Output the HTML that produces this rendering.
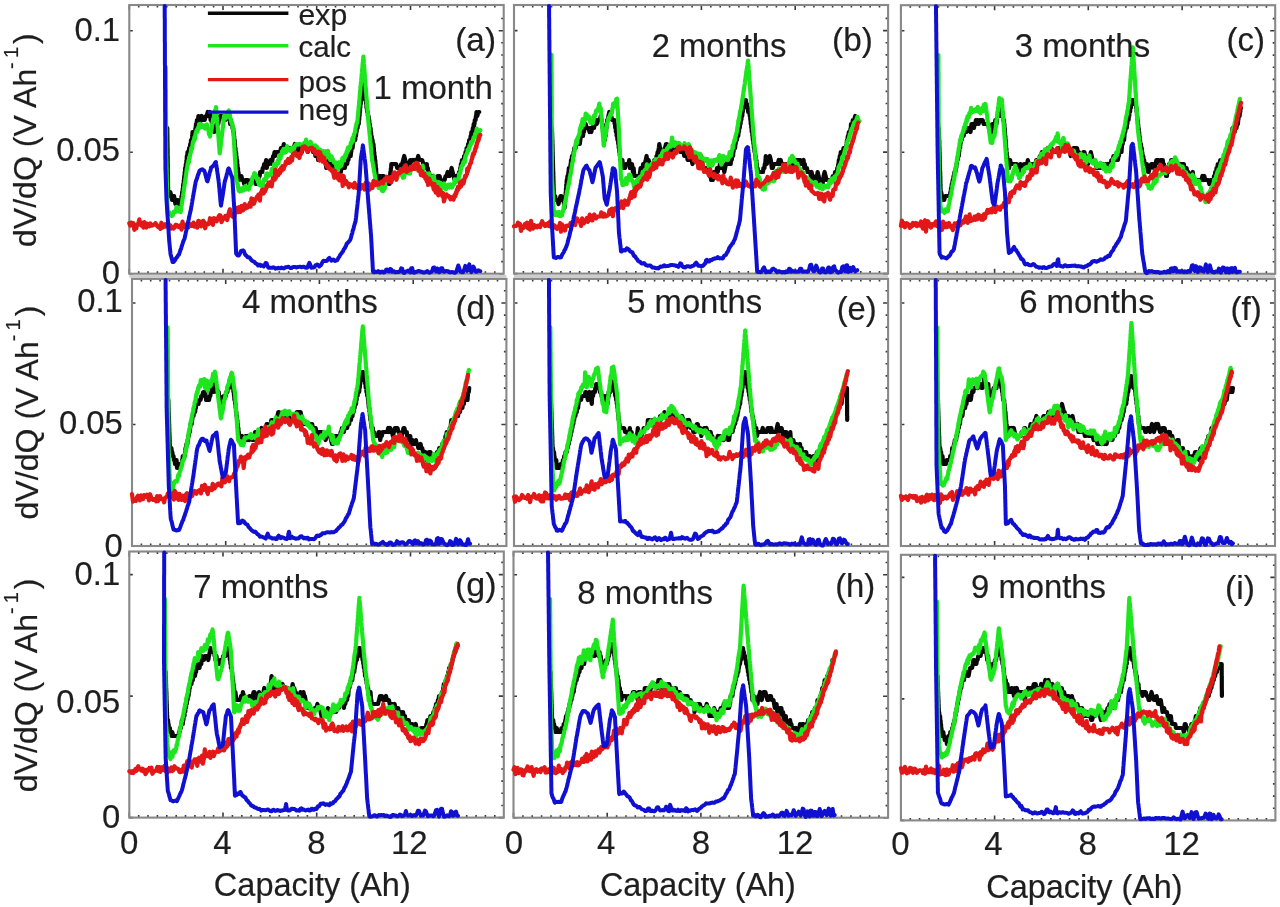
<!DOCTYPE html><html><head><meta charset="utf-8"><style>html,body{margin:0;padding:0;background:#fff;}svg{display:block;filter:blur(0.7px);} text{font-family:"Liberation Sans",sans-serif;stroke:#1e1e1e;stroke-width:0.2px;}</style></head><body><svg width="1280" height="907" viewBox="0 0 1280 907"><rect width="1280" height="907" fill="#ffffff"/>
<rect x="129.3" y="275.1" width="377.1" height="2.6" fill="#cbcbcb"/>
<rect x="514.0" y="275.1" width="374.1" height="2.6" fill="#cbcbcb"/>
<rect x="900.9" y="275.1" width="374.3" height="2.6" fill="#cbcbcb"/>
<path d="M129.3 273.7v-5M129.3 5.0v5M138.7 273.7v-2.5M138.7 5.0v2.5M148.0 273.7v-2.5M148.0 5.0v2.5M157.4 273.7v-2.5M157.4 5.0v2.5M166.8 273.7v-2.5M166.8 5.0v2.5M176.2 273.7v-2.5M176.2 5.0v2.5M185.5 273.7v-2.5M185.5 5.0v2.5M194.9 273.7v-2.5M194.9 5.0v2.5M204.3 273.7v-2.5M204.3 5.0v2.5M213.6 273.7v-2.5M213.6 5.0v2.5M223.0 273.7v-5M223.0 5.0v5M232.4 273.7v-2.5M232.4 5.0v2.5M241.8 273.7v-2.5M241.8 5.0v2.5M251.1 273.7v-2.5M251.1 5.0v2.5M260.5 273.7v-2.5M260.5 5.0v2.5M269.9 273.7v-2.5M269.9 5.0v2.5M279.3 273.7v-2.5M279.3 5.0v2.5M288.6 273.7v-2.5M288.6 5.0v2.5M298.0 273.7v-2.5M298.0 5.0v2.5M307.4 273.7v-2.5M307.4 5.0v2.5M316.7 273.7v-5M316.7 5.0v5M326.1 273.7v-2.5M326.1 5.0v2.5M335.5 273.7v-2.5M335.5 5.0v2.5M344.9 273.7v-2.5M344.9 5.0v2.5M354.2 273.7v-2.5M354.2 5.0v2.5M363.6 273.7v-2.5M363.6 5.0v2.5M373.0 273.7v-2.5M373.0 5.0v2.5M382.3 273.7v-2.5M382.3 5.0v2.5M391.7 273.7v-2.5M391.7 5.0v2.5M401.1 273.7v-2.5M401.1 5.0v2.5M410.5 273.7v-5M410.5 5.0v5M419.8 273.7v-2.5M419.8 5.0v2.5M429.2 273.7v-2.5M429.2 5.0v2.5M438.6 273.7v-2.5M438.6 5.0v2.5M447.9 273.7v-2.5M447.9 5.0v2.5M457.3 273.7v-2.5M457.3 5.0v2.5M466.7 273.7v-2.5M466.7 5.0v2.5M476.1 273.7v-2.5M476.1 5.0v2.5M485.4 273.7v-2.5M485.4 5.0v2.5M494.8 273.7v-2.5M494.8 5.0v2.5M129.3 273.7h3.5M503.7 273.7h-5M503.7 261.6h-2.5M503.7 249.4h-2.5M503.7 237.2h-2.5M503.7 225.1h-2.5M503.7 212.9h-2.5M503.7 200.8h-2.5M503.7 188.6h-2.5M503.7 176.5h-2.5M503.7 164.3h-2.5M129.3 152.2h3.5M503.7 152.2h-5M503.7 140.1h-2.5M503.7 127.9h-2.5M503.7 115.8h-2.5M503.7 103.6h-2.5M503.7 91.4h-2.5M503.7 79.3h-2.5M503.7 67.1h-2.5M503.7 55.0h-2.5M503.7 42.8h-2.5M129.3 30.7h3.5M503.7 30.7h-5M503.7 18.5h-2.5" stroke="#3a3a3a" stroke-width="1.6" fill="none"/>
<rect x="129.3" y="5.0" width="374.4" height="268.7" fill="none" stroke="#888888" stroke-width="2.1"/>
<path d="M514.0 273.6v-5M514.0 5.0v5M523.4 273.6v-2.5M523.4 5.0v2.5M532.7 273.6v-2.5M532.7 5.0v2.5M542.1 273.6v-2.5M542.1 5.0v2.5M551.5 273.6v-2.5M551.5 5.0v2.5M560.9 273.6v-2.5M560.9 5.0v2.5M570.2 273.6v-2.5M570.2 5.0v2.5M579.6 273.6v-2.5M579.6 5.0v2.5M589.0 273.6v-2.5M589.0 5.0v2.5M598.3 273.6v-2.5M598.3 5.0v2.5M607.7 273.6v-5M607.7 5.0v5M617.1 273.6v-2.5M617.1 5.0v2.5M626.5 273.6v-2.5M626.5 5.0v2.5M635.8 273.6v-2.5M635.8 5.0v2.5M645.2 273.6v-2.5M645.2 5.0v2.5M654.6 273.6v-2.5M654.6 5.0v2.5M664.0 273.6v-2.5M664.0 5.0v2.5M673.3 273.6v-2.5M673.3 5.0v2.5M682.7 273.6v-2.5M682.7 5.0v2.5M692.1 273.6v-2.5M692.1 5.0v2.5M701.4 273.6v-5M701.4 5.0v5M710.8 273.6v-2.5M710.8 5.0v2.5M720.2 273.6v-2.5M720.2 5.0v2.5M729.6 273.6v-2.5M729.6 5.0v2.5M738.9 273.6v-2.5M738.9 5.0v2.5M748.3 273.6v-2.5M748.3 5.0v2.5M757.7 273.6v-2.5M757.7 5.0v2.5M767.0 273.6v-2.5M767.0 5.0v2.5M776.4 273.6v-2.5M776.4 5.0v2.5M785.8 273.6v-2.5M785.8 5.0v2.5M795.2 273.6v-5M795.2 5.0v5M804.5 273.6v-2.5M804.5 5.0v2.5M813.9 273.6v-2.5M813.9 5.0v2.5M823.3 273.6v-2.5M823.3 5.0v2.5M832.6 273.6v-2.5M832.6 5.0v2.5M842.0 273.6v-2.5M842.0 5.0v2.5M851.4 273.6v-2.5M851.4 5.0v2.5M860.8 273.6v-2.5M860.8 5.0v2.5M870.1 273.6v-2.5M870.1 5.0v2.5M879.5 273.6v-2.5M879.5 5.0v2.5M514.0 273.6h3.5M888.1 273.6h-5M888.1 261.5h-2.5M888.1 249.3h-2.5M888.1 237.2h-2.5M888.1 225.0h-2.5M888.1 212.9h-2.5M888.1 200.7h-2.5M888.1 188.6h-2.5M888.1 176.4h-2.5M888.1 164.3h-2.5M514.0 152.1h3.5M888.1 152.1h-5M888.1 140.0h-2.5M888.1 127.8h-2.5M888.1 115.7h-2.5M888.1 103.5h-2.5M888.1 91.4h-2.5M888.1 79.2h-2.5M888.1 67.1h-2.5M888.1 54.9h-2.5M888.1 42.8h-2.5M514.0 30.6h3.5M888.1 30.6h-5M888.1 18.4h-2.5" stroke="#3a3a3a" stroke-width="1.6" fill="none"/>
<rect x="514.0" y="5.0" width="374.1" height="268.6" fill="none" stroke="#888888" stroke-width="2.1"/>
<path d="M900.9 273.8v-5M900.9 5.2v5M910.3 273.8v-2.5M910.3 5.2v2.5M919.6 273.8v-2.5M919.6 5.2v2.5M929.0 273.8v-2.5M929.0 5.2v2.5M938.4 273.8v-2.5M938.4 5.2v2.5M947.8 273.8v-2.5M947.8 5.2v2.5M957.1 273.8v-2.5M957.1 5.2v2.5M966.5 273.8v-2.5M966.5 5.2v2.5M975.9 273.8v-2.5M975.9 5.2v2.5M985.2 273.8v-2.5M985.2 5.2v2.5M994.6 273.8v-5M994.6 5.2v5M1004.0 273.8v-2.5M1004.0 5.2v2.5M1013.4 273.8v-2.5M1013.4 5.2v2.5M1022.7 273.8v-2.5M1022.7 5.2v2.5M1032.1 273.8v-2.5M1032.1 5.2v2.5M1041.5 273.8v-2.5M1041.5 5.2v2.5M1050.9 273.8v-2.5M1050.9 5.2v2.5M1060.2 273.8v-2.5M1060.2 5.2v2.5M1069.6 273.8v-2.5M1069.6 5.2v2.5M1079.0 273.8v-2.5M1079.0 5.2v2.5M1088.3 273.8v-5M1088.3 5.2v5M1097.7 273.8v-2.5M1097.7 5.2v2.5M1107.1 273.8v-2.5M1107.1 5.2v2.5M1116.5 273.8v-2.5M1116.5 5.2v2.5M1125.8 273.8v-2.5M1125.8 5.2v2.5M1135.2 273.8v-2.5M1135.2 5.2v2.5M1144.6 273.8v-2.5M1144.6 5.2v2.5M1153.9 273.8v-2.5M1153.9 5.2v2.5M1163.3 273.8v-2.5M1163.3 5.2v2.5M1172.7 273.8v-2.5M1172.7 5.2v2.5M1182.1 273.8v-5M1182.1 5.2v5M1191.4 273.8v-2.5M1191.4 5.2v2.5M1200.8 273.8v-2.5M1200.8 5.2v2.5M1210.2 273.8v-2.5M1210.2 5.2v2.5M1219.5 273.8v-2.5M1219.5 5.2v2.5M1228.9 273.8v-2.5M1228.9 5.2v2.5M1238.3 273.8v-2.5M1238.3 5.2v2.5M1247.7 273.8v-2.5M1247.7 5.2v2.5M1257.0 273.8v-2.5M1257.0 5.2v2.5M1266.4 273.8v-2.5M1266.4 5.2v2.5M900.9 273.8h3.5M1275.2 273.8h-5M1275.2 261.7h-2.5M1275.2 249.5h-2.5M1275.2 237.4h-2.5M1275.2 225.2h-2.5M1275.2 213.1h-2.5M1275.2 200.9h-2.5M1275.2 188.8h-2.5M1275.2 176.6h-2.5M1275.2 164.5h-2.5M900.9 152.3h3.5M1275.2 152.3h-5M1275.2 140.2h-2.5M1275.2 128.0h-2.5M1275.2 115.9h-2.5M1275.2 103.7h-2.5M1275.2 91.6h-2.5M1275.2 79.4h-2.5M1275.2 67.2h-2.5M1275.2 55.1h-2.5M1275.2 42.9h-2.5M900.9 30.8h3.5M1275.2 30.8h-5M1275.2 18.6h-2.5" stroke="#3a3a3a" stroke-width="1.6" fill="none"/>
<rect x="900.9" y="5.2" width="374.3" height="268.6" fill="none" stroke="#888888" stroke-width="2.1"/>
<path d="M132.0 546.0v-5M132.0 278.9v5M141.4 546.0v-2.5M141.4 278.9v2.5M150.7 546.0v-2.5M150.7 278.9v2.5M160.1 546.0v-2.5M160.1 278.9v2.5M169.5 546.0v-2.5M169.5 278.9v2.5M178.9 546.0v-2.5M178.9 278.9v2.5M188.2 546.0v-2.5M188.2 278.9v2.5M197.6 546.0v-2.5M197.6 278.9v2.5M207.0 546.0v-2.5M207.0 278.9v2.5M216.3 546.0v-2.5M216.3 278.9v2.5M225.7 546.0v-5M225.7 278.9v5M235.1 546.0v-2.5M235.1 278.9v2.5M244.5 546.0v-2.5M244.5 278.9v2.5M253.8 546.0v-2.5M253.8 278.9v2.5M263.2 546.0v-2.5M263.2 278.9v2.5M272.6 546.0v-2.5M272.6 278.9v2.5M282.0 546.0v-2.5M282.0 278.9v2.5M291.3 546.0v-2.5M291.3 278.9v2.5M300.7 546.0v-2.5M300.7 278.9v2.5M310.1 546.0v-2.5M310.1 278.9v2.5M319.4 546.0v-5M319.4 278.9v5M328.8 546.0v-2.5M328.8 278.9v2.5M338.2 546.0v-2.5M338.2 278.9v2.5M347.6 546.0v-2.5M347.6 278.9v2.5M356.9 546.0v-2.5M356.9 278.9v2.5M366.3 546.0v-2.5M366.3 278.9v2.5M375.7 546.0v-2.5M375.7 278.9v2.5M385.0 546.0v-2.5M385.0 278.9v2.5M394.4 546.0v-2.5M394.4 278.9v2.5M403.8 546.0v-2.5M403.8 278.9v2.5M413.2 546.0v-5M413.2 278.9v5M422.5 546.0v-2.5M422.5 278.9v2.5M431.9 546.0v-2.5M431.9 278.9v2.5M441.3 546.0v-2.5M441.3 278.9v2.5M450.6 546.0v-2.5M450.6 278.9v2.5M460.0 546.0v-2.5M460.0 278.9v2.5M469.4 546.0v-2.5M469.4 278.9v2.5M478.8 546.0v-2.5M478.8 278.9v2.5M488.1 546.0v-2.5M488.1 278.9v2.5M497.5 546.0v-2.5M497.5 278.9v2.5M132.0 546.0h3.5M506.4 546.0h-5M506.4 533.9h-2.5M506.4 521.7h-2.5M506.4 509.6h-2.5M506.4 497.4h-2.5M506.4 485.2h-2.5M506.4 473.1h-2.5M506.4 460.9h-2.5M506.4 448.8h-2.5M506.4 436.6h-2.5M132.0 424.5h3.5M506.4 424.5h-5M506.4 412.4h-2.5M506.4 400.2h-2.5M506.4 388.1h-2.5M506.4 375.9h-2.5M506.4 363.8h-2.5M506.4 351.6h-2.5M506.4 339.4h-2.5M506.4 327.3h-2.5M506.4 315.1h-2.5M132.0 303.0h3.5M506.4 303.0h-5M506.4 290.8h-2.5" stroke="#3a3a3a" stroke-width="1.6" fill="none"/>
<rect x="132.0" y="278.9" width="374.4" height="267.1" fill="none" stroke="#888888" stroke-width="2.1"/>
<path d="M514.0 546.0v-5M514.0 278.9v5M523.4 546.0v-2.5M523.4 278.9v2.5M532.7 546.0v-2.5M532.7 278.9v2.5M542.1 546.0v-2.5M542.1 278.9v2.5M551.5 546.0v-2.5M551.5 278.9v2.5M560.9 546.0v-2.5M560.9 278.9v2.5M570.2 546.0v-2.5M570.2 278.9v2.5M579.6 546.0v-2.5M579.6 278.9v2.5M589.0 546.0v-2.5M589.0 278.9v2.5M598.3 546.0v-2.5M598.3 278.9v2.5M607.7 546.0v-5M607.7 278.9v5M617.1 546.0v-2.5M617.1 278.9v2.5M626.5 546.0v-2.5M626.5 278.9v2.5M635.8 546.0v-2.5M635.8 278.9v2.5M645.2 546.0v-2.5M645.2 278.9v2.5M654.6 546.0v-2.5M654.6 278.9v2.5M664.0 546.0v-2.5M664.0 278.9v2.5M673.3 546.0v-2.5M673.3 278.9v2.5M682.7 546.0v-2.5M682.7 278.9v2.5M692.1 546.0v-2.5M692.1 278.9v2.5M701.4 546.0v-5M701.4 278.9v5M710.8 546.0v-2.5M710.8 278.9v2.5M720.2 546.0v-2.5M720.2 278.9v2.5M729.6 546.0v-2.5M729.6 278.9v2.5M738.9 546.0v-2.5M738.9 278.9v2.5M748.3 546.0v-2.5M748.3 278.9v2.5M757.7 546.0v-2.5M757.7 278.9v2.5M767.0 546.0v-2.5M767.0 278.9v2.5M776.4 546.0v-2.5M776.4 278.9v2.5M785.8 546.0v-2.5M785.8 278.9v2.5M795.2 546.0v-5M795.2 278.9v5M804.5 546.0v-2.5M804.5 278.9v2.5M813.9 546.0v-2.5M813.9 278.9v2.5M823.3 546.0v-2.5M823.3 278.9v2.5M832.6 546.0v-2.5M832.6 278.9v2.5M842.0 546.0v-2.5M842.0 278.9v2.5M851.4 546.0v-2.5M851.4 278.9v2.5M860.8 546.0v-2.5M860.8 278.9v2.5M870.1 546.0v-2.5M870.1 278.9v2.5M879.5 546.0v-2.5M879.5 278.9v2.5M514.0 546.0h3.5M888.1 546.0h-5M888.1 533.9h-2.5M888.1 521.7h-2.5M888.1 509.6h-2.5M888.1 497.4h-2.5M888.1 485.2h-2.5M888.1 473.1h-2.5M888.1 460.9h-2.5M888.1 448.8h-2.5M888.1 436.6h-2.5M514.0 424.5h3.5M888.1 424.5h-5M888.1 412.4h-2.5M888.1 400.2h-2.5M888.1 388.1h-2.5M888.1 375.9h-2.5M888.1 363.8h-2.5M888.1 351.6h-2.5M888.1 339.4h-2.5M888.1 327.3h-2.5M888.1 315.1h-2.5M514.0 303.0h3.5M888.1 303.0h-5M888.1 290.8h-2.5" stroke="#3a3a3a" stroke-width="1.6" fill="none"/>
<rect x="514.0" y="278.9" width="374.1" height="267.1" fill="none" stroke="#888888" stroke-width="2.1"/>
<path d="M900.9 546.0v-5M900.9 278.9v5M910.3 546.0v-2.5M910.3 278.9v2.5M919.6 546.0v-2.5M919.6 278.9v2.5M929.0 546.0v-2.5M929.0 278.9v2.5M938.4 546.0v-2.5M938.4 278.9v2.5M947.8 546.0v-2.5M947.8 278.9v2.5M957.1 546.0v-2.5M957.1 278.9v2.5M966.5 546.0v-2.5M966.5 278.9v2.5M975.9 546.0v-2.5M975.9 278.9v2.5M985.2 546.0v-2.5M985.2 278.9v2.5M994.6 546.0v-5M994.6 278.9v5M1004.0 546.0v-2.5M1004.0 278.9v2.5M1013.4 546.0v-2.5M1013.4 278.9v2.5M1022.7 546.0v-2.5M1022.7 278.9v2.5M1032.1 546.0v-2.5M1032.1 278.9v2.5M1041.5 546.0v-2.5M1041.5 278.9v2.5M1050.9 546.0v-2.5M1050.9 278.9v2.5M1060.2 546.0v-2.5M1060.2 278.9v2.5M1069.6 546.0v-2.5M1069.6 278.9v2.5M1079.0 546.0v-2.5M1079.0 278.9v2.5M1088.3 546.0v-5M1088.3 278.9v5M1097.7 546.0v-2.5M1097.7 278.9v2.5M1107.1 546.0v-2.5M1107.1 278.9v2.5M1116.5 546.0v-2.5M1116.5 278.9v2.5M1125.8 546.0v-2.5M1125.8 278.9v2.5M1135.2 546.0v-2.5M1135.2 278.9v2.5M1144.6 546.0v-2.5M1144.6 278.9v2.5M1153.9 546.0v-2.5M1153.9 278.9v2.5M1163.3 546.0v-2.5M1163.3 278.9v2.5M1172.7 546.0v-2.5M1172.7 278.9v2.5M1182.1 546.0v-5M1182.1 278.9v5M1191.4 546.0v-2.5M1191.4 278.9v2.5M1200.8 546.0v-2.5M1200.8 278.9v2.5M1210.2 546.0v-2.5M1210.2 278.9v2.5M1219.5 546.0v-2.5M1219.5 278.9v2.5M1228.9 546.0v-2.5M1228.9 278.9v2.5M1238.3 546.0v-2.5M1238.3 278.9v2.5M1247.7 546.0v-2.5M1247.7 278.9v2.5M1257.0 546.0v-2.5M1257.0 278.9v2.5M1266.4 546.0v-2.5M1266.4 278.9v2.5M900.9 546.0h3.5M1275.0 546.0h-5M1275.0 533.9h-2.5M1275.0 521.7h-2.5M1275.0 509.6h-2.5M1275.0 497.4h-2.5M1275.0 485.2h-2.5M1275.0 473.1h-2.5M1275.0 460.9h-2.5M1275.0 448.8h-2.5M1275.0 436.6h-2.5M900.9 424.5h3.5M1275.0 424.5h-5M1275.0 412.4h-2.5M1275.0 400.2h-2.5M1275.0 388.1h-2.5M1275.0 375.9h-2.5M1275.0 363.8h-2.5M1275.0 351.6h-2.5M1275.0 339.4h-2.5M1275.0 327.3h-2.5M1275.0 315.1h-2.5M900.9 303.0h3.5M1275.0 303.0h-5M1275.0 290.8h-2.5" stroke="#3a3a3a" stroke-width="1.6" fill="none"/>
<rect x="900.9" y="278.9" width="374.1" height="267.1" fill="none" stroke="#888888" stroke-width="2.1"/>
<path d="M129.3 817.6v-5M129.3 551.5v5M138.7 817.6v-2.5M138.7 551.5v2.5M148.0 817.6v-2.5M148.0 551.5v2.5M157.4 817.6v-2.5M157.4 551.5v2.5M166.8 817.6v-2.5M166.8 551.5v2.5M176.2 817.6v-2.5M176.2 551.5v2.5M185.5 817.6v-2.5M185.5 551.5v2.5M194.9 817.6v-2.5M194.9 551.5v2.5M204.3 817.6v-2.5M204.3 551.5v2.5M213.6 817.6v-2.5M213.6 551.5v2.5M223.0 817.6v-5M223.0 551.5v5M232.4 817.6v-2.5M232.4 551.5v2.5M241.8 817.6v-2.5M241.8 551.5v2.5M251.1 817.6v-2.5M251.1 551.5v2.5M260.5 817.6v-2.5M260.5 551.5v2.5M269.9 817.6v-2.5M269.9 551.5v2.5M279.3 817.6v-2.5M279.3 551.5v2.5M288.6 817.6v-2.5M288.6 551.5v2.5M298.0 817.6v-2.5M298.0 551.5v2.5M307.4 817.6v-2.5M307.4 551.5v2.5M316.7 817.6v-5M316.7 551.5v5M326.1 817.6v-2.5M326.1 551.5v2.5M335.5 817.6v-2.5M335.5 551.5v2.5M344.9 817.6v-2.5M344.9 551.5v2.5M354.2 817.6v-2.5M354.2 551.5v2.5M363.6 817.6v-2.5M363.6 551.5v2.5M373.0 817.6v-2.5M373.0 551.5v2.5M382.3 817.6v-2.5M382.3 551.5v2.5M391.7 817.6v-2.5M391.7 551.5v2.5M401.1 817.6v-2.5M401.1 551.5v2.5M410.5 817.6v-5M410.5 551.5v5M419.8 817.6v-2.5M419.8 551.5v2.5M429.2 817.6v-2.5M429.2 551.5v2.5M438.6 817.6v-2.5M438.6 551.5v2.5M447.9 817.6v-2.5M447.9 551.5v2.5M457.3 817.6v-2.5M457.3 551.5v2.5M466.7 817.6v-2.5M466.7 551.5v2.5M476.1 817.6v-2.5M476.1 551.5v2.5M485.4 817.6v-2.5M485.4 551.5v2.5M494.8 817.6v-2.5M494.8 551.5v2.5M129.3 817.6h3.5M503.8 817.6h-5M503.8 805.5h-2.5M503.8 793.3h-2.5M503.8 781.1h-2.5M503.8 769.0h-2.5M503.8 756.9h-2.5M503.8 744.7h-2.5M503.8 732.5h-2.5M503.8 720.4h-2.5M503.8 708.2h-2.5M129.3 696.1h3.5M503.8 696.1h-5M503.8 684.0h-2.5M503.8 671.8h-2.5M503.8 659.7h-2.5M503.8 647.5h-2.5M503.8 635.4h-2.5M503.8 623.2h-2.5M503.8 611.0h-2.5M503.8 598.9h-2.5M503.8 586.8h-2.5M129.3 574.6h3.5M503.8 574.6h-5M503.8 562.4h-2.5" stroke="#3a3a3a" stroke-width="1.6" fill="none"/>
<rect x="129.3" y="551.5" width="374.5" height="266.1" fill="none" stroke="#888888" stroke-width="2.1"/>
<path d="M513.5 817.7v-5M513.5 551.6v5M522.9 817.7v-2.5M522.9 551.6v2.5M532.2 817.7v-2.5M532.2 551.6v2.5M541.6 817.7v-2.5M541.6 551.6v2.5M551.0 817.7v-2.5M551.0 551.6v2.5M560.4 817.7v-2.5M560.4 551.6v2.5M569.7 817.7v-2.5M569.7 551.6v2.5M579.1 817.7v-2.5M579.1 551.6v2.5M588.5 817.7v-2.5M588.5 551.6v2.5M597.8 817.7v-2.5M597.8 551.6v2.5M607.2 817.7v-5M607.2 551.6v5M616.6 817.7v-2.5M616.6 551.6v2.5M626.0 817.7v-2.5M626.0 551.6v2.5M635.3 817.7v-2.5M635.3 551.6v2.5M644.7 817.7v-2.5M644.7 551.6v2.5M654.1 817.7v-2.5M654.1 551.6v2.5M663.5 817.7v-2.5M663.5 551.6v2.5M672.8 817.7v-2.5M672.8 551.6v2.5M682.2 817.7v-2.5M682.2 551.6v2.5M691.6 817.7v-2.5M691.6 551.6v2.5M700.9 817.7v-5M700.9 551.6v5M710.3 817.7v-2.5M710.3 551.6v2.5M719.7 817.7v-2.5M719.7 551.6v2.5M729.1 817.7v-2.5M729.1 551.6v2.5M738.4 817.7v-2.5M738.4 551.6v2.5M747.8 817.7v-2.5M747.8 551.6v2.5M757.2 817.7v-2.5M757.2 551.6v2.5M766.5 817.7v-2.5M766.5 551.6v2.5M775.9 817.7v-2.5M775.9 551.6v2.5M785.3 817.7v-2.5M785.3 551.6v2.5M794.7 817.7v-5M794.7 551.6v5M804.0 817.7v-2.5M804.0 551.6v2.5M813.4 817.7v-2.5M813.4 551.6v2.5M822.8 817.7v-2.5M822.8 551.6v2.5M832.1 817.7v-2.5M832.1 551.6v2.5M841.5 817.7v-2.5M841.5 551.6v2.5M850.9 817.7v-2.5M850.9 551.6v2.5M860.3 817.7v-2.5M860.3 551.6v2.5M869.6 817.7v-2.5M869.6 551.6v2.5M879.0 817.7v-2.5M879.0 551.6v2.5M513.5 817.7h3.5M888.1 817.7h-5M888.1 805.6h-2.5M888.1 793.4h-2.5M888.1 781.2h-2.5M888.1 769.1h-2.5M888.1 757.0h-2.5M888.1 744.8h-2.5M888.1 732.7h-2.5M888.1 720.5h-2.5M888.1 708.4h-2.5M513.5 696.2h3.5M888.1 696.2h-5M888.1 684.1h-2.5M888.1 671.9h-2.5M888.1 659.8h-2.5M888.1 647.6h-2.5M888.1 635.5h-2.5M888.1 623.3h-2.5M888.1 611.2h-2.5M888.1 599.0h-2.5M888.1 586.9h-2.5M513.5 574.7h3.5M888.1 574.7h-5M888.1 562.5h-2.5" stroke="#3a3a3a" stroke-width="1.6" fill="none"/>
<rect x="513.5" y="551.6" width="374.6" height="266.1" fill="none" stroke="#888888" stroke-width="2.1"/>
<path d="M900.9 820.4v-5M900.9 554.8v5M910.3 820.4v-2.5M910.3 554.8v2.5M919.6 820.4v-2.5M919.6 554.8v2.5M929.0 820.4v-2.5M929.0 554.8v2.5M938.4 820.4v-2.5M938.4 554.8v2.5M947.8 820.4v-2.5M947.8 554.8v2.5M957.1 820.4v-2.5M957.1 554.8v2.5M966.5 820.4v-2.5M966.5 554.8v2.5M975.9 820.4v-2.5M975.9 554.8v2.5M985.2 820.4v-2.5M985.2 554.8v2.5M994.6 820.4v-5M994.6 554.8v5M1004.0 820.4v-2.5M1004.0 554.8v2.5M1013.4 820.4v-2.5M1013.4 554.8v2.5M1022.7 820.4v-2.5M1022.7 554.8v2.5M1032.1 820.4v-2.5M1032.1 554.8v2.5M1041.5 820.4v-2.5M1041.5 554.8v2.5M1050.9 820.4v-2.5M1050.9 554.8v2.5M1060.2 820.4v-2.5M1060.2 554.8v2.5M1069.6 820.4v-2.5M1069.6 554.8v2.5M1079.0 820.4v-2.5M1079.0 554.8v2.5M1088.3 820.4v-5M1088.3 554.8v5M1097.7 820.4v-2.5M1097.7 554.8v2.5M1107.1 820.4v-2.5M1107.1 554.8v2.5M1116.5 820.4v-2.5M1116.5 554.8v2.5M1125.8 820.4v-2.5M1125.8 554.8v2.5M1135.2 820.4v-2.5M1135.2 554.8v2.5M1144.6 820.4v-2.5M1144.6 554.8v2.5M1153.9 820.4v-2.5M1153.9 554.8v2.5M1163.3 820.4v-2.5M1163.3 554.8v2.5M1172.7 820.4v-2.5M1172.7 554.8v2.5M1182.1 820.4v-5M1182.1 554.8v5M1191.4 820.4v-2.5M1191.4 554.8v2.5M1200.8 820.4v-2.5M1200.8 554.8v2.5M1210.2 820.4v-2.5M1210.2 554.8v2.5M1219.5 820.4v-2.5M1219.5 554.8v2.5M1228.9 820.4v-2.5M1228.9 554.8v2.5M1238.3 820.4v-2.5M1238.3 554.8v2.5M1247.7 820.4v-2.5M1247.7 554.8v2.5M1257.0 820.4v-2.5M1257.0 554.8v2.5M1266.4 820.4v-2.5M1266.4 554.8v2.5M900.9 820.4h3.5M1275.4 820.4h-5M1275.4 808.2h-2.5M1275.4 796.1h-2.5M1275.4 783.9h-2.5M1275.4 771.8h-2.5M1275.4 759.6h-2.5M1275.4 747.5h-2.5M1275.4 735.3h-2.5M1275.4 723.2h-2.5M1275.4 711.0h-2.5M900.9 698.9h3.5M1275.4 698.9h-5M1275.4 686.8h-2.5M1275.4 674.6h-2.5M1275.4 662.5h-2.5M1275.4 650.3h-2.5M1275.4 638.1h-2.5M1275.4 626.0h-2.5M1275.4 613.8h-2.5M1275.4 601.7h-2.5M1275.4 589.5h-2.5M900.9 577.4h3.5M1275.4 577.4h-5M1275.4 565.2h-2.5" stroke="#3a3a3a" stroke-width="1.6" fill="none"/>
<rect x="900.9" y="554.8" width="374.5" height="265.6" fill="none" stroke="#888888" stroke-width="2.1"/>
<path d="M167.3 128l0 4 .1 4 0 4 .1 4 0 4 .1 0 0 4 0 4 .1 0 0 4 0 4 .1 0 0 4 0 4 .1 0 0 4 .1 4 0 4 .1 4 0 4 .1 0 0 4 .1 0 1 -4 1 0 1 4 .7 4 .7 -4 .7 4 .7 -4 .6 4 .7 4 .7 -4 1 0 .9 0 1 4 1 0 1 0 .2 -4 .1 0 .2 -4 .1 0 .1 0 .2 0 .1 0 .1 -4 .2 0 .1 0 .1 0 .1 0 .2 -4 .1 0 .1 0 .2 -4 .1 0 .1 0 .2 0 .1 0 .1 -4 .2 0 .1 0 .1 -4 .1 0 .2 0 .1 0 .1 -4 .2 0 .1 0 .1 -4 .2 4 .1 -4 .1 0 .2 0 .1 -4 .1 0 .1 0 .2 0 .1 0 .1 -4 .2 0 .1 0 .1 -4 .2 0 .3 0 .2 -4 .3 0 .2 0 .3 0 .3 0 .2 0 .3 -4 .3 0 .2 0 .3 0 .3 -4 .2 0 .3 0 .3 -4 .2 0 .3 0 .3 0 .2 0 .3 -4 .2 -4 .3 4 .3 0 .3 0 .3 -4 .3 0 .3 0 .3 0 .3 0 .3 0 .2 -4 .3 0 .3 -4 .3 0 .3 0 .3 -4 .3 0 .3 0 .3 0 .3 0 .3 -4 .3 0 1 8 1 -4 1 -4 1 4 1 0 1 0 1 -4 1 0 1 -4 1 4 1 -4 .6 4 .3 4 .3 0 .2 0 .3 -4 .3 4 .3 4 .3 0 .2 0 .3 4 .3 0 .3 0 .3 0 .3 0 .3 4 .5 -4 .5 0 .5 0 .5 0 .5 -4 .5 0 .5 0 .5 0 .6 -4 .5 0 .5 -4 .9 0 .9 0 .9 0 .9 0 .9 4 .9 0 .9 -4 .9 0 .8 0 .3 0 .4 0 .4 0 .4 4 .4 0 .3 4 .4 0 .4 -4 .4 4 .4 0 .4 0 .3 4 .4 0 .4 0 .2 4 .1 0 .1 0 .2 0 .1 4 .1 0 .1 0 .1 0 .1 4 .1 0 .1 0 .2 0 .1 4 .1 0 .1 0 .1 4 .1 0 .1 0 .2 0 .1 4 .1 0 .1 0 .1 0 .1 0 .1 0 .2 4 .1 0 .1 0 .1 4 .1 0 .1 0 .1 0 .2 0 .1 4 .1 0 .1 0 .2 4 .1 0 .1 0 .2 0 .1 4 .2 0 .1 0 .1 0 .2 4 .1 0 .2 0 .1 4 .4 -4 .9 0 1 0 .9 4 .9 0 1 4 .9 -4 1 0 1 0 1 0 1 4 1 0 1 -4 1 0 .8 0 .7 0 .7 0 .7 0 .6 4 .5 0 .5 0 .4 0 .5 -4 .4 0 .4 0 .5 -4 .4 0 .5 0 .4 -4 .4 0 .5 0 .4 0 .5 0 .4 0 .4 -4 .5 0 .4 0 .5 -4 .5 0 .8 0 .7 -4 .7 8 .7 -4 .7 0 .7 0 .7 0 .7 -4 .7 0 .7 4 .7 -4 .7 -4 .7 0 .7 -4 .7 4 .7 -4 .8 0 .7 0 .7 0 .7 0 .7 0 .7 0 .7 -4 .7 4 .7 -4 .8 0 .7 -4 1 8 1 -4 1 0 1 0 1 0 1 0 1 0 1 0 1 0 1 0 1 -4 1 4 1 4 1 -4 1 0 1 0 1.1 4 1 0 1 -4 1 0 1 0 1 -4 1 0 1 8 1 -4 1 0 1 0 1 0 .8 0 .4 4 .5 0 .4 -4 .5 4 .4 0 .5 4 .4 0 .5 0 .4 0 .5 0 .4 0 .5 4 .6 -4 .9 0 1 4 .9 0 1 0 .9 0 1 0 .9 0 1 8 .9 -8 1 4 .9 -4 .8 4 .8 4 .7 0 .7 -4 .7 -4 .7 4 .7 0 .7 0 .7 4 .7 4 .7 0 .7 0 .7 0 .7 0 .6 0 .6 0 .6 0 .5 -4 .6 0 .6 0 .6 -4 .6 4 .5 -4 .6 4 .6 -4 .6 0 .5 0 .6 0 .6 -4 .6 0 .5 -4 .3 0 .2 0 .3 0 .2 -4 .3 4 .3 -4 .2 4 .3 -4 .3 0 .2 -4 .3 0 .3 0 .2 0 .3 0 .3 -4 .2 0 .3 -4 .3 0 .2 0 .3 0 .2 0 .3 0 .3 -4 .2 4 .3 -4 .3 0 .2 0 .3 -4 .3 0 .2 -4 .3 0 .3 0 .2 0 .3 -4 .2 0 .3 0 .3 0 .1 0 .1 -4 .1 0 .1 0 .1 0 .1 -4 .1 0 .1 0 .1 0 .1 -4 .1 0 .1 0 .1 0 .1 -4 .1 0 .1 0 .1 -4 .1 0 .1 0 .1 0 .1 0 .1 -4 .1 0 .1 0 .1 -4 .1 0 .1 0 .1 0 .1 0 .1 -4 .1 0 .1 0 .1 0 .2 -4 .1 0 .1 0 .1 -4 .1 0 .1 0 .1 0 .2 0 .2 4 .2 0 .1 0 .2 4 .2 0 .2 0 .1 0 .2 4 .2 0 .2 0 .1 0 .2 4 .2 0 .2 0 .1 0 .2 0 .2 0 .2 4 .2 0 .1 4 .2 0 .2 0 .2 4 .1 0 .2 0 .2 0 .2 0 .1 4 .2 0 .2 0 .1 0 .2 0 .2 4 .1 0 .2 0 .2 0 .1 4 .2 0 .2 0 .1 0 .2 4 .2 0 .1 0 .2 0 .2 4 .1 0 .2 0 .1 4 .2 0 .2 0 .1 0 .2 4 .2 0 .1 0 .2 0 .2 0 .1 4 .2 0 .2 0 .1 0 .2 0 .1 0 .2 4 .2 0 .1 4 .1 0 .1 0 .1 0 .1 4 .1 0 .1 0 .1 0 .1 0 .1 4 .2 0 .1 0 .1 0 .1 4 .1 0 .1 0 .1 0 .1 4 .1 0 .1 0 .1 0 .1 4 .1 0 .1 4 .1 0 .1 0 .1 0 .2 0 .1 0 1 0 .9 4 1 -4 1 4 .9 -4 1 0 1 0 1 4 1 0 1 0 1 0 1 4 .8 0 .2 -8 .1 0 .1 0 .2 0 .1 -4 .2 0 .1 0 .1 0 .2 -4 .1 0 .2 0 .1 -4 .1 0 .8 0 1 0 1 0 1 0 1 0 1 4 1 0 1 0 1 0 1 -4 1 0 1 -4 1 -4 1 4 1 4 1 4 1 -4 1 0 1 -4 1 0 1 4 1 -4 1 4 1 -4 1 4 1 -4 1 -4 1 4 1 0 1 0 1 0 1.1 4 1 4 1 0 .9 -4 .3 0 .3 0 .3 4 .3 0 .4 0 .3 4 .3 0 .3 0 .3 0 .5 4 .8 0 .8 0 .9 0 .8 4 .8 -4 .8 4 .8 0 .8 0 .8 0 .8 -4 1 0 1 0 1 4 1 4 1 0 1 -4 1 0 1 -4 1 0 1 -4 1 4 1 0 1 -4 1 -4 1 4 1 4 1 4 1 0 1 -4 .6 4 .3 0 .2 0 .3 -4 .2 0 .3 0 .2 0 .3 -4 .2 0 .3 0 .2 0 .3 0 .2 -4 .2 0 .3 0 .2 -4 .3 0 .4 0 .4 -4 .3 0 .4 0 .3 4 .4 -4 .4 0 .3 -4 .4 0 .3 0 .4 0 .3 -4 .4 0 .4 0 .3 -4 .4 0 .2 0 .3 0 .3 0 .3 -4 .3 0 .2 0 .3 0 .3 -4 .3 0 .3 0 .2 0 .3 0 .3 -4 .3 0 .2 0 .3 -4 .3 0 .3 0 .3 0 .2 0 .3 -4 .3 0 .3 0 .3 -4 .2 4 .3 -4 .3 0 .3 -4 .3 0 .3 0 .2 0 .3 -4 .3 0 .3 -4 .8 4 1 -4 1 0" stroke="#080808" stroke-width="4.2" fill="none" stroke-linejoin="round" stroke-linecap="round"/>
<path d="M165.7 67.2l0 1 0 1 .1 .9 0 1 0 1.1 0 .9 0 1.1 0 1 0 1 0 1 0 1 0 1 0 1 0 1 0 1 0 1 0 1 0 1 0 1 0 1 0 1 .1 1 0 1 0 1 0 1 0 1 0 1 0 1 0 1 0 1 0 1 0 1 0 1 0 1 0 1 0 1 0 1 0 1 0 1 .1 1 0 1 0 1 0 1 0 1.1 0 .9 0 1 0 1 0 1 0 1.1 0 1 0 1 0 .9 0 1 0 1 0 1 0 1 0 1.1 .1 .9 0 1.1 0 1 0 .9 0 1.1 0 1 0 1 0 1 0 .9 0 1.1 0 1 0 1 0 1 0 1 0 1 0 1 0 1 0 1 .1 1 0 1 0 1 0 1 0 1 0 1 0 1 0 1 0 1 0 1 0 .9 0 1.1 .1 1 0 .9 0 1.1 0 1 .1 1 0 .9 0 1.1 0 .9 0 1.2 .1 1 0 .9 0 1.1 0 1 .1 .9 0 1 0 1 0 1.1 0 .9 .1 1 0 .9 0 1.1 0 1.1 0 .8 .1 1.3 0 .9 0 1.1 0 .9 .1 .9 0 1.1 0 1 0 1 0 1 .1 .9 0 1 0 1 0 .9 .1 1.1 0 1.1 0 1 0 1 0 .9 .1 1.1 0 .9 0 1.1 0 1 0 1 .1 .9 0 1.1 0 1 .1 1.1 0 .7 0 1.1 .1 .9 0 1.4 0 1 .1 .8 0 .9 0 .9 .1 1 0 .9 .3 .1 1 -2.2 .9 1.5 1 .5 1 1.9 .9 -.6 1 -3.6 1 -.4 .9 .6 .8 -5.1 .9 3.9 .8 .7 .8 -.1 .8 -3.7 .9 4.5 .4 -3.5 .2 -.9 .1 -.6 .2 -1.7 .1 -1.2 .2 0 .1 -1.5 .2 -1.5 .1 -.5 .1 -1.2 .2 -.4 .1 -.7 .2 -1.6 .1 -1 .2 -.3 .1 -2 .1 .3 .2 -1.5 .1 -1.6 .2 -.5 .1 -2.2 .2 -.7 .1 .4 .1 -1.7 .2 -1 .1 -2 .2 .2 .1 -.5 .2 -2 .1 -.2 .1 -1.7 .2 -.4 .1 -1.2 .2 -1.3 .1 -.8 .2 -1.7 .1 0 .1 -1.7 .2 -1.1 .1 -1 .2 -1.3 .2 .4 .2 -2.2 .2 -1 .2 -1.8 .3 .7 .2 -.8 .2 -2.9 .3 -.5 .2 2.1 .2 -4.9 .2 .2 .3 .6 .2 -1.5 .2 -1.8 .3 -.8 .2 -.9 .2 -1.2 .2 .4 .3 -3.5 .2 -1 .2 .5 .3 -1.1 .2 1.7 .2 -1.3 .2 -2.3 .3 -2 .3 -1.9 .3 .4 .3 -1.6 .3 .5 .4 -3.6 .3 1.2 .3 .5 .3 -2.5 .3 -2.9 .3 -.9 .4 -.9 .3 -1.1 .3 -.8 .3 .8 .3 1.1 .4 -3.3 .3 -1.1 .3 1.6 .6 -4.9 1 -.1 1 3.2 .9 -.1 1 -1.7 1 .6 1 2.6 .9 -3.6 .6 .1 .4 -.5 .3 .8 .3 3.1 .3 .8 .3 -.8 .3 2 .3 .8 .3 3 .4 -.2 .3 -.4 .3 3 .2 -2.1 .2 -.8 .2 -1.4 .2 -.3 .2 -1.2 .2 .8 .2 -2.7 .2 .2 .2 -1.3 .2 -2.6 .2 -1.3 .2 .1 .2 -.2 .2 -3.2 .2 -.4 .2 -1.3 .2 1.7 .2 -.5 .2 -1.2 .2 -3 .2 1 .2 -1.6 .2 -2.2 .2 -2.3 .2 -.5 .2 0 .2 .6 .2 -1 .2 -.7 .2 -2 .1 .4 .1 1.2 0 1.1 .1 .7 .1 1.4 .1 1 .1 1.2 0 1.1 .1 .9 .1 .9 .1 .7 .1 .4 0 1.4 .1 .2 .1 2 .1 1.2 .1 .7 0 .9 .1 1.2 .1 .8 .1 .8 .1 1.2 .1 1.7 0 .8 .1 .1 .1 2 .1 .4 .1 1.2 0 .5 .1 1.5 .1 .7 .1 1.1 .1 1.2 0 .8 .1 .6 .1 1.4 .1 1.5 .1 .9 0 .7 .1 1.2 .1 1.1 .1 .5 .1 1.4 0 .9 .1 .7 .1 1.6 .1 .2 .1 -2.4 .2 -.7 .1 -.5 .1 -.9 .1 -.4 .1 -1.3 .2 -1.3 .1 -1.1 .1 -1 .1 -1.7 .1 .2 .2 -1.6 .1 -.8 .1 -1 .1 -1.2 .1 -.8 .2 -1.1 .1 -2.1 .1 -1 .1 -.4 .1 -.6 .2 -.9 .1 -.5 .1 -1.8 .1 -.8 .2 -.6 .1 -1.9 .1 0 .1 -1.4 .1 -1.1 .2 -2.4 .1 1.8 .3 -6 .5 -.4 .4 1.1 .5 2.1 .4 -1.8 .5 .6 .4 -2.3 .5 -.5 .4 .3 .5 -.3 .4 -3.9 .3 -.3 .3 .6 .2 2.9 .2 -1.2 .3 1.2 .2 3.6 .2 .1 .3 1.5 .2 -.7 .2 3.1 .3 0 .2 .7 .2 1.1 .3 -1.4 .2 .6 .2 3.5 .3 2.1 .2 -1.2 .2 2.6 .3 -1 .1 1.9 0 1.3 .1 .8 0 1.2 .1 1.4 .1 .5 0 1.2 .1 1.2 0 .6 .1 1 .1 .7 0 1.3 .1 .6 0 1.9 .1 .5 .1 .9 0 1.4 .1 .9 0 .8 .1 .9 0 1.3 .1 1.1 .1 .8 0 1 .1 .9 0 .8 .1 1.5 .1 1.1 0 .7 .1 .9 0 .9 .1 .8 0 1.1 .1 1.2 .1 .7 0 1.1 .1 1.2 0 1.2 .1 .8 .1 .9 0 1.1 .1 .7 0 1.1 .1 1 0 1.5 .1 .6 .1 1.1 0 1.3 .2 .8 .2 .7 .2 .9 .2 1.3 .3 .2 .2 2 .2 .6 .2 -.3 .2 2.6 .3 1 .2 1.9 .2 1 .2 0 .2 -.3 .6 1 .7 -2.7 .7 -.3 .7 2.4 .8 -2.5 .7 2 .7 -3.1 .7 .4 .7 -1.6 .7 3.4 .7 -2.2 .7 .8 .7 0 .6 1.4 .3 -.4 .4 -1.2 .3 -1.8 .3 -1 .3 -2 .4 .6 .3 .7 .3 -1.2 .3 -1 .3 -3.2 .4 -.9 .3 -.7 .3 .1 .3 -1.4 .4 -.3 .3 -.2 .3 -2.6 .3 .9 .4 -.5 .4 1.1 .4 2 .4 -1.1 .4 2.1 .4 1.8 .4 -.8 .4 3.2 .4 -3.2 .4 3.5 .4 2.9 .4 -3.4 .4 3.6 .4 .2 .5 -.7 .6 1.1 .5 -2.3 .6 -.7 .6 2.8 .5 -4.6 .6 -1.5 .5 .2 .6 .5 .6 -.2 .5 -6.1 .6 -.3 .5 3.5 .6 -.8 .6 -1.6 .6 .2 .7 -1.1 .6 -.3 .6 1.6 .6 -5.9 .6 -.4 .7 2.5 .6 -3 .6 -4.2 .6 .2 .7 1.4 .6 1.3 .5 -3.4 .5 .5 .5 -3.2 .4 1.7 .5 .9 .5 -6.1 .5 .3 .5 -2.6 .5 3.6 .5 -3 .5 -.8 .5 -3.4 .5 -.6 .5 2.2 .5 -4.2 .7 .7 1 3.1 .9 -.6 .9 -5.9 .9 2 1 2.1 .9 .5 .9 .2 1 -3.1 .9 .6 .9 1.8 1 -3.3 1 -1.8 .9 -.9 1 .2 1 .2 .9 -.7 1 .5 1 .1 .9 .7 1 .4 1 -2.6 .9 2.4 1 -5.8 1 5 .9 .9 .8 1 .9 .4 .9 -5.2 .9 2.5 .9 1.1 .9 2 .9 1.1 .9 -3.1 .9 3.9 .9 -2.4 .9 2.5 .9 2.4 .8 0 .8 -2 .8 7.2 .9 -.4 .8 -5.5 .8 .9 .9 .1 .8 -.8 .8 6.6 .9 -3 .8 -4 .8 3 .9 2.5 .7 3.7 .7 0 .7 -3.7 .7 3.9 .7 -.4 .7 2.3 .7 .8 .7 -.5 .7 0 .7 5.6 .7 .7 .7 1.8 .8 -8.1 .6 1.8 .5 2.7 .5 -2.6 .5 -2.4 .5 3.9 .5 -2.1 .5 -5.5 .5 .4 .5 -1.1 .5 3.2 .5 -1.8 .5 -1.2 .5 -3.2 .5 1.9 .4 -2.6 .5 -2.3 .5 1.2 .4 -3.8 .4 -1.4 .4 2.8 .4 -2.9 .4 -.2 .4 1 .4 -.4 .4 -1.9 .4 -3 .4 -.8 .4 .9 .4 -1.2 .4 -3.8 .4 3.6 .3 -2.3 .2 -2.7 .2 .7 .3 -.9 .2 -2.3 .2 -.1 .3 -.5 .2 -.5 .2 -.6 .3 -.9 .2 -2.8 .2 -.9 .3 -1 .2 -.3 .2 -1.7 .3 -1.7 .2 .8 .2 -1.1 .3 -1.6 .2 -1 .1 -.2 .1 -2.1 .1 -1.2 .1 -.5 .1 -1.1 .1 -.5 .1 -.2 0 -2.2 .1 -.6 .1 -1.3 .1 -.9 .1 -1.4 .1 -.7 .1 -.8 .1 -.9 .1 -.7 .1 -1.6 .1 -1.6 .1 -.5 0 -1 .1 -1 .1 -.7 .1 -1.3 .1 -.4 .1 -1.2 .1 -1.9 .1 -.5 .1 -1.1 .1 -.8 .1 -.7 .1 -1.1 0 -1.2 .1 -1.5 .1 -.4 .1 -1.3 .1 .1 .1 -1.6 .1 -1.6 .1 -1.1 .1 -.4 .1 -1.6 .1 -.5 .1 -1 0 -.4 .1 -1.1 .1 -.5 .1 -2.3 .1 -.6 .1 -1.4 .1 -.3 .1 -1.7 .1 -.5 .1 -1 .1 -1.8 .1 -.7 .1 -1 0 -1 .1 -.8 .1 -.3 .1 -1.7 .1 -1 .1 -.9 .1 -1.4 .1 -.4 .1 1.2 0 1.2 .1 .6 .1 1.1 .1 1.2 0 1.2 .1 .9 .1 .6 .1 1.3 .1 1.1 0 1.7 .1 .2 .1 .9 .1 1.5 0 .8 .1 .9 .1 .9 .1 1.1 0 1.1 .1 1.1 .1 .8 .1 1.4 .1 0 0 1.3 .1 1.4 .1 .9 .1 1 0 .3 .1 1.7 .1 1.5 .1 .5 .1 1 0 .7 .1 .9 .1 1.1 .1 1.1 0 .8 .1 1.3 .1 1.1 .1 1.6 0 .6 .1 .3 .1 .9 .1 .9 .1 1.7 0 .4 .1 1.5 .1 .8 .1 1.1 0 1.3 .1 0 .1 1.4 .1 1.7 .1 .6 0 1.3 .1 .3 .1 .9 .1 1.7 0 .5 .1 1.3 .1 1.5 .1 .6 0 .5 .1 1.2 .1 1.2 .1 1.3 .1 .2 .1 1.5 .1 .9 .1 1 .1 .9 .1 1.2 .1 .7 .1 1 .1 1.4 .1 .8 .1 1.3 .1 .7 .1 1.1 .1 1 .1 .9 .1 1.3 .1 0 .1 1.5 .1 1.2 .1 .8 .1 1.8 .1 .6 .1 1.5 0 .6 .1 .9 .1 .5 .1 .6 .1 1.6 .1 1.5 .1 .7 .1 1.2 .1 .3 .1 1.2 .1 1 .1 1.8 .1 .3 .2 2.1 .1 .9 .2 .1 .2 .7 .1 .9 .2 1 .2 1.2 .1 1.3 .2 .4 .2 .8 .1 1.3 .2 2.1 .2 .4 .1 .3 .2 1.2 .2 1.3 .2 .7 .1 1.5 .2 .3 .2 1.4 .1 2.1 .2 -.4 .2 1.3 .2 2.2 .6 -.1 .6 -1.2 .6 1.4 .6 4 .6 -2 .6 -.2 .6 2.3 .6 .7 .6 1 .5 1.2 .5 0 .6 .4 .5 -5.2 .5 2.2 .6 .7 .5 -6 .5 -3 .5 1.7 .6 -.6 .5 -1.4 .8 .2 .9 -.7 .9 1.1 1 1.1 .9 -1.4 .9 -1.8 .9 -.2 1 -.6 .9 -.7 .9 -.2 1 1.8 .9 -4.3 .9 -1.3 1 .9 .9 -1.4 .9 3.4 .9 2.3 1 -.3 .9 -4.2 .9 -.1 1 -1.3 .8 .3 .8 .7 .8 -1.1 .8 1.8 .8 -4.6 .8 .2 .8 -1.1 .8 -1.2 .8 -2.6 .8 1.8 .9 1.9 .9 1.3 .9 -3 .9 3.8 .9 .4 .9 -3.8 .9 4.1 .9 -1.2 .8 -4 .7 5.9 .7 1.7 .7 .4 .8 -.5 .7 .6 .7 3.2 .7 2.6 .7 -3.1 .7 -3.1 .8 3.4 .7 2.9 .8 -2.1 .8 5.1 .8 -4 .8 -2.8 .8 7.4 .8 -2 .8 4.4 .8 .2 .8 -3.7 .9 0 .9 1.3 .9 -.4 .9 6.4 .9 -1.4 .9 -1.9 .9 -2.7 .9 4.6 .9 1.3 .9 -4 .9 1.5 .9 -2.2 .9 2.9 .9 -3 .8 1.4 .9 1.6 .9 -2.2 .7 -1.6 .5 .4 .5 -4.8 .5 .3 .5 1.4 .5 0 .5 .8 .6 -2 .5 .3 .5 -1.5 .5 -.9 .4 -4.2 .3 .9 .4 -.7 .4 -.6 .3 -3.6 .4 -.4 .3 -1.4 .4 -1.8 .3 .4 .4 -.5 .3 -.8 .4 -1.7 .3 -1.3 .4 .2 .3 -.6 .4 -1.4 .3 2.3 .4 -4.8 .4 -1.6 .3 -.2 .4 -1.5 .3 0 .4 -1.4 .4 -.8 .3 -2.4 .4 .1 .3 .4 .4 -.3 .3 -2.1 .4 -1.8 .4 -.5 .3 .4 .4 -1 .4 -2.9 .6 1.2 .5 -1.6 .5 .1 .5 -1.9 .5 -2.5 .5 0 .6 -1.2 .5 -2.4 .5 -.7 .5 4.1 .6 -8.7 .7 7.6 .7 -3.8 .7 -1.4 .7 .5 .7 -1.3" stroke="#1ee61e" stroke-width="4.2" fill="none" stroke-linejoin="round" stroke-linecap="round"/>
<path d="M129.3 223.3l1 2.3 1 -3 1 .6 1 -.1 1 6.7 1 -2 1 .5 1 -4.2 1 -.4 1 -4.3 1 5.1 1 1 1.1 -2.8 1 4.9 1 -5.6 1 2.5 1 3 1 -3.8 1 1.7 1 .9 1 -2.8 1 2.2 1 -.3 1 -.9 1 .1 1 -1.5 1 1.2 1 1.9 1 1 1 -1.4 1 3.1 1 -6.2 1 5.1 1 -2.6 1 -.7 1 2.1 1 -2.4 1 1.6 1 -2.3 1.1 4.3 1 -2.4 1 3.1 1 -1.3 1 1.3 1 -.8 1 -2.8 1 -.1 1 1.3 1 1 1 -1.5 1 -.4 1 4.4 1 -8 1 5.9 1 -.7 1 -1.9 1 -.2 1 -.9 .9 3.6 1 -3.7 1 .6 1 1.7 1 -.1 1 -3.3 1 4 .9 -.7 1 -1.9 1 3.7 1 -6.8 1 3.3 1 -2.4 .9 4.6 1 -3 1 -2.6 1 1.4 1 6.1 1 -4.8 .9 .8 1 .1 1 -.7 .9 -5.5 1 4.4 .9 -3.6 1 5.9 1 -6.7 .9 .3 1 .6 .9 2.2 1 -2.5 1 -2.5 .9 -1.2 1 .5 .9 6.5 1 -2.2 1 -2.1 .9 .7 1 -2.7 .9 .2 .9 4.1 .9 -4.1 .9 -4.1 .9 -2.6 .9 4.3 1 2.4 .9 .8 .9 -1.7 .9 .9 .9 -8.4 .9 3.9 .8 0 .9 .8 .8 -5.1 .9 3.4 .8 1.1 .9 -5.9 .9 2.8 .8 1.8 .9 -4.5 .8 -1.8 .9 4.4 .8 -2.8 .8 2 .8 -1.5 .8 -1 .9 -2.2 .8 3.7 .8 -8.3 .8 4.3 .8 -3.6 .9 4.7 .8 -2.1 .7 -2.1 .8 -.8 .7 -2.1 .7 -.5 .8 -1.5 .7 2.1 .8 3.9 .7 -7.4 .8 -1.8 .7 -1.7 .7 -.3 .8 4 .7 -2.7 .6 1 .6 -1.6 .7 -2 .6 -2.5 .6 -.9 .6 1.6 .6 -3.8 .6 2.5 .7 .4 .6 -3.4 .6 .2 .6 4.1 .6 -4.6 .6 -3.8 .7 2.1 .6 -1.3 .6 .8 .5 -9.8 .6 8.3 .6 -4.9 .6 1.3 .6 -.2 .6 1 .6 -2.6 .6 -2.9 .5 3.4 .6 -2.4 .6 -3.2 .6 3.1 .6 -4.5 .6 2.1 .6 .8 .7 -2.6 .8 -1.2 .7 -3.6 .8 1.8 .8 -2.5 .8 -2.1 .8 4 .7 -2.7 .8 1.8 .8 -5.1 .8 3.5 .8 -6.2 .8 -.7 .8 1.3 .8 -2.4 .8 1.8 .8 1.8 .9 -2 .8 0 .8 4 .8 -3.8 .8 -.3 .9 -3.4 .8 -3.5 .9 1.9 .9 -2.6 1 .8 .9 1 1 3.7 1 -.9 .9 -2.2 1 -.8 1 .9 .9 -1.1 1 3.1 1 -1.5 .7 2.1 .7 2.5 .6 -.8 .7 -.2 .6 .5 .7 -1.7 .6 7.1 .7 1.7 .6 -8.1 .7 5.2 .7 -2.1 .6 1.2 .6 5 .6 -2.2 .6 -2 .6 1.8 .6 3.8 .6 1.8 .6 -1.5 .6 3.1 .6 -1.4 .6 2.6 .6 -1.3 .6 1.6 .7 1.4 .7 -.3 .7 1.6 .8 -1.3 .7 1.9 .7 3.4 .7 3.1 .7 -7 .7 3.6 .7 2.2 .8 -.3 .7 2.2 .7 -4.4 .7 6.2 .9 -.7 .8 .7 .9 -5.1 .8 10.8 .9 -10 .9 4.8 .8 2.9 .9 -2.7 .8 3.2 .9 -1 .9 4.2 .9 -3.3 1 1.9 1 -1.1 1 -.4 .9 3 1 -4.6 1 2.7 1 2.2 1 -2.1 .9 .7 1 2.4 1 0 1.1 -3.8 1 .2 1 .2 1 4.1 1 -6.6 1 4.6 1 .5 1 -4.5 1 6.2 .9 -4.8 1 -.3 1 3.4 1 -7.2 .9 3 1 1.2 1 -2.9 1 2.6 .9 -1.5 1 1 .9 -.8 1 -1.7 .9 .3 .9 1.4 1 -3.6 .9 -1 1 1.5 .9 -3.6 .9 1 .9 3.6 .8 .1 .9 -4.3 .9 5.2 .8 -2.8 .9 -3.2 .9 -3.4 .8 -.4 .9 2.7 .8 4.6 .9 -5.1 .9 -1.4 .8 -1.4 .9 1.3 .8 -4.1 .9 2.6 .9 -1.1 .8 -1.6 .9 1.7 .8 -4.6 .9 -.9 .9 6.8 .9 -1.9 1 .4 .9 -.6 1 -3 1 2.8 1 -1.5 .9 -3 1 3.7 .9 -2.7 .8 -3.4 .8 3.9 .8 -3.5 .8 7.5 .8 -4.1 .8 2.8 .8 5.7 .8 -4.4 .8 1.7 .6 3.5 .6 .4 .6 -2.6 .7 3.7 .6 1.7 .6 -2.6 .6 5 .7 -2.8 .6 6.3 .6 -6.5 .6 .1 .7 3 .6 1.4 .6 -.4 .7 2.1 .6 .6 .6 1.3 .7 3 .6 -5.8 .6 5.7 .7 3 .6 -.2 .6 -2.6 .7 -2.7 .7 8.4 .8 -2.6 .8 -3 .8 4.2 .8 -1.6 .8 3.7 .8 -3.1 .8 8.5 .8 -2.8 .8 -4 1 -.3 1 1.9 1 -.4 1 1.1 1 2.3 1 -2 1 1.6 .9 .7 .5 -1.2 .5 -3.2 .5 .1 .5 .8 .5 -3.7 .5 1.1 .5 -3.9 .5 1.4 .5 -4.1 .5 2.4 .6 -1.2 .5 -.9 .5 -4.7 .5 1.9 .5 2.2 .5 -2 .6 -3.9 .5 3.2 .5 -1.3 .5 .8 .5 -2.3 .6 -2.8 .4 -2.4 .3 1.5 .4 -1.3 .3 .2 .4 -1.5 .4 -.5 .3 -5.5 .4 3.5 .3 -1.2 .4 -1.7 .3 -2.1 .4 .8 .4 -1.8 .3 -.7 .4 -1.8 .3 .1 .4 -.8 .3 -.4 .3 -2 .3 -1.5 .4 -.4 .3 -2.7 .3 .9 .3 -2.5 .3 -1.2 .4 .7 .3 .1 .3 -1.7 .3 -1.5 .3 .6 .3 -2.9 .4 .2 .3 -1.4 .3 -1.9 .3 1.7 .3 -3.9 .4 .3 .3 -2.4 .3 -.4 .3 .2 .3 -2 .3 1 .3 -3.6 .3 1.4 .4 -2.3 .3 -.5 .3 -.1" stroke="#e21818" stroke-width="4.2" fill="none" stroke-linejoin="round" stroke-linecap="round"/>
<path d="M164.7 6l0 .5 0 1.1 0 .9 0 1 0 1.1 0 1 0 .9 0 1.1 0 1 0 1 0 1 0 1 .1 1 0 1 0 1 0 1 0 1 0 1 0 1 0 1 0 1 0 1 0 1 0 1 0 1 0 1 0 1 0 1 0 1 0 1 0 1 0 1 0 1 0 1 0 1 0 1 .1 1 0 1 0 1 0 1 0 1 0 1 0 1 0 1 0 1 0 1 0 1 0 1 0 1 0 1 0 1 0 1 0 1 0 1 0 1 0 1 0 1 0 1 0 1 .1 1 0 1 0 1 0 1 0 1 0 1 0 1 0 1 0 1 0 1 0 1 0 1 0 1 0 1 0 1 0 1 0 1 0 1 0 1 0 1 0 1 0 1 0 1 0 1 .1 1 0 1 0 1 0 1 0 1 0 1 0 1 0 1 0 1 0 1 0 1 0 1 0 1 0 1 0 1 0 1 0 1.1 0 .9 0 1.1 0 1 0 1 0 1 0 1 .1 1 0 1 0 1 0 1 0 1 0 1 0 1 0 1 0 1 0 1 0 1 0 1 0 1 0 1 0 1 0 1 0 1 0 1 0 1 0 1 0 1 0 1 0 1 0 1 .1 1 0 1 0 1 0 1 0 1 0 1 0 1 0 1 0 1 0 1 0 1 0 1 0 1 0 1 0 1 0 1 0 1 0 1 0 1 0 1 0 1 0 1 0 1 .1 1 0 1 0 1 0 1 0 1 0 1 0 1 0 1 0 1 0 1.1 .1 .9 0 1 .1 1 0 1.1 0 .9 .1 1 0 1 0 1 .1 1 0 1 0 1 .1 1 0 1.1 0 .9 .1 1 0 1 0 1 .1 1 0 1 0 1 .1 1 0 1 0 1 .1 1.1 0 1 0 .9 .1 1 0 1 0 1.1 .1 .9 0 1 .1 1 0 .9 .1 1.1 .1 1 0 .9 .1 1.1 .1 1.1 0 .9 .1 1 .1 1 0 1.1 .1 1 .1 .9 0 1 .1 1 .1 1.1 0 1.1 .1 .9 .1 .9 0 1 .1 .9 .1 1.1 0 1 .1 1 .1 1 0 1 .1 1 .1 .9 0 1.1 .1 1.1 .1 .9 0 1 .1 1 0 1 .1 .9 .1 1 0 1.1 .1 1 .1 1 0 1 .1 1 .1 1 .1 1 .1 .9 .1 1.1 .1 1 .1 1.1 .1 1 .1 1 .1 .9 .1 1 .1 .9 .1 1.1 .1 1.1 .2 1.1 .3 .7 .2 1 .3 1.1 .2 .8 .3 .9 .2 .9 .3 1.6 .9 .1 1 -1 .8 -1 .5 -1.5 .6 -.5 .5 -.5 .5 -.6 .6 -1.1 .5 -.9 .6 -.2 .4 -1.3 .3 -1.1 .3 -.9 .3 -1.1 .4 -.7 .3 -.7 .3 -1.1 .3 -1.3 .3 -.6 .3 -1.2 .4 -1.1 .3 -.9 .3 -1.1 .3 -.7 .3 -.7 .3 -.6 .4 -.8 .3 -1.2 .3 -1.3 .2 -1.2 .2 -.9 .2 -1.2 .2 -.8 .2 -.8 .3 -1.3 .2 -1 .2 -.7 .2 -.8 .2 -1.1 .2 -1.1 .2 -.9 .2 -1.2 .2 -.9 .2 -.9 .3 -1.2 .2 -.8 .2 -1 .2 -1.1 .2 -.9 .2 -1.1 .2 -.9 .2 -.8 .2 -1.1 .3 -1.1 .2 -.6 .2 -1.1 .2 -1.1 .1 -.9 .2 -1 .2 -1 .2 -1 .1 -1 .2 -.9 .2 -1.1 .1 -.9 .2 -.9 .2 -1.1 .2 -1.1 .1 -1 .2 -.9 .2 -.9 .1 -.9 .2 -1.1 .2 -1.2 .2 -.7 .1 -.9 .2 -1.1 .2 -.9 .1 -1 .2 -1 .2 -1.1 .2 -.8 .1 -.9 .2 -1.2 .3 -1 .4 -1.1 .3 -.8 .3 -.6 .3 -1.2 .4 -1.1 .3 -1.3 .3 -.7 .4 -.7 .3 -1.1 .3 -.8 .4 -1 .9 -.8 .9 -.2 1 -.5 1 .9 .7 .4 .3 .3 .2 1.1 .3 .6 .3 .8 .2 1.4 .3 .9 .2 1 .3 .8 .2 .9 .3 1.4 .2 .7 .3 .6 .3 .2 .2 -.7 .3 -1.1 .2 -.9 .3 -.8 .2 -1.2 .3 -1.1 .3 -.9 .2 -1.3 .3 -1.1 .2 -.5 .3 -.7 .2 -.8 .3 -1.2 .3 -1.5 .6 -.3 .7 -.7 .7 -.6 .7 -.6 .7 -1.2 .7 -1.6 .7 -.4 .2 1.7 .2 1.1 .1 1 .2 .9 .1 .8 .1 1 .2 1 .1 1.1 .2 1 .1 1.1 .2 .9 .1 .9 .2 1 .1 1 .1 1.1 .2 .8 .1 1.1 .2 1.1 .1 1 .1 .8 .1 1 .1 1 .1 1 .1 1 .1 1 .1 1.1 .1 .9 0 1 .1 1.2 .1 .9 .1 .9 .1 1.2 .1 .9 .1 .9 .1 1 0 1 .1 1 .1 1 .1 1 .1 .9 .1 1 .1 1 .1 1 .1 .3 .1 -1.1 .2 -.9 .2 -.9 .1 -1.2 .2 -1 .2 -.8 .1 -1.1 .2 -1.1 .2 -.9 .1 -1 .2 -.8 .1 -1.1 .2 -.9 .1 -1 .2 -1 .1 -.8 .2 -1.2 .1 -.9 .2 -.8 .1 -1.1 .1 -1.1 .2 -1 .1 -1 .2 -1 .2 -1 .3 -.9 .3 -.7 .2 -1.1 .3 -.9 .3 -.8 .2 -1 .3 -1.3 .3 -.8 .3 -.6 .2 -1.6 .3 -1.3 .3 -.7 .2 -.7 .3 -.3 .3 .7 .4 .8 .3 1.1 .3 .7 .4 .9 .3 1.1 .3 .9 .4 1 .3 .7 .3 .8 .3 1.2 .1 1.1 .1 1 .1 1 0 1 .1 .9 .1 1 0 1.1 .1 1 0 1 .1 1.1 .1 .9 0 1.1 .1 .9 0 1 .1 1 .1 1 0 1 .1 1 0 1 .1 1 .1 1.1 0 1 .1 1 .1 .9 0 1 .1 1 0 1 .1 1 .1 1 0 1 .1 1 0 1 .1 1 0 1 0 1 .1 .9 0 1 .1 1.1 0 1 .1 1 0 1 0 .9 .1 1.1 0 1 .1 .9 0 1 0 1 .1 1.1 0 1 .1 .9 0 1 .1 1.1 0 1 0 1 .1 1 0 1 .1 1 0 1 0 1 .1 1 0 1 .1 1 0 1 .1 1 0 .9 0 1 .1 1.1 0 1.1 .1 .9 0 1 .1 .9 0 1.1 0 1 .1 1 0 .9 .4 1 .8 .8 .7 .5 .6 0 .5 -.5 .6 -.9 .5 -1.3 .6 -1.4 .5 -.6 .5 0 .7 0 .6 -.4 .7 .6 .6 1.6 .6 1.7 .7 .9 .6 .3 .7 .9 .7 .9 .7 0 .7 -.1 .7 .7 .7 .9 .7 1 .8 .9 .7 .4 .9 .4 .9 .5 .9 1.2 .9 .5 .9 .6 .9 1.2 .9 -.9 .9 .2 .9 1.1 1 -.6 .9 .3 1 .8 .9 -1.3 1 -2.1 1 .2 .9 2.8 1 1.8 .9 -.1 1 .1 1 -.1 1 .1 1 -.5 1 .3 1 1 1 -.4 1 .2 1 -.6 1 .5 1 0 1 -.7 1 .5 1 .3 1 -.2 1 -1 1 .1 1 -.4 1 -.2 1 .7 1 .6 1 .1 1 -.8 1 -.2 1 -.1 1 0 1 .5 1 -.3 1 -.3 1 -.1 1 0 1 .5 1 -.4 1 -.2 1 .4 1 .5 1 .2 1 -.3 1 -2.4 1 -2.2 1 2.2 1 2.7 1 -.2 1 -.1 1 -.3 1 -1.7 1 -.7 1 -.3 1 .9 .9 1.1 .7 -.9 .7 -.2 .7 -1.1 .7 -1.5 .7 -1.1 .7 -1 .8 .2 1 .1 1 0 1 -.7 1 -1.5 1 -.9 1 1.3 1 1.5 1 -.6 1 -.6 1 .9 .9 .5 1 -.4 1 -.3 .6 -1.1 .6 -1.2 .5 -.7 .6 -.7 .5 -1.2 .5 -.8 .6 -.7 .5 -.6 .6 -1.1 .5 -.3 .5 -.9 .6 -1.7 .5 -.3 .6 -.9 .5 -1.3 .5 -.6 .5 -1.6 .5 -1 .5 -.3 .6 -.8 .5 -.4 .5 -.6 .5 -.6 .5 -.6 .5 -1.1 .4 -1.4 .3 -.9 .2 -1.1 .3 -1.2 .3 -.6 .3 -.8 .2 -1.4 .3 -1.2 .3 -.6 .3 -.8 .2 -.9 .3 -1.3 .3 -1.4 .3 -.7 .2 -.9 .3 -.9 .3 -.8 .3 -1 .1 -1 .1 -1 .1 -.9 .2 -1 .1 -1.1 .1 -1 .1 -.9 .1 -1 .1 -1 .1 -1.1 .1 -1 .1 -.9 .2 -1.1 .1 -.9 .1 -.9 .1 -1.1 .1 -.9 .1 -.9 .1 -1.2 .1 -1.1 .1 -.9 .2 -1 .1 -1.2 .1 -1 .1 -.7 .1 -1 .1 -1 .1 -1.1 .1 -1 0 -.9 .1 -1.1 0 -1 .1 -.9 .1 -1.1 0 -.9 .1 -1 0 -1 .1 -1.1 .1 -1 0 -.9 .1 -1.1 .1 -.9 0 -1.1 .1 -.9 0 -1 .1 -1 .1 -1 0 -1 .1 -1 0 -1.1 .1 -1 .1 -.9 0 -.9 .1 -1.1 0 -1 .1 -.9 .1 -1 0 -1.1 .1 -1.1 0 -1 .1 -1 .1 -.9 .1 -.9 .1 -1.1 .2 -1.2 .1 -1 .2 -.9 .2 -.9 .1 -.9 .2 -1.1 .1 -.8 .2 -1.1 .1 -1 .2 -.9 .1 -1.2 .2 -1 .1 .8 .1 1.1 .2 .9 .1 .9 .1 1.2 .2 .8 .1 1 .1 1.1 .2 1 .1 1 .1 1 .2 1 .1 1.2 .1 .8 .2 .8 .1 1 .1 1.1 .1 1 .2 1.1 .1 1.1 .1 .9 0 .9 .1 1 .1 1 .1 1.1 .1 1 0 .9 .1 1 .1 1 .1 1 0 1 .1 .9 .1 1.1 .1 1 0 .9 .1 1.1 .1 1 .1 .9 0 1 .1 1.2 .1 1 .1 1.1 .1 .8 0 .9 .1 1.1 .1 1 .1 1 0 .9 .1 1.1 .1 1 .1 .9 0 1.1 .1 1 .1 1 .1 1 0 .9 .1 .9 .1 1.1 .1 1 .1 1 .1 1 0 1.1 .1 .9 .1 1 .1 1 .1 1 0 1 .1 1 .1 1 .1 .9 .1 1 0 1 .1 1.1 .1 1 .1 1 .1 1 0 .9 .1 1 .1 1.1 .1 1 .1 .9 0 1.1 .1 1 .1 1 .1 1 .1 1 0 .9 .1 1 .1 .9 .1 1.1 .1 1 0 1 .1 1.1 0 .9 .1 1 0 1.1 .1 1 .1 1 0 1 .1 1.1 0 .9 .1 .9 0 1.1 .1 .9 0 1 .1 1.1 0 1 .1 .9 0 1.1 .1 1 0 1 .1 1 0 1 .1 .9 0 1 .1 1 .1 1 0 1.1 .1 1 0 1 .1 .9 0 1 .1 1.1 0 .9 .1 1 0 1 .3 1.1 1 .2 1 -.6 1 .4 1 -.2 1 -.7 1 1.1 1 .4 1 -.8 1 -.2 1 .8 1 0 1 -.8 1 -2 1 -.2 1 1.8 1 .2 1 -2.4 1 .3 1 2.5 1 -.4 1 -.1 1 1 1 -.1 1 -.3 1 .2 1 -.5 1 -.3 1 -2.9 1 .3 1 3.9 1 .4 1 -.9 1 -.7 1 -.2 1 -.7 1 .8 1 1.1 1 -4.1 1 -.2 1 4.5 1 .1 1 -.6 1 -.1 1 -.5 1 -.5 1 0 1 .5 1 .2 1 .2 1 .7 1 0 1 -.4 1 -.3 1 -.8 1 .9 1 .8 1 -.4 1 -.4 1 -1 1 -3.3 1 -.2 1 3.4 1 .6 1 -3 1 .5 1 3.3 1 -1 1 -3.1 1 0 1 3.1 1 .5 1 -.6 1 -.1 1 0 1 .2 1 .8 1.1 .3 1 -.4 1 .1 1 .2 1 .4 1 0 1 -1 1 -3.2 1 -3 1 2.9 1 3.2 1 .3 1 .4 1 -.3 1 -2.9 1 -3.2 1 2.5 1 2.2 1 -3.5 1 -2.7 1 4.7 1 3.1 1 -3.5 1 -2.2 1 2 1 2.8 1 .5 1 -.6 1 -.8 1 .5 1 .3" stroke="#1010d2" stroke-width="4.0" fill="none" stroke-linejoin="round" stroke-linecap="round"/>
<path d="M552 128l0 4 .1 0 .1 4 .1 4 .1 0 0 4 .1 0 0 4 .1 0 0 4 .1 0 0 4 .1 0 0 4 .1 0 .1 4 .1 4 .1 4 .1 0 0 4 .1 0 0 4 .1 0 0 4 .1 0 0 4 .1 0 0 4 .1 0 .2 4 .4 0 .4 0 .4 0 .4 4 .4 0 .3 0 .4 0 .8 0 1 4 1 -4 1 -4 1 0 1 4 1 0 1 8 .6 -4 .1 -4 .1 0 .1 -4 .1 0 .1 0 .1 -4 .1 0 .1 0 .1 -4 .1 0 .1 0 .1 -4 .1 0 .1 0 .1 0 .1 -4 .1 0 .1 0 .3 0 .2 -4 .2 0 .3 0 .2 0 .3 -4 .2 0 .2 -4 .3 0 .2 0 .3 0 .2 0 .2 0 .3 0 .2 -4 .3 0 .2 -4 .3 0 .2 0 .2 0 .3 -4 .2 0 .3 0 .2 0 .2 0 .4 0 .3 -4 .4 0 .3 -4 .4 0 .3 0 .4 0 .3 0 .4 -4 .3 0 .4 -4 .3 0 .4 0 .3 0 .4 0 .3 0 .4 0 .4 0 .5 4 .5 -4 .6 -4 .5 0 .5 -4 .5 4 .6 0 .5 -4 .5 0 .5 -4 .6 0 .6 -4 1 4 .9 0 .9 0 1 4 .9 -4 1 4 .6 -4 .5 0 .6 0 .5 -4 .5 4 .6 -4 .5 0 .7 -4 .9 4 1 -4 .9 0 1 0 1 -4 .9 4 .2 0 .1 4 .2 0 .1 0 .2 0 .1 4 .2 0 .1 0 .2 4 .1 0 .2 0 .1 0 .1 0 .2 4 .1 0 .2 0 .1 4 .2 0 .1 0 .2 0 .1 0 .1 0 .2 0 .1 -4 .1 0 .1 0 .2 0 .1 0 .1 0 .1 -4 .2 0 .1 0 .1 -4 .1 0 .2 0 .1 -4 .1 0 .1 0 .1 0 .2 -4 .1 0 .1 0 .1 0 .2 0 .1 0 .7 -4 .9 -4 1 4 .9 0 1 4 .9 0 .8 0 .1 0 .2 0 .2 0 .2 4 .2 0 .2 0 .2 4 .1 0 .2 0 .2 0 .2 4 .2 0 .2 0 .2 0 .1 4 .2 0 .2 0 .2 0 .2 4 .2 0 .2 0 .1 0 .2 0 .1 4 .2 0 .1 0 .1 0 .1 4 .2 0 .1 0 .1 0 .2 4 .1 0 .1 0 .1 0 .2 4 .1 0 .1 0 .2 4 .5 0 .4 0 .4 4 .5 -4 .4 0 .4 4 .5 0 .4 4 .4 0 .9 0 .9 -4 .9 0 .9 0 .8 0 .7 -4 .7 8 .7 -4 .7 0 .7 0 .5 4 .4 4 .4 -4 .3 0 .4 4 .4 4 .3 0 .4 0 .4 0 .3 0 .4 0 .4 0 .5 0 .5 0 .5 0 .5 0 .5 0 .5 0 .5 -4 .5 -4 .5 0 .5 4 .5 -4 .5 0 .5 -4 .5 4 .5 0 .6 -4 1 -4 .9 -4 1 8 1 -4 1 4 .9 4 1 0 1 -4 .6 0 .6 0 .6 -4 .5 4 .6 -4 .6 0 .5 -4 .6 0 .5 -4 .6 0 .6 -4 .5 -4 .6 4 .5 0 .7 8 1 -4 .9 0 1 0 1 -4 1 -4 1 0 1 8 1 0 .9 4 1 -4 1 -4 1 -4 1 4 .9 0 .9 0 1 0 .9 0 1 0 .9 0 1 4 .9 0 1 0 .7 0 .5 0 .6 4 .6 0 .5 0 .6 0 .6 0 .5 0 .6 4 .6 0 .7 0 .9 0 .9 0 .9 0 .9 4 .9 -4 .9 0 1 0 1 0 1 0 1.1 0 1 0 .9 4 .9 -8 .8 8 .8 4 .8 0 .6 0 .6 0 .5 0 .5 0 .5 0 .6 0 .5 0 .5 4 .6 0 .5 0 .5 4 .6 0 .5 0 .5 4 .6 0 .5 0 .6 0 .7 -8 .7 4 .7 0 .7 -4 .7 0 .7 -4 .7 4 .8 -4 .7 0 .7 -4 .7 4 .7 -4 .7 4 .7 0 .8 0 .8 4 .8 -4 .8 -4 .8 0 .8 -4 .8 0 .8 4 .8 0 .8 0 .3 -4 .3 0 .2 0 .3 0 .2 -4 .3 0 .3 0 .2 0 .3 0 .2 -4 .3 0 .2 -4 .3 0 .3 0 .2 0 .3 0 .2 0 .3 -4 .3 0 .2 -4 .3 0 .2 0 .3 0 .3 0 .2 -4 .3 0 .2 0 .3 0 .3 0 .2 -4 .3 0 .2 0 .2 -4 .2 0 .2 0 .2 0 .2 -4 .2 0 .2 0 .2 0 .2 -4 .2 0 .2 0 .2 0 .2 -4 .1 0 .2 0 .2 0 .2 0 .2 -4 .2 0 .2 0 .2 -4 .2 0 .2 0 .2 0 .2 -4 .2 0 .2 0 .2 0 .2 0 .2 -4 .2 0 .4 0 .4 0 .4 4 .4 0 .3 0 .4 4 .4 0 .4 4 .4 -4 .3 4 .4 0 .1 0 .1 0 .2 4 .1 0 .1 0 .1 0 .2 0 .1 4 .1 0 .2 0 .1 4 .1 0 .1 0 .2 0 .1 0 .1 4 .2 0 .1 0 .1 4 .2 0 .1 0 .1 0 .1 0 .2 4 .1 0 .1 0 .2 4 .1 0 .1 0 .1 0 .2 0 .1 4 .2 0 .1 0 .2 4 .1 0 .2 0 .1 0 .2 4 .1 0 .2 0 .1 0 .2 0 .1 4 .2 0 .1 0 .2 4 .1 -4 .2 4 .1 0 .2 0 .1 0 .2 4 .1 0 .2 0 .1 4 .2 0 .4 0 .6 4 .6 0 .5 0 .6 0 .6 0 .5 0 .5 0 .4 0 .4 0 .3 0 .4 0 .4 -4 .3 0 .4 0 .4 0 .3 -4 .4 0 .6 -8 1 8 1 -4 1 0 1 -4 1 4 1 8 1 0 1 -4 1 0 1 0 1 0 .9 0 1 -4 1 4 1 -4 1 4 1 0 1 0 1 0 1 0 1 0 1 0 1 0 1 0 1.1 -4 1 8 1 0 1 -4 1 -4 1 0 1 0 1 0 1 0 1 0 .7 0 .8 4 .8 0 .7 0 .8 -4 .7 8 .5 -4 .6 4 .5 0 .6 0 .5 0 .5 4 .6 0 .6 0 .7 0 .7 0 .7 4 .8 -4 .7 4 .7 8 .7 0 .7 0 .7 0 .8 -8 .7 4 1 -8 1 4 1 4 1 4 1 0 1 0 1 -8 1 -4 1 4 .9 4 .9 0 .9 0 .9 0 .9 0 .9 0 1 0 .8 -4 .6 0 .5 0 .6 0 .6 -4 .5 4 .6 -4 .6 0 .2 0 .2 -4 .2 0 .2 0 .2 0 .2 0 .2 -4 .2 0 .2 0 .2 -4 .2 0 .1 0 .2 0 .2 0 .2 -4 .2 0 .2 0 .2 0 .2 0 .2 -4 .2 0 .5 0 .5 0 .6 0 .5 0 .5 -4 .5 4 .5 -4 .5 0 .5 0 .5 0 .6 -4 .4 -4 .3 0 .2 0 .3 -4 .2 0 .3 0 .2 0 .3 -4 .2 0 .3 0 .2 0 .3 0 .2 0 .3 0 .2 -4 .3 0 .2 -4 .3 0 .2 0 .3 0 .2 0 .3 0 .2 0 .3 -4 .2 0 .3 0 .9 0 1 -4 1 4 1 0" stroke="#080808" stroke-width="4.2" fill="none" stroke-linejoin="round" stroke-linecap="round"/>
<path d="M551.5 54.9l0 1 0 1 0 1 0 1 0 1 0 1 0 1 0 1 0 1 0 1 0 1 0 1 0 1 0 1 0 1 0 1 .1 1 0 1 0 1 0 1 0 1 0 1 0 1 0 1 0 1 0 1 0 1 0 1 0 1 0 1 0 1 0 1 0 1 0 1 0 1 0 1.1 0 .9 0 1 0 1.1 0 .9 0 1.1 .1 .9 0 1 0 1.1 0 1 0 1 0 1 0 .9 0 1.1 0 1 0 1 0 1 0 1 0 1 0 1 0 1 0 .9 0 1.1 0 1 0 1 0 1 0 1 0 1 0 1 0 1 0 1 0 1 .1 1 0 1 0 1 0 1 0 1 0 1 0 1 0 1 0 1 0 1 0 1 0 1 0 1 0 1 0 1 0 1 0 1 0 1 0 1 0 1 0 1 0 1 0 1 0 1 0 1 0 1 .1 1 0 1 0 1 0 1 0 1 0 1 0 1 0 1 0 1 0 1 0 1 0 1 0 1 0 1 0 1 0 1 0 1 0 1 0 1 0 1.1 0 .9 0 1 0 1 0 1 0 1 0 1.1 .1 .9 0 1.1 0 .8 0 1 .1 1.2 0 .7 .1 1.5 0 .8 .1 1.1 0 .8 .1 1 .1 1.1 0 1.1 .1 .8 0 1 .1 1 0 .7 .1 1.4 0 .9 .1 .6 0 1.4 .1 1 0 .7 .1 1.1 0 1.4 .1 1.1 0 .8 .1 1.4 0 .7 .1 .7 0 .8 .1 1.6 0 .7 .1 .9 0 1 .1 .9 0 1 .1 1.2 .2 1.8 .7 1 .7 .1 .8 -2.7 .9 .5 1 2.4 1 -3.2 .9 4.3 1 -.5 .9 -.2 1 -4.6 .2 .3 .2 -.7 .2 -2.2 .2 -1.3 .2 .8 .2 -.7 .2 -2.6 .2 0 .2 .7 .2 -1.6 .2 -1.7 .2 -1.1 .2 -.2 .2 -1.2 .2 -.6 .2 -1.5 .2 -1.4 .2 .4 .2 -2.1 .2 -1.1 .2 -2 .2 1 .2 -1.5 .2 -1.2 .2 -1.9 .2 -1 .2 -1 .2 0 .2 -1.7 .2 -1.1 .2 1 .1 -1.8 .2 -.8 .2 -1.3 .1 -2.1 .2 -.9 .2 -.1 .2 -1.1 .1 -1.4 .2 -.3 .2 -.3 .2 -1 .1 -2.1 .2 -1.1 .2 1 .1 -2.7 .2 -1.1 .2 -1.2 .2 -1.3 .1 -.6 .2 -1.3 .2 -.3 .2 -.4 .1 -.9 .2 -3.3 .2 0 .2 -.5 .1 -1.6 .2 -1 .2 -.9 .1 -.8 .2 0 .2 -2 .2 -1.1 .1 -1 .2 -1.6 .2 .7 .3 -3.4 .3 -.4 .2 -1.2 .3 -1.8 .3 1.9 .2 1.1 .3 -3.7 .3 .8 .2 -3.2 .3 .5 .2 -1.5 .3 .1 .3 -1.3 .2 -.4 .3 -1.2 .3 .1 .2 -4.7 .3 .5 .2 -2 .3 -.2 .3 -1.9 .2 -.5 .5 2.7 .5 -5.5 .5 -3.3 .5 4 .5 2.1 .5 -3.8 .5 -1 .5 -1.3 .6 -5.5 .5 5.6 .5 -4.7 .5 1.2 .5 1.7 .4 .3 .5 .2 .5 -1.1 .4 2.6 .5 .9 .5 2.6 .4 -4.1 .5 2.5 .4 1.2 .4 -2.1 .3 -.2 .4 3.2 .4 -3.2 .3 -.3 .4 -4.1 .3 .2 .4 .7 .4 -1.1 .3 -1.1 .6 -3.6 .7 1.2 .6 -2.6 .7 .6 .6 -2.7 .7 -3.7 .6 4 .6 1.7 .3 -.3 0 -.7 .1 1.1 .1 .5 .1 1.9 0 1.1 .1 .6 .1 1.1 .1 1 .1 .6 0 1.2 .1 .5 .1 1.1 .1 1.8 0 .9 .1 .9 .1 1.2 .1 .5 .1 1.7 0 .5 .1 .7 .1 1.5 .1 .5 .1 1 0 1.3 .1 .9 .1 .8 .1 1.4 0 .5 .1 1.4 .1 .4 .1 1.5 .1 1 0 .5 .1 1.1 .1 .9 .1 1.6 0 .4 .1 1.6 .2 -.9 .1 1 .2 -4.4 .2 .1 .1 -.6 .2 -2.2 .1 .5 .2 -1.3 .2 -.4 .1 -1 .2 -1.9 .1 -1.4 .2 1.5 .2 -2 .1 -.7 .2 -2.2 .1 -.3 .2 -1.8 .2 -1 .1 -.9 .2 -1.8 .1 -.3 .2 -.2 .2 -1.5 .1 -1 .4 -.6 .4 -2.3 .4 .9 .4 -.2 .4 -2 .4 -1.6 .4 -1.2 .3 .3 .4 .9 .4 -2.9 .4 .6 .4 -4.3 .4 -.4 .4 -4.5 .4 -.1 .3 1.8 .4 .2 .4 -.5 .4 1.5 .4 -3.1 .4 -1.8 .3 -2.3 .4 2.2 .4 -2.7 .1 .4 .1 1.4 .1 .9 0 .8 .1 .8 0 1.3 .1 1.4 0 .8 .1 .6 .1 1.4 0 1.1 .1 1.5 0 .3 .1 1.2 0 1.1 .1 .5 .1 .9 0 1.5 .1 1 0 .4 .1 1.5 0 .5 .1 1.4 .1 .5 0 1.6 .1 .7 0 1.1 .1 .8 0 1.3 .1 1 .1 1.1 0 .9 .1 .9 0 1.1 .1 .8 0 .9 0 1.3 .1 .9 0 1 .1 1.1 0 .7 .1 1.3 0 1.1 .1 1.1 0 .8 0 .9 .1 1 0 1.3 .1 .8 0 1 .1 1.1 0 1.1 0 .9 .1 1 0 .4 .1 1.3 0 1.3 .1 .8 0 .9 0 1.2 .1 1 0 1.1 .1 .9 0 1.1 .1 1 0 .9 0 1.1 .1 .9 0 1.1 .1 .9 0 .9 .1 1 0 1 0 1.2 .1 1 0 .8 .1 1.1 0 1.1 .1 .9 0 .9 0 .7 .3 .9 .6 .5 .6 4.8 .6 -.7 .6 .4 .6 -1.1 .6 -1.3 .6 -.1 .6 -4.4 .5 6 .6 -3.3 .6 .2 .6 -1.4 .6 -5 .6 .8 .6 -.4 .4 3.1 .3 -.1 .4 1.8 .4 1.1 .3 -.9 .4 .5 .4 1.5 .3 .4 .4 2.1 .4 .9 .3 2.3 .6 -1.3 .5 .2 .5 -2.4 .5 -1.5 .6 -2.3 .5 -.3 .5 -1.3 .5 .7 .6 1.4 .5 -2 .5 -2.2 .6 .3 .7 0 .7 -1.3 .7 -3.7 .7 5.2 .7 -4.5 .7 -2.6 .7 -.2 .7 0 .7 -5.5 .7 9.3 .7 -3.5 .8 -.6 .8 -2.7 .8 -1.2 .8 -1.6 .8 2.9 .8 -4.7 .8 3.2 .8 -1.8 .8 -4.4 .8 4.6 .7 -.1 .7 -1.7 .6 -3.4 .6 .2 .7 -.2 .6 -2.7 .6 1.4 .6 3.3 .7 -7.7 .6 0 .6 -2.2 .6 5.7 .7 -2.3 .6 -.8 .5 1.8 .6 -3.8 .6 -2.7 .5 .3 .6 -1.5 .6 -.1 .5 -1.9 .6 1.1 .6 -1.9 .6 2.1 .5 -3.4 .6 -5.8 .8 6.2 .8 -2.1 .8 4.3 .7 -3.3 .8 2 .8 -1.8 .9 1.6 1 -1.4 1 .5 1 3.1 1 -.6 1 -.4 1 .1 1 -2.6 .9 3.9 .8 -1.2 .9 3.8 .8 -3.5 .8 -2 .8 5.6 .8 -2 .8 1.9 .8 2.1 .8 .2 .8 -.1 .7 1.3 .8 1.4 .7 -2 .8 3 .7 -1.6 .8 -.3 .7 4.4 .7 -1.9 .8 -2.1 .9 3.4 1 .4 .9 4.8 .9 -2.1 .9 -1.8 1 .2 .9 2.2 .9 -1.9 .9 7.1 1 -3.6 .9 -.3 1 -1.9 1 5.1 1 -5.2 .9 -.5 1 .6 1 -.9 1 1.3 1 -2 1 -3.8 1 3.2 .9 6.3 1 -3.1 .9 -5.6 1 4.5 .9 -1.4 .9 -1.5 .9 -.2 .9 2.8 .9 -1.8 .9 -6.3 .9 4.1 .4 -.4 .2 -2.2 .3 .3 .2 -1.8 .3 -1 .2 -1.2 .3 -.8 .2 -3.4 .2 1.6 .3 .5 .2 -2.3 .3 -1.6 .2 -1.1 .2 -.4 .3 -1.2 .2 -1.3 .3 -.7 .2 1.5 .2 -1.6 .3 -3 .2 .1 .3 -1.1 .2 -1.3 .3 -.5 .2 0 .2 -2.4 .2 -.8 .2 -2.1 .1 -.7 .2 .6 .2 -2.9 .2 .9 .1 -1.1 .2 -4.1 .2 1.3 .2 -1 .2 -.7 .1 -1.5 .2 -1.1 .2 -.9 .2 -1.8 .1 0 .2 -1.6 .2 -1.9 .2 .7 .1 -1.8 .2 -.2 .2 -.6 .2 -.5 .2 -2.6 .1 -.5 .2 -1.3 .2 .1 .2 -.6 .1 -2.9 .2 .4 .1 -2.5 .2 .4 .1 -1.1 .1 -1.3 .2 -.3 .1 -1.2 .2 -1.7 .1 -1.1 .2 -.7 .1 -1.4 .2 .2 .1 -.9 .1 -2.1 .2 .2 .1 -1.7 .2 -1 .1 -.7 .2 -1.1 .1 -.9 .1 -1.6 .2 -.8 .1 -1.5 .2 .4 .1 -1.8 .2 -1 .1 -1.5 .1 .2 .2 -1.5 .1 -1.4 .2 -1.8 .1 .6 .2 -1.9 .1 -.8 .2 -1.2 .1 -.1 .1 -.9 .2 -1.3 .1 -1 .2 -2.1 .1 .4 .2 -1.6 0 .9 .1 1.6 .1 1.1 .1 .3 0 .6 .1 1.3 .1 1 0 .8 .1 1.4 .1 .9 .1 .7 0 1.1 .1 .9 .1 1.2 .1 1.4 0 .1 .1 1.4 .1 1.2 0 1.3 .1 .7 .1 1.2 .1 1.1 0 .4 .1 1.2 .1 1.2 .1 1 0 .9 .1 .9 .1 .9 0 1 .1 1.1 .1 1.5 .1 .1 0 1.2 .1 .9 .1 1.8 .1 .4 0 1.4 .1 .9 .1 .5 0 1.3 .1 1 .1 1.7 .1 .5 0 .4 .1 1.3 .1 1.3 .1 .8 0 1.1 .1 .7 .1 1.9 .1 1.6 .1 .9 .1 .8 0 .6 .1 1.3 .1 .9 .1 1.5 0 .9 .1 .7 .1 .7 0 1.7 .1 .3 .1 1.3 .1 1 0 1.3 .1 .9 .1 1.5 .1 .7 0 .5 .1 1.2 .1 .6 .1 1.9 .1 .2 .1 1.4 .1 1.3 .1 .6 0 .1 .1 2.4 .1 .2 .1 1 .1 1.5 .1 .6 .1 1.4 .1 .6 .1 1.5 0 .3 .1 .6 .1 1.6 .1 1.3 .1 .8 .1 .9 .1 1.5 .1 .8 .1 1.3 0 .8 .1 .7 .1 -.1 .1 2.3 .1 .8 .1 .7 .1 1.5 .1 .5 .1 1.4 0 .8 .1 1.4 .1 .9 .1 1.3 .1 0 .1 1.1 .1 1 .1 1.3 .1 .9 0 1.6 .2 -.6 .4 5.5 .4 -4.6 .4 5 .4 -3.7 .4 2 .5 0 .4 4.4 .4 .5 .4 .1 .4 1.9 .4 1.9 .4 -.9 .4 2.4 .4 -1.6 .4 1.7 .5 -1.7 .5 1.3 .5 .1 .5 -3.9 .5 -1.1 .5 -.6 .5 0 .6 -1.4 .5 -.2 .5 1 .5 -1.5 .5 -.6 .7 .2 .7 -4.2 .7 0 .7 1.3 .7 -1.5 .7 4.7 .7 -1.4 .7 -7.1 .7 -1.7 .7 3.8 .7 -3.8 .8 -.1 .9 -2.5 .9 2.9 .9 .6 .9 -.6 .9 -2.6 .9 -3.9 .9 6.9 .9 -2.2 .8 -.7 .5 2.1 .5 -5 .5 -.7 .5 .5 .5 0 .5 -3.9 .5 .3 .6 -4.1 .5 1 .5 2.3 .5 -1.7 .5 -4.1 .5 .8 .5 .6 .5 .9 .6 2.6 .5 -.1 .5 1.8 .5 .3 .5 .9 .5 .4 .5 -.4 .6 1.5 .6 3.7 .7 2.6 .7 -3.2 .7 2.7 .7 1 .8 .2 .7 .3 .7 0 .7 5.2 .7 2.8 .7 -2.9 .8 1.7 .7 -1.6 .6 1.4 .7 1.3 .7 1.4 .7 3.5 .7 -4.1 .7 .2 .7 1.8 .7 2 .9 -1.2 .8 .4 .8 -2.1 .8 -.1 .8 4.6 .8 -1.8 .8 1.7 .8 .9 .8 .7 .8 -3.8 1 1.4 1 3.4 .9 -3.3 1 1.8 1 -.6 .9 -1.5 1 .5 1 1.1 .6 -3.2 .6 -3 .6 1.6 .5 .7 .6 -2.3 .5 -2.4 .6 3.1 .6 -2.5 .5 2.3 .6 -3.7 .5 -1.2 .6 1.4 .6 -1.6 .5 -1.5 .6 -.4 .3 -.4 .4 -.5 .3 -2.1 .4 -1.5 .3 -3 .4 .1 .3 .2 .4 -2.5 .3 0 .4 .2 .3 -1.1 .4 -2.1 .3 .4 .4 .3 .3 -4.8 .4 -1.1 .3 .1 .4 -.2 .2 .4 .3 .3 .3 -3.5 .3 -.3 .3 -1.9 .3 -1 .3 -.3 .2 -1.1 .3 -.8 .3 -.5 .3 -1.3 .3 -.8 .3 -2 .3 1 .2 -3.5 .3 -.6 .3 -.1 .3 .2 .3 -1.6 .3 -.5 .3 -1.7 .3 -.9 .3 -1.4 .3 -.5 .3 -.6 .4 -1.8 .3 -.9 .3 -.8 .3 -1.4 .3 .9 .4 -1.1 .3 -1.1 .3 -1.6 .3 -.9 .3 0 .3 -1.9 .4 -.3 .3 -.5 .3 -.2 .5 1.9 1 -4.4 1 -2.6 1 3.6 1 .8" stroke="#1ee61e" stroke-width="4.2" fill="none" stroke-linejoin="round" stroke-linecap="round"/>
<path d="M514 226.3l1 -.3 1 0 1 -.8 1 -2.6 1 2 1 -.7 1 7 1 -4.3 1 1.7 1 -.9 1 -3.6 1 .7 1 -1.9 1 5.8 1 -2.8 1 4 1 -8.7 1.1 6.3 1 1.3 1 -3.6 1 2.2 1 -1.2 1 1.4 1 -1.8 1 0 1 1.6 1 -3.4 1 -2.5 1 1.8 1 1.6 1 1.5 1 -1.8 1 1.3 1 -2.5 1 3 1 -4.7 1 5.4 1 -.6 1 .5 1 -1.5 1 1 1 2.2 1 .5 1 -2.4 1 .9 .9 -4.4 1 8.7 1 -7.3 1 5.2 1 -1 1 1.9 .9 -4.7 .9 .5 1 -.8 .9 .1 .9 .4 .9 -3 1 -.4 .9 -.1 .9 .1 1 2.2 .9 .2 1 -6.7 1 .3 .9 2.5 1 .4 1 .6 1 3.8 1 -7.5 1 2.5 1 2.3 .9 -2.7 1 .3 .9 -2.9 .9 4 1 -2.2 .9 -5.1 .9 1.9 1 3.8 .9 .1 .9 -4.9 .9 -1 1 2.7 .9 1.1 1 -1.7 1 .1 1 -.2 1 0 1 -4.1 1 2.6 .9 1.6 1 -2.9 1 2.8 1 -.3 .8 -.3 .9 -.5 .8 -.9 .9 -4.4 .9 3.8 .8 -4.8 .9 -.4 .8 7.5 .9 -7 .9 -.1 .8 -1 .9 2 .8 -1.3 .9 .1 .8 -1.6 .9 .6 .8 -4.4 .9 -2.1 .9 .9 .8 5.9 .9 -4.6 .8 -3.1 .9 1.1 .7 3.1 .6 -3.2 .6 3.2 .6 -1.7 .5 -2.5 .6 -2.4 .6 -1.8 .6 -2.4 .6 -1.7 .6 5.7 .5 -1.4 .6 -3 .6 -2.4 .6 -.2 .6 5.5 .5 -8.2 .6 3.2 .6 -4.5 .7 1 .6 .7 .7 -3.2 .6 1.3 .6 -1.1 .7 .9 .6 -1.5 .7 -4 .6 -.2 .6 -.6 .7 -2.1 .6 1.3 .7 -1.6 .6 -1.6 .6 -.9 .7 -2.7 .6 7 .7 -3.3 .6 -3.3 .6 4.2 .7 -2.5 .6 -5.2 .7 -.6 .6 -.7 .7 .3 .6 1 .6 -6.1 .7 5 .6 -4.4 .7 .1 .6 3.5 .7 -5 .8 .9 .8 .7 .7 -4.4 .8 .6 .8 1.6 .8 2.4 .8 -.1 .7 -4.5 .8 .2 .8 -.4 .8 -5.6 .8 .3 .8 -.8 .9 5.5 1 -3.5 .9 -2.1 .9 2 1 -1.5 .9 3.6 .9 -2.3 1 -3.9 .9 .1 .9 1.6 1 -3.9 1 -1.9 .9 -.6 1 2.6 1 -.6 .9 .1 1 0 1 -2.2 .9 1.9 .8 -.4 .8 2.9 .8 2.6 .7 -4.4 .8 8.2 .8 -10.2 .7 7.2 .8 -4.6 .6 7.5 .6 -1.4 .7 1.9 .6 2.8 .6 -.8 .6 1.1 .7 -4.3 .6 5.9 .6 -2.3 .6 2.2 .7 5.7 .6 -.9 .6 1.3 .6 -5.5 .8 -.6 .8 6.2 .7 -5.6 .8 3.8 .8 5.3 .8 -.7 .7 -1.7 .8 2 .8 .8 .8 -.4 .7 2.6 .8 .8 .8 -6.4 .8 5.7 .9 .6 .9 .2 .8 1.4 .9 -3 .9 2 .8 2.2 .9 -1 .9 2.1 .8 -3.2 .9 1 .8 2.7 1 -.3 .9 3.9 .9 -7.8 1 6.5 .9 -2.6 .9 2 .9 2.5 1 -1.2 .9 1.7 .9 -.4 .9 -6.5 1.1 4.5 1 5.6 1 -3.8 1 1.3 1 -4.8 1 6.4 1 -6.1 1 4.1 1 1.2 1 -1.9 1 .8 1 -1.2 .9 3.2 1 -2 1 -3.4 1 1.7 1 2.3 1 .8 .9 -.6 1 .4 1 2.2 .9 -5 1 1 .9 2.2 .9 0 1 -6.8 .9 4 1 -1.7 .9 2.6 .9 2.2 1 -2.2 .9 -.3 .9 -.1 1 -1.4 .9 -.6 .9 -1.8 1 -1.1 .9 -2.2 .9 3.4 1 -1.7 .9 .6 .9 -.6 .9 -2.6 .8 -1.2 .7 -2 .8 .6 .8 3.5 .8 1.1 .7 -4.9 .8 -2.5 .8 6.3 .8 -4.4 .7 -.2 .8 -2.7 .8 .6 .9 -.8 .9 -4.8 1 5.6 1 -6.1 1 7.7 1 -.7 1 -1.9 1 2.2 .9 -5.2 1 5.7 1 -2 .8 1.7 .7 -4.4 .8 3.2 .8 -1.9 .8 -1.7 .8 1.3 .8 3.2 .8 6.3 .8 -2.9 .8 -1.6 .8 1.5 .8 -2.2 .7 1.8 .6 0 .6 3.7 .5 1 .6 3.1 .6 -5.3 .6 8.8 .5 -2.5 .6 1.4 .6 -2.8 .6 2 .6 2.9 .5 1.6 .6 -2.8 .6 1.5 .6 -1.5 .5 5.6 .6 .5 .7 .3 .8 .6 .8 1 .8 .5 .8 -.1 .8 0 .8 -.9 .8 1.3 .8 4.7 .8 -5.2 .8 2.2 .8 -2.1 .7 5.7 1 -1.1 .9 3 1 -7 1 1.1 1 -1.9 .9 -.8 1 4 1 2.9 .8 -3.8 .5 -1.5 .4 1 .5 -1.9 .4 2.4 .5 -6.1 .4 0 .5 .1 .4 -1 .5 -.6 .4 .9 .5 -5.5 .4 1.3 .5 -.5 .4 -1.2 .4 -1.9 .4 0 .4 1.3 .4 -2.4 .4 -3 .4 .9 .4 -.1 .4 -2.2 .4 .4 .4 -.6 .4 -2.2 .5 .4 .4 -2.5 .4 .1 .4 -4 .4 .7 .4 -.2 .4 -1.7 .4 -.5 .3 -2.7 .3 1.1 .3 -2.5 .3 -.7 .3 .2 .3 -1.2 .3 -.8 .3 -2.7 .3 1.4 .3 .2 .3 -1.7 .3 -.9 .3 -2.4 .3 -1.1 .3 -.6 .3 1.2 .3 -.2 .3 -3 .3 -3 .3 1.2 .3 -2.6 .3 .2 .3 -1.1 .3 -.4 .3 -2.4 .3 .7 .3 -1.2 .3 -1.2 .2 -2 .3 .9 .3 -1.3 .3 -2.1 .3 -1.1 .3 -.4 .3 -1.7 .3 .3 .3 -1.9 .3 -2.5 .2 1 .3 .4 .3 -.9 .3 -2.7 .3 -1.7 .3 -.7 .3 -.6" stroke="#e21818" stroke-width="4.2" fill="none" stroke-linejoin="round" stroke-linecap="round"/>
<path d="M549 6l0 .5 .1 .9 0 1.1 0 1 0 1 0 .9 0 1.1 0 .9 0 1 0 1.1 0 1 0 1 .1 1 0 1 0 1 0 1 0 1 0 1 0 1 0 1 0 1 0 1 0 1 .1 1 0 1 0 1 0 1 0 1 0 1 0 1 0 1 0 1 0 1 0 1 .1 1 0 1 0 1 0 1 0 1 0 1 0 1 0 1 0 1 0 1 0 1 .1 1 0 1 0 1 0 1 0 1 0 1 0 1 0 1 0 1 0 1 0 1 .1 1 0 1 0 1 0 1 0 1 0 1 0 1 0 1 0 1 0 1 0 1 0 1 .1 1 0 1 0 1 0 1 0 1 0 1 0 1 0 1 0 1 0 1 0 1 .1 1 0 1 0 1 0 1 0 1 0 1 0 1 0 1 0 1 0 1 0 1.1 .1 .9 0 1 0 1.1 0 1 0 1 0 1 0 1 0 1 0 .9 0 1.1 0 1 .1 .9 0 1.1 0 1 0 1 0 1 0 1 0 1 0 1 0 1 0 1 0 1 .1 1 0 1 0 1 0 1 0 1 0 1 0 1 0 1 0 1 0 1 0 1 .1 1 0 1 0 1 0 1 0 1 0 1 0 1 0 1 0 1 0 1 0 1 .1 1 0 1 0 1 0 1 0 1 0 1 0 1 0 1 0 1 0 1 0 1 0 1 .1 1 0 1 0 1 0 1 0 1 0 1 0 1 0 1 0 1 0 1 0 1 .1 1 0 1 0 1 0 1 0 1 0 1 0 1 0 1 0 1 0 1 0 1 .1 1 0 1 0 1 0 1 0 1.1 0 .9 0 1 0 1 0 1 0 1 0 1 .1 1.1 0 .9 0 1 0 1.1 0 1 0 1 0 .9 0 1 .1 1.1 0 1 0 1 .1 1 0 1 .1 .9 0 1 0 1 .1 1.1 0 1 0 1 .1 1 0 1 .1 1 0 1 0 1 .1 1 0 1 0 1 .1 1 0 1 .1 .9 0 1 0 1.1 .1 1 0 1 .1 1 0 1 0 1 .1 .9 0 1.1 0 1 .1 1 .1 1 0 1 .1 1 0 1 .1 1 0 1 .1 1 .1 1 0 1 .1 .9 0 1 .1 1.1 0 1 .1 .9 .1 1.1 0 1 .1 .9 0 1.1 .1 1 0 1 .1 .9 .1 1.1 0 1 .1 1 0 1 .1 1 0 1 .1 1 .1 1 0 1 .1 .9 .1 .8 1 .1 1 .5 1 -.7 1 -.4 1 .3 1 .4 1 -.2 .4 -1 .5 -.8 .4 -1 .5 -.8 .4 -.7 .4 -.6 .5 -.8 .4 -1.3 .5 -.7 .4 -.4 .4 -1.4 .5 -.9 .4 -1 .4 -1.3 .3 -.9 .2 -.7 .2 -.8 .3 -1.2 .2 -1 .3 -1 .2 -1 .3 -.8 .2 -.7 .3 -1.2 .2 -1.1 .2 -.7 .3 -1.4 .2 -1 .3 -.5 .2 -.9 .3 -1.2 .2 -1.1 .2 -1.3 .3 -.9 .2 -.7 .3 -1.1 .2 -1 .3 -.9 .2 -.7 .2 -1.1 .2 -1.4 .2 -1.1 .2 -.9 .2 -.7 .3 -.9 .2 -1.1 .2 -.9 .2 -.8 .2 -1 .2 -1 .2 -1.3 .2 -1 .2 -.9 .2 -.9 .3 -.9 .2 -1.1 .2 -.9 .2 -1.1 .2 -1.1 .2 -.7 .2 -1 .2 -1.1 .2 -.9 .2 -1 .3 -1 .2 -.9 .2 -1 .2 -1 .2 -1 .1 -1.1 .2 -1.1 .2 -.6 .2 -.7 .2 -1.2 .2 -1.1 .2 -.8 .1 -1 .2 -1.1 .2 -1.3 .2 -1.1 .2 -.8 .2 -.7 .2 -.8 .1 -1.2 .2 -1.2 .2 -.8 .2 -.7 .2 -1.2 .2 -1.2 .2 -.8 .3 -1 .6 -1 .6 -.8 .6 -.7 .6 -1.2 .6 -.3 .6 1.6 .6 1.1 .6 .8 .6 .6 .5 .6 .2 1.2 .3 .9 .2 .7 .3 1.2 .2 1 .3 .6 .2 .9 .2 1.1 .3 1 .2 .9 .3 1.2 .2 1.1 .2 -.5 .2 -1.1 .3 -1 .2 -.8 .2 -.8 .2 -1.2 .2 -1.2 .2 -.8 .2 -1.1 .2 -1.1 .2 -.8 .2 -1 .2 -1.1 .2 -1 .3 -1.2 .6 -.6 .5 -.5 .6 -1.1 .6 -.7 .5 -.8 .6 -.8 .6 -.8 .3 .3 .2 .9 .2 .9 .2 .9 .2 1 .2 1 .2 .9 .3 1 .2 1.2 .2 1.1 .2 .9 .2 1 .2 1 .2 1.3 .2 .7 .1 .8 .1 1.1 .1 1 0 1.1 .1 .9 .1 1 .1 1 .1 .9 .1 .9 0 1.1 .1 1 .1 1.1 .1 1.1 .1 .9 .1 .9 0 1.1 .1 1.1 .1 1 .1 1 .1 .9 .1 .9 0 1.1 .3 .9 .3 .9 .3 1 .4 .8 .3 1.4 .3 1 .3 .4 .2 -1.1 .2 -1.1 .2 -1.1 .2 -1.1 .1 -.6 .2 -1 .2 -1.3 .2 -.9 .2 -.8 .2 -1.2 .1 -.9 .2 -1.1 .2 -.9 .2 -.6 .2 -1.2 .2 -1.1 .1 -1 .2 -1 .1 -1 .2 -1.1 .1 -1 .2 -.9 .1 -.8 .2 -1.1 .1 -1 .2 -.8 .1 -1.1 .2 -1.1 .1 -.8 .1 -.9 .2 -1.1 .1 -1.1 .2 -1 .1 -.8 .2 -1.1 .1 -1.2 .2 -.5 .7 .4 .7 .3 .7 1.4 .1 .8 .1 1 .1 .9 .1 1 .1 1.1 .1 .9 0 1.1 .1 1 .1 1 .1 1.1 .1 .9 .1 1.1 .1 .9 .1 .8 .1 1.1 .1 1.1 .1 1 .1 .9 .1 1.1 .1 1 .1 .9 .1 1 0 1.1 .1 1 0 .9 .1 1 0 1 .1 1 0 1 0 1 .1 1 0 1 .1 1.1 0 1 .1 1 0 1 .1 1 0 1 .1 .9 0 1 .1 1 0 1.1 0 1 .1 1 0 1 .1 .9 0 1 .1 1 0 1 .1 1 0 1 .1 1 0 1 .1 1 0 1 0 1 .1 1.1 0 1 .1 .9 0 1 .1 1 0 .9 .1 1.1 .1 1 .1 .9 .1 1.1 .1 .9 .1 .9 .2 1.1 .1 1.1 .1 1 .1 1 .1 1 .1 1 .2 .9 .1 .9 .1 1.2 .1 1.1 .1 1 .1 1 .1 1.3 .8 .1 1 -1.1 1 -.3 .8 .3 .7 0 .7 -.7 .8 -1.4 .7 .3 .7 .5 .7 .5 .7 1.2 .7 .6 .7 .5 .8 .2 .6 .3 .6 1.4 .7 1.6 .6 .7 .6 0 .6 .8 .6 1.3 .6 .6 .6 .6 .6 1.2 .6 .7 .9 .3 .9 .5 .9 1.1 .9 .4 .9 -.2 .9 -.4 .9 .8 .9 1.1 .9 .4 1 .5 1 -.2 .9 -.1 1 0 1 1.1 1 1 1 -.2 .9 .3 1 .4 1 .1 1 -.2 1 .5 1 -1.1 1 -.9 1 .2 1 -.1 1 -.8 1 -.5 1 1 1 -.2 .9 -.2 1 .1 1 -.4 1 -.4 1 -.2 1 -.1 1 .3 1 .1 1 .1 1 .5 1 0 1 .9 1 -1.1 .9 -2.3 1 .3 1 2.3 1 1 1 .3 1 .1 1 -.8 1 -.4 1 0 1 .3 1 .4 1 -.3 1 -.7 1 -.1 1 -.7 1 -1.5 1 -1 1 1.3 1 1.9 1 -.2 1 .4 1 .4 1 -.7 .7 .2 .8 -.8 .8 -1.2 .8 -.5 .8 -3.1 .8 -.4 .8 1.5 .8 0 .8 0 .8 -1.3 .9 .1 1 -.1 .9 -1.1 1 -.1 1 -.6 .9 .1 1 -.2 1 -1.2 .9 1 1 .4 1 -.2 .9 .2 .9 .2 .6 -.4 .5 -1.5 .6 -.9 .5 -.3 .6 -.4 .5 0 .6 -1.1 .5 -1.3 .6 -.7 .5 -.7 .6 -1.6 .5 -1.5 .5 -.6 .5 -.9 .5 -.8 .5 -.4 .6 -1 .5 -.8 .5 -.2 .5 -1 .5 -1.2 .5 -.8 .5 -1.1 .4 -1 .3 -1.1 .2 -.8 .3 -.6 .2 -1.1 .3 -1.1 .3 -1.1 .2 -1.1 .3 -.7 .2 -.9 .3 -1 .3 -1.1 .2 -1.2 .3 -.9 .3 -.5 .2 -1 .3 -1.4 .2 -1 .3 -.8 .1 -.8 .1 -.9 .1 -1.1 .1 -1.1 .1 -1 .1 -1 .1 -1 .1 -.9 .1 -1 0 -1 .1 -1 .1 -1 .1 -1 .1 -1 .1 -.9 .1 -1 .1 -1 .1 -1.1 .1 -1.1 .1 -1 0 -1 .1 -1 .1 -.8 .1 -1 .1 -1 .1 -1.1 .1 -1.1 .1 -.9 .1 -1 .1 -.9 .1 -1 0 -1 .1 -1.1 .1 -1 .1 -1 .1 -1 .1 -1 .1 -1.1 .1 -1 .1 -.9 0 -.9 .1 -1.1 .1 -1.1 .1 -.8 .1 -.9 0 -1 .1 -1.1 .1 -1 .1 -1 0 -1 .1 -1.1 .1 -1 .1 -.9 .1 -1 0 -1.2 .1 -.8 .1 -1 .1 -1 .1 -1 0 -1 .1 -1 .1 -1 .1 -1.1 .1 -.9 0 -1 .1 -1 .1 -1 .1 -.9 0 -1.1 .1 -1.1 .1 -1.1 .3 -1.3 .7 -1.1 .7 -.6 .5 .3 .1 1.3 .1 .9 .1 1 .1 1.3 .1 .8 .1 1 .1 1 .2 1.1 .1 1 .1 1 .1 .8 .1 1 .1 1 .1 1.2 .1 .9 .1 1 .1 1.1 .1 .9 .1 1 .1 .9 .1 .8 .1 1.1 .2 1.2 .1 1 .1 1 .1 .9 .1 1 .1 1.1 .1 1 0 1 .1 .9 .1 1 0 1.1 .1 1 0 .9 .1 1 .1 1 0 1.1 .1 .9 .1 1.1 0 1 .1 1 .1 .9 0 1.1 .1 1 .1 .9 0 1 .1 1 .1 1 0 1 .1 1.1 .1 .9 0 1 .1 1.1 0 .9 .1 1.1 .1 .9 0 .9 .1 1.1 .1 1 0 1 .1 1.1 .1 1 0 .9 .1 1.1 .1 .9 0 1 .1 1 .1 1 0 1 .1 1 .1 1 0 1 .1 1 0 1.1 .1 1 .1 1.1 0 .9 .1 .9 .1 1 0 1.1 .1 1 0 .9 .1 1 .1 1 0 1 .1 1.1 .1 1 0 .9 .1 1.1 0 1 .1 .9 .1 1.1 0 1 .1 1 .1 .9 0 1 .1 1 0 .9 .1 1 .1 1.1 0 1 .1 1 .1 1 0 1 .1 1 0 1 .1 1 .1 1 0 1 .1 1 .1 1 0 1 .1 1 0 1.1 .1 .9 .1 1.1 0 .9 .1 .9 0 1.1 .1 1 .1 1 0 1 .1 1.2 .9 .1 1 0 1 .3 1 -.1 1 -1.2 1 -2.3 1 -1.3 1 2.8 1 2.2 1 -.4 1 -.5 1 .5 1 .1 1 -.9 1.1 -1.9 1 -.6 1 .8 1 .4 1 1.5 1 .9 1 -.9 1 0 1 .6 1 0 1 .5 1 -.4 1 .3 1 .1 1 -1 1 .5 1 -.1 1 -3.1 1 .6 1 2.3 1 -.8 1 .5 1 .4 1 -.3 1 .3 1 -.2 1 -.1 1 .1 1 -2.7 1 0 1 2.6 1 .4 1 -.4 1 0 1 .1 1 .3 1 -.2 1 -2.8 1 -3.7 1 -.4 1 3.7 1 2.6 1 .3 1 -2.7 1 -3 1 2.4 1 2.8 1 1.1 1 .6 1 -.6 1 -3.5 1 .1 1 3.5 1 .4 1 -.2 1 -.5 1 -4.1 1 0 1 4.7 1 -.3 1 -.4 1 -4.7 1 -.6 1 4.3 1 .2 1 1.1 1 .8 1 -.3 1 -.6 1 .1 1 -4.8 1 -.8 1 4.4 1 .5 1 -5.7 1 -.2 1 6.6 1 -3.3 1 -.7 1 3.3 1 -2.1 1 -2 1 2.2 1 2.2 1 -.8 1 -.5" stroke="#1010d2" stroke-width="4.0" fill="none" stroke-linejoin="round" stroke-linecap="round"/>
<path d="M938.9 128l0 4 .1 0 0 4 .1 0 0 4 .1 0 .1 0 0 4 .1 4 .1 0 0 4 .1 0 0 4 .1 0 0 4 .1 0 0 4 .1 0 .1 4 .1 4 .1 0 0 4 .1 0 0 4 .1 0 0 4 .1 0 0 4 .1 0 0 4 .1 0 .4 0 .8 4 .7 0 .8 4 .8 0 1 -4 .9 0 1 0 .9 0 1 0 .9 0 .2 0 .2 -4 .3 0 .2 0 .2 -4 .2 0 .3 0 .2 -4 .2 0 .2 0 .3 0 .2 -4 .2 0 .2 0 .3 0 .2 -4 .2 0 .2 0 .3 0 .2 -4 .2 0 .2 0 .3 0 .2 0 .2 0 .2 -4 .3 0 .1 0 .2 0 .2 -4 .2 0 .2 0 .2 -4 .2 0 .2 0 .2 0 .2 -4 .2 0 .2 0 .2 0 .2 0 .2 0 .2 -4 .2 0 .2 -4 .2 0 .2 0 .2 0 .2 -4 .1 0 .2 0 .2 -4 .2 0 .2 0 .2 0 .2 0 .2 0 .2 -4 .5 0 .6 0 .6 0 .6 -4 .6 -4 .6 0 .6 4 .6 0 .6 -4 .6 0 .8 0 .9 0 .9 4 1 -8 .9 4 .9 -4 .7 4 .6 -4 .7 0 .6 -4 .7 4 .6 -4 .7 0 .7 4 1 -4 1 0 1 0 1 0 1 4 1 0 1 0 1 0 .4 0 .4 0 .3 0 .4 0 .3 0 .4 4 .4 0 .3 0 .4 0 .4 4 .3 0 .6 0 .5 0 .6 -8 .5 0 .6 0 .5 4 .6 -4 .4 0 .4 -4 .4 4 .4 0 .4 0 .4 -4 .4 -4 .4 0 .3 -4 .4 0 .4 0 .4 4 .4 0 .4 -4 .4 0 .4 0 .3 -4 .3 4 .3 0 .3 4 .3 -4 .3 0 .3 4 .3 4 .3 0 .3 0 .2 0 .1 4 .1 0 .1 0 .1 0 0 4 .1 0 .1 0 .1 0 .1 0 .1 4 .1 0 .1 4 .1 0 .1 0 .1 0 0 4 .1 0 .1 0 .1 0 .1 0 .1 4 .1 0 .1 4 .1 0 .1 0 .1 0 0 4 .1 0 .1 0 .1 0 .1 4 .1 0 .1 0 .2 0 .2 4 .1 0 .2 4 .2 0 .2 0 .2 0 .1 0 .2 4 .2 0 .4 0 .9 -8 .8 4 .8 0 .9 0 .8 0 .8 0 .8 0 .6 0 .6 0 .6 0 .6 4 .6 0 .6 0 .6 0 .6 0 .6 -4 .6 8 .6 -4 .6 0 .6 0 .6 4 .6 -8 .6 4 .6 -4 .7 4 .6 -4 .6 0 .7 -4 1 4 1 0 1 0 .9 0 1 0 1 0 1 0 .8 0 .7 -4 .6 0 .6 0 .7 0 .6 0 .6 0 .6 -4 .7 0 .6 0 .6 -4 .7 0 .6 0 .7 4 .9 -4 1 0 1 0 .9 -4 1 0 1 0 .9 0 1 0 1 4 .9 0 1 0 .9 0 1 0 .9 0 1 -4 .9 0 1 0 .9 0 1 0 .9 0 1 0 .8 0 .9 0 .8 0 .9 0 .8 0 .9 0 .9 4 .8 4 .9 -4 .8 0 .9 -4 .8 0 1 0 .9 0 1 0 1 4 .9 0 1 4 1 0 .9 0 .9 0 .6 -4 .6 0 .6 0 .7 4 .6 0 .6 0 .6 4 .6 0 .6 4 .7 -4 .6 0 .6 -4 .7 -4 .9 4 .8 4 .8 0 .9 0 .8 0 .9 4 .8 4 .9 -4 .8 4 .8 0 .9 0 .8 0 .9 -4 .8 0 .9 0 .8 4 .9 -4 .9 0 .9 4 .9 -4 .8 4 .9 -4 .9 0 .9 -4 .7 0 .7 0 .6 -4 .6 0 .7 4 .6 0 .7 0 .6 0 .6 -4 .7 4 .6 -4 .5 0 .2 -4 .3 0 .3 0 .3 0 .3 0 .3 0 .3 -4 .2 0 .3 4 .3 -4 .3 -4 .3 0 .3 0 .3 -4 .3 0 .2 0 .3 0 .3 0 .3 -4 .3 -4 .3 0 .3 0 .2 -4 .3 0 .2 0 .2 0 .2 0 .2 0 .2 0 .2 -4 .2 0 .2 0 .2 -4 .2 0 .2 0 .2 0 .2 0 .2 0 .2 -4 .2 0 .2 0 .1 0 .2 -4 .2 0 .2 0 .2 0 .2 -4 .2 0 .2 0 .2 0 .2 -4 .2 0 .2 0 .2 -4 .2 0 .5 0 .6 0 .5 4 .6 0 .6 -4 .6 4 .5 0 .4 4 .1 0 .1 0 .1 0 .1 4 .2 0 .1 0 .1 4 .1 0 .1 0 .1 0 .1 4 .2 0 .1 0 .1 0 .1 4 .1 0 .1 0 .1 0 .2 4 .1 0 .1 0 .1 0 .1 4 .1 0 .1 0 .2 0 .1 4 .1 0 .1 0 .1 0 .1 4 .1 0 .2 0 .1 0 .1 4 .2 0 .2 0 .2 0 .2 0 .2 4 .2 0 .2 0 .2 0 .2 4 .1 0 .2 0 .2 4 .2 0 .2 0 .2 0 .2 0 .2 4 .2 0 .2 0 .2 0 .5 4 .5 0 .6 0 .6 0 .6 0 .5 4 .6 4 .7 0 .8 -4 .8 0 .9 -4 .8 0 .8 0 .9 4 .8 0 1 -4 .9 -4 1 0 1 0 1 4 .9 -4 1 0 1 0 .5 0 .3 4 .2 0 .3 0 .3 0 .3 4 .2 0 .3 4 .3 0 .2 0 .3 0 .3 0 .3 4 .2 0 .3 0 .3 0 .3 -4 .3 0 .3 0 .2 0 .3 0 .3 0 .3 -4 .3 -4 .3 0 .3 0 .3 0 .2 0 .3 0 .6 -4 1 0 1 0 1 4 .9 -4 1 4 1 0 1 4 1 0 1 -4 1 0 1 0 .9 0 .5 0 .4 0 .5 4 .4 0 .5 4 .4 -4 .5 0 .4 0 .5 4 .4 0 .5 0 .4 0 .5 4 .6 0 .8 4 .9 0 .8 -4 .8 -4 .9 8 .8 4 .8 0 1 -4 1 0 1 0 1 0 1.1 0 1 0 1 -4 1 4 .9 -4 1 4 1 0 1 0 1 0 1 4 1 -4 1 0 1 0 .4 0 .4 0 .3 0 .3 0 .3 -4 .3 0 .3 0 .3 0 .3 -4 .3 4 .4 -4 .3 0 .3 -4 .3 0 .3 0 .3 0 .4 -4 .9 0 .8 0 .8 -4 .9 0 .8 0 .9 4 .8 -4 .3 0 .3 0 .3 0 .3 -4 .2 0 .3 0 .3 0 .3 -4 .2 0 .3 0 .3 0 .3 -4 .2 0 .3 0 .3 0 .3 0 .2 0 .3 0 .3 -8 .3 0 .2 0 .3 0 .3 0 .3 0 .2 0 .3 -4 .3 0 .3 0 .2 0 .4 -4 .4 -4 .4 0 .5 0 .4 0 .5 0 .4 4 .5 -4 .4 0 .5 0 .4 0 .5 -4 .4 -4 .5 4 .3 -4 .2 0 .2 -4 .2 0 .2 0 .2 0 .2 -4 .2 4 .3 -4 .2 0 .2 0 .2 -4 .2 0 .2 0 .2 0" stroke="#080808" stroke-width="4.2" fill="none" stroke-linejoin="round" stroke-linecap="round"/>
<path d="M938.4 55.1l0 1 0 1 0 1 0 1 0 1 0 1 0 1 0 1 0 1 0 1 0 1 0 1 0 1 0 1 0 1 0 1 .1 1 0 1 0 1 0 1 0 1.1 0 1 0 .9 0 1 0 1.1 0 1 0 .9 0 1 0 1 0 1.1 0 .9 0 1 0 1.1 0 .9 0 1 0 1.1 0 1 0 1 0 1 0 1 0 1 .1 1 0 1 0 1 0 1 0 1 0 1 0 1 0 1 0 1 0 1 0 1 0 1 0 1 0 1 0 1 0 1 0 1 0 1 0 1 0 1 0 1 0 1 0 1 0 1 0 1 0 1 .1 1 0 1 0 1 0 1 0 1 0 1 0 1 0 1 0 1 0 1 0 1 0 1 0 1 0 1 0 1 0 1 0 1 0 1 0 1 0 1 0 1 0 1 0 1 0 1 0 1 0 1 .1 1 0 1 0 1 0 1 0 1.1 0 .9 0 1.1 0 1 0 1 0 1 0 1 0 1 0 1 0 1 0 1 0 1 0 1 0 1 0 1 0 1 0 1 0 1 0 1 0 1 0 1 0 1 .1 1 0 1 0 1 0 .7 .1 1.3 .1 .7 0 1.2 .1 1 0 1.2 .1 .8 0 1.1 .1 1.1 0 1 .1 .8 .1 1.3 0 1 .1 1 0 .7 .1 .8 0 1.5 .1 .9 0 .6 .1 1.5 .1 .9 0 .7 .1 1.3 0 1.2 .1 .5 0 1.2 .1 .8 0 .9 .1 1.7 0 .7 .1 .8 .1 1 0 .1 .5 -1.2 .7 3.3 .7 -.1 .9 -.4 1 1.9 .9 -3.4 .9 2.2 1 -1.3 .6 .7 .1 -1.2 .2 -1.8 .2 .4 .2 -3.1 .2 -.3 .2 -.4 .2 -.9 .2 -1.2 .2 -1.5 .2 -1.8 .2 .3 .2 -1.6 .2 -.4 .2 -1.8 .2 -.2 .2 -.7 .2 -.6 .2 -.9 .2 -2.5 .2 -1 .2 -.3 .2 -1.3 .1 -.9 .2 -1.4 .2 -1.1 .2 -.8 .2 -.4 .2 -1.6 .2 -.3 .2 -.8 .2 -.7 .2 -1.7 .1 -.4 .2 -.8 .1 -2 .2 -.1 .1 -1.3 .2 .3 .1 -2 .2 -1.1 .2 -2.7 .1 .7 .2 -1.4 .1 -.8 .2 -2.6 .1 .7 .2 -1.1 .2 -1.3 .1 -.7 .2 -1.1 .1 -1.7 .2 -1.1 .1 .7 .2 -1 .1 -1.1 .2 -.9 .2 -1.5 .1 -.8 .2 -1.7 .1 -.5 .2 -1.7 .1 -1.3 .2 .5 .1 -1 .2 -1 .2 -1.2 .1 -1.5 .2 -.7 .1 -.6 .2 -1.1 .3 -2 .3 -.9 .4 2.1 .3 -5.2 .3 2.1 .3 -2.3 .3 -1.3 .3 -1 .3 -.7 .4 -2 .3 1.2 .3 -4.2 .3 -.1 .3 -.6 .3 2.1 .3 -4.4 .4 1.7 .3 -2 .3 -2.2 .4 -1.1 .4 -2.2 .3 2.5 .4 -4.7 .4 .6 .4 .9 .4 -.6 .4 -2.9 .4 -1.6 .4 1.6 .4 -.9 .4 -3 .4 -2.7 .7 4.9 .9 -.7 .9 -1.9 1 1.1 .9 -1.8 .9 1.3 .7 -2.3 .7 -1.5 .7 4.8 .7 -1.3 .7 .6 .6 2.3 .5 -2.1 .6 -1.6 .5 -1.6 .6 1.8 .5 1.2 .6 -6.4 .5 1.3 .5 -.5 .6 -1.4 .2 1.9 .1 -.4 .2 2.2 .1 1.2 .2 .3 .1 .9 .1 .6 .2 1.2 .1 2 .1 .1 .2 .1 .1 1.6 .2 .8 .1 2.5 .1 .4 .2 2 .1 .6 .2 1.3 .1 -.5 .1 1.4 .2 .7 .1 1.3 .2 .9 .1 .8 .1 .8 .2 1.5 .1 2.4 .2 -.5 .1 .9 .1 1.7 .2 1 .1 .7 .2 2 .1 -.4 .1 1 .2 1.6 .1 2.1 .5 -.9 .5 -1 .6 2.1 .5 -3.2 .6 -4.2 .5 .6 .6 .3 .3 -1.4 .1 -1.4 .1 -.1 .2 -2 .1 -.4 .1 -1.2 .2 -.5 .1 -1.4 .1 -.1 .1 -2.1 .2 .7 .1 -1.9 .1 -1.6 .2 -1 .1 -1.9 .1 -.5 .1 -.6 .2 -.7 .1 -.9 .1 -1.7 .1 -.6 .2 0 .1 -2.3 .1 -1.8 .2 .3 .1 -.5 .1 -2.1 .1 -1.3 .2 -.6 .1 -.8 .1 -1.4 .2 -1.5 .1 -.1 .5 -5 .8 7.7 .9 -3.7 .8 -2.7 .2 2.1 0 1.5 .1 .9 .1 .7 .1 .7 0 1.1 .1 1.3 .1 .4 0 1.8 .1 1.4 .1 .2 .1 1.1 0 .9 .1 1.5 .1 .7 .1 1.1 0 .9 .1 .2 .1 1.6 .1 1.3 0 .4 .1 1.5 .1 1 .1 .6 0 1.6 .1 .3 .1 1.5 .1 .5 0 1.7 .1 .6 .1 .7 .1 2.1 0 .2 .1 .9 .1 1.2 .1 1.1 0 1 .1 1.4 .1 .5 .1 .9 0 .9 .1 .7 .1 1.5 .1 1.2 0 .6 .1 1.8 .1 .2 .1 1.2 0 1.2 .1 .8 .1 1.3 .1 .7 0 1.3 .1 1 .1 .5 .1 1 0 .9 .1 1.7 .1 .9 0 1 .1 .2 .1 .7 .1 1.8 0 1.4 .1 .6 .1 .8 .1 1 0 1.3 .1 1.1 .1 1.2 .1 .6 0 .7 .1 .9 .1 1.1 .1 1.2 0 1 .1 .9 .1 1 .1 .7 0 1.5 .1 .6 .2 -.4 .8 -3.1 .9 3.7 .8 -.1 .5 -2.5 .3 -1.4 .3 1.6 .2 -1.1 .3 -3.2 .3 .2 .2 -.2 .3 -.7 .3 -2.7 .3 -.5 .2 -.5 .3 -.8 .3 .1 .2 -1.6 .3 -.9 .3 -1.4 .3 1.8 .3 1.5 .4 -.7 .3 1.6 .3 2.2 .3 -1.7 .4 3.2 .3 1.2 .3 .5 .3 .3 .3 -.3 .4 2.9 .4 -2.5 .5 2 .5 -3.2 .5 1 .5 -1.7 .5 .8 .6 -1.8 .5 -3.2 .5 1 .5 1.1 .5 -2.6 .5 -1.1 .9 -.4 1 -.5 1 .9 1 -1.2 1 -2.4 1 5.8 1 .2 1 -1.3 .8 -.8 .5 .9 .5 -4.6 .6 .7 .5 -3.4 .6 -.7 .5 .4 .6 -.2 .5 .2 .5 2 .6 -6.2 .5 1.9 .6 -1.9 .5 1.4 .5 -5 .7 1.1 .7 -.8 .7 1.5 .8 -4.3 .7 -1.7 .7 2.4 .7 1.6 .7 -4.4 .7 2.1 .8 -2.1 .7 -2.2 .7 1 .7 -3 .7 -.1 .7 -1.1 .7 .8 .7 -2.5 .7 -.1 .7 -1.9 .7 -.9 .7 -2.5 .7 4.9 .7 -8.1 .8 6.2 .9 3.1 .8 -1.3 .8 .1 .9 6.6 .8 -7.3 .8 -2.9 .8 3.7 .7 .9 .7 3.6 .7 -1.7 .7 .3 .7 -1.3 .7 1.9 .7 3.8 .7 1.3 .7 2.2 .8 -1.6 .7 1 .8 .9 .9 -2.2 .9 3 .9 3.3 .9 -.6 .9 -.1 .9 -.8 .9 1.8 .9 -1.3 .9 -2.2 .9 3.9 .8 -.7 .9 1.4 .8 -3.3 .9 5.5 .8 2.2 .9 -2.1 .8 -3.1 .9 1 .8 -3.1 .8 5.7 1 -.4 .9 .5 .9 2.3 1 -3 .9 -.6 .9 3.4 1 3.5 .9 -1.5 1 -1.5 .9 2.5 .9 -3.6 .9 .8 1 1.1 .9 4.1 .9 -4.5 .9 2.9 .9 4.4 .9 -3.6 .9 1.2 .9 1.3 .8 .8 .4 -3.5 .4 2.4 .4 -4.5 .4 .6 .5 -2.2 .4 .2 .4 2 .4 .5 .4 -7.9 .4 .6 .4 -.3 .4 -1.3 .4 -1.1 .5 -.3 .4 .6 .4 -4.4 .4 .6 .4 1.9 .4 -2.7 .4 -2.1 .3 1.8 .3 -4.3 .2 .5 .3 -2.9 .3 1.6 .3 -1.7 .3 .3 .3 -3 .3 -1.2 .3 -.3 .2 1 .3 -.1 .3 -3.9 .3 0 .3 -1.2 .3 -2 .3 1.2 .2 -2.2 .3 -1.8 .3 -1.3 .3 .7 .2 -1 .2 -.4 .1 -1.8 .2 -.9 .2 -.9 .2 -.9 .2 -1.7 .1 .4 .2 -1.1 .2 -2.4 .2 -.9 .1 -1.5 .2 -1.1 .2 -.2 .2 -1.2 .1 -.5 .2 -.1 .2 -1.5 .2 -1.5 .2 -1.3 .1 -.1 .2 -1 .2 -.8 .2 -1.6 .1 -1.9 .2 -.8 .2 -1.2 .2 -.1 .1 -.1 .1 -1.1 .1 -.9 .1 -1.8 .1 -1.5 0 -.1 .1 -1.5 .1 -.8 0 -.9 .1 -.7 .1 -1.4 .1 -1.2 0 -1.4 .1 -.9 .1 -.9 0 -.7 .1 -1.4 .1 -.1 .1 -1.8 0 -1.3 .1 -1.1 .1 -.6 0 -1.4 .1 -.6 .1 -.9 .1 -.4 0 -1.7 .1 -1 .1 -1 0 -.3 .1 -1.5 .1 -1.1 .1 -.4 0 -1.7 .1 -1.1 .1 -1 0 -.5 .1 -1 .1 -.8 .1 -1.1 0 -1 .1 -1.3 .1 -1.1 .1 -1.1 0 -.3 .1 -1.7 .1 -.4 0 -1.1 .1 -1.2 .1 -1.2 .1 -.8 0 -1 .1 -1.5 .1 -.6 0 -.7 .1 -1.5 .1 .4 0 .5 .1 1.5 .1 .6 0 .8 .1 1.2 0 .8 .1 1.5 .1 .8 0 1.1 .1 1.1 .1 1 0 .4 .1 1.5 0 1.1 .1 .7 .1 .8 0 1 .1 .7 0 2 .1 .5 .1 .8 0 1.3 .1 1.5 .1 .3 0 1.3 .1 .5 0 1.1 .1 1.1 .1 1.2 0 1.2 .1 .7 0 1 .1 1.1 .1 .9 0 1.1 .1 1.1 0 .5 .1 1.6 .1 1.4 0 .5 .1 1 .1 1.1 0 1 .1 .9 0 .6 .1 1.6 .1 .8 0 .6 .1 1.3 0 .8 .1 1 .1 .8 0 1.2 .1 .9 .1 1 0 1.5 .1 .7 0 .9 .1 1.3 .1 .9 0 1.5 .1 .6 0 .8 .1 .4 .1 1.5 0 .9 .1 .5 0 1.7 .1 .9 .1 1.1 0 1.3 .1 .9 .1 1 0 1.3 .1 .8 0 .8 .1 .9 .1 1 0 1.2 .1 1.2 0 .5 .1 1.1 .1 .8 .1 1.7 .1 .5 .1 .6 .2 1.4 .1 1 .1 1.3 .2 .9 .1 .9 .1 1.5 .2 .5 .1 .6 .1 .5 .2 1.3 .1 1.9 .1 .7 .2 1.3 .1 1.1 .1 .4 .2 1.3 .1 .8 .2 .7 .1 .4 .1 2.5 .2 .3 .1 .3 .1 1.6 .2 1.3 .1 .5 .1 1.3 .2 1.4 .1 .6 .1 .5 .2 1 .1 1.4 .1 .3 .2 1.9 .1 .9 .2 1 .1 1 .1 1.1 .2 1.4 .1 0 .1 1.5 .2 .5 .1 1.6 .2 -1.6 .4 2.8 .4 1.3 .4 1.9 .4 .7 .4 0 .4 2.7 .4 .8 .4 .2 .4 -1.1 .4 0 .4 4.8 .5 -.5 .4 -1 .4 1.7 .4 .6 .4 -1.4 .4 .2 .5 .8 .4 -1.3 .5 -.7 .4 -1.4 .5 -1.8 .4 -1.7 .5 2.1 .5 -.2 .4 -2.4 .5 -.2 .4 -4.3 .5 5.1 .4 -5.2 .5 -1.5 .4 -.2 .5 .8 .6 0 .8 .3 .9 -1.3 .8 -.3 .9 -2.1 .9 -.9 .8 1.6 .9 -4.1 .8 4.6 .9 -4 .8 -1.7 .9 -1.4 .7 -.6 .6 3.9 .6 -7.1 .6 2.1 .6 -.7 .6 -2.9 .6 2.3 .5 -1.6 .6 1.8 .6 -1.9 .6 -4.1 .7 1.2 .6 1.2 .6 2.1 .7 .6 .6 3.2 .6 -.3 .6 -.1 .7 .6 .6 1 .6 0 .6 3.5 .7 -3.7 .6 2.3 .7 3.8 .7 1.3 .7 -.7 .7 -1.1 .8 2.1 .7 .2 .7 1.7 .7 -.7 .7 3.4 .7 1.4 .7 -1.6 .8 .8 .8 -4.9 .7 3.5 .8 6.1 .8 -6 .8 4.2 .8 1.5 .8 -.6 .8 -2.3 .8 -.1 .5 1.5 .3 3.9 .3 .4 .4 2 .3 -1.6 .3 .8 .4 1.5 .3 3.7 .3 -.3 .3 .4 .4 1.6 .3 .8 .3 .4 .4 .6 .3 .6 .3 1.1 .3 1.3 .4 .1 .3 2.2 .4 .2 .4 -.7 .4 -2.7 .4 2.5 .4 -1.4 .3 -1.1 .4 -1.3 .4 -4.4 .4 2.2 .4 -.3 .4 -1.2 .4 -2.8 .4 1 .4 -.8 .4 -3.3 .4 0 .4 .5 .3 -1.3 .4 -1 .4 .7 .3 -2 .4 -1.5 .4 -3.7 .3 2 .4 -1.9 .4 -1.3 .3 1.8 .4 -3.4 .4 -1.6 .3 .4 .4 -2.7 .3 -.6 .4 -1 .4 -.2 .3 -1.7 .4 1.1 .4 -1.7 .3 -.2 .3 -1.2 .4 -1.8 .3 -.7 .3 -1.3 .3 -.7 .3 -.7 .3 -.5 .4 0 .3 -2.5 .3 -1.1 .3 .1 .3 -3.1 .3 .3 .4 -1.1 .3 0 .3 -.4 .3 -2.5 .3 -.8 .3 -1.3 .4 -.1 .3 -1.2 .3 -.1 .3 -1.6 .3 -1.5 .4 -3.3 .3 -.3 .3 2.3 .4 .5 .3 -3.1 .4 -1.8 .3 .5 .4 -.9 .3 -3.5 .4 .9 .3 -.3 .4 -2.4 .3 -.8 .4 .2 .3 -1.9 .4 -1.5 .3 .4 .4 -2.9 .3 1.2 .3 -2.2 .2 .1 .2 -1.9 .2 -1.6 .2 .1 .2 -.9 .2 -.8 .2 -2.5 .2 0 .2 -1.3 .3 -.1 .2 -1.8 .2 -1.3 .2 .7 .2 -1.6 .2 -1.1 .2 -1.8 .2 -.2 .2 -.8 .2 -2 .3 -.7 .2 -1.1 .2 -.8 .2 -1.1 .2 1.1 .2 -3.1 .2 -1 .2 -.1 .2 -1.3" stroke="#1ee61e" stroke-width="4.2" fill="none" stroke-linejoin="round" stroke-linecap="round"/>
<path d="M900.9 225.8l1 -5.2 1 5.2 1 -2.9 1 4.4 1 -1.9 1 -2.1 1 .7 1 1.3 1 2.6 1 -2.9 1 1.4 1 -3.5 1 1.5 1 .5 1 -1.9 1.1 3.2 1 -2.4 1 .5 1 1.2 1 -4 1 4.8 1 2.3 1 -4.6 1 -3.8 1 11.4 1 -8.5 1 -1.8 1 2 1 2.8 1 1.5 1 -3.6 1 .1 1 1.2 1 -2.3 1 -1.6 1 4.6 1 -1.9 1 3.1 1 -1.9 1 4.5 1 0 1 -8.3 1 5.1 1 .5 1 -3.5 1 3.5 1 -.8 1 -3.4 .9 3.7 1 -.9 1 2.3 1 2.1 .9 -4 .9 -2.7 1 2.6 .9 -2.9 .9 3.3 .9 -3.3 1 -1.8 .9 4.1 .9 -2.1 1 0 .9 -2.3 .9 1.2 .9 -2.5 1 -3.2 .9 5 .9 1.2 1 -4.1 .9 -4.2 .9 6.7 1 -.5 .9 -.3 1 -1.1 1 -2.4 1 3 .9 -3.6 1 3.1 1 -4.6 1 3.3 1 -2.3 1 4 .9 -3 .9 3 .9 -5.5 .9 4.1 .8 -3.7 .9 -2.4 .9 -2.2 .8 2.8 .9 -2.7 .9 2 .8 -3 .9 3.3 .8 -2 1 -3.7 .9 1.1 .9 4.3 1 -4.7 .9 -.7 .9 2.5 .9 -.4 1 1 .9 -3.3 .9 .4 .9 -.1 .6 -2.4 .7 -1.5 .6 2.5 .6 -.9 .6 2.1 .6 -5.2 .6 -1 .6 .3 .6 -1.9 .6 3.4 .5 -4.5 .5 -3.1 .6 -1.6 .5 3.8 .5 -3.8 .5 -.7 .5 -.8 .5 .2 .5 .7 .6 .4 .5 -2.1 .5 -1.5 .9 -2.1 .9 -1.7 .9 2.3 .9 -.1 .9 1 .9 -6.6 .9 1.3 .9 1.7 .9 -.2 .7 -1.9 .6 2.9 .6 0 .7 -3.6 .6 -.7 .7 -.6 .6 -4.3 .7 .1 .6 .4 .7 1.6 .6 -4.9 .7 1.8 .6 -5.8 .7 5.1 .6 -4 .7 1.6 .6 -2 .7 -.4 .6 2.3 .6 -3.9 .6 3.9 .7 -8.9 .6 -2.2 .6 1.9 .7 .5 .6 -2.7 .6 1.8 .7 -1.4 .6 1.7 .6 -3 .7 -1.3 .6 2.2 .8 -2.3 .8 3.8 .8 1.6 .8 -9.4 .8 -.6 .8 1.6 .8 .5 .8 .4 .8 .7 .8 -4.3 .8 -1.9 .7 -1 .9 1.9 1 -.2 1 -1.6 1 -2.1 1 4.4 1 3.7 1 -4.1 1 -.7 1 0 1 -3.4 1 -.2 .7 4.2 .7 -7.1 .7 6 .7 -3.8 .8 1.4 .6 -3.2 .5 5.8 .5 -3.3 .6 5.8 .5 -3 .5 1.6 .5 -2.9 .5 2.2 .5 2.9 .5 1.8 .6 -.1 .5 -1.3 .6 2.4 .8 1.7 .8 .9 .8 -3.4 .7 6 .8 2.6 .8 -.2 .8 1.6 .8 -5.6 .8 5.6 .7 0 .8 -2.3 .8 1.5 .8 1.4 .8 3.4 .8 -3.4 .8 .2 .7 .4 .8 3 .8 1.4 .8 -3.4 .8 3 .7 .4 .8 .5 .8 -2.6 .8 5 .8 -.2 .8 .7 .9 1.1 .8 -3.8 .8 4.8 .9 3.3 .8 -.7 .8 -3.7 .8 4.9 .7 -.4 .8 1.1 .7 .3 .7 -1.3 .8 1.4 .7 .3 .8 4.4 .7 -4.5 1 3.3 1 -1 1 -2.3 1 -3.6 1 3.6 1.1 -1.1 1 2.4 1 -.8 1 1.5 1 -2.4 1 4.3 1 -3.1 1 1 1 .4 1 .4 1 2.5 1 -3.2 1 1.8 1 -3.4 1 -1.7 1 3.9 1 -1.1 1 2.5 1 -1.1 1 -1.2 1 3 1 -1.6 1 -1.7 1 -3.7 1 1.6 .9 1.4 .9 3.3 .9 -1.5 .8 -4.8 .9 -1.5 .9 2.7 .8 .1 .9 -4.9 .9 3.9 .8 .4 .9 -1.3 .9 1.4 .8 -1.5 .7 -1.8 .8 .3 .8 -2.9 .8 3.1 .8 -2.3 .8 .5 .7 -4 .8 -2.3 .8 5.1 .8 -4.3 .8 -1 .8 -1.1 .9 -1.7 1 -2.4 1 1.2 1 4.5 1 -.8 1 .2 1 -.9 1 -1.6 1 3.6 1 .9 1 -2.6 .9 -.8 1 -2.5 .9 4.5 1 -3.4 .9 1.3 1 -1.1 .8 -1.8 .8 4.9 .7 3.4 .8 -5.4 .8 .4 .8 5.4 .8 -2.3 .8 .5 .7 2.1 .8 -3.1 .8 4.5 .8 -2.7 .7 1.2 .5 2.2 .5 3.5 .5 -.9 .5 -1.2 .5 2.1 .5 -.8 .5 3.6 .5 -2.7 .5 .7 .5 3.3 .5 2.1 .5 3.2 .5 -3.5 .5 3.6 .5 -1.8 .5 2 .7 .9 .7 3.8 .7 -2.1 .7 .8 .7 .1 .7 2.2 .7 -3.2 .7 3.9 .8 -1.6 1 5.3 .9 -1.2 1 -3.4 1 .7 .9 .9 1 .4 1 2.1 1 -4.3 .7 2.3 .7 4.5 .7 -2.5 .7 -6 .7 5.8 .8 -6.8 .7 1.2 .7 1.5 .7 -6.4 .7 .8 .7 1.4 .6 1.4 .4 -3.5 .3 -.6 .4 -3.9 .3 1.8 .4 -2.3 .3 -.2 .3 .9 .4 -.7 .3 -.4 .4 -2.3 .3 -2.2 .4 1.1 .3 -3.6 .4 -1.1 .3 .5 .4 -2.2 .3 2 .3 -2.4 .4 -.6 .3 -2.2 .4 .3 .3 -1.4 .4 -1.6 .3 -1.7 .3 -1 .3 -1 .3 -.3 .3 1.2 .3 -.4 .3 -2.2 .3 -2.4 .3 .8 .3 -1.8 .3 -2.4 .3 0 .3 -1.3 .3 -1 .3 -1 .2 .4 .3 -1.7 .3 -1.7 .3 1.7 .3 -2.5 .3 -.6 .3 -2.5 .3 -.1 .3 -1 .3 .2 .3 -1.5 .3 1.4 .3 -4.2 .2 1.3 .3 -2.3 .2 -1 .2 -1 .2 -.9 .3 -3.1 .2 1 .2 -1.6 .2 -.3 .3 -.7 .2 -2.2 .2 .1 .2 -.9 .3 -2.2 .2 -.3 .2 -.6 .2 -1.4 .3 -.3 .2 -1.2 .2 -2.2 .2 .4 .3 -1.7 .2 .1 .2 -3.5 .2 -.9 .3 .8 .2 -.5 .2 -.7 .3 -2.5 .2 -1.5 .2 .7 .3 -2 .2 -1.3 .3 -.6 .2 -1.3 .2 -1.2 .3 1.9 .2 -3.7 .3 -.3 .2 -.7" stroke="#e21818" stroke-width="4.2" fill="none" stroke-linejoin="round" stroke-linecap="round"/>
<path d="M935.9 6.2l.1 0 0 .5 0 1 0 .9 0 1.1 0 1 0 .9 0 1 0 1.1 .1 1 0 1 0 1 0 1 0 1 0 1 0 1 0 1 0 .9 .1 1 0 1.1 0 1 0 1 0 1 0 1 0 1 0 1 0 1 .1 1 0 1 0 1 0 1 0 1 0 1 0 1 0 1 0 1 .1 1 0 1 0 1 0 1 0 1 0 1 0 1 0 1 .1 1 0 1 0 1 0 1 0 1 0 1 0 1 0 1 0 1 .1 1 0 1 0 1 0 1 0 1 0 1 0 1 0 1 0 1 .1 1 0 1 0 1 0 1 0 1 0 1 0 1 0 1 0 1 .1 1 0 1 0 1 0 1 0 1 0 1 0 1.1 0 1 .1 .9 0 1 0 1.1 0 .9 0 1.1 0 .9 0 1 0 1.1 0 1 .1 1 0 1 0 1 0 1 0 1 0 1 0 1 0 1 0 1 .1 1 0 1 0 1 0 1 0 1 0 1 0 1 0 1 0 1 .1 1 0 1 0 1 0 1 0 1 0 1 0 1 0 1 .1 1 0 1 0 1 0 1 0 1 0 1 0 1 0 1 0 1 .1 1 0 1 0 1 0 1 0 1 0 1 0 1 0 1 0 1 .1 1 0 1 0 1 0 1 0 1 0 1 0 1 0 1 0 1 .1 1 0 1 0 1 0 1 0 1 0 1 0 1 .1 1 0 1 0 1.1 0 1 0 1 .1 .9 0 1.1 0 1 0 .9 0 1 0 1 .1 1 0 1 0 1 0 1.1 0 1 .1 1 0 1 0 1 0 1 0 1 .1 1 0 .9 0 1 0 1.1 0 1 .1 1 0 1 0 1 0 1 0 1 .1 1 0 1 0 1 0 1 0 1 0 1 .1 1 0 1 0 1 0 1 0 1 .1 1 0 1 0 1 0 1 0 1 .1 1 0 1 0 1 0 1 0 1 .1 1 0 1 0 1 0 1 0 1 0 1 .1 1 0 1 0 1 0 1 0 1 .1 1 0 1 0 1 0 1 0 1 .1 1 0 1 0 1 0 1 0 1 .1 1 0 1 0 1 0 1 0 1 0 1 .1 1 0 1 0 1 0 1.1 0 1 .1 .9 0 1 0 1.1 0 1 0 1 .1 1 0 .9 0 1 0 1.1 0 .9 .1 1.1 0 1 0 1 0 1 0 1 .1 1 .2 1 .5 1.1 .4 .7 .5 .6 .4 1.3 1 -.3 1 -.2 1 .5 1 .2 1 .5 1 -1.1 .7 -1 .6 .1 .6 -.7 .6 -.7 .6 -1.4 .6 -1.2 .6 -1 .6 -.1 .6 -.7 .6 -1.1 .3 -.8 .2 -1.2 .2 -1 .1 -.8 .2 -.8 .2 -1 .2 -1.3 .2 -1 .2 -.8 .1 -.8 .2 -1 .2 -1 .2 -1.1 .2 -1 .2 -.9 .1 -1.3 .2 -1 .2 -.7 .2 -1 .2 -1.1 .2 -.9 .1 -1 .2 -1 .2 -.9 .2 -1.1 .2 -1.2 .2 -.9 .1 -.8 .2 -.9 .2 -.7 .2 -1.1 .2 -1.1 .1 -.8 .2 -1 .2 -1.1 .2 -1.2 .2 -1.1 .2 -.9 .2 -1 .1 -.8 .2 -.9 .2 -1.1 .2 -1.3 .2 -.9 .2 -.7 .1 -1.2 .2 -1 .2 -.9 .2 -.9 .2 -1.2 .2 -1.2 .1 -.6 .2 -1 .2 -1.2 .2 -.9 .2 -.9 .2 -.8 .2 -1 .1 -1 .2 -.9 .2 -1.2 .2 -.8 .2 -.9 .2 -1.1 .1 -1.2 .2 -1 .2 -1.3 .3 -.8 .3 -.5 .3 -1.4 .2 -1.3 .3 -.2 .3 -.6 .2 -1.4 .3 -1.3 .3 -.6 .2 -1 .3 -1.2 .3 -1 .2 -.8 .3 -.8 .3 -.8 .3 -1.1 .2 -1.5 .3 -1 .4 -.2 .9 .5 .9 1.2 .9 .4 .9 -.5 .5 1.1 .3 1.2 .3 .9 .2 .8 .3 .7 .3 .7 .3 1.2 .2 1.3 .3 1 .3 .9 .2 1 .3 .9 .3 .8 .2 .9 .3 .9 .2 -.4 .2 -.9 .2 -.8 .3 -.6 .2 -1 .2 -1 .2 -1.2 .2 -1.2 .2 -.9 .2 -.8 .2 -.7 .2 -1 .2 -1.2 .2 -1.1 .2 -1 .5 -.9 .4 -.6 .4 -1.1 .4 -1.2 .4 -.9 .4 -.7 .5 -1.1 .4 -.6 .4 -.8 .4 -1.1 .2 .6 .1 .9 .2 1 .2 .9 .1 1.1 .2 1.1 .1 .8 .2 1 .1 1.1 .2 1 .1 1.2 .2 .8 .2 .9 .1 1.2 .2 1 .1 .8 .2 .9 .1 .9 .2 1.1 .1 1.1 .2 .9 .1 1.2 .1 .9 .1 .9 .2 1.1 .1 1 .1 1 .1 1 .1 1 .2 .9 .1 .9 .1 1.1 .1 1.2 .2 .9 .1 .9 .1 1.1 .1 1 .2 .8 .1 1.1 .1 1 .1 .9 .2 1.1 .1 .9 .1 1 .5 1.2 .7 .9 .7 .5 .1 -.9 .2 -1 .1 -1.1 .1 -1 .2 -1 .1 -1.2 .2 -.9 .1 -.9 .1 -1.2 .2 -.9 .1 -.9 .1 -.9 .2 -.8 .1 -1 .1 -1.1 .2 -1.1 .1 -1.1 .1 -.9 .2 -.9 .1 -1.1 .1 -1 .2 -.9 .1 -1 .2 -.9 .2 -1 .2 -1.1 .2 -1.1 .1 -.8 .2 -.8 .2 -1.2 .2 -1.2 .2 -.9 .1 -1 .2 -1 .2 -.9 .2 -.9 .2 -1 .2 -1.2 .1 -1.3 .4 0 .4 1.8 .5 1.1 .4 .4 .5 1 .1 .9 .1 1 .1 .9 .1 .9 .1 1.1 .1 1 .1 1 .1 1.1 .1 1 .1 1 .1 .9 0 1.1 .1 1 .1 .9 .1 1 .1 1 .1 1.1 .1 .8 .1 1 .1 1 .1 1.1 .1 1 .1 1 0 1.1 .1 .9 0 .9 .1 1.1 0 .9 .1 1 0 1.1 .1 1 0 1 .1 1 0 1 .1 1 0 1 .1 .9 0 1.1 .1 1 0 1 .1 1 0 .9 .1 1.1 0 1 .1 1 0 1 .1 1 0 .9 .1 1.1 .1 1 0 1 .1 1 0 1 .1 1 0 1 .1 1 0 1 .1 1 0 1 .1 1 0 1 .1 1 0 1 .1 1 .1 .9 .1 1.1 .1 1.1 .1 1 .1 .9 .1 .9 0 1 .1 1.1 .1 .9 .1 1 .1 1.1 .1 1.1 .1 .9 .1 1 .1 1 .1 1 .1 1 .1 1 0 .9 .3 .4 .6 -.9 .6 0 .7 -.3 .6 -1.1 .6 -1 .7 -.9 .6 -1 .6 -.9 .5 1.3 .6 1.6 .5 0 .5 .1 .5 1.2 .5 .7 .6 .9 .5 1 .5 .7 .5 1.1 .6 .6 .6 1.1 .6 1.6 .6 .2 .7 .2 .6 .6 .6 1.2 .6 1.7 .6 1.2 .6 .5 1 -.5 1 -.1 .9 .8 1 .5 1 .1 .9 .1 1 -.7 1 -.6 .9 .4 1 1.1 1 1.2 1 0 1 .5 1 .6 .9 -.5 1 .3 1 .4 1 -.7 1 -.2 1 .8 1 .1 .9 -.1 1 -.4 1 -.7 1 -.1 1 -.1 1 -.2 1 -1.4 1 -.9 1 -.3 1 .7 .8 1.4 .2 -.9 .2 -.9 .2 -1.2 .1 -1.1 .2 -1.1 .2 -.9 .2 0 .1 -.4 .2 -.1 .2 2.3 .2 1.8 .1 1 .2 1.1 .9 .3 1 .2 1 .3 1 .4 1 -.6 1 -.9 1 .2 1 .9 1 0 1 -.4 1 .1 1 0 1 -.3 1 0 1 .1 1 -.4 1 .7 1 .2 1 -.2 1 .1 1 .1 1 .4 1 -.1 1 .7 1 .1 1 -.9 1 -.3 1 -.2 .8 -.8 .7 -.4 .7 0 .8 -.5 .7 -.7 .8 -.7 .8 -1.2 .9 -.4 .9 -.2 1 -.1 1 .8 .9 -.1 1 -.7 1 -.2 1 -.9 1 -.7 .9 .5 1 .1 .9 -.5 .9 -.7 .8 -1.2 .9 -.2 .8 0 .8 -1.2 .9 -.3 .8 .3 .5 -1.1 .5 -1.2 .5 -1 .6 -1 .5 -.6 .5 -.4 .6 -1 .5 -1.3 .5 -1.1 .5 -.6 .6 -.5 .5 -1 .5 -1.4 .5 -.5 .5 -.2 .5 -1.4 .5 -.6 .6 -.7 .5 -1.2 .5 -1.1 .5 -.7 .4 -.6 .3 -1.3 .3 -1.1 .3 -1.1 .3 -1.2 .3 -.8 .3 -.5 .3 -.8 .3 -1.1 .3 -1 .3 -1 .3 -1 .3 -1 .3 -.9 .3 -1 .3 -.5 .3 -1 .2 -1.1 .1 -1.1 .1 -1.2 .1 -1 .1 -.9 .1 -.9 0 -1.1 .1 -1 .1 -.9 .1 -1 .1 -1 .1 -1 .1 -1 .1 -.9 .1 -1 .1 -1.1 .1 -.9 .1 -1.1 .1 -1.1 .1 -.9 0 -1 .1 -1 .1 -1 .1 -1 .1 -1 .1 -1.1 .1 -1 .1 -1 .1 -1 .1 -.9 .1 -.9 .1 -1 .1 -1 0 -1 .1 -1.1 .1 -1.1 0 -1 .1 -.9 0 -1 .1 -1.1 .1 -.9 0 -.9 .1 -1.1 0 -1 .1 -1 .1 -1 0 -1 .1 -1 0 -1 .1 -1.1 .1 -1 0 -.8 .1 -1 0 -1.1 .1 -1 .1 -.9 0 -1 .1 -1.1 0 -.9 .1 -1 .1 -1.1 0 -1 .1 -1 0 -.9 .1 -1 .1 -1 0 -1.1 .1 -1 0 -1 .1 -1 .1 -1 0 -1 .1 -.9 0 -1 .1 -1 .1 -.6 .6 -1.1 .5 -.8 .3 .3 .1 .7 .1 .9 .2 1 .1 1 .1 1.1 .1 .9 .1 1 .1 1 .1 .9 .2 .9 .1 1.2 .1 .9 .1 1 .1 1.1 .1 1.1 .1 1 .2 .9 .1 .9 .1 1.2 .1 .9 .1 1 .1 1 .1 1.1 .2 .9 .1 .8 .1 1.1 .1 1 .1 .9 .1 1.1 .1 1 0 1 .1 1 .1 1 0 1 .1 1 .1 1 0 1 .1 1.1 .1 .9 0 1.1 .1 1 .1 1 0 1 .1 .9 .1 1 0 1.1 .1 .9 .1 1 0 1.2 .1 .8 .1 .9 .1 1 0 1.1 .1 1 .1 1 0 1 .1 1.1 .1 .9 0 .9 .1 1.1 .1 1.1 0 .9 .1 1 .1 1 0 .9 .1 1 .1 1.1 0 1 .1 .9 .1 1 0 1.2 .1 1 .1 .9 .1 1 0 1 .1 1 .1 1 .1 1 .1 1 .1 1 0 1 .1 1 .1 1 .1 1 .1 .9 .1 1 0 1.2 .1 1 .1 .8 .1 1 .1 1 .1 1 0 1 .1 1.1 .1 1 .1 .9 .1 1 .1 1 0 .9 .1 1.2 .1 1 .1 .9 .1 1 0 1 .1 1 .1 .9 .1 1 .1 1.1 .1 1 .1 1.1 .1 1 .2 .8 .2 1 .1 1.1 .2 1.1 .1 .9 .2 1 .2 1 .1 .8 .2 .7 .2 1.1 .1 1.3 .2 1 .1 .9 .2 1.1 .2 1.1 .1 .8 .2 1 .6 1.2 1 .6 1 -.7 1 -1.5 1 .3 1 .2 1 -.4 1 .4 1 .5 1 -.1 1 .1 1 .2 1 -.3 1 .3 1 .7 1 -.4 1 -.1 1 .1 1 -.5 1 -.3 1 .8 1 -.2 1 -1.2 1 .8 1 .4 1 -3.6 1 -.4 1 3 1 0 1 -3.4 1 .3 1 3.6 1 -.3 1 -.2 1 .6 1 -.5 1.1 -.6 1 1 1 .4 1 -.9 1 .4 1 .4 1 -1 1 0 1 .6 1 -1.9 1 -4.2 1 -.4 1 4.5 1 1.5 1 -5.1 1 1.2 1 4.8 1 -1.9 1 -2.8 1 .3 1 2.6 1 1.1 1 .3 1 -3.2 1 -4.1 1 3.8 1 3.9 1 -4 1 -2.7 1 3.8 1 2.5 1 .2 1 .5 1 -.2 1 -.8 1 0 1 .4 1 -3.2 1 .6 1 3.5 1 -2.3 1 -2.9 1 .2 1 2.8 1 1.8 1 -3.7 1 0 1 4 1 -.2 1 -4.1 1 -.2 1 3.8 1 -3.3 1 -.7 1 4 1 .5 1 -.3 1 -.4 1 0" stroke="#1010d2" stroke-width="4.0" fill="none" stroke-linejoin="round" stroke-linecap="round"/>
<path d="M168.3 400l.1 0 0 4 .1 0 0 4 .1 0 .1 4 .1 0 0 4 .1 0 .1 4 .1 4 .1 0 0 4 .1 0 0 4 .1 0 .1 4 .1 0 0 4 .1 0 0 4 .1 0 .1 4 .2 0 .5 0 .4 0 .4 0 .4 4 .5 0 .4 4 .4 0 .4 0 .4 4 .3 0 .4 0 .4 4 .4 0 .4 -4 .4 0 .4 0 .4 8 .4 0 .4 0 .4 0 .4 0 .3 0 .4 -4 .3 4 .4 0 .3 0 .4 -4 .3 0 .4 0 .3 0 .4 -4 .3 0 .4 -4 .4 0 .3 0 .4 0 .3 0 .4 0 .3 0 .2 -4 .2 0 .2 -4 .3 0 .2 0 .2 0 .2 -4 .2 0 .2 0 .2 0 .2 0 .2 0 .2 -4 .2 0 .2 0 .3 -4 .2 0 .2 0 .2 0 .2 -4 .2 0 .2 0 .2 0 .2 0 .2 -4 .2 0 .2 -4 .3 0 .2 0 .2 0 .3 0 .2 0 .3 -4 .3 0 .2 -4 .3 0 .2 0 .3 0 .3 0 .2 -4 .3 0 .3 0 .2 0 .3 0 .3 0 .2 -4 .3 0 .2 0 .3 -4 .3 0 .2 0 .3 0 .4 0 .5 0 .6 0 .5 -4 .6 0 .5 0 .5 0 .6 -4 .5 0 .6 0 .9 -4 1 0 1 0 .9 8 1 0 1 0 .9 0 .8 -4 .5 0 .5 -4 .5 0 .5 -4 .6 0 .5 4 .5 0 .5 -4 .5 -4 .5 0 .5 0 .4 4 .3 0 .4 0 .3 4 .3 -4 .3 4 .3 0 .3 0 .3 0 .4 0 .3 4 .3 0 .3 0 .3 4 .3 0 .3 0 .4 4 .3 0 .3 0 .3 0 .4 0 .3 -4 .4 4 .4 -4 .3 -4 .4 0 .4 0 .3 0 .4 0 .3 0 .4 0 .4 -4 .4 0 .4 0 .4 0 .4 -4 .4 0 .4 0 .3 0 .4 -4 .4 0 .4 0 .4 0 .4 0 .4 0 .4 0 .2 -4 .1 0 .2 0 .1 4 .2 0 .1 0 .1 4 .2 0 .1 0 .1 0 .2 0 .1 4 .1 0 .2 0 .1 0 .2 4 .1 0 .1 0 .2 4 .1 0 .1 0 .2 0 .1 0 .2 4 .1 0 .1 0 .2 0 .1 4 .1 0 .2 0 .1 4 .1 0 .2 0 .1 0 .1 4 .1 0 .2 0 .1 0 .1 4 .1 0 .2 0 .1 0 .1 4 .1 0 .2 0 .1 0 .1 4 .1 0 .2 0 .1 0 .1 4 .2 0 .1 0 .1 0 .1 4 .6 0 .8 4 .8 0 .9 -4 .8 8 .8 -4 .8 0 .9 -4 .8 0 1 4 1 -4 1 4 1 -4 1 0 1 4 .9 0 1 0 1 -8 .9 4 .9 -4 .9 4 .9 0 .9 -4 1 0 .9 -4 .9 4 .6 0 .6 0 .6 0 .6 0 .6 0 .6 -4 .6 -4 .5 0 .6 0 .6 4 .6 0 .6 0 .6 4 .6 -8 .6 -4 .6 0 .5 0 .8 0 .9 4 .8 0 .8 -4 .9 0 .8 -4 .9 -4 .8 0 1 4 1 0 1 0 1 0 1 0 1 0 1 0 .9 0 1 0 1 0 1 4 1 -4 1 0 .9 0 1 0 .9 4 1 -4 1 -4 .9 0 1 0 .9 0 1 0 .8 4 .9 4 .8 0 .9 4 .8 0 .8 0 .9 0 .8 0 .9 0 .8 0 .8 0 .9 0 .8 0 .7 0 .7 4 .7 0 .7 4 .7 -4 .7 0 .7 4 .7 0 .7 4 .7 0 .6 -4 .8 0 .8 0 .8 0 .9 0 .8 4 .8 0 .8 0 .8 4 .8 -4 .8 0 .9 -4 1 4 .9 0 1 4 1 4 1 0 1 -4 1 -4 1 0 .9 0 1 0 .8 0 .6 0 .7 0 .6 -4 .7 0 .6 -4 .7 4 .7 -4 .6 4 .7 -4 .6 0 .7 -4 .6 0 .7 4 .7 -4 .6 0 .4 0 .3 0 .3 -4 .3 0 .3 0 .3 0 .3 0 .3 0 .3 -4 .3 -4 .3 0 .3 0 .3 4 .3 -4 .3 0 .3 0 .3 0 .3 -4 .3 0 .3 0 .3 -4 .2 0 .3 0 .3 0 .3 0 .3 -4 .3 0 .3 -4 .2 0 .3 0 .2 0 .2 -4 .2 0 .3 0 .2 0 .2 0 .2 0 .3 0 .2 -4 .2 0 .2 0 .2 -4 .3 0 .2 -4 .2 0 .2 0 .3 0 .2 0 .2 -4 .2 0 .2 0 .3 0 .2 -4 .2 0 .2 0 .2 0 .2 0 .2 4 .2 0 .2 0 .2 0 .1 0 .2 4 .2 0 .2 0 .2 0 .2 4 .1 0 .2 0 .2 4 .2 0 .2 0 .2 0 .1 4 .2 0 .2 0 .2 0 .2 4 .1 0 .2 0 .1 0 .1 0 .1 0 .2 4 .1 0 .1 0 .2 4 .1 0 .1 0 .2 4 .1 0 .1 0 .1 0 .2 0 .1 0 .1 4 .2 0 .1 0 .1 4 .2 0 .1 0 .1 4 .2 0 .1 0 .1 0 .1 0 .2 4 .1 0 .1 0 .3 4 .3 0 .3 0 .2 0 .3 0 .3 0 .2 4 .3 0 .3 0 .2 0 .3 4 .3 0 .2 0 .3 0 .4 0 .8 0 .8 0 .8 0 .8 -4 .8 0 .8 8 .8 -4 .8 0 .8 -4 .9 0 .9 0 1 0 .9 0 1 0 .9 -4 .9 4 1 -4 .9 4 1 0 .9 4 1 -4 .9 -4 1 0 .8 0 .9 0 .9 4 .8 0 .9 4 .9 4 .8 -4 .9 -4 .8 -4 .9 0 .9 4 .8 0 .7 0 .7 8 .7 0 .7 -4 .7 0 .7 0 .7 8 .7 0 .7 -4 .7 4 .7 0 .7 0 .7 0 .7 -4 .8 4 .8 0 .8 4 .8 0 .7 0 .8 -4 .8 4 .8 0 .8 4 .8 0 .7 4 .8 -4 .8 8 .9 -4 .9 0 .9 -4 .8 0 .9 0 .9 8 .9 -4 .9 0 .9 0 .8 4 .7 -4 .7 0 .7 -4 .7 0 .8 0 .7 -4 .7 4 .7 0 .4 0 .3 -4 .4 0 .4 -4 .4 4 .4 -4 .3 0 .4 0 .4 4 .4 -4 .4 -4 .3 0 .4 -4 .4 0 .4 0 .4 -4 .3 0 .4 4 .4 -4 .4 0 .4 0 .3 0 .4 0 .4 -4 .4 0 .4 0 .4 -4 .4 -4 .5 0 .4 0 .5 4 .4 0 .5 -4 .4 0 .5 0 .4 0 .5 -4 .4 0 .5 -4 .4 0 .5 4 .4 0 .5 0 .4 -4 .5 0 .5 -4 .5 4 .5 -4 .4 0 .5 0 .5 -4 .5 4 .5 -4 .5 -4 .5 4 .4 -4 .5 0 .5 -4 .5 0 .5 4 .5 0 .4 -4 .3 4 .3 -4 .4 -4 .3 0 .3 0 .4 -4" stroke="#080808" stroke-width="4.2" fill="none" stroke-linejoin="round" stroke-linecap="round"/>
<path d="M167.6 327.3l0 1 0 .9 0 1.1 0 1 .1 1 0 1 0 1 0 1 0 1 0 1 0 1 0 1 0 1 0 1 0 1 0 1 0 1 .1 1 0 1 0 1 0 1 0 1 0 1 0 1 0 1.1 0 1 0 1 0 .9 0 1 0 1 .1 1 0 1 0 1.1 0 .9 0 1 0 1 0 1.1 0 .9 0 1.1 0 1 0 1 0 .9 0 1 .1 1.1 0 1 0 .9 0 1 0 1 0 1.1 0 1 0 1 0 .9 0 1.1 0 .9 0 1 0 1.1 .1 1 0 .9 0 1.1 0 .9 0 1 0 1 0 1.1 0 .9 0 1.1 0 1 0 1 0 1 0 1 .1 1 0 .9 0 1 0 1.1 0 1 0 1 0 .9 0 1 0 1.1 0 1 0 1 0 1 0 1 .1 1 0 1 0 1 0 1 0 1 0 1 0 1 0 1 0 1 0 1 0 1 0 1 0 1 .1 1 0 1 0 1 0 1 0 1 0 1 0 1 0 1 0 1 0 1 0 1 0 1 0 1 .1 1 0 1 0 1 0 1 0 1 0 1 0 1 0 1 0 1 0 1 0 1 0 1 0 1.1 .1 1 0 .9 .1 .9 0 .9 0 1.3 .1 1 0 1.1 .1 1 0 .9 0 1.1 .1 .9 0 .8 .1 1.2 0 1.2 .1 .7 0 1 0 1 .1 1.2 0 1.1 .1 .7 0 .9 0 1.1 .1 1.1 0 1 .1 .9 0 1.1 .1 .9 0 .9 0 1.3 .1 .9 0 .7 .1 1.4 0 .9 0 .1 .4 2.1 .6 -1.2 .6 3.2 .6 2.5 .8 2 .7 -5 .8 -3.3 .8 -.8 .7 .6 .8 0 .3 -1.2 .3 -.9 .3 0 .3 -3.3 .3 -1.4 .3 .4 .3 -.7 .3 1.5 .3 -3 .3 -.8 .3 -.4 .3 -1.7 .3 0 .3 -2.6 .3 0 .3 -.6 .3 -1.9 .3 .4 .3 -4.4 .3 -.1 .2 -.4 .3 .3 .3 -1 .3 -.4 .3 -1.3 .3 .1 .3 -3.8 .3 -.8 .2 .1 .1 -.5 .2 -1.5 .2 -1.1 .2 -1.1 .1 0 .2 -1.9 .2 .5 .2 -2.3 .1 -.3 .2 -2.2 .2 -.2 .2 -2.6 .1 .3 .2 -.3 .2 -1.8 .2 -.8 .1 .4 .2 -1.8 .2 -2.2 .1 -.8 .2 -1.9 .2 .4 .2 -2 .1 -.8 .2 -.4 .2 -.8 .2 -.8 .1 0 .2 -2.6 .2 .3 .2 -1.8 .1 -1.4 .2 -.9 .2 1 .2 -3 .2 1.8 .2 -3.2 .2 -1.2 .2 -.6 .2 -1.1 .2 -1.2 .3 -.7 .2 -1 .2 -1.4 .2 -2.3 .2 .1 .2 -.4 .2 -.7 .2 -1.4 .2 -1.3 .2 -1.7 .2 -.1 .2 -.9 .3 -1.2 .2 1.1 .2 -3 .2 -1.7 .2 .4 .2 -3 .2 1.8 .2 -2.7 .2 -.6 .2 -1.2 .5 1.3 .4 -4.7 .5 1 .4 -3.6 .5 .2 .4 -1.1 .5 1.9 .4 -6.4 .5 .9 .4 0 .5 .4 .6 -1.5 .9 4.5 .8 -5.2 .8 9.2 .8 -2.8 .9 -5 .8 10.3 .8 -7.5 .6 -.7 .5 .4 .6 3.3 .6 -1.2 .6 -5.4 .6 1.2 .5 -3.1 .6 -4.2 .6 7 .6 -.4 .6 -8.6 .5 4.1 .3 -.7 .1 2 .2 .2 .1 1.4 .1 .9 .1 1.3 .1 .8 .2 .7 .1 1.6 .1 .4 .1 1.3 .1 .8 .2 .1 .1 2.2 .1 .9 .1 .7 .1 1.7 .2 -.2 .1 1.7 .1 1.5 .1 1.9 .1 .6 .2 .7 .1 1.5 .1 .3 .1 1.7 .1 -.8 .2 2.1 .1 .2 .1 .8 .1 2.4 .1 1.1 .2 0 .1 1.5 .1 1.2 .1 .4 .1 -.9 .2 3.2 .1 .2 .1 1.1 .1 1.3 .1 1.3 .2 .6 .1 .8 .2 -.2 .2 -2.1 .2 -.1 .2 -2 .2 -1.2 .2 0 .2 .4 .2 -3.3 .2 .6 .2 -1.5 .2 -1.6 .2 -.5 .2 -1.8 .2 -1 .2 -1.2 .2 -2.1 .2 -.3 .2 -1 .2 -.1 .2 -.1 .2 -2.3 .2 .1 .2 -3.3 .2 -.6 .2 .7 .3 -.9 .3 -1.3 .2 -.6 .3 -1.1 .2 -2.9 .3 -.7 .3 0 .2 -1.5 .3 .5 .2 -1.1 .3 -.6 .3 -3.2 .2 -.7 .3 2.3 .3 -3 .2 -2 .3 1.7 .2 -1.8 .3 -.8 .3 -2.4 .2 .8 .3 -1.8 .2 1.1 .1 -.1 .2 .7 .1 -.4 .2 1.8 .1 1.3 .1 -.6 .2 2.5 .1 1.5 .2 .4 .1 .1 .2 1.9 .1 0 .1 2.6 .2 .6 .1 1.1 .2 .7 .1 .9 .2 .7 .1 1.3 .2 0 .1 1.5 .1 1.2 .1 1.7 .1 .4 .1 .8 0 1.3 .1 .8 .1 .6 0 1.3 .1 1.2 .1 1 0 .5 .1 1.3 0 1.1 .1 1.3 .1 1.5 0 .5 .1 .7 .1 1 0 1.1 .1 1 .1 1.5 0 .4 .1 1 .1 .8 0 1.4 .1 .7 .1 1 0 1.3 .1 .8 .1 .8 0 1.3 .1 1 0 .8 .1 1.8 .1 .7 0 1.2 .1 .4 .1 .9 0 1 .1 1.2 .1 1.2 0 .8 .1 1 .1 1 0 .9 .1 1.2 .1 .6 0 .8 .6 .5 .7 1.7 .7 -1.4 .7 4.1 .7 -1.4 .7 -.3 .6 .9 .5 1.1 .6 -2 .5 -4.8 .6 -1.1 .5 .9 .5 -.7 1 .1 1 -.5 .9 0 1 -2.1 1 -1 .9 4.1 1 -2.4 1 -.2 .9 .9 .9 1.9 .9 -1 .9 -3.7 .9 -4.2 .9 5.6 .9 1.4 .9 -2.4 .9 -.7 .9 1.3 .8 -2.6 .8 -1.8 .8 -.1 .8 -1.3 .8 1 .8 1 .8 -4.1 .8 .2 .8 -.2 .8 .4 .7 -4.8 .7 1.8 .7 2.7 .7 -.3 .7 -1.4 .7 -4.8 .7 -3 .7 4.5 .7 -.6 .7 -.4 .7 -.2 .8 -2 .8 1.1 .8 -3.6 .8 -1.9 .8 -2.3 .8 2.9 .8 -.6 .8 -3.7 .8 3.1 .8 -2.3 .8 3.5 1 -2.5 1 -1.3 .9 2.8 1 0 1 .2 .9 2.1 1 -2.4 1 3.8 .8 -2.4 .8 -1.6 .8 1.7 .8 1.6 .8 1.2 .8 -.4 .8 3.2 .8 -2.4 .8 -2.1 .8 4.8 .7 0 .8 1.5 .7 -.4 .7 -1.1 .7 2.4 .7 1.6 .7 -3 .8 3.8 .7 1 .7 1.1 .7 -1.8 .6 2.2 .5 -.3 .5 .3 .5 1 .5 2.4 .4 5.4 .5 -.1 .5 -1.1 .5 -.8 .5 1 .5 .1 .4 2.7 .5 2.6 .5 1.8 .5 .4 .7 -3.5 .7 -1.9 .7 -.8 .7 -2.3 .7 .5 .7 .4 .8 1.7 .7 -6.1 .7 2.3 .7 1.4 .7 -2.1 .7 -.7 .7 -1.4 .7 -1.1 .5 -3.7 .5 5.7 .5 1.6 .5 1.2 .5 .4 .5 1.9 .5 2.7 .5 -5 .5 .8 .5 7.2 .5 -2.7 .5 2 .5 -1 .5 -.8 .5 -.1 .5 2.9 .5 -.9 .3 .2 .4 -1.2 .4 2 .4 -4.1 .3 -1.2 .4 2 .4 -.4 .4 -2.3 .3 -.9 .4 -1.8 .4 .1 .3 -1.1 .4 -.7 .4 -2.4 .4 0 .3 -1.5 .4 -1.7 .4 .2 .4 .2 .3 -3.3 .4 -.4 .5 -2.1 .5 -1 .5 2.8 .5 -4.3 .5 -.5 .5 3.7 .5 -7.2 .5 1.3 .5 -1.4 .5 -2.6 .5 .1 .5 .2 .5 -1.7 .5 -3.1 .5 2.4 .5 1.3 .4 -.4 .2 -2.1 .2 -1.4 .2 -1.8 .1 -.6 .2 -1 .2 -.5 .2 -2.6 .2 .3 .2 .3 .1 -1.5 .2 -1.6 .2 -.4 .2 -1 .2 -1.9 .2 -.5 .1 -1.7 .2 -1.3 .2 .1 .2 -1.5 .2 -2 .1 .6 .2 -.9 .2 -.5 .2 -1.8 .2 -1 .2 -.8 .1 -1 .1 -1.5 .1 -.2 .1 -1.6 0 -.8 .1 -1.3 .1 -.7 .1 -.8 .1 -1.2 .1 -1.5 .1 -1 0 -.3 .1 -1.2 .1 -1.6 .1 .1 .1 -1.9 .1 -1.1 .1 -.1 0 -1.4 .1 -1 .1 -1.2 .1 -.9 .1 -.6 .1 -1 0 -1 .1 -1.6 .1 -.7 .1 -1 .1 -1 .1 -.8 .1 -1.6 0 -.7 .1 -1.1 .1 -.5 .1 -1.2 .1 -1 .1 -.4 .1 -1.4 0 -1.2 .1 -1.3 .1 -1.1 .1 -1 .1 -.9 .1 -1 .1 -1.2 0 -.7 .1 -1.3 .1 -.9 .1 -1.1 .1 -.7 .1 -1.2 0 -.9 .1 -1.1 .1 -1.2 .1 -.4 .1 -1.3 .1 -.3 .1 -1.7 0 .6 .1 .8 .1 1.4 .1 .7 .1 1.7 0 .1 .1 1.5 .1 1.2 .1 .2 .1 1.2 .1 .5 0 1.4 .1 .8 .1 .9 .1 1 .1 1.2 0 1.3 .1 1 .1 1.2 .1 1 .1 .7 0 .9 .1 .9 .1 1.1 .1 1 .1 1.2 0 .7 .1 1 .1 1 .1 1.1 .1 .9 .1 .8 0 1.2 .1 .6 .1 1.4 .1 1.7 .1 .5 0 1.3 .1 .9 .1 1.1 .1 .4 .1 1.5 0 .4 .1 1.6 .1 .2 .1 1.5 .1 .8 0 1.2 .1 1.3 .1 .9 .1 1.7 .1 -.1 0 .8 .1 1.5 .1 .8 .1 1 .1 .4 .1 2 0 1 .1 1 .1 .6 .1 1.1 .1 1 0 .8 .1 1.2 .1 .4 .1 1.2 .1 1.8 0 .6 .1 1.3 .1 .5 .1 1.3 .1 .9 0 1 .1 .8 .1 1.5 .1 1 .1 .5 .1 .9 .1 1.5 .1 .1 .1 2.3 .1 .4 .1 1.2 .2 1.5 .1 .1 .1 .7 .1 2 .1 0 .1 1 .1 1 .2 1.5 .1 1.5 .1 .2 .1 1.5 .1 .3 .1 1.3 .1 .9 .2 1.5 .1 .6 .1 -.2 .1 2.1 .1 1.5 .1 1 .1 1.2 .2 .2 .1 1.1 .1 1.7 .1 0 .1 1 .1 .9 .1 1.5 .2 .9 .1 1.3 .1 1 .3 .7 .4 .6 .4 3.9 .4 -2.5 .4 .6 .4 2 .4 -1 .4 1.1 .4 .3 .3 1.5 .4 1.2 .4 3 .4 -.3 .4 1.7 .4 -1.3 .6 1.6 .8 -.1 .9 1.7 .9 1.7 .8 -6.7 .9 -5.1 .8 4.4 .9 3.4 .9 -4.6 .8 4.1 .9 -4.2 .9 .6 .7 -3 .6 2.5 .7 1.4 .6 -1.4 .6 -3.1 .6 -2.3 .6 2.9 .6 1.3 .7 -4.8 .6 -3.9 .6 1.4 .6 -2.9 .6 1.1 .7 -.1 .9 .9 .8 2.4 .8 -.8 .8 1.3 .9 -1.8 .8 2.8 .8 -.5 .5 3.6 .5 -1.3 .5 -1.5 .6 1 .5 .5 .5 4.7 .5 .8 .5 2.9 .5 -.4 .5 -2.7 .6 2.1 .5 -.7 1.1 -1.1 1 1.8 1 1.7 1 -.3 1 .4 1 3 1 -3.5 1 -.6 .8 1.5 .8 -.1 .8 .5 .8 2.4 .8 -1.6 .8 4.4 .8 -1.3 .8 -3 .8 1.1 .8 1.6 .9 -.7 1 5.4 1 -3.8 1 -.6 .9 1.8 1 .5 1 -2.4 1 -4.3 .7 4.9 .5 1.5 .4 -.8 .5 -1.3 .4 -.1 .5 -1.6 .4 .2 .5 -4 .4 .5 .5 .4 .4 -2.2 .5 -1.7 .4 2.2 .5 -2.6 .5 -.4 .5 -1.6 .5 .3 .5 -5 .5 .8 .5 -3.1 .6 1.2 .5 .5 .5 .6 .5 -1 .5 1.2 .5 -3.6 .4 -5.6 .3 3.2 .4 -2.5 .3 1.2 .4 -2.2 .3 -1.1 .3 -2 .4 -1.1 .3 1.1 .4 .5 .3 -1.7 .4 -3.1 .3 1.3 .4 -3.5 .3 -.5 .4 -1.3 .3 .5 .3 -1.2 .4 -.4 .3 -1.6 .4 -1.7 .3 2.2 .4 -2.1 .3 -1.7 .4 -2.4 .4 .4 .3 -.9 .4 -2.2 .4 .3 .4 -2.6 .3 .5 .4 .3 .4 -1.9 .3 -1.2 .4 -2 .4 -1.2 .4 -.2 .3 -1.6 .4 2.2 .4 -2.3 .4 -.4 .3 -1.9 .4 -1.5 .4 0 .3 -.3 .4 -.9 .2 -1.2 .2 -2 .3 -.4 .2 -.8 .2 -1 .2 -1.3 .3 .2 .2 -2 .2 -1.1 .2 -.1 .3 -1.9 .2 -2.4 .2 .3 .2 .5 .3 -2.2 .2 -.8 .2 -.2 .2 -1.5 .3 -1.3 .2 -.9 .2 .1 .2 -2.8 .3 -1.4 .2 .6 .2 -2.4 .2 -.3 .3 .2" stroke="#1ee61e" stroke-width="4.2" fill="none" stroke-linejoin="round" stroke-linecap="round"/>
<path d="M132 494l1 7.6 1 -1 1 -1 1 1.2 1 -3.7 1 -1.4 1 .6 1 4.1 1 -5 1 3.8 1 0 1 -4.1 1 .8 1 .8 1 -1.9 1 2.1 1 3.5 1.1 -6.2 1 3.1 1 1.7 1 .8 1 -.8 1 .4 1 2 1 -5.3 1 5 1 -2.6 1 -2.3 1 2.8 1 .2 1 -.1 1 3.2 1 -4.6 1 -.6 .9 -.6 .9 -3.1 .8 1.8 .9 -.7 .8 2.9 .9 -4.1 .8 0 .9 .1 .9 6.2 .9 -8.7 1 3 .9 4.5 1 -4.7 .9 6.3 .9 -6.2 1 3.7 .9 2.3 1 -4.2 .9 4.2 .9 -3.8 1 5 .9 -6.7 .9 -1.2 1 5.5 .9 -4.3 .9 2.4 1 -4 .9 3.6 .9 -1.5 1 -2.7 .9 -1.1 .9 1.9 1 .8 .9 -2.3 .9 -.2 1 -1 .9 .2 .9 3 1 -7.6 .9 4.2 .9 -.1 1 -5.2 1 2.5 1 4.1 1 2.7 .9 -6 1 .5 1 -.3 1 1.9 1 -6.2 .9 2.9 .9 1.7 .9 -1.5 .8 -1.8 .9 .3 .8 -1.9 .9 -.1 .9 1.1 .8 1 .9 .7 .9 -8 .8 4.3 .9 -.3 .9 .1 .8 -5.7 .9 -.4 .8 0 .9 2.4 .8 2.5 .9 -3.3 .9 -.3 .8 -.2 .9 -.4 .8 -.7 .7 -2.7 .4 3.1 .4 -3.8 .4 -2.1 .4 0 .4 -.6 .3 -2.5 .4 -.1 .4 -2.2 .4 .9 .4 -2.1 .4 -.6 .4 -2.7 .4 1.4 .4 -1.2 .4 .3 .9 -4.9 .9 3.1 1 -1.3 .9 9.7 1 -10.6 1 2 .7 -3.1 .6 .7 .5 .6 .6 -2.9 .5 .9 .6 1.9 .6 -2.3 .5 -1.4 .6 -.7 .6 -1.1 .5 -5.2 .6 5 .5 -7 .6 5.5 .6 -1.8 .6 -2.9 .6 2.5 .7 -3.3 .6 -2.9 .7 -1.9 .6 1.9 .6 .7 .7 -3.7 .6 3.4 .7 -2.9 .6 2.8 .6 -5 .7 -7.4 .6 2.1 .7 4.8 .6 -4.9 .8 -5.2 .8 5 .7 4.2 .8 -2.1 .8 -4.2 .8 .9 .8 -2 .8 .8 .8 5.5 .7 -8.4 .8 7.3 .8 -6.1 .8 -1 .9 -1.1 .8 -.1 .9 -4.9 .8 7.3 .9 -2.5 .9 -4.2 .8 3.2 .9 -1.6 .9 -4.5 .8 1.8 .9 -.3 .9 2.5 .9 -3.1 1 1 1 -1.2 .9 4.7 1 1.4 1 -2.7 1 -.6 .9 -2.3 .8 -1.6 .6 -2.2 .6 4.3 .6 3.5 .6 -2.9 .7 5.9 .6 -5.2 .6 .1 .6 3.6 .6 .9 .6 -1.5 .7 -1.7 .6 7.2 .6 -2.7 .5 2.7 .6 .2 .5 .5 .6 -.2 .5 -.2 .6 .4 .5 4.8 .6 -3.3 .6 2.9 .5 1 .6 7 .6 -1.9 .7 -1.8 .7 .1 .7 4.4 .7 -3.5 .8 -5.1 .7 7.9 .7 0 .7 3.6 .7 -3.3 .7 1.7 .7 1 .7 .7 .8 3 .7 1 .8 1.5 .9 .6 .9 -2.7 .8 3.9 .9 -5.1 .8 3.5 .9 3 .8 -4.8 .9 4.5 .9 -4.6 .8 4.4 .9 -.3 1 -3 1 3.9 1 -4.4 .9 4.5 1 1.6 1 2.8 1 -4.6 1 6.2 .9 -3.4 1 -2.4 1 -1.9 1 -.3 1 2.2 1 5.2 1 -6.6 1 4 1 2.3 1 -4.3 1 1 1 1.7 1.1 -1.3 1 -.1 1 -2.7 1 4.1 1 -3.2 1 3.8 1 -2.7 1 3.1 1 -2.7 1 4.7 .9 -5.2 .8 -1.1 .7 -1.1 .8 -2.4 .8 -.7 .8 0 .7 .7 .8 3.5 .8 -8.2 .8 1.7 .7 .7 .8 .8 .8 -1.9 .9 2.3 1 -.5 1 -4.3 1 .1 1 4.3 1 -.4 1 -2.9 1 2 1 -1.4 1 5.2 1 -7.4 .8 5.4 .9 -2.4 .9 .1 .8 -3.6 .9 .7 .9 .3 .8 -2.4 .9 -1.7 .8 2.5 .9 0 .9 2.4 .8 -3.4 .9 -1.9 .9 0 .8 .5 .9 -4.3 .8 5 .9 -6.2 .8 3.1 .9 -.9 .9 .6 .8 1.3 .9 -6.1 .8 -.1 .7 1.1 .7 5.1 .7 -1 .7 1.4 .7 -2.5 .7 3.9 .7 -4.2 .7 6.2 .7 -3 .7 4.5 .7 -1.2 .7 .5 .7 2.1 .7 0 .6 .3 .7 6.6 .6 -6.3 .6 4.3 .6 -2.4 .7 4.4 .6 .7 .6 -1.8 .7 1.5 .6 .7 .6 5.2 .6 -2 .7 -2.8 .6 2.5 .6 2 .7 -1 .6 -.7 .6 -1.4 .6 2.6 .7 1.9 .6 3.1 .6 1.7 .7 -.9 .6 1 .6 -2.4 .7 6.8 1 -6.4 1 6.6 1 -6.4 1 8.5 1 -6.2 1 -.3 1 2.3 1 -2.6 .6 1.3 .5 -2.5 .5 1.1 .5 -2.3 .5 .5 .5 -5.3 .5 .5 .6 3 .5 -5.1 .5 .4 .5 .3 .5 -.6 .4 .5 .3 -2 .4 -2.9 .4 -.3 .4 -1.3 .3 -.4 .4 -2.2 .4 -.6 .4 -.6 .3 -1.4 .4 -1.1 .4 -1.1 .4 -3.6 .3 2.5 .4 .1 .4 -1.6 .4 -2.7 .3 -.4 .4 1.1 .4 -1.3 .3 .3 .4 -2 .4 -4.6 .3 2.8 .3 -1.5 .4 -.1 .3 -2.4 .4 -.7 .3 -.3 .4 -.3 .3 -4.3 .3 1.4 .4 1.3 .3 -3.4 .4 -2.3 .3 1.4 .3 -.3 .4 -1.3 .3 -1.5 .4 .1 .3 -3.3 .4 -.2 .3 -1.8 .3 -.8 .4 -.1 .3 -1 .4 -1.2 .3 .4 .4 -.7 .3 -.1 .4 -2.2 .3 -1.6 .4 -.9 .3 -.7 .4 -.8 .3 -.3 .4 -4.3 .3 .6 .4 -.5 .4 2.2 .3 -4.1 .4 -1.2 .3 -1.3 .2 -.8 .3 .9 .2 -2.4 .2 -1.8 .2 .2 .2 -1.5 .2 .3 .3 -3 .2 -.5 .2 .3 .2 -2.2 .2 -.3 .2 -1 .2 -1.7 .3 -.5 .2 -.2 .2 -1.8 .2 -1.3 .2 .4 .2 -1.2 .3 -1.4 .2 -.7 .2 -2" stroke="#e21818" stroke-width="4.2" fill="none" stroke-linejoin="round" stroke-linecap="round"/>
<path d="M165.5 279.9l.1 0 0 .9 0 1 0 1 0 1.1 0 1 0 1 0 1 0 1 0 1 0 1 .1 1 0 1 0 1 0 1 0 1 0 1 0 1 0 1 0 1 0 1 0 1 0 1 .1 1 0 1 0 1 0 1 0 1 0 1 0 1 0 1 0 1 0 1 0 1 0 1 .1 1 0 1 0 1 0 1 0 1 0 1 0 1 0 1 0 1 0 1 0 1 .1 1 0 1 0 1 0 1 0 1 0 1 0 1 0 1 0 1 0 1 0 1 0 1 .1 1 0 1 0 1.1 0 .9 0 1.1 0 .9 0 1.1 0 1 0 1 0 1 0 1 .1 1 0 1 0 1 0 1 0 1 0 1 0 1 0 1 0 1 0 1 0 1 0 1 .1 1 0 1 0 1 0 1 0 1 0 1 0 1 0 1 0 1 0 1 0 1 0 1 .1 1 0 1 0 1 0 1 0 1 0 1 0 1 0 1 0 1 0 1 0 1 .1 1 0 1 0 1 0 1 0 1 0 1 0 1 0 1 0 1 0 1 0 1 0 1 .1 1.1 0 1 0 .9 0 1 0 1.1 0 1 0 .9 0 1 0 1.1 0 1 0 1 0 1 .1 1 0 1 0 1 0 1 0 1 .1 1 0 1 0 1 0 1 .1 1 0 1 0 1 .1 1 0 1 0 1 0 1 .1 1 0 1 0 1 .1 1 0 1 0 1 0 1 .1 1 0 1 0 1 0 1 .1 1 0 1 0 1 .1 1 0 1 0 1 0 1 .1 1 0 1 0 1 .1 1 0 1 0 1 0 1 .1 1 0 1 0 1 .1 1 0 1 0 1 0 1 .1 1 0 1 0 1 0 1.1 .1 1 0 .9 0 1 .1 1 0 1.1 0 .9 0 1 .1 1 0 1 0 1.1 .1 1 0 .9 0 1 0 1 .1 1 0 1.1 0 1 .1 1 0 1 0 1 0 1 .1 1 0 1 0 1 0 1 .1 1 0 1 .1 .9 0 1 .1 1 .1 1 0 1 .1 1 0 1 .1 1.1 0 1 .1 1 .1 1 0 .9 .1 1.1 0 1 .1 1.1 0 .9 .1 .9 .1 1 0 1 .1 1 0 1 .1 1 0 1.1 .1 1 .1 .8 0 1.1 .1 1.1 0 .9 .1 1.1 .1 1 0 .9 .1 1 .2 1.3 .3 .9 .2 .6 .3 .9 .2 .9 .2 1 .3 1.4 .2 1 .3 .8 .2 1 .3 1.1 .2 .6 .7 .2 1 .2 1 .5 1 -.2 1 -.4 .7 0 .4 -.7 .4 -1 .4 -.9 .4 -1.1 .4 -1.2 .4 -1.1 .4 -.8 .4 -1.4 .4 -1 .3 -.1 .4 -.8 .3 -1.4 .3 -.9 .3 -.8 .3 -.8 .4 -.9 .3 -1.3 .3 -.9 .3 -.8 .3 -.9 .3 -1 .3 -.9 .4 -.8 .3 -1.5 .3 -1 .3 -.8 .3 -.6 .3 -.8 .3 -1.2 .3 -.9 .2 -.9 .1 -1 .2 -1.1 .2 -.9 .1 -1.2 .2 -1.2 .1 -.8 .2 -.8 .2 -.9 .1 -1 .2 -1.1 .1 -1 .2 -1 .2 -1 .1 -1.1 .2 -1.1 .1 -.9 .2 -1 .2 -1 .1 -.8 .2 -1 .1 -1.2 .2 -1.1 .2 -.9 .1 -.9 .2 -.8 .1 -1 .1 -1 .2 -1 .1 -1 .1 -1.1 .2 -.9 .1 -.9 .2 -1 .1 -1 .1 -1.2 .2 -.9 .1 -1 .2 -1.1 .1 -1 .1 -1 .2 -1 .1 -1 .2 -1 .1 -.7 .1 -1.2 .2 -1.1 .1 -.9 .1 -1 .2 -1 .1 -.9 .2 -1 .1 -1 .3 -.7 .4 -1.4 .4 -1.2 .4 -.3 .4 -.5 .3 -1.1 .4 -.9 .4 -1.3 .4 -.9 .4 -.2 .4 -1.2 .7 -.6 1 .1 .9 1.5 .9 .8 .9 -.8 .9 .3 .2 1.1 .3 1 .3 1.2 .3 1.1 .3 .7 .3 .9 .3 .9 .2 1 .3 .6 .3 1.3 .3 .4 .2 -1.4 .2 -.9 .2 -.8 .2 -1.2 .2 -.7 .2 -.9 .2 -1.2 .2 -.8 .2 -1 .2 -1.2 .3 -1 .2 -1.1 .2 -.9 .2 -1.2 .6 -.9 .7 .4 .7 -.8 .7 -1.1 .7 -1.3 .6 -.2 .1 1.2 .1 1 .1 1 .1 .9 .1 .9 .1 1.1 .1 .9 .2 .9 .1 1 .1 .9 .1 1.2 .1 1.1 .1 1 .1 .9 .1 .9 .1 1 .1 1.1 .1 1 .1 1 .1 .9 .1 1.1 .1 1 .2 1 .1 1 .1 .8 .1 1 .1 1.2 .1 .9 .1 .9 .2 1.3 .2 .9 .2 .9 .2 .9 .2 1.1 .1 1.1 .2 .8 .2 .9 .2 .9 .2 1.3 .2 1 .2 .8 .1 .8 .2 .8 .2 1.3 .2 .9 .6 -1.2 .6 .1 .6 -1.1 .6 -1.7 .6 0 .1 -1 .2 -1 .1 -.9 .1 -1.1 .1 -1.1 .2 -.9 .1 -.9 .1 -1.1 .1 -.9 .2 -1 .1 -1.2 .1 -.9 .1 -.7 .2 -1.2 .1 -1.1 .1 -.9 .1 -1.3 .2 -.9 .1 -.8 .1 -.9 .1 -1.1 .2 -1 .1 -1 .1 -1 .2 -1 .2 -1 .2 -1.1 .2 -.9 .3 -.9 .2 -1 .2 -1 .2 -.9 .3 -.8 .2 -.9 .5 .4 .5 .7 .5 1.2 .6 1.3 .5 .9 .4 .5 .1 1 0 1 .1 .9 0 1.1 .1 1 0 1 .1 1 0 1 .1 1 0 1 .1 .9 0 1 .1 1.1 .1 1 0 1 .1 1 0 1 .1 1 0 1 .1 1 0 .9 .1 1.1 0 1 .1 .9 0 1.1 .1 1 0 1 .1 .9 0 1.1 .1 1 0 1 .1 1 0 1 .1 1 0 1 .1 1 0 1 .1 1.1 0 1 .1 .8 0 1 .1 1 .1 1.1 0 1.1 .1 .9 0 1.1 .1 .9 0 1 .1 1.1 0 .9 .1 1 0 1.1 .1 1 .1 1 0 .9 .1 1 0 1.1 .1 .9 0 .9 .1 1 0 1.2 .1 .9 0 1 .1 1 .1 1 0 1 .1 .9 0 1 .1 1 0 1.1 .1 1 0 1 .1 1 0 1 .1 1 .1 1 0 1 .1 1 0 .4 .6 -.1 .8 .1 .7 -.2 .8 -.5 .8 -1.7 .8 -.2 .7 .7 .7 .2 .6 1 .7 1 .6 .4 .7 .4 .6 .1 .7 1.1 .6 1.4 .8 .8 .7 .7 .7 .8 .7 .9 .7 .5 .7 .6 .7 .5 .7 .3 .9 -.4 .8 .7 .9 1.1 .8 .9 .9 .5 .8 1 .9 1 .8 -.4 .9 .2 .8 .5 1 .4 1 .5 1 .6 1 -2.6 1 -2.3 1 2.5 1 1.3 1 0 1 .6 1 .5 1 -.2 1 -.2 1 .9 1 -.1 1 -2 1 -1.4 1 1.9 1 .7 1 -1.1 1 .3 1 .4 1 .6 1 .4 1 .2 1 -.9 .3 -.7 .1 -.8 .2 -2.4 .2 -1 .1 .5 .2 -.9 .1 -1.1 .2 .5 .2 1.1 .1 1 .2 1 .2 .9 .1 .9 .2 1.1 .7 -.6 1 -.9 1 1.1 1 .1 1 .4 1 .5 1 -.4 1 .2 1 -.4 1 -1.3 1 -.6 1 0 1 1.4 1 .7 1.1 -.7 1 .8 1 -.7 1 0 1 1.7 1 -.6 1 0 1 .1 1 0 1 .2 1 -.6 1 -1.5 .8 -1.2 .8 -.4 .8 .3 .8 .2 .9 -.9 .8 .1 .8 -.8 .8 -1.1 .8 0 .8 0 .9 -.1 1 -.6 1 -.3 1 -.1 1 .2 1 .2 1 -.4 1 -.1 1 .2 1 -.1 .9 -.6 .7 -.4 .7 -.3 .7 -1.2 .7 -.6 .7 -.6 .7 -1.2 .7 -.2 .7 -.7 .7 -1.3 .7 -.3 .7 -.3 .6 -1.2 .5 -.6 .5 -.6 .5 -.7 .5 -1 .5 -1.4 .5 -1 .6 -.8 .5 -.8 .5 -1.2 .5 -.9 .5 -.4 .3 -.7 .3 -1.3 .3 -1 .3 -.6 .3 -1.2 .3 -1.1 .3 -1 .3 -.9 .3 -.6 .3 -1 .3 -1.2 .3 -.8 .4 -.8 .3 -1 .3 -.7 .3 -1.1 .3 -1.3 .1 -.9 .1 -1 .1 -.9 .2 -1 .1 -1.1 .1 -1 .1 -1 .1 -1 .2 -.9 .1 -1 .1 -1.1 .1 -1.1 .2 -.8 .1 -1 .1 -.9 .1 -1.1 .1 -.9 .2 -1 .1 -1.2 .1 -1 .1 -.9 .1 -1 .2 -.9 .1 -1 .1 -1 .1 -.9 .2 -1.1 .1 -1 .1 -.9 .1 -1.1 .1 -1 .2 -1 .1 -1 .1 -1 0 -1 .1 -1.1 .1 -1 .1 -.9 0 -1 .1 -1 .1 -.9 0 -1.1 .1 -1 .1 -1 .1 -1 0 -1 .1 -1 .1 -1 .1 -1 0 -1 .1 -1 .1 -1 .1 -1 0 -1 .1 -1 .1 -1 .1 -.9 0 -1 .1 -1.1 .1 -1.1 .1 -.9 0 -.9 .1 -1 .1 -1.1 .1 -1 0 -1 .1 -1 .1 -1 .1 -1 0 -1 .1 -1 .1 -1 .1 -1 .1 -.9 .1 -1.1 .2 -1.1 .1 -.7 .2 -1 .2 -1 .1 -1.1 .2 -1.2 .1 -.9 .2 -1 .2 -.9 .1 1.1 .2 .9 .1 1.1 .2 1.2 .1 .9 .2 .8 .1 1 .2 1 .2 1 .1 .9 .2 .9 .1 1 .2 1.1 .1 1.1 .2 .8 .2 .9 .1 1.1 0 1 .1 1 0 1 .1 1.1 0 1 .1 1 0 1 .1 1 .1 1 0 1 .1 1 0 1 .1 1 0 1 .1 .9 0 1 .1 1.1 .1 1 0 1 .1 1 0 1 .1 1 0 1 .1 .9 0 1.1 .1 1 0 1 .1 1 .1 1 0 1 .1 1 0 1.1 .1 .9 0 1 .1 1 0 .9 .1 1.1 .1 1.1 0 .9 .1 .9 0 .9 .1 1.1 0 1 .1 1 0 1.1 .1 1 .1 1 0 1 .1 .9 0 1.1 .1 .9 0 1 .1 1.1 0 1.1 .1 .9 0 1 .1 1.1 0 .9 .1 .9 .1 1 0 1.1 .1 1 0 1 .1 1 0 1 .1 1.1 0 .9 .1 1 0 1 .1 .9 0 1.1 .1 .9 0 .9 .1 1.1 0 1.1 .1 1 0 .9 .1 1.1 0 1 .1 1 0 1 .1 1 0 1 .1 1 0 1 .1 1 0 1 .1 1 .1 1 0 1.1 .1 .9 0 1 .1 1 0 1 .1 1 0 1 .1 .9 .2 1.1 .1 1.1 .1 .9 .1 .9 .1 1 .1 1.2 .1 .9 .1 .9 .1 1 .1 .9 .1 1.1 .1 1.1 .1 .9 .1 1.1 .1 1.1 .1 1 .8 -.7 1 .1 1 .7 1 -.3 1 .4 1 .4 1 -.1 1 -.4 1 -.9 1 -.6 1 -.7 1 1.3 1 .8 1.1 .1 1 .8 1 -.4 1 -1.4 1 -.7 1 .3 1 1.1 1 1.1 1 -.3 1 -.1 1 -1.2 1 -2.1 1 .9 1 1.6 1 -.1 1 -1.1 1 -.2 1 -.1 1 1.2 1 1.1 1 -.4 1 -.3 1 -1.6 1 -1.2 1 0 1 1.2 1 1.1 1 .8 1 -3 1 -.8 1 3.2 1 -1.1 1 -1.3 1 2.8 1 -.3 1 -.5 1 .4 1 1 1 -.5 1 -.1 1 -3.8 1 -.4 1 4.2 1 -.7 1 -2.6 1 .9 1 2.7 1 0 1 .2 1 -.2 1 -.1 1 -5.5 1 -.6 1 6 1 -1.6 1 -3.4 1 .2 1 2.5 1.1 2.1 1 .1 1 .9 1 .4 1 -.8 1 -.5 1 -2.8 1 .8 1 3.1 1 -.2 1 -.2 1 -2.8 1 -2.9 1 2.8 1 2.7 1 -2.1 1 -2.1 1 1.8 1 2.4 1 .2 1 -.2 1 .6 1 .1 1 -2.7 1 -3.2 1 4.5 1 .1" stroke="#1010d2" stroke-width="4.0" fill="none" stroke-linejoin="round" stroke-linecap="round"/>
<path d="M551 400l.1 0 0 4 .1 0 0 4 .1 0 .1 4 .1 0 0 4 .1 0 0 4 .1 0 .1 4 .1 0 0 4 .1 0 .1 4 .1 4 .1 0 0 4 .1 0 0 4 .1 0 .1 4 .2 0 .2 0 .3 4 .2 0 .3 0 .2 0 .3 4 .2 0 .3 4 .2 0 .3 0 .2 0 .3 0 .2 0 .3 0 .2 4 .3 4 .7 0 1 0 1 0 1 -4 1 0 .7 0 .3 0 .4 -4 .3 0 .3 0 .4 0 .3 -4 .3 0 .3 0 .4 0 .3 -4 .3 0 .4 0 .3 0 .3 0 .3 -4 .2 0 .2 0 .3 0 .2 -4 .2 0 .2 0 .2 0 .3 0 .2 -4 .2 0 .2 0 .3 0 .2 -4 .2 0 .2 0 .2 0 .3 -4 .2 0 .2 0 .2 0 .3 -4 .2 0 .2 0 .2 0 .3 -4 .2 0 .2 0 .3 0 .2 -4 .3 0 .3 0 .2 -4 .3 0 .2 0 .3 0 .3 0 .2 -4 .3 0 .3 0 .2 0 .3 0 .3 -4 .2 0 .3 0 .2 0 .3 0 .3 -4 .2 0 .3 -4 .3 0 .6 0 .6 0 .7 0 .6 -4 .6 0 .6 0 .6 0 .7 0 .6 0 .6 -4 .8 0 .8 4 .9 4 .8 -4 .8 -4 .9 4 .8 4 .6 4 .4 -8 .5 -4 .4 4 .5 -4 .4 0 .4 0 .5 0 .4 -4 .5 0 .4 -4 .5 0 .4 0 .4 0 .4 0 .4 4 .4 -4 .4 4 .4 0 .4 4 .4 0 .4 0 .4 0 .4 4 .4 0 .4 4 .3 0 .4 0 .4 4 .5 0 .9 -8 .9 4 .9 0 .9 4 .5 -4 .3 -4 .3 -4 .2 4 .3 -4 .3 0 .3 0 .3 0 .3 0 .3 -4 .3 0 .3 -4 .3 0 .3 0 .3 0 .3 -4 .3 4 .3 0 .2 0 .1 0 .2 0 .2 0 .2 4 .2 0 .2 0 .1 0 .2 4 .2 0 .2 0 .2 4 .2 0 .1 0 .2 0 .2 0 .2 4 .2 0 .2 0 .1 0 .2 4 .2 0 .2 0 .1 0 .1 4 .1 0 .1 0 .1 0 .1 4 .2 0 .1 0 .1 0 .1 4 .1 0 .1 0 .1 4 .2 0 .1 0 .1 0 .1 0 .1 4 .1 0 .1 0 .2 0 .1 4 .1 0 .1 0 .1 0 .1 0 1 0 1 0 1 0 1 0 1 4 1 0 .6 0 .7 0 .6 4 .6 0 .6 -4 .6 -4 .6 4 .6 0 .6 0 .6 4 .8 0 .8 0 .8 0 .8 0 .8 0 .8 0 .8 -8 .8 8 .8 0 .8 0 .7 0 .7 0 .7 -4 .7 0 .7 -4 .7 0 .7 0 .7 0 .7 0 .7 0 .7 -8 .7 0 1 0 1 4 1 0 .9 -4 1 0 1 0 1 4 .9 -4 .8 0 .7 4 .7 -4 .8 0 .7 -4 .7 4 .7 -4 .7 0 .7 0 .8 0 .7 -4 .8 4 1 0 .9 0 1 0 1 0 1 0 1 0 1 -4 1 0 1 4 1 0 .9 0 1 4 .9 0 .9 0 .8 0 .9 0 .9 0 .8 -4 .9 4 .8 0 .9 8 .9 0 .8 0 .9 -8 .9 4 .8 -4 .9 4 .8 4 .9 0 .8 0 .9 4 .9 0 .8 0 .9 -4 .8 -4 .9 0 .9 4 .9 0 .9 0 .9 8 .9 -4 .9 0 .9 -4 .9 0 .8 4 .8 -4 .9 4 .8 0 .8 4 .8 0 .8 -4 .8 4 .8 0 .8 4 .8 0 1 4 1 -4 1 0 1 -4 1 8 1 -8 1 4 1 -4 1 0 1 4 1 -4 1 0 .9 -4 .4 4 .5 0 .5 4 .5 -4 .5 4 .5 -4 .5 -8 .5 0 .5 0 .5 0 .5 0 .5 4 .5 -4 .5 0 .5 -4 .5 0 .3 0 .3 0 .2 -4 .3 0 .2 0 .2 0 .3 0 .2 -4 .3 0 .2 0 .3 0 .2 -4 .3 0 .2 0 .3 -4 .2 0 .3 0 .2 0 .3 -4 .2 0 .3 0 .1 0 .2 0 .1 -4 .2 0 .1 0 .2 -4 .2 0 .1 0 .2 0 .1 0 .2 -4 .1 0 .2 0 .1 0 .2 -4 .2 0 .1 0 .2 -4 .1 0 .2 0 .1 0 .2 0 .1 0 .2 -4 .2 0 .1 -4 .2 0 .1 0 .2 0 .1 0 .2 0 .1 -4 .2 0 .2 0 .1 0 .2 0 .2 4 .2 0 .1 0 .2 0 .2 4 .2 0 .1 4 .2 -4 .2 0 .2 4 .1 0 .2 4 .2 0 .1 0 .2 0 .2 0 .2 4 .1 0 .2 0 .2 0 .2 4 .1 0 .2 0 .1 0 .2 4 .1 0 .2 0 .2 0 .1 0 .2 4 .1 0 .2 0 .1 4 .2 0 .2 0 .1 4 .2 0 .1 0 .2 0 .1 0 .2 4 .2 0 .1 0 .2 0 .1 4 .2 0 .2 0 .2 0 .3 4 .3 0 .3 0 .2 4 .3 0 .3 0 .2 0 .3 0 .3 4 .3 -4 .2 4 .3 0 .3 4 .6 -4 1 0 1 0 1 0 1 0 1 -4 .9 4 1 0 1 0 1 0 1 -4 .9 0 .9 0 .9 4 1 -4 .9 4 .9 0 1 0 .9 0 .9 0 .9 -4 .9 -4 .8 8 .8 -4 .8 0 .7 0 .8 0 .8 4 .8 4 .7 4 .8 -8 .8 0 .8 0 .7 8 .8 0 .6 0 .6 -4 .7 0 .6 -4 .6 8 .7 4 .6 0 .6 -4 .6 0 .7 4 .6 8 .6 -4 .7 -4 .8 0 .8 4 .8 0 .8 0 .8 -4 .8 8 .8 -4 .8 8 .8 -4 .8 4 .7 -4 .7 0 .8 0 .7 4 .7 0 .7 4 .7 0 .7 -4 .8 4 .7 4 .7 -4 .7 0 .7 -4 .7 0 .7 4 .7 0 .8 -4 .7 -4 .7 0 .7 8 .4 -4 .4 0 .4 0 .4 -4 .4 -4 .4 4 .4 -4 .4 0 .4 -4 .4 0 .4 0 .4 0 .4 0 .4 -4 .4 0 .4 0 .4 0 .5 -4 .4 0 .5 4 .4 0 .5 -4 .4 0 .5 -4 .4 0 .5 0 .4 0 .4 0 .5 0 .4 -4 .5 0 .4 0 .5 0 .4 0 .3 -4 .3 0 .4 -4 .3 0 .3 0 .3 0 .3 -4 .4 0 .3 0 .3 -4 .3 0 .3 0 .4 0 .3 0 .3 0 .3 -4 .3 0 .4 -4 .3 0 .3 4 .3 0 .3 -4 .4 0 .3 -4 .3 0 .4 0 .4 4 .5 -4 .4 -4 .5 0 .4 -4 .4 0 .5 -4 .4 0 .5 4 .4 0 .4 -4 .5 0 .4 0 .1 0 .1 0 0 4 0 4 0 4 0 4 .1 0 0 4 0 4 0 4 .1 0 0 4" stroke="#080808" stroke-width="4.2" fill="none" stroke-linejoin="round" stroke-linecap="round"/>
<path d="M550.3 327.3l0 1 0 1 0 1 .1 1 0 1.1 0 .9 0 1 0 1 0 1 0 1 0 1 0 1 0 1 .1 1 0 1 0 1 0 1.1 0 .9 0 1 0 1 0 1 0 1 0 1.1 0 1 .1 1 0 .9 0 1 0 1 0 1.1 0 1 0 .9 0 1 0 1.1 0 .9 .1 1.1 0 1 0 .9 0 1 0 1 0 1.1 0 1 0 .9 0 1.1 0 .9 .1 1.1 0 1 0 1 0 .9 0 1.1 0 1 0 1 0 1 0 1 0 1 0 1 .1 1 0 1 0 1 0 1 0 1 0 1 0 1 0 1 0 1 0 .9 .1 1.1 0 .9 0 1.1 0 1 0 1 0 1.1 0 .9 0 1 0 1 0 1 .1 1 0 1 0 1 0 1 0 1 0 1 0 1 0 1 0 1 0 1 0 1 .1 1 0 1 0 1 0 1 0 1 0 1 0 1 0 1 0 1.1 0 1 .1 .9 0 1 0 1 0 1 0 1 0 1.1 0 .9 0 1.1 0 .9 0 1 0 1 .1 1 0 1 0 1.1 0 .9 0 1.1 0 .9 0 1 0 1 0 1 0 1.1 .1 1 0 1 0 1 0 1 0 .8 .1 .8 0 1.1 .1 1.1 0 1 .1 1.4 0 .6 .1 1.1 0 1 .1 1.1 0 1.2 .1 1.1 0 1.1 .1 .2 0 .9 .1 1.3 0 1.1 .1 1.1 0 .9 .1 1 .1 1.3 0 1 .1 .8 0 1 .1 .8 0 .9 .1 1.3 0 1.1 .1 1 0 1.1 .1 .5 0 1 .1 .9 0 1.2 .1 1.2 0 .8 .1 .6 .3 .8 .3 3.6 .3 1 .4 -1.3 .4 -.5 .5 -2.3 .6 -1.6 .5 1.8 .5 -3.3 .5 -.3 .6 -1.8 .5 2.4 .5 .4 .6 -2 .2 -1 .2 -1.5 .2 .1 .2 -2.3 .3 0 .2 -1.1 .2 -1.5 .2 -.5 .2 -1.5 .2 -1.3 .2 -.5 .2 .9 .2 -1.9 .3 -2.3 .2 .1 .2 -.5 .2 -1.7 .2 -2.2 .2 -.7 .2 .2 .2 -2.3 .2 -1 .3 -.1 .2 -.5 .2 -1.5 .2 -2 .2 -1.2 .2 -.6 .2 -1.4 .2 .7 .3 -1.8 .2 -.1 .2 -2 .2 -1.1 .2 -1 .2 -2 .2 0 .2 -.9 .2 -.6 .1 -.5 .2 0 .2 -3.1 .2 .4 .2 -1.3 .2 -1.2 .2 -2.2 .2 -.4 .2 .7 .2 -1.6 .2 -.9 .2 -2.1 .2 -1.9 .2 -.6 .2 -.5 .2 .4 .2 -.3 .2 -3.1 .2 -.9 .2 -1.4 .2 -.8 .2 1 .1 -2.5 .2 -2.1 .2 .7 .2 -2.6 .3 .6 .2 -1.1 .2 -1.3 .2 -2.1 .3 .9 .2 -1.2 .2 -.9 .2 -.9 .3 -2.3 .2 -.2 .2 -1.7 .2 .4 .3 -1.4 .2 -1.2 .2 .4 .2 -4.6 .3 2.1 .2 -2.6 .2 .6 .2 -1.9 .3 -.1 .2 -.9 .2 -3.4 .2 .8 .3 -.5 .2 -1.3 .3 .6 .5 .2 .6 -3.1 .5 .3 .5 -3.5 .5 .9 .6 -2.1 .5 -1.3 .5 1.5 .5 -.1 .6 -.7 .5 -13 .7 2.9 1 12.2 1 -7.4 1 -3.1 1 4.5 1 .4 .8 4.4 .4 -4.9 .4 -1.4 .4 -1.5 .4 .5 .4 -2.4 .4 -1 .4 -1.6 .4 -.8 .4 .5 .4 -2.5 .4 -2.2 .4 3.9 .4 -4.4 .4 3.2 .4 -4 .2 .3 .1 .2 .1 1.3 .2 2.1 .1 -1 .2 2.9 .1 1.2 .1 1 .2 1.6 .1 .6 .2 1.4 .1 .9 .1 .3 .2 .9 .1 1 .2 1.3 .1 .4 .1 1.2 .2 1 .1 .9 .2 2.5 .1 .3 .1 .3 .2 .5 .1 1.6 .2 .7 .1 -.4 .1 2.7 .2 .2 .1 1.9 .2 .7 .1 1.8 .1 -.4 .2 1.1 .1 2.8 .1 -.1 .2 -1.7 .6 2.2 .8 7.6 .7 -4.2 .7 1.7 .7 3.3 .5 -4.2 .1 -1.7 .2 -1.3 .1 -.5 .1 -.3 .1 -1.5 .2 -1.4 .1 -.7 .1 .5 .1 -1.8 .1 -1.4 .2 -1.1 .1 -1.3 .1 -1 .1 -1.4 .1 -.8 .2 -.8 .1 -.4 .1 -1.3 .1 -.1 .2 -1.6 .1 -1.5 .1 -.7 .1 -.5 .1 -1.1 .2 -.5 .1 -1.1 .1 -2.2 .1 -.8 .2 0 .1 -1.7 .1 -1.6 .1 -.6 .3 2.9 .5 -4 .4 -7.1 .5 4.7 .4 -3.9 .5 -1.8 .4 1.8 .2 2 .2 .8 .1 .6 .1 .6 .1 1 .2 1.5 .1 .3 .1 2.3 .2 .6 .1 1.7 .1 -.1 .2 1.7 .1 .3 .1 .9 .2 1.3 .1 .6 .1 1.5 .2 .8 .1 .8 .1 1.9 .2 .3 .1 1.9 .1 .2 .2 .4 .1 .9 .1 1.5 0 .8 .1 1.6 0 .7 .1 .9 .1 1.5 0 1.4 .1 .3 0 .9 .1 1.4 .1 .9 0 .7 .1 1.1 0 1 .1 .4 .1 1.5 0 1.5 .1 1 0 .6 .1 1 .1 1 0 1.3 .1 .2 0 1.5 .1 1.4 .1 .2 0 1 .1 .9 0 1.7 .1 .7 .1 1 0 .8 .1 1.8 0 .8 .1 .6 .1 1.5 0 1 .1 .5 0 1.3 .1 .8 .1 1.1 0 1.1 .1 1.1 0 1.1 .1 .6 .1 1.5 0 .6 .1 1.2 0 .8 .1 1.3 .2 -1 .7 -3 .8 .2 .7 .6 .7 -.8 .7 -2 .8 1.4 .8 .6 .9 -3.7 .8 1.7 .8 1.6 .8 -3 .9 -3.6 .8 3.9 1 -.1 1 4.3 .9 -6.1 1 1 .9 7 1 -1.5 .7 -1.5 .7 -1.5 .7 -1.2 .7 -.1 .8 -3.9 .7 1.4 .7 -3.8 .7 2 .7 -.8 .7 -.2 .8 0 .7 -2.9 .8 -1.2 .8 .5 .8 -1.4 .8 .3 .8 -4.1 .8 2.3 .8 -4.7 .8 3.3 .8 1.5 .7 .6 .9 -4.3 .8 -3.5 .8 1.4 .8 .1 .8 3.6 .8 0 .8 -3.6 .8 -1.6 .8 -.5 .8 1.4 .9 -4.8 .9 .6 .9 3 .9 -2 .9 1.9 .9 -2.9 .9 -.9 .9 -1.1 .8 -4.7 .4 4.7 .3 -.5 .4 -1.1 .3 .2 .3 -.8 .4 -1.8 .3 -3.3 .4 2.3 .4 -.6 .4 -.9 .5 1.7 .4 -.7 .5 3.8 .4 -2.4 .5 3.5 .4 -1.6 .5 .6 .4 2.5 .5 -.7 .4 1.9 .8 1.4 .8 .6 .8 2.5 .8 -1.9 .8 -1.4 .8 1.4 .7 3.2 .8 1.9 .8 -2.8 .8 1.8 .8 .8 .8 2.3 .8 -1.4 .8 -.3 .9 -.3 .8 2.3 .9 .2 .8 -.9 .9 1.2 .8 2.5 .9 -.9 .8 -1 .9 1.6 .8 2.4 .9 -1.3 .9 1.3 .9 1.9 1 -2.6 .9 1.1 .9 -.3 1 2.8 .9 -.9 1 -2.1 .9 .2 .9 3.4 1 4.4 .5 -5.6 .6 2.4 .6 2.4 .6 -1.9 .5 3.4 .6 -.9 .6 2 .6 .6 .5 -2.5 .6 1.7 .6 2 .6 3.4 .5 -1.3 .6 -2.7 .6 7.4 .4 -1.4 .5 -3.6 .4 -.2 .5 -.2 .4 1.5 .4 -1.9 .5 -4.3 .4 -.6 .5 1.5 .4 .2 .4 -2.6 .5 -.4 .4 .5 .5 -1.4 .9 3 .9 -7.4 .9 -.8 .9 -.5 .9 2.9 .9 -1 1 2 .9 -6.5 .8 3.9 .3 0 .3 -3.3 .3 -1.5 .3 .7 .3 -.3 .3 -2.5 .2 .3 .3 -1.8 .3 -1.5 .3 -.2 .3 -4.7 .3 4.4 .3 -1.9 .2 -3.2 .3 -.9 .3 1 .3 -.7 .3 -3.5 .3 -.9 .3 1.6 .3 -3.5 .2 1.3 .1 -2.1 .2 -1 .2 -1.3 .1 -.3 .2 -1.3 .2 .4 .2 -3.3 .1 -.1 .2 -.9 .2 -1.2 .2 -1.3 .1 -.3 .2 -.9 .2 -.7 .2 -1.5 .1 -.4 .2 -1.8 .2 -1.5 .2 -.3 .1 -2.4 .2 1.7 .2 -2.1 .1 -.6 0 -1.9 .1 -.5 .1 -.8 .1 -.9 .1 -1.6 0 -1 .1 -.8 .1 -1 .1 -1.1 0 -1.2 .1 -.9 .1 -.8 .1 -1 .1 -1.1 0 -1 .1 -.4 .1 -1.3 .1 -1.2 0 -1.2 .1 -1.3 .1 -.5 .1 -.8 .1 -.7 0 -1.6 .1 -1.2 .1 -1 .1 0 0 -1.7 .1 -.8 .1 -1.4 .1 -1 0 -1 .1 -.9 .1 -1.4 .1 -.6 .1 -1.4 0 -.3 .1 -1.9 .1 -.2 .1 -.7 0 -1.1 .1 -1.2 .1 -1.6 .1 -.6 .1 -.7 0 -1.2 .1 -1 .1 -.8 .1 -1.1 0 -1.2 .1 -1.4 .1 -.3 .1 -1.4 .1 -1.1 0 -.9 .1 -1 .1 -.1 .1 1.4 0 .5 .1 1.4 .1 .7 .1 1 .1 1.3 0 .8 .1 1.2 .1 .8 .1 1 .1 1.2 0 .7 .1 1.2 .1 1.1 .1 .9 .1 .9 0 1.2 .1 1.3 .1 .4 .1 1.6 0 .4 .1 .9 .1 1.1 .1 1.8 .1 .4 0 .5 .1 1.9 .1 .5 .1 1.3 .1 1 0 .6 .1 1.5 .1 .3 .1 1.1 .1 .7 0 1.4 .1 1.5 .1 1.2 .1 1.3 .1 .5 0 .3 .1 1.6 .1 .6 .1 1.4 0 .7 .1 .9 .1 1 .1 1.1 .1 .6 0 1.5 .1 .5 .1 1.8 .1 1 .1 .7 0 .8 .1 1.8 .1 .8 .1 .7 .1 .4 0 1.6 .1 .8 .1 1.2 .1 1 .1 .9 0 .5 .1 1.3 .1 1.4 .1 1.1 0 1.1 .1 0 .1 1.3 .1 1.3 .1 .4 .1 .8 .1 1.7 .1 .6 .1 .4 .1 1.9 .1 1.6 .1 .4 .1 1.1 .1 1 .1 1.2 .1 .5 .1 .9 .2 1.7 .1 .8 .1 .8 .1 .9 .1 .9 .1 .6 .1 1.6 .1 .7 .1 .6 .1 1.6 .1 .9 .1 1 .1 1.1 .2 1.5 .1 .2 .1 1.4 .1 .8 .1 .3 .1 2.3 .1 1 .1 .1 .1 .5 .1 1.8 .1 1.7 .1 1 .5 -.2 .7 -.2 .7 3.4 .7 .8 .7 -2.1 .7 1.4 .7 1.3 .7 -.5 .8 1.3 .9 1 .9 4.4 1 -5.7 .9 .2 1 .9 .9 .9 .9 -3.8 .8 -.6 .8 -.1 .9 6.6 .8 -.9 .8 -1.7 .9 2.3 .7 -1.4 .6 -.7 .5 -.6 .5 .8 .5 -1.6 .5 -2.4 .5 -.1 .5 1 .5 -3.4 .6 -3 .5 2.5 .5 -5 .6 3.9 .9 1.2 .9 -1.3 .9 .9 .9 -.7 .9 .8 .9 -.6 .9 1.8 .9 2.2 .8 -2.7 .7 1.1 .7 .7 .8 -1.4 .7 -2.3 .7 6.5 .7 3.9 .7 .1 .7 -4 .7 4.7 .7 2.7 .7 -3.5 .7 -.3 .7 -2.6 .7 5.6 .8 .7 .7 2.1 .7 -5.5 .7 2.9 .7 3 .7 -1.2 .7 .5 .8 -.4 .7 3.8 .8 1 .8 -1.3 .9 2.1 .8 .1 .8 -1 .9 1.3 .8 4.6 .7 -1.5 .7 -.6 .8 .1 .7 -3.1 .7 1.5 .7 -3.5 .7 -1.4 .7 .9 .7 -3 .4 1.9 .4 -.2 .4 -4.9 .3 3.4 .4 -4.2 .4 1.8 .4 .4 .4 -2.3 .4 -3.5 .4 -1.5 .4 1.8 .4 -3.6 .4 2.3 .4 -2.3 .4 -.7 .4 -.3 .4 -2.2 .4 1 .4 -1.2 .4 -3.4 .4 .7 .4 -.7 .4 2 .4 -4.1 .4 1.5 .4 -3.5 .4 -2.5 .4 .9 .4 -.5 .4 -1.9 .4 .6 .5 -2.2 .4 -1.7 .4 .8 .4 -3.2 .4 .2 .3 -2.3 .4 -.9 .3 1.3 .4 -3.8 .3 1.3 .4 -1.6 .3 -.8 .4 -.7 .3 -.8 .4 .9 .3 -2.4 .4 .1 .3 -2.1 .4 .6 .3 -1.8 .4 -2 .3 -.9 .3 -.9 .4 -.6 .3 -1.2 .3 -.9 .3 -.7 .3 .4 .3 -2.4 .4 -1 .3 -.4 .3 .7 .3 -4 .3 0 .4 -2.2 .3 1.1 .3 -1 .3 -1.5 .3 -.3 .3 -2.4 .4 -.6 .2 -.2 .3 -1.3 .2 -.7 .3 -1.3 .2 -1.7 .3 -.6 .2 -1.6 .3 .6 .2 -.2 .3 -.8 .2 -.6 .3 -2.2 .2 -1.1 .3 -.7 .2 -1.3 .3 -1.5 .2 1" stroke="#1ee61e" stroke-width="4.2" fill="none" stroke-linejoin="round" stroke-linecap="round"/>
<path d="M514 496.7l1 5.1 1 -5.3 1 1.4 1 .5 1 1.7 1 -.8 1 -.9 1 -3.4 1 1 1 1.6 1 .4 1 -.6 1 1.3 1.1 -3.7 1 2.8 1 4.4 1 -4.9 1 -1 1 .4 1 -2.8 1 3.4 1 1.1 1 -1.6 1 1.8 1 -3.4 1 4.7 1 1.3 1 -5.2 1 5.5 1 -5.5 1 -3.6 1 .7 1 5.3 1 -.9 1 .8 1 -3.5 1 2 1 1.7 1 -2 1 -.5 1 1.3 1.1 2.4 1 -3.3 1 1.8 1 -2.2 1 2.4 1 .4 1 -.6 1 .3 1 -1 1 -3.1 .9 3.6 1 -3.1 .9 2.4 .9 -2.1 1 4.9 .9 -6 .9 -1.7 1 4.5 .9 -4.9 .9 4 1 -2.7 .9 2.5 .9 .1 1 -1.9 .9 -2.4 .9 -3.1 1 5.4 .9 -2.8 .9 .4 1 -.2 .9 -1.8 .9 1.8 1 -5.9 1 3.6 1 3.2 1 -2.5 .9 -3.6 1 -4.7 1 7.4 1 -.5 1 1.3 .9 -5.5 .9 .5 .9 1.6 .8 1.2 .9 -4.7 .9 .5 .8 -4.1 .9 5.2 .9 -3 .8 1.4 .9 -3.1 .9 .6 .8 1.9 .9 -4.7 .8 .4 .9 2 .9 1.4 .8 -3.6 .9 -1.3 .8 3.7 .9 -5.1 .9 -.3 .8 .3 .9 .9 .7 -1.6 .5 -2.8 .5 1.1 .6 1.1 .5 -3.9 .5 4.5 .5 -6.5 .5 -1.9 .5 .7 .5 .5 .6 -2.2 .5 1.6 .6 -2.9 .7 1.5 .7 -1.5 .7 1.2 .7 -3.4 .7 -.2 .7 -2.8 .8 .1 .7 3.2 .6 -7 .6 4 .7 -1.9 .6 -2 .6 1.9 .6 -3 .7 2.9 .6 -4.1 .6 -1.7 .7 -1.5 .6 -.3 .6 .4 .6 3.5 .7 -5.8 .8 .6 .7 -4.6 .7 2.3 .7 -1.4 .7 -4.5 .7 4.7 .7 -1 .8 -.4 .7 -3.3 .7 3.2 .7 -2.8 .7 2 .7 -5.8 .8 5.9 .8 -3 .7 -3.2 .8 -.3 .8 3.8 .8 -3.6 .8 .8 .8 -2.5 .7 -3.9 .8 4.4 .8 -7.6 .8 7 .8 1.7 .8 -11.9 .8 11.1 .7 -5.3 .8 -2.2 .8 1.8 .8 -5.3 .8 2.5 .8 2.5 .7 -3.7 .8 2.4 .8 -3.9 .8 3.5 .8 -3.9 .8 -2.7 .8 3.5 .8 1 .9 -6.2 .8 .2 .8 2.8 .9 -4 .8 4.7 .7 -.8 .7 1.8 .7 -1.2 .7 -3.4 .7 2.6 .7 1.4 .7 1 .7 -1.6 .7 4.5 .7 -4.1 .8 2.1 .6 4.4 .7 2.8 .6 1.1 .6 -4.3 .7 -.4 .6 3.3 .7 0 .6 -.3 .6 .7 .7 1.8 .6 -.8 .7 4.9 .6 -3 .7 -.3 .6 2.9 .6 4.2 .8 -1.3 .9 1.2 .9 -5.4 .8 5.9 .9 1.8 .8 -4.8 .9 5.8 .9 -2.4 .8 .2 .9 5.2 .8 -1.4 .9 -5.4 .7 3.9 .8 3.5 .7 -5 .7 1.9 .8 4.6 .7 -.3 .7 6.5 .8 -6.2 .7 -1.3 .8 5.4 .7 -4.1 .7 1 .9 1.8 1 -2.8 .9 3.2 .9 1.9 1 -.9 .9 2 .9 -4 .9 3.5 1 3.5 .9 -2.1 .9 2.4 1 -1.9 1 .1 1.1 -.5 1 .6 1 1.5 1 -.7 1 .1 1 -2.4 1 -4.4 1 3 1 1 .9 3.2 1 -3.9 1 1.4 1 -1.1 1 -1.4 .9 1.8 1 -1 1 -.4 1 -1.1 .9 -1.2 1 1.4 .9 3.3 1 -3.6 .9 -.1 .9 -3.5 1 5.4 .9 -3.4 1 4.6 .9 -.5 .9 -5.4 .9 3.6 .9 -6.1 .8 2.8 .9 -2.1 .8 2.1 .9 -4.7 .8 2 .9 -2.2 .8 -1.9 .9 8 .8 -5.9 .9 .2 .9 1.3 .9 -2.5 1 -2.3 .9 2.9 .9 -4.8 1 -.4 .9 3.3 1 -.7 .9 -.5 .9 1.2 1 1.3 .8 -3.3 .9 -2.4 .8 -.3 .8 -.4 .9 2.4 .8 -3.5 .8 2.8 .8 -5 .7 -.4 .7 3.5 .8 .7 .7 2 .7 -2.1 .7 3.5 .7 -4.3 .7 6.1 .8 2.2 .7 -2.8 .7 .3 .7 1.9 .7 -2.5 .7 4.2 .7 1.6 .7 .6 .7 .9 .7 .9 .7 -.3 .7 -2.7 .7 .5 .8 4 .7 -1 .7 -.4 .7 1.9 .6 0 .5 4 .6 2.4 .5 -.9 .6 -.1 .5 1.2 .6 -1.9 .5 4.7 .6 -2.8 .5 3.8 .6 -1.5 .6 1.1 .5 1.7 .6 0 .5 4.5 1 -.9 .9 .3 1 -3.6 1 2.3 1 1.2 .9 -.3 1 .7 1 -.7 .9 2 .8 .4 .9 .3 .8 -8 .8 3.9 .8 -.7 .9 -3.1 .7 5.2 .4 -3.5 .3 -4 .4 -.1 .3 -.6 .4 -1.7 .3 .3 .4 -1.7 .3 -.8 .4 -1.5 .3 1.1 .4 -3.1 .3 -1.8 .4 1.4 .3 -.3 .4 -1.2 .3 1.3 .4 -3.7 .4 .3 .3 -3.9 .4 .9 .4 -2.2 .4 -.3 .3 -1.9 .4 .4 .4 1.5 .4 -3.3 .3 -1.4 .4 -2.2 .4 2.9 .4 -2.5 .3 -4.2 .4 3.4 .4 0 .4 -3.4 .3 -.5 .4 -4.6 .4 1.8 .4 .2 .3 -.9 .3 -1.9 .4 .3 .3 -4 .3 1.8 .3 -.5 .3 -3.6 .4 1.2 .3 .5 .3 -2.9 .3 -2.4 .3 -.3 .3 -1.5 .4 -1.5 .3 .1 .3 -1.9 .3 .9 .3 -.6 .4 -2.6 .3 -2.9 .2 1.8 .2 -.5 .3 -.5 .2 -1 .2 -.6 .2 -2.2 .3 .3 .2 -2.3 .2 -1.2 .2 -.8 .3 -.6 .2 -.6 .2 -1.2 .2 -3 .3 1.4 .2 -1.2 .2 -1.9 .2 -1.9 .3 .6 .2 -1.6 .2 .6 .2 -2.7 .3 1.1 .2 -1.2 .2 -2.4 .2 1 .3 -2.9 .2 -1.4 .2 1.1 .3 -3 .2 -1.4 .3 1.8 .2 -2.6 .2 -1 .3 -1.4 .2 -.7 .3 -1.4 .2 0 .2 -1.9 .3 -.7" stroke="#e21818" stroke-width="4.2" fill="none" stroke-linejoin="round" stroke-linecap="round"/>
<path d="M548.9 279.9l.1 .9 0 1.1 0 1 0 .9 0 1.1 0 1 0 1 0 1 0 1 0 1 0 1 0 1 0 1 0 1 0 1 0 1 0 1 .1 1 0 1 0 1 0 1 0 1 0 1 0 1 0 1 0 1 0 1 0 1 0 1 0 1 0 1 0 1 0 1 0 1 .1 1 0 1 0 1 0 1 0 1 0 1 0 1 0 1 0 1 0 1 0 1 0 1 0 1 0 1 0 1 0 1 0 1 .1 1 0 1 0 1 0 1 0 1 0 1 0 1 0 1 0 1 0 1 0 1 0 1 0 1 0 1 0 1 0 1 0 1 .1 1 0 1 0 1 0 1 0 1 0 1 0 1 0 1 0 1 0 1 0 1 0 1 0 1 0 1 0 1 0 1 0 1 0 1 .1 1 0 1 0 1 0 1 0 1.1 0 .9 0 1 0 1 0 1 0 1 0 1.1 0 1 0 1 0 1 0 1 0 1 0 1 .1 1 0 1 0 1 0 1 0 1 0 1 0 1 0 1 0 1 0 1 0 1 0 1 .1 1 0 1 0 1 0 1 0 1 0 1 .1 1 0 1 0 1 0 1 0 1 .1 1 0 1 0 1 0 1 0 1 .1 1 0 1 0 1 0 1 0 1 0 1 .1 1 0 1 0 1 0 1 0 1 .1 1 0 1 0 1 0 1 0 1 .1 1 0 1 0 1 0 1 0 1 .1 1 0 1 0 1 0 1 0 1 0 1 .1 1 0 1 0 1 0 1 0 1 .1 1 0 1.1 0 .9 0 1 0 1 .1 1.1 0 .9 0 1 0 1 0 1 0 1 .1 1 0 1 0 1 0 1 0 1 .1 1 0 1 0 1 0 1 0 1 .1 1 0 1 0 1.1 0 1 0 .9 0 1 .1 1 0 1 0 1 0 1.1 0 .9 .1 1 0 1.1 0 1 0 1 0 1 .1 1 0 1 0 1 0 .9 0 1 0 1.1 .1 1 0 1 0 1 0 1 0 .9 .1 1.1 0 1 0 1 0 1 0 1 .1 1 0 1 0 1 0 1 0 1 .1 1 0 1 0 1 0 1 0 .8 .2 1.1 .1 1.2 .1 .9 .1 .9 .1 1 .1 1.2 .1 .8 .2 1 .1 1 .1 .9 .1 1.1 .1 1.1 .1 .9 .2 .8 .1 1.2 .1 1 .1 1 .1 1 .4 .7 .4 1 .5 1.5 .4 .4 .4 .4 .5 1.3 .4 1.3 .9 .2 1 -.6 1 -.4 1 .3 1 .7 .6 -.6 .5 -1.4 .4 -1.1 .4 -.8 .5 -.4 .4 -1.3 .4 -1.2 .5 -.3 .4 -.5 .4 -.8 .5 -1.1 .3 -1.2 .3 -1.4 .3 -1.2 .2 -.9 .3 -.7 .3 -.9 .2 -1 .3 -.7 .2 -1.2 .3 -1.4 .3 -.3 .2 -.7 .3 -1.5 .2 -1.2 .3 -.7 .3 -.7 .2 -1 .3 -1.2 .2 -1.1 .3 -.8 .3 -.9 .2 -1.2 .3 -.9 .2 -.6 .2 -1.2 .1 -1.1 .2 -.7 .1 -1 .2 -1.1 .1 -1.1 .2 -1 .1 -1 .2 -1 .1 -1 .2 -1 .1 -1.1 .2 -.8 .1 -1 .1 -1 .2 -1 .1 -1.1 .2 -.8 .1 -1.2 .2 -1 .1 -1 .2 -1 .1 -.8 .2 -1 .1 -1.3 .2 -.8 .1 -.8 .2 -1 .1 -1.1 .2 -.9 .1 -.9 .2 -1.1 .1 -1.1 .2 -.9 .2 -.8 .1 -1 .2 -.8 .1 -1.1 .2 -1.2 .2 -.9 .1 -1 .2 -1.1 .2 -1 .1 -1 .2 -1.1 .1 -1.1 .2 -.9 .2 -1.2 .1 -.7 .2 -.8 .1 -1.2 .2 -.9 .2 -1.1 .2 -.9 .5 -.2 .4 -1.5 .5 -1 .4 -.4 .5 -.9 .4 -.8 .8 -.8 .9 -.3 .9 .3 1 .8 .9 1.2 .9 .8 .1 .5 .2 1.1 .2 .8 .1 .7 .2 1 .2 1.2 .2 .9 .1 .9 .2 1.3 .2 1.1 .1 1.1 .2 .8 .2 -.8 .2 -.9 .2 -.9 .2 -1.1 .2 -.8 .2 -.9 .3 -.8 .2 -.9 .2 -1 .2 -1.2 .2 -1 .2 -1 .2 -1.2 .2 -1.2 .3 -1.1 .5 -.3 .6 -.5 .5 -1 .6 -.8 .5 -1.1 .6 -.4 .5 -.9 .2 .4 .1 1 .1 1 .1 1 .1 1.1 .2 .9 .1 .9 .1 1 .1 1 .1 1.2 .1 1 .1 1 .2 .7 .1 1 .1 1.1 .1 1 .1 1 .1 .9 .1 1.1 .2 1 .1 1 .1 .9 .1 1 .1 1.1 .1 1 .1 1 .2 .9 .1 1 .2 1.1 .2 .9 .1 .9 .2 1.1 .2 .9 .1 1 .2 1.2 .1 1 .2 .9 .2 1.1 .1 .9 .2 1 .2 1.1 .1 .8 .2 .9 .2 1.2 .1 1 .7 -.1 .9 0 .8 -1.4 .7 -.6 .2 -1 .1 -1.1 .1 -1 .1 -.9 .2 -.9 .1 -1.1 .1 -1 .1 -.9 .2 -1 .1 -1.1 .1 -.9 .1 -1 .2 -1.1 .1 -.8 .1 -.9 .1 -1.3 .2 -.9 .1 -.9 .1 -1 .1 -.9 .2 -1 .1 -1.2 .1 -1.1 .1 -.9 .2 -1 .2 -1 .2 -1 .1 -.9 .2 -1 .2 -1 .2 -.9 .2 -1.1 .1 -1.1 .2 -.9 .2 -1 .2 -.6 .3 .8 .3 .7 .3 1.4 .4 1.2 .3 .7 .3 .9 .3 1.1 .3 .8 .3 .8 .2 1.1 .1 1 .1 1 0 1 .1 1 0 .9 .1 1.1 0 1 .1 .9 .1 1.1 0 1 .1 1 0 1 .1 1 0 .9 .1 1.1 .1 1 0 1 .1 .9 0 1 .1 1 0 1 .1 1.1 .1 1 0 .9 .1 1.1 0 1 .1 1 .1 1 0 .9 .1 1 0 1.1 .1 1 0 1 .1 1 .1 .9 0 1 .1 1.1 0 1 .1 1 0 .9 .1 1 .1 1.1 0 1 .1 .9 0 1 .1 1.1 0 1 .1 .9 .1 1.1 0 1 .1 1 0 1 .1 1 0 1 .1 1 .1 1 0 .9 .1 1.1 0 1 .1 1 0 .9 .1 1 .1 1 0 1 .1 1 0 1.1 .1 1 0 .9 .1 .9 .1 1.1 0 1.1 .1 1 0 .3 .9 -.5 1 .2 .9 .2 .9 .1 .9 -.4 .8 -.1 .6 1.3 .7 .5 .6 0 .7 1.2 .6 .6 .7 .5 .6 1.2 .6 .5 .6 .5 .7 1.1 .6 1.6 .6 1.2 .6 -.2 .6 .7 .6 .7 .6 .7 .6 .6 .8 .6 .9 .9 1 -2.3 .9 -1.4 .9 3.1 1 2.3 .9 .2 .9 -.3 .9 .6 1 .1 .9 -.1 1 1.7 1 -.1 .9 -1.2 1 .3 1 .9 1 .4 1 -.5 1 -1.1 1 -.5 1 1.7 1 1.1 1 -1.4 1 -.7 1 1.1 1 1.1 1 -.7 1 -.7 1 .4 .9 -1.5 1 .4 1 1.8 1 -.4 1 -.3 .9 -.5 .1 -1.3 .2 -1 .2 -.9 .2 -.9 .2 -1 .2 -.9 .2 .9 .2 .8 .2 1.2 .1 1.2 .2 .7 .2 .7 .9 .9 1 -.1 1 -.3 1 -.1 1 0 1 0 1 -.6 1 .6 1 0 1 -1.5 1 .3 1 1 1 .3 1 -.5 1 -.4 1 .9 1 .8 1 .2 1 0 1 0 1 -.8 1 -2.6 1 -2.7 1 .5 1 2.9 1 2 .9 -.5 .7 -.6 .8 -1.1 .8 -.6 .8 -.1 .8 -.7 .8 -.3 .7 -1.4 .8 -.7 .8 -.5 .8 -.6 .8 -.2 .8 -.8 .9 0 1 0 1 .3 1 -.6 .9 .6 1 1.1 1 -.1 .9 -.1 .9 -.2 .8 -.4 .8 -.2 .8 -.9 .8 -.7 .8 -.4 .8 -.9 .9 -.4 .8 -1.1 .8 -1.2 .6 -.1 .6 -.7 .5 -1.2 .5 0 .5 -.3 .5 -1.2 .5 -1.7 .5 -1 .6 -.4 .5 -1 .5 -.5 .5 -.6 .4 -1.2 .4 -1 .4 -1.3 .4 -1.1 .4 -.9 .4 -.4 .4 -.7 .4 -1.1 .4 -.8 .4 -.9 .4 -.7 .3 -.8 .4 -1.2 .4 -1.1 .4 -.7 .4 -1.3 .1 -1 .1 -.9 .1 -1.1 .1 -1 .2 -1 .1 -1 .1 -1.2 .1 -1.1 .1 -.8 .1 -1 .1 -1 .1 -.9 .1 -1 .1 -1 .1 -.8 .1 -1.1 .2 -1.1 .1 -.9 .1 -1 .1 -1 .1 -1.2 .1 -.8 .1 -.9 .1 -1.2 .1 -.9 .1 -1 .1 -1 .1 -1 .1 -1 .2 -.9 .1 -1 .1 -1.1 .1 -.8 .1 -1 .1 -1.2 .1 -.9 .1 -1 .1 -1 0 -1.1 .1 -1 .1 -1 0 -.9 .1 -1 .1 -1 0 -1 .1 -1 0 -1 .1 -1 .1 -1 0 -1 .1 -1 .1 -.9 0 -1 .1 -1 0 -1 .1 -1.1 .1 -1 0 -1 .1 -1 .1 -1.1 0 -.8 .1 -1 0 -1.1 .1 -1 .1 -1 0 -1 .1 -1 .1 -1 0 -1 .1 -.9 .1 -1 0 -1.1 .1 -1 0 -1.1 .1 -.9 .1 -1 0 -1 .2 -1.1 .2 -.9 .3 -.8 .3 -1.2 .3 -.7 .3 -.8 .3 -1.4 .2 .9 .2 1.1 .1 1 .2 1.2 .2 .9 .2 1.1 .1 .8 .2 .8 .2 1.1 .1 .8 .2 .9 .2 1.2 .2 1.1 .1 .8 .2 .9 .2 1.4 .1 .9 0 .8 .1 1 .1 1.1 0 1 .1 .9 0 1 .1 1 .1 1 0 1.1 .1 1 0 .9 .1 .9 .1 1.1 0 1.1 .1 1 0 .9 .1 1 .1 1 0 1.1 .1 .9 0 1 .1 1.1 .1 1 0 .9 .1 1 0 1 .1 1.1 .1 1 0 .9 .1 1.1 0 1 .1 1 .1 .9 0 1 .1 1 0 1 .1 1 .1 1.1 0 1 .1 .9 0 1 .1 1 .1 1.1 0 .9 .1 1.1 0 .9 .1 1 .1 1 0 1 .1 1.1 0 .9 .1 1 0 1 .1 1 0 1 .1 1.1 0 .9 .1 1.1 0 .9 .1 1 0 1 .1 1 0 1.1 .1 1 .1 .9 0 1 .1 1 0 .9 .1 1 0 1.1 .1 1 0 1 .1 1 0 .9 .1 1 0 1.1 .1 1.1 0 .9 .1 1 0 1 .1 1 0 1 .1 1 0 1 .1 1 0 1 .1 1 0 1 .1 1 0 1 .1 1.1 .1 .9 .1 1 .1 1 .1 1 .1 1 .1 1 .1 1 .1 1.1 .1 .9 .1 .9 .1 1 .1 .9 .1 1 .1 1.1 .1 1 .2 1 .1 1 .1 1.5 .7 .6 1 -.2 1 -.8 1 0 1 1.1 1 .3 1 -.6 1 -.1 1 -.1 1 -.5 1 -1.1 1 -1.5 1 -.4 1 1.6 1 1.9 1 -.1 1 -.3 1 .3 1 .3 1 -.2 1 -.2 1 .4 1 -.3 1 -.6 1 -.4 1 .5 1 .4 1 -.5 1 -.5 1 .1 1 .3 1 0 1 .2 1 .2 1 .7 1 -.4 1 -.7 1 .2 1 0 1 .2 1 .5 1 -.1 1 -.2 1 .2 1 0 1 -3.7 1 -3.4 1 3.5 1 2.8 1 .2 1 .7 1 -.1 1 .1 1 -5.1 1 -.3 1 4.8 1 -2.4 1 -1.8 1 2.2 1 2.4 1 .5 1 -.4 1 -4.4 1 -.3 1 4.2 1 .6 1 .9 1 .1 1.1 -1.6 1 -2.9 1 -2 1 2.3 1 2.7 1 -.6 1 -.2 1 .8 1 -1.8 1 -3.4 1 .1 1 2.8 1 2.3 1 .3 1 -2.1 1 -3.6 1 -.3 1 3.6 1 1.6 1 -1.9 1 -1.9 1 .6 1 2.2 1 1.4 1 0" stroke="#1010d2" stroke-width="4.0" fill="none" stroke-linejoin="round" stroke-linecap="round"/>
<path d="M937.9 400l.1 0 0 4 .1 0 0 4 .1 0 .1 4 .1 0 0 4 .1 0 0 4 .1 0 .1 4 .1 0 0 4 .1 0 0 4 .1 0 .1 4 .1 0 0 4 .1 0 0 4 .1 0 .1 4 .2 0 .3 0 .3 0 .2 4 .3 0 .3 0 .3 4 .3 0 .3 0 .2 0 .3 0 .3 4 .3 4 .3 0 .2 0 .6 0 .9 0 .8 0 .8 -4 .8 0 .9 0 .8 0 .7 0 .3 -4 .3 0 .3 0 .3 0 .3 0 .2 0 .3 -4 .3 -4 .3 0 .3 0 .3 0 .3 0 .3 0 .2 -4 .3 0 .3 0 .3 -4 .3 0 .3 0 .3 0 .2 0 .3 0 .2 -4 .2 0 .2 0 .3 0 .2 -4 .2 0 .2 0 .3 0 .2 -4 .2 0 .2 0 .3 0 .2 -4 .2 0 .2 0 .3 0 .2 0 .2 -4 .2 0 .3 -4 .2 0 .2 0 .2 0 .3 0 .2 -4 .2 0 .4 4 .5 -4 .4 -4 .5 0 .4 0 .5 0 .4 0 .5 -4 .4 0 .5 0 .4 -4 .5 -4 .4 0 .5 0 .5 0 .5 4 .5 0 .5 0 .5 0 .6 -4 .5 -4 .5 0 .5 -4 .5 4 .5 -4 .7 0 .8 0 .8 0 .8 -4 .9 4 .8 -4 .8 0 .9 0 .5 0 .6 4 .6 -4 .5 4 .6 -4 .6 0 .6 -8 .4 4 .3 0 .4 4 .3 0 .4 0 .3 0 .4 0 .3 4 .4 0 .3 0 .4 -4 .3 4 .4 4 .3 0 .4 0 .3 0 .4 0 .4 4 .6 -4 .5 4 .6 -4 .5 0 .6 -4 .5 0 .5 0 .5 0 .5 0 .4 0 .5 0 .4 -4 .5 0 .4 0 .5 0 .4 -4 .5 0 .4 0 .3 0 .2 0 .2 0 .2 4 .2 0 .2 0 .2 0 .2 4 .2 0 .2 0 .2 0 .2 4 .2 0 .2 0 .2 4 .2 0 .2 4 .3 0 .2 0 .2 0 .2 0 .1 0 .1 0 .1 4 .1 0 .1 0 .1 0 .1 4 .1 0 .1 0 .1 0 .1 4 .2 0 .1 0 .1 0 .1 4 .1 0 .1 0 .1 4 .1 0 .1 0 .1 0 .1 4 .1 0 .1 0 .1 0 .2 4 .1 0 .1 0 .3 4 1 4 .9 -4 1 -4 .9 4 .9 -4 1 4 .8 -4 .9 4 .8 4 .9 0 .8 0 .9 0 .8 0 .9 0 .9 0 .9 -4 .9 0 .9 0 .9 -4 .9 0 .9 4 .9 0 .8 0 .7 4 .7 -4 .7 -4 .7 -4 .7 4 .7 0 .7 0 .7 0 .7 -4 .7 -4 .7 0 .9 -4 .9 4 .9 0 .9 0 .9 4 .9 -4 .9 0 .9 0 .8 -4 .9 0 .8 0 .8 4 .8 0 .8 -4 .8 -4 .8 4 .8 -4 .8 0 .8 4 .9 0 1 -4 .9 -4 1 4 .9 0 1 4 .9 0 1 0 .9 -4 1 -4 .9 -4 1 4 .9 4 .8 0 .8 8 .8 -4 .7 0 .8 0 .8 0 .8 4 .8 4 .8 0 .7 -4 .8 -4 .8 4 .8 4 .7 0 .7 4 .7 -4 .7 4 .8 -4 .7 8 .7 -4 .7 4 .7 0 .7 0 .7 0 .7 -4 .8 4 .7 0 .8 4 1 0 1 -4 1 0 .9 4 1 0 1 0 .9 -4 1 4 .9 4 .7 -4 .8 4 .8 -4 .8 4 .8 4 .8 0 .8 0 .8 0 .7 -4 1 4 1 -4 1 0 1 4 1 -4 1 4 1 -4 1 0 .9 0 .6 0 .6 0 .6 -4 .6 4 .6 0 .6 -4 .6 0 .6 0 .6 0 .6 -4 .6 0 .6 0 .6 0 .5 0 .3 -4 .3 0 .3 0 .3 -4 .3 4 .2 -4 .3 0 .3 0 .3 -4 .3 0 .3 0 .3 0 .3 0 .3 -4 .3 0 .3 0 .3 0 .3 -4 .3 0 .3 0 .3 -4 .3 0 .3 -4 .3 0 .3 0 .3 0 .3 0 .2 0 .1 0 .2 0 .2 -4 .2 0 .2 0 .1 -4 .2 0 .2 0 .2 -4 .1 0 .2 0 .2 0 .2 0 .2 -4 .1 0 .2 0 .2 0 .2 -4 .1 0 .2 0 .2 0 .2 -4 .1 0 .2 0 .2 0 .2 0 .2 0 .1 -4 .3 0 .2 0 .3 4 .3 0 .3 0 .2 0 .3 0 .3 4 .2 4 .3 -4 .3 4 .2 0 .3 0 .3 0 .2 0 .2 0 .1 4 .1 0 .1 0 .2 4 .1 0 .1 0 .1 0 .1 4 .2 0 .1 0 .1 0 .1 4 .2 0 .1 0 .1 0 .1 4 .1 0 .2 0 .1 0 .1 4 .1 0 .1 0 .2 0 .1 4 .1 0 .1 0 .2 0 .1 4 .1 0 .1 0 .1 4 .2 0 .1 0 .2 0 .6 4 .6 0 .6 0 .7 0 .6 0 .6 0 .6 0 .7 0 1 4 .9 0 1 -4 1 0 .9 0 1 4 1 -4 .9 -4 1 4 1 4 1 -4 1 -4 1 4 1 -4 1 4 1 4 1 0 1 -4 1 0 .8 0 .8 0 .9 4 .8 0 .8 4 .8 0 .9 -4 .5 4 .6 -4 .6 4 .6 0 .6 4 .6 -4 .6 4 .6 4 .6 0 .6 0 .6 4 .7 0 .6 -4 .6 -4 .6 4 .7 -4 .6 8 .6 0 .6 8 .7 0 .6 -4 .6 -4 .7 0 .6 4 .6 4 .6 0 .6 0 .6 4 .6 -4 .6 0 .6 -4 .6 4 .6 0 .8 0 .9 8 .9 -4 .9 -4 .9 0 .9 0 .9 -4 .9 0 .9 0 .8 4 .7 0 .7 4 .7 -8 .7 -4 .7 0 .7 0 .8 4 .7 -4 .4 0 .5 0 .4 0 .5 0 .4 0 .5 0 .4 -4 .5 -4 .4 0 .5 0 .4 -4 .5 0 .4 0 .5 4 .4 -4 .5 0 .4 -4 .5 -4 .4 0 .3 4 .4 0 .4 0 .3 -4 .4 0 .4 -4 .3 0 .4 0 .4 0 .3 0 .4 -4 .4 0 .4 -4 .3 4 .4 -4 .4 0 .3 0 .4 0 .4 0 .3 0 .4 -4 .5 0 .4 0 .4 -4 .5 0 .4 0 .5 -4 .4 0 .5 -4 .4 4 .5 0 .4 0 .5 -4 .4 0 .4 0 .5 -4 .4 4 .5 -4 .4 -4 .5 0 .6 -4 .5 4 .5 0 .6 0 .5 -4 .5 4 .5 0 .6 0 .5 -4" stroke="#080808" stroke-width="4.2" fill="none" stroke-linejoin="round" stroke-linecap="round"/>
<path d="M937.2 327.3l0 1 0 1 0 1 .1 1 0 1.1 0 .9 0 .9 0 1.1 0 1 0 1 0 1 0 1 0 1 .1 1.1 0 .9 0 1 0 1.1 0 .9 0 1 0 1 0 1.1 0 .9 0 1 0 1.1 .1 .9 0 1.1 0 1 0 .9 0 1 0 1.1 0 1 0 1 0 1 0 .9 .1 1.1 0 .9 0 1.1 0 1 0 1 0 1 0 1 0 1 0 1 0 1 .1 .9 0 1.1 0 1 0 1 0 1 0 1 0 1 0 1 0 1 0 1 0 1 .1 1 0 1.1 0 .9 0 1.1 0 1 0 .9 0 1 0 1 0 1 0 1 .1 1 0 1 0 1 0 1 0 1 0 1 0 1 0 1 0 1 0 1 .1 1 0 1 0 1 0 1.1 0 .9 0 1 0 1 0 1 0 1 0 1 0 1.1 .1 1 0 .9 0 1.1 0 1 0 1 0 .9 0 1 0 1.1 0 1 0 1 .1 1 0 1 0 1 0 1 0 1 0 1 0 1 0 1 0 1 0 1 .1 1 0 1 0 .9 0 1.1 0 1 0 1 0 1 0 1 0 1.1 0 1 0 1 .1 .9 0 1 0 1 0 1.1 0 .7 .1 1.3 .1 .7 0 1 .1 1.5 .1 .7 .1 1 0 1.2 .1 .9 .1 .8 0 1 .1 1.6 .1 .9 0 .4 .1 1.4 .1 1.1 0 1.1 .1 1 .1 .7 0 1.2 .1 .9 .1 1.3 .1 .5 0 .5 .1 1.6 .1 .8 0 1 .1 .8 .1 1.5 0 1.1 .1 .8 .1 1.2 0 .6 .1 1.8 .4 1 .6 -1.5 .6 1.8 .6 1.1 .5 -3 .6 2.4 .6 -3.1 .5 .4 .6 -1.8 .6 -2.6 .5 .1 .3 -.5 .2 0 .2 1.4 .2 -3.4 .3 -1.2 .2 -1.1 .2 -2.1 .2 -.5 .3 -.6 .2 -.3 .2 -1.2 .2 -.8 .2 -2.2 .3 1.3 .2 -2.5 .2 -1.1 .2 .7 .3 -1.3 .2 -2.1 .2 -1.3 .2 -.5 .3 -.3 .2 -.8 .2 -1.3 .2 -.4 .3 -2.6 .2 -1.4 .2 -.7 .2 .1 .3 -.2 .2 -2.8 .2 -.3 .2 -1.4 .1 -1.1 .2 -.3 .2 -1 .2 -.1 .2 -.5 .2 -2.5 .2 -1.6 .1 .1 .2 -1.2 .2 .6 .2 -2 .2 -2.5 .2 .4 .1 -.4 .2 -2.4 .2 -.2 .2 -.7 .2 -2.4 .2 1.7 .1 -2.3 .2 -1.9 .2 -.1 .2 -3.1 .2 .7 .2 -.1 .2 -2.5 .1 -.5 .2 -1.6 .2 -.1 .2 -2.3 .2 .4 .2 -1.1 .2 -1.5 .2 -.8 .3 -1 .2 0 .2 -2.1 .2 -1.7 .3 0 .2 -2.1 .2 1.4 .2 -2.7 .3 0 .2 -2 .2 -1 .2 -1.4 .3 -1 .2 -1 .2 -.5 .2 -1.2 .3 -1.1 .2 -.5 .2 -.8 .2 -1.4 .3 -2.6 .2 0 .2 -.3 .2 .4 .4 .8 .7 .4 .6 -2.9 .6 -2.3 .6 -7.7 .6 7.9 .6 -3 .6 .6 .6 2.3 .6 -5.7 .7 -2.2 .9 3.7 1 -2.3 .9 -.4 1 -1.5 .9 8.8 1 -4.5 .8 -3.8 .7 -1 .7 -1.3 .7 -1 .7 -.2 .7 -.8 .7 -3.4 .7 1.7 .7 .6 .1 -.2 .1 1.6 .2 1.8 .1 1.3 .1 -.2 .2 1.8 .1 1 .1 .1 .2 1 .1 1.1 .1 .5 .2 1.7 .1 1.3 .1 -.1 .2 1.7 .1 1.5 .1 -.2 .1 2 .2 1.9 .1 -.2 .1 .6 .2 1.8 .1 .3 .1 .6 .2 1.7 .1 1.5 .1 .7 .2 1.8 .1 -.1 .1 1.3 .2 2.1 .1 -.8 .1 1.5 .2 1.6 .1 -.2 .1 2.2 .2 .7 .1 .6 .2 1.1 .2 -.3 .2 -.7 .2 -3.6 .2 -1.3 .2 -.5 .2 -1.4 .2 1 .3 -2 .2 -2 .2 -.4 .2 -2 .2 -.7 .2 .5 .2 -.4 .3 -.7 .2 -.7 .2 -2 .2 -1.1 .2 -.6 .2 -1.9 .2 -.1 .2 -.5 .2 -2.6 .2 0 .2 -.4 .1 -3 .2 .1 .2 -1 .2 -.9 .2 -.2 .2 -2.1 .2 .3 .2 -1.7 .2 -.9 .2 -1.1 .2 -.3 .1 .3 .2 -3.1 .2 -.1 .2 -1.9 .2 -1 .2 0 .2 -.6 .2 -2.2 .2 .1 .2 .3 .2 -.4 .3 2.5 .2 1.5 .3 1.4 .2 .1 .2 .4 .3 1.2 .2 1.2 .2 -.1 .3 .9 .2 1.2 .3 -1.2 .2 3.1 .2 .4 .3 2.7 .2 .5 .1 .6 0 .8 .1 1.3 0 .6 .1 .9 0 .8 .1 .8 0 1.8 .1 .9 .1 1 0 1.2 .1 .9 0 .9 .1 .9 0 1.2 .1 .5 0 .7 .1 1.7 0 .8 .1 1.3 0 .9 .1 1.1 0 1 .1 .7 .1 1.2 0 .7 .1 .9 0 1.3 .1 1.3 0 .9 .1 .8 0 1.5 .1 .6 0 1 .1 .8 0 1.2 .1 1.1 0 .4 .1 1.4 .1 1.2 0 .7 .1 1.2 0 .4 .1 1.5 0 .9 .1 .9 0 1 .1 1.2 0 1 .1 .8 0 .9 .1 .6 0 1.9 .1 .8 .1 .8 0 1.3 .1 .3 .4 -3.7 .4 1.1 .5 -.7 .4 0 .5 -.4 .4 -.6 .5 -.2 .4 -1.5 .5 -.5 .4 -2.3 .5 -.2 .5 -.8 .6 4.4 .6 -2.5 .6 1.6 .6 .5 .6 2.2 .6 -2.5 .6 1.2 .7 -.5 .6 2.5 .6 2.2 .7 -.8 .7 -2.2 .7 .3 .7 -2.2 .8 .6 .7 -1.9 .7 -1.5 .7 .7 .9 -3.5 .8 1.3 .9 3.5 .9 -.1 .9 -1.8 .9 2.6 .9 -4.9 .9 1.9 .9 -.8 .8 -1 .7 -4.6 .7 .5 .7 .6 .7 -2.8 .8 3.8 .7 -5 .7 -3 .7 1.1 .7 -2.1 .7 2.1 .8 1.3 .9 4.1 .9 -2.2 .9 -3.7 .9 .4 .9 -1.6 .9 .7 .9 -.2 .9 -2.8 .8 -.5 .7 .6 .7 -3 .6 2 .7 -4.8 .7 3.1 .7 -1.8 .6 1.6 .7 .2 .7 -5.2 .6 -2.5 .7 5.2 .7 -1.1 .6 1.3 .6 -2.3 .4 -3.3 .4 2.4 .4 1.6 .4 2.4 .4 -3.2 .3 2.9 .4 2.1 .4 1.6 .4 1.8 .4 -1.6 .4 -.3 .4 1.3 .5 1.2 .8 -.4 .9 -.7 .9 3.8 .8 -5.6 .9 5.4 .8 1.4 .9 5.7 .8 -3.7 .9 -4.1 .9 5.9 .8 -4 .9 3 .8 4.7 .9 -.9 .8 -2.1 .9 -1.6 .8 -.3 .9 2.1 .9 -.1 .8 3.9 .9 -5.2 .8 6.1 .9 -3.4 .9 -1.4 1 2.1 .9 2.1 1 1.4 1 .5 1 .6 1 -1 1 1.2 .9 -2.9 1 3.2 1 -2.9 .7 .7 .7 -.6 .7 3.5 .7 -.1 .7 5.4 .7 -4.1 .7 .1 .7 2.9 .7 -1.2 .7 .5 .7 1.9 .8 2.9 .8 1.2 .8 -2.3 .8 -6.2 .8 6.4 .8 -10 .9 6.1 .8 0 .8 .4 .8 -1.5 .8 -2.7 .8 6 .8 -1.7 .8 -4.7 .8 3.2 .8 -2.2 .8 1.7 .8 -8.5 .8 5 .8 -1.6 .8 -5.2 .5 .7 .2 .1 .3 -1.2 .2 -1.6 .3 -2.3 .2 2 .2 -1.7 .3 -.7 .2 .7 .3 -2.6 .2 -2.7 .3 .8 .2 -1.7 .3 .5 .2 -1.5 .2 .3 .3 -5.8 .2 2.2 .3 .1 .2 -2.2 .3 -2.5 .2 -1.5 .2 -.3 .3 1 .2 -1.3 .2 -1.2 .2 -.9 .1 -1.8 .2 .3 .1 -1.6 .1 -1.1 .2 -1.4 .1 -.9 .2 -.9 .1 -.4 .2 -1.4 .1 -.4 .2 -1.3 .1 -.8 .2 -1 .1 -1.3 .1 -.5 .2 -1.5 .1 -1.4 .2 -.7 .1 -.5 .2 -1.3 .1 -1.6 .2 -.9 .1 .4 .2 -1.9 .1 -.6 .1 -1.8 .2 -.3 .1 -1.3 .1 -1 0 -1 .1 -1.4 0 -.8 .1 -1 .1 -.9 0 -.8 .1 -1.2 .1 -1.6 0 -.9 .1 -1 .1 -.9 0 -.8 .1 -.8 .1 -1 0 -.7 .1 -1.4 .1 -1.1 0 -1 .1 -1 .1 -1 0 -.7 .1 -.7 .1 -1.5 0 -1.2 .1 -.7 .1 -1.2 0 -.8 .1 -.6 .1 -1.4 0 -.8 .1 -1.1 .1 -.9 0 -.9 .1 -1 .1 -1.3 0 -.8 .1 -.9 .1 -1.7 0 -.7 .1 -.7 .1 -.6 0 -2 .1 -.9 .1 -.6 0 -1 .1 -1.4 .1 -1.2 0 -.6 .1 -.9 .1 -.9 0 -.9 .1 .1 .1 1.7 0 .4 .1 .9 .1 1.1 0 .7 .1 1.4 .1 1.2 0 .3 .1 .9 .1 1.4 0 1.3 .1 .7 .1 .6 0 1.5 .1 .9 0 1.6 .1 .9 .1 .5 0 .5 .1 1.9 .1 .4 0 1.1 .1 1.6 .1 1 0 .5 .1 1.2 .1 .9 0 .8 .1 .9 .1 1.9 0 .6 .1 .2 .1 1.6 0 1 .1 1.2 .1 .9 0 .9 .1 1.3 .1 .9 0 1.2 .1 .8 .1 1.1 0 .7 .1 .9 0 1.2 .1 .5 .1 1.3 0 1.5 .1 1 .1 .7 0 .8 .1 1.2 .1 1.1 0 .6 .1 1.4 .1 .9 0 1.3 .1 .4 .1 1.4 0 .8 .1 1.1 .1 .8 0 1.3 .1 1.1 .1 .9 0 .4 .1 1.3 .1 1.4 0 1 .1 1 .1 1.5 0 -.1 .1 2 .1 -.2 .1 .9 .1 1.5 .1 .8 .1 1.1 .1 .9 .1 1.5 0 1 .1 1.1 .1 .7 .1 .7 .1 1 .1 1.5 .1 1 .1 1.6 .1 .1 0 1 .1 1.2 .1 .5 .1 1.5 .1 .8 .1 1.1 .1 1.1 .1 .7 .1 1.5 .1 1.1 0 .9 .1 .7 .1 1.5 .1 .4 .1 1.1 .1 1.2 .1 1.1 .1 .3 .1 1.8 0 .7 .1 .9 .1 .3 .1 1.6 .1 .8 .1 .9 .1 1.8 .3 .6 .6 4.3 .6 -1.5 .6 -4.2 .6 8.4 .6 -2 .6 .8 .6 -.9 .6 3.3 .5 -5.5 .7 4.3 .8 -1.4 .9 -1 .8 3.2 .8 -1.9 .8 .6 .9 -3.6 .8 2.5 .6 -.1 .6 1.8 .6 -2.6 .6 .2 .6 1.9 .6 -.3 .6 3.4 .6 1.3 .6 -1 .6 -.3 .5 1.3 .4 -1.5 .5 -1.9 .4 -.5 .4 .9 .5 -2.2 .4 -3.1 .5 2.5 .4 -3.1 .4 .9 .5 -2.5 .4 -.5 .5 -1.4 .4 .9 .8 .1 .9 1.7 .9 -.2 .9 -1.3 .9 -.2 .9 1.6 .9 1.1 .9 -.3 .9 -1.5 .7 4.6 .6 -1.8 .6 1.8 .6 1.9 .6 -2.5 .6 5.4 .6 -.7 .6 -3 .5 9.4 .6 -5.5 .6 -2.1 .6 2.2 .7 2.6 .6 5.4 .6 -.9 .6 .5 .6 1 .6 1.3 .6 -1.6 .6 -5.2 .7 -.8 .8 4.2 .9 3.4 .8 1.4 .8 1.8 .9 -4.3 .8 5.9 .9 -.2 .7 -4.8 .7 1.5 .7 3 .7 -.9 .7 -1.5 .7 -1.6 .7 -3.1 .8 .2 .6 -2.6 .6 -.1 .6 -1.6 .6 1.6 .6 -.7 .6 .3 .6 -3.6 .6 .6 .6 -4.5 .6 2.9 .6 -.7 .4 -.2 .5 1 .4 -.8 .5 -1.7 .4 .1 .5 -.9 .4 -2.6 .5 -1.5 .4 -1 .5 -1.1 .4 -.1 .5 -3.2 .4 1.7 .5 -.6 .4 -2.4 .5 .1 .4 -3.6 .5 .8 .3 -.5 .3 -1.9 .3 -.4 .3 .2 .3 -1.4 .3 -2.8 .2 0 .3 -.2 .3 -2 .3 -1.4 .3 -1.3 .3 -.1 .3 .8 .3 -2.3 .3 -1.1 .2 -2.7 .3 .6 .3 -.2 .3 -.9 .3 -1.9 .3 -.3 .3 -1.8 .3 -1.1 .3 1.7 .2 -1.7 .3 -2.2 .3 -.3 .3 -.7 .3 -3.1 .4 .8 .3 -1.4 .3 -1.3 .3 1 .4 -2 .3 -.2 .3 -.3 .3 -1 .4 -1 .3 -1 .3 -1.7 .3 -.4 .4 -4.1 .3 2.1 .3 -.3 .3 -2.8 .4 -.9 .3 -2.7 .2 -.1 .3 -1.1 .2 -.6 .3 -1.7 .2 .4 .2 -2.4 .3 -.3 .2 1.2 .2 -1.3 .3 -1.9 .2 -1.4 .3 0 .2 -1.4 .2 -1.2 .3 0 .2 -2.5 .2 -.9 .3 -.4 .2 -1.5 .3 -1.1 .2 1" stroke="#1ee61e" stroke-width="4.2" fill="none" stroke-linejoin="round" stroke-linecap="round"/>
<path d="M900.9 495.8l1 4.1 1 -2.2 1 -.5 1 .8 1 -1.6 1 .9 1 2.7 1 -2.7 1 -1.8 1 1.1 1 -.4 1 1.3 1 -1.5 1 2 1 -1.9 1.1 5 1 -2.4 1 .8 1 -1.7 1 4.9 1 -5.8 1 1.8 1 -.7 1 3.7 1 -5.4 1 -1.6 1 5.8 1 -4 1 -1.4 1 3.7 1 -4.2 1 3.1 1 2.5 1 -5.2 1 4.5 1 -3.4 1 1.7 1 1.8 1 3.3 1 -8.5 1 1.8 1 2.8 1 -2.2 1 1 1 -1.2 1 1.9 1.1 -1.5 1 -1.8 1 -1.7 1 2.7 1 -4.2 .8 7.9 .9 -3.5 .8 -.3 .9 .3 .8 -.9 .9 -4.3 .9 4.2 .8 -1.9 .9 -2.6 .8 3.6 .9 -3.7 .9 4 1 -2.1 1 -1.4 1 1.3 1 -4.5 .9 1.5 1 5 1 -5.9 1 -.2 1 3 1 -1.9 .9 1.5 .9 0 1 3.2 .9 -6.9 .9 2 .9 -3.6 1 3.4 .9 -2.6 .9 -5.1 1 3.8 .9 .6 .8 -.7 .7 1.6 .8 -5.3 .8 2.5 .8 -4.4 .8 4.3 .8 -2.6 .7 3.6 .8 -5.3 .8 -1.7 .8 .1 .8 .2 .8 -.6 .8 1.4 .9 -4 .8 -1.5 .9 2.9 .8 1.5 .9 1.2 .9 -8.5 .8 4.9 .9 -3.1 .8 4.1 .9 -5.2 .8 2.1 .5 -3.7 .5 .2 .5 -4.8 .6 2.5 .5 -1.5 .5 -1.1 .5 .4 .5 2.6 .5 -4.7 .5 -2.2 .6 4.1 .5 -5.3 .6 -.4 .6 -1 .6 -1.2 .6 -.4 .6 -2 .6 1.8 .6 -1 .7 -2.9 .6 -2.4 .6 5 .6 -8.4 .6 4 .7 -2.3 .6 -2.7 .6 5.4 .6 -1.5 .7 -2.8 .6 1 .6 -2.7 .7 -3.5 .6 2.2 .6 -1.9 .6 6 .7 -3 .6 -7.6 .7 .2 .6 .6 .7 -.8 .6 1.3 .7 -.9 .6 -3 .7 1 .6 -2.4 .7 -1.8 .6 4.2 .7 -2.7 .6 -2.7 .7 -1.4 .7 -2.8 .8 1.2 .9 1.4 .8 -4.8 .9 2.9 .8 2.3 .9 -2.5 .8 1.6 .9 .6 .8 -2.6 .9 -3.6 .8 4.6 .9 -3.2 1 -2.1 .9 .7 1 .1 .9 -.3 .9 -5.7 1 4.5 .9 -3.4 .9 5.5 1 -4.2 .9 .5 .8 3.8 .7 -5.7 .7 1.7 .7 0 .7 -5.8 .7 -1.8 .5 7.3 .5 -1.3 .4 -1.5 .5 1.2 .4 3.8 .5 0 .4 3.4 .5 2.1 .4 -3.1 .5 3.5 .4 -1.2 .5 -.5 .4 4.8 .5 -1.1 .7 1.7 .6 2.8 .6 .2 .7 -.9 .6 -1.9 .7 1.3 .6 2.2 .7 -.1 .6 2.3 .6 -1.8 .7 4.1 .6 -3.4 .7 5.4 .6 -4.9 .6 2.8 .7 .7 .9 1.2 .8 .3 .9 -.9 .9 2.1 .8 -2 .9 2.8 .8 4.1 .9 .3 .9 -1.2 .8 -4.4 .9 5.7 .8 -1 .9 .9 .9 2.4 .8 1.7 .9 -6.7 .9 5.9 .8 -1.2 .9 -1.7 .8 5.8 .9 -7 .9 4.5 .8 1.7 .9 2.1 .8 -3.4 .8 -1.1 .9 3.1 .8 .4 .8 2 .9 -1.2 .8 -.6 1 .4 1 3.3 1 .7 1 -4.1 1 2.2 1 1 1.1 .4 1 -.5 1 -2.7 1 1.4 1 1.1 1 1.5 1 .1 1 -5.1 1 .2 1 2.2 1 -1 1 1.1 .9 .4 1 -2.2 1 .2 1 2.3 1 -2.8 .9 1 1 -2 1 1.1 1 1.6 .9 -.9 .8 -6.4 .9 4.3 .8 -2.2 .9 .3 .9 .3 .8 -1.2 .9 2.6 .8 1.3 .9 -4.5 .9 .9 .8 -5.6 .9 3.1 .8 -1.7 .9 -1.1 .9 -1.2 .8 2.5 .9 2.5 .9 -8.7 .8 5.5 .9 -3.6 .9 -1.9 .8 3.6 .9 .5 1 -2.7 1 -.2 1 -.8 1 3 .9 -3.1 1 1.9 1 -1 1 -2.8 1 1.2 1 -2.5 .8 2.7 .8 .9 .9 -3.3 .8 -2.4 .8 3.1 .9 -3.8 .8 3.2 .7 6 .6 -6.9 .6 -1.8 .7 3.1 .6 5.4 .6 -.4 .7 -2.6 .6 2.4 .6 -1.6 .6 8.6 .7 -8.9 .6 3.2 .6 1.5 .6 .9 .6 1.3 .6 -2.2 .6 3.3 .6 -1.5 .6 .6 .6 4.9 .6 1.1 .6 -3.9 .6 3.8 .6 1.5 .5 -3 .6 2.9 .6 -.7 .6 1.4 .6 7 .6 -3.3 .6 -3.7 .7 5.3 .7 .3 .7 2.2 .7 .1 .8 2.2 .7 .2 .7 -2.9 .7 5.9 .7 -1.7 .7 .7 .7 -3.6 .9 4.9 .9 -.5 1 -2.4 1 1.4 1 2 .9 -.5 1 -1.8 1 2.5 .7 -3.2 .5 -.4 .4 -2.1 .5 -.2 .4 -3.8 .5 1.1 .4 -.9 .4 .8 .5 -4.1 .4 -.3 .5 -1.3 .4 -2.9 .5 2.3 .4 2 .4 -4 .3 .4 .4 -2.1 .3 -1 .4 -2.7 .3 1.6 .3 -.6 .4 -2.3 .3 -1.1 .4 -.4 .3 -.5 .4 -.8 .3 .6 .4 -2.7 .3 -2.1 .4 -.3 .3 -2.3 .3 .4 .4 1.2 .3 -3.3 .4 -1.2 .3 1.3 .4 -3.6 .3 -2.1 .4 3.6 .4 -3.6 .3 -1.9 .4 -2.2 .4 1.6 .4 -.9 .3 -1.6 .4 -.2 .4 -2.2 .4 -.5 .3 -2.3 .4 1 .4 -2.6 .4 .8 .3 -1.2 .4 .3 .4 -1 .3 -1.3 .4 -1.3 .4 -2.4 .4 .8 .3 -1.7 .3 1 .2 -1.8 .3 .2 .2 -2 .3 -1 .2 -1.3 .2 -2.4 .3 .6 .2 -.8 .3 -1.4 .2 -2.3 .2 -.2 .3 -.8 .2 -1.2 .3 .6 .2 -2.3 .3 -1.7 .2 -.3 .2 -1 .3 -1.2 .2 -.6 .3 -.6 .2 0 .2 -1.7 .3 -2.2 .2 .1 .3 -.5 .2 -1.7 .3 -1.5 .2 -1 .3 -.8 .3 -1.1 .2 -2.7 .3 -.1 .2 1 .3 -3.1 .2 1.6 .3 -1.3 .2 -2.5 .3 -.5 .2 -1.7 .3 1.5" stroke="#e21818" stroke-width="4.2" fill="none" stroke-linejoin="round" stroke-linecap="round"/>
<path d="M935.7 279.9l0 .9 0 1 0 1.1 0 .9 0 1.1 0 1 0 1 .1 1 0 1 0 1 0 1 0 1 0 1 0 1 0 1 0 1 0 1 0 1 0 1 0 1 0 1 0 1 0 1 0 1 0 1 0 1 0 1 0 1 0 1 0 1 .1 1 0 1 0 1 0 1 0 1 0 1 0 1 0 1 0 1 0 1 0 1 0 1 0 1 0 1 0 1 0 1 0 1 0 1 0 1 0 1 0 1 0 1 0 1 .1 1 0 1 0 1 0 1 0 1 0 1 0 1 0 1 0 1 0 1 0 1 0 1 0 1 0 1 0 1 0 1 0 1 0 1 0 1 0 1 0 1 0 1 0 1 0 1 .1 1 0 1 0 1.1 0 1 0 1 0 .9 0 1.1 0 .9 0 1.1 0 1 0 1 0 1 0 1 0 1 0 1 0 1 0 1 0 1 0 1 0 1 0 1 0 1 0 1 .1 1 0 1 0 1 0 1 0 1 0 1 0 1 0 1 0 1 0 1 0 1 0 1 0 1 0 1 0 1 0 1 0 1 0 1 0 1 0 1 0 1 0 1 0 1 .1 1 0 1 0 1 0 1 0 1 0 1 0 1 0 1 0 1 0 1 0 1 0 1 0 1 0 1 0 1 0 1 0 1 0 1 0 1 0 1 0 1 0 1 0 1 .1 1 0 1 0 1 0 1 0 1 0 1 0 1 0 1 0 1 0 1 0 1 0 1 0 1 0 1 0 1 0 1 0 1.1 0 1 0 1 0 1 0 1 0 1 0 1 0 1 .1 1 0 1 0 1 0 1 0 1 0 1 0 1 0 1 0 1 0 1 0 1 0 1 0 1 0 1 0 1 .1 1 0 1 0 1 .1 1 0 1 .1 .9 0 1 .1 1.1 0 .9 0 1 .1 1.1 0 1 .1 .9 0 1.1 .1 1 0 1 0 1 .1 1 0 1 .1 1 0 .9 .1 1 0 1 0 1.1 .1 1 0 1 .1 1 0 1 .1 1 0 1 .1 1 0 1 0 1.1 .1 .9 0 1 .1 1 0 1 .1 1 0 1 0 1 .1 1 0 1 .1 1 0 1 .1 .9 0 1 0 1.1 .1 1 .1 .9 .2 1.2 .2 1 .2 .7 .2 1.2 .2 1 .2 1 .2 .9 .2 .9 .2 .9 .2 1.1 .2 1.1 .3 .8 .2 1.1 .2 1 .4 .1 .7 0 .7 1.5 .7 1.7 .7 .5 .7 .4 .6 -.6 .5 -.7 .5 -.2 .6 -1 .5 -.9 .5 -.9 .6 -1.2 .5 -1.1 .5 -1.1 .5 -.3 .3 -1 .3 -1 .2 -.9 .3 -1.2 .3 -1.3 .3 -.5 .2 -.9 .3 -1 .3 -.9 .3 -1.1 .2 -.9 .3 -.9 .3 -.7 .2 -1.1 .3 -1.1 .3 -1.1 .3 -1 .2 -1 .3 -.9 .2 -.8 .3 -1.1 .2 -1 .3 -.9 .2 -.9 .3 -1 .2 -1 .3 -1 .2 -1.1 .3 -.9 .2 -.8 .2 -.8 .3 -1 .2 -1.2 .3 -1 .2 -.8 .3 -.7 .2 -.9 .3 -1.1 .2 -1 .2 -1.2 .2 -1 .1 -.9 .2 -1 .1 -1.1 .2 -.9 .1 -1 .2 -1 .1 -.8 .2 -1.1 .1 -1.2 .2 -1 .1 -.9 .2 -.9 .1 -1.2 .2 -1 .1 -.9 .2 -1.1 .1 -1 .2 -1 .1 -1.1 .2 -.8 .1 -1 .2 -1 .1 -.7 .2 -1.3 .1 -.9 .2 -.7 .2 -1 .2 -1.2 .3 -1 .2 -.9 .2 -1 .2 -1.1 .3 -1 .2 -.9 .2 -1.1 .2 -1 .3 -.7 .2 -.6 .2 -1.3 .2 -1.3 .3 -.9 .2 -1.2 .2 -.9 .2 -.9 .6 -.9 .7 -.7 .7 -.2 .7 -.4 .7 -1.6 .7 -.8 .3 1.3 .3 1.1 .3 1.2 .3 .8 .3 .3 .4 1.2 .3 1.4 .3 1 .3 .6 .3 .8 .3 1.2 .3 .9 .3 .4 .3 -.7 .3 -.6 .3 -1.4 .3 -1.1 .3 -.6 .3 -1.1 .2 -1.4 .3 -.9 .3 -.7 .3 -.7 .5 -1.1 .6 -.8 .7 -1.2 .6 -.7 .7 0 .6 -1 .7 -1 .6 -.7 .4 .2 .1 1.1 .1 1 .1 .9 .1 1.1 .2 1 .1 1 .1 1.2 .1 .9 .2 .9 .1 1 .1 1 .1 .9 .2 1.1 .1 1.1 .1 .8 .1 .9 .2 1 .1 1.1 .1 1.1 .1 1 .1 1 .2 1 .1 .8 .1 .9 .1 1.1 .1 1 .2 1.2 .1 .9 .1 .9 .1 .9 .1 1 .1 1.1 .2 1 .1 1 .1 1 .1 1 .1 1.1 .1 1 .1 .9 .2 .9 .1 1.1 .1 1.1 .5 -.4 .8 .1 .8 -.6 .8 -.7 .3 -1.1 .1 -1 .2 -1.1 .1 -1.1 .1 -.9 .2 -1 .1 -.9 .2 -1 .1 -.9 .1 -1 .2 -1 .1 -1 .1 -1.2 .2 -.9 .1 -1 .1 -1 .2 -.8 .1 -1 .2 -1.1 .1 -1 .1 -1 .2 -.9 .2 -1 .2 -1.1 .2 -1 .3 -.7 .2 -1 .3 -1.2 .2 -.8 .2 -1 .3 -1.3 .2 -1 .2 -.6 .3 -.9 .2 -.7 .4 .9 .5 .3 .4 .7 .5 .6 .4 1.5 .5 1.2 .4 .5 .1 .8 0 .9 .1 1.1 0 1 .1 1 0 1 .1 1 0 1 .1 .9 0 1 .1 1.1 0 1 .1 1 0 1 .1 1 0 .9 .1 1 .1 1 0 1 .1 1.1 0 .9 .1 1.1 0 1 .1 1 0 1 .1 1 0 1 .1 1 0 .9 .1 1.1 0 1 .1 1 0 1 .1 1 0 .9 .1 1 0 1.1 .1 .9 0 1.1 .1 1.1 0 .9 .1 1 0 1 0 1 0 1 .1 1 0 1 0 1 0 1 .1 1 0 1 0 1 0 1 0 1 .1 1 0 1 0 1 0 1 .1 1 0 1 0 1 0 1 .1 1 0 1 0 1 0 1 .1 1 0 1 0 1 0 1 .1 1 0 1 0 1 0 1 .1 1 0 1 0 1 0 1 .1 1.2 .4 -.1 .8 -.3 .8 -.2 .8 -1.2 .8 -.8 .8 -.9 .8 -.6 .6 1.5 .6 1 .6 1.2 .6 .6 .6 .1 .6 1.2 .6 .4 .6 .5 .7 1.3 .6 .6 .7 .6 .7 .7 .7 .6 .7 1 .7 1.5 .7 .4 .7 .4 .7 1.6 .9 .1 .9 -.6 .9 .2 .9 .8 1 .7 .9 .6 .9 -1.3 1 .2 .9 1.7 .9 -.2 .9 .3 1 .5 1 -.2 1 .1 1 0 1 0 1 1 1 .5 1 .1 1 -.3 1 .3 1 .1 1 -.8 1 .4 1 -1.6 1 -1.7 1 2 1 .9 1 -.2 1 .6 1 -.2 1 -.1 1 -.4 1 -.3 .8 -.2 .2 -.6 .2 -.9 .2 -1.1 .2 -2.2 .2 -2.6 .2 -.8 .2 2.5 .2 2.2 .1 1.2 .2 .9 .2 .7 .2 .3 .8 .7 1.1 -.1 1 -.1 1 1 1 -.4 1 -.1 1 .6 1 -.5 1 -.8 1 -.6 1 -.1 1 .8 1 1 1 .1 1 .7 1 -.1 1 -1 1 .5 1 .2 1 -.2 1 -.1 1 -.5 1 .3 1 -.1 1 0 1 1 .8 -.7 .7 -1.3 .8 -.3 .8 0 .7 -1.3 .8 -.7 .7 -.5 .8 -1.6 .7 -.1 .8 -.8 .8 -.9 1 .2 1 0 1 -1.9 1 .1 1 2.7 1 .1 1 .2 1 -.6 1 -.2 1 .5 .7 -.5 .7 -.6 .7 -1.7 .7 -1.4 .7 -1.1 .7 -.4 .7 .5 .7 -.1 .7 -1 .8 -1.6 .7 -.8 .6 -.3 .4 -1 .5 -1 .4 -1 .5 -.5 .4 -1 .5 -1.2 .4 .1 .5 -1.2 .4 -1.4 .5 -.8 .4 -.8 .5 -1 .4 -1.4 .4 -.4 .3 -.8 .3 -.9 .3 -.8 .3 -.9 .3 -.9 .3 -1 .3 -.8 .3 -1.3 .3 -1 .3 -.8 .3 -.9 .3 -.8 .3 -1 .3 -1.2 .3 -1.2 .3 -.6 .1 -1 .1 -1.1 .1 -1 .1 -1 .1 -1 .1 -1 .1 -1.1 .1 -1 .1 -1 .1 -.9 .1 -1.1 .1 -1.1 .1 -.9 .1 -1 .1 -1 .1 -.9 .1 -1 .1 -1 .1 -1 .1 -1 .1 -1 .1 -.9 .1 -1.1 .1 -1 .1 -1 .1 -1.1 .1 -.9 .1 -1 .1 -1 .1 -1 .1 -1 .1 -1 .1 -1.1 .1 -1 .1 -.8 .1 -1.2 0 -1 .1 -.9 .1 -.7 .1 -1.1 .1 -1.1 .1 -1 .1 -.9 .1 -1 .1 -1 .1 -1.2 .1 -1 0 -.9 .1 -1 .1 -.9 .1 -1 .1 -1.1 .1 -1 .1 -.9 0 -1.1 .1 -1.1 .1 -.9 .1 -1.1 .1 -1 .1 -.9 .1 -1.1 .1 -.9 0 -1 .1 -1.1 .1 -1 .1 -.9 .1 -1 .1 -1.1 .1 -1 0 -1 .1 -.9 .1 -.9 .1 -1 .1 -.8 .2 -.7 .2 -1.3 .3 -1 .2 -.9 .2 -1 .2 -1.3 .2 .7 .1 1.1 .1 1 .2 .9 .1 1 .1 1 .1 1 .2 1.1 .1 1 .1 .9 .1 1 .1 1 .2 .9 .1 1 .1 1.1 .1 .9 .2 1 .1 1.3 .1 1.1 .1 .7 .2 .9 .1 1.1 .1 1 .1 .9 .1 1 .1 .9 .1 1.1 0 1 .1 1 0 1 .1 1.1 .1 1 0 .9 .1 1 .1 1 0 1 .1 1 0 1 .1 1 .1 1 0 1 .1 .9 .1 1.1 0 1.1 .1 1 0 .9 .1 1 .1 1 0 1 .1 1 .1 .9 0 1.1 .1 1 0 1 .1 1 .1 1 0 1 .1 1 .1 1.1 0 .9 .1 1 0 1 .1 1 .1 1.1 0 .9 .1 .9 .1 1 0 1.1 .1 1 0 1.1 .1 1 .1 .9 0 .9 .1 1 0 1.1 .1 1 0 1 .1 1 0 1 .1 1 .1 1 0 1 .1 1 0 1 .1 .9 0 1 .1 1.1 0 1 .1 1 0 1 .1 .9 0 1 .1 1.1 0 1 .1 1 0 .9 .1 1 0 1.1 .1 1 0 1 .1 1 0 1 .1 1 0 1 .1 1 0 .9 .1 1.1 0 1 .1 1 0 1.1 .1 1 .1 .9 0 1 .1 1 0 1 .2 .8 .1 1 .2 1.2 .1 1.1 .1 .9 .2 1.1 .1 1.2 .1 .8 .2 1 .1 .9 .1 .8 .2 1 .1 .8 .8 .3 1 -.3 1 1.3 1 .3 1 -.2 1 .1 1 -.5 1 .5 1 -.6 1 -.5 1 .4 1 .2 1 -.3 1 0 1 .4 1 .1 1 -1 1 -.2 1 .5 1 -.4 1 .8 1 -1 1 -2 1 1.8 1 1.5 1 -.5 1 0 1 .1 1 0 1 -.5 1 -.1 1 .5 1 -.6 1 -.6 1 .6 1 .3 1 -.3 1 .3 1 -3 1 0 1 3.4 1 -.2 1 -3.7 1 -3.7 1 3.3 1 3.7 1 1 1 .6 1 -.2 1.1 -3.7 1 -3.8 1 3.3 1 3.7 1 -.4 1 1 1 -.4 1 -1.4 1 .7 1 .7 1 -2.6 1 -3.9 1 .1 1 3.3 1 3 1 .1 1 -3.1 1 -3.4 1 .3 1 2.5 1 1.5 1 .8 1 1.4 1 -.1 1 -.6 1 -.3 1 -.5 1 0 1 -2.4 1 -3.9 1 .2 1 3.9 1 2 1 -.2 1 .2 1 -2.4 1 -2.7 1 2.7 1 2 1 0 1 -.9 1 2.4 1 -.9" stroke="#1010d2" stroke-width="4.0" fill="none" stroke-linejoin="round" stroke-linecap="round"/>
<path d="M165.6 672l.1 0 0 4 .1 0 0 4 .1 0 .1 0 0 4 .1 0 0 4 .1 0 .1 4 .1 0 0 4 .1 0 0 4 .1 0 .1 4 .1 0 0 4 .1 0 0 4 .1 0 .1 4 .1 0 0 4 .2 0 .3 0 .3 0 .3 4 .3 0 .3 4 .4 0 .3 0 .3 0 .3 4 .3 0 .3 0 .3 0 .3 0 .3 4 .5 -4 1 4 1 0 1 0 1 0 1 0 .9 0 .3 0 .3 0 .3 -4 .3 0 .4 0 .3 -4 .3 0 .3 0 .3 0 .3 -4 .3 0 .4 -4 .3 4 .3 0 .3 0 .3 -4 .3 0 .3 -4 .3 0 .3 0 .2 0 .2 -4 .2 0 .2 0 .2 0 .1 -4 .2 0 .2 0 .2 0 .2 -4 .2 0 .2 0 .2 0 .2 -4 .2 0 .2 0 .2 0 .2 -4 .2 0 .2 0 .2 0 .2 0 .2 -4 .2 0 .2 0 .2 -4 .2 0 .2 0 .1 0 .2 -4 .3 0 .4 0 .3 0 .4 0 .3 -4 .4 0 .3 0 .4 0 .3 -4 .4 0 .3 -4 .4 0 .4 0 .3 4 .4 -4 .3 0 .4 0 .4 -4 .6 -4 .6 0 .6 4 .6 -4 .6 4 .6 -4 .6 0 .6 0 .6 -8 .7 4 .7 0 .7 0 .7 -4 .7 0 .7 0 .7 0 .7 0 .8 4 .7 -4 .7 -4 .7 -4 .7 4 .7 0 .7 0 .5 0 .4 0 .4 0 .4 0 .4 4 .4 0 .4 4 .4 -4 .3 4 .4 -4 .4 4 .4 0 .4 0 .4 4 .4 0 .4 0 .6 0 .5 -4 .5 0 .6 0 .5 0 .5 0 .6 0 .4 -4 .4 0 .4 0 .4 0 .4 0 .4 0 .3 0 .4 -4 .4 0 .4 0 .4 0 .4 -4 .4 0 .2 0 .2 0 .2 4 .1 0 .2 0 .1 0 .2 0 .2 4 .1 0 .2 0 .1 0 .2 4 .2 0 .1 0 .2 0 .1 4 .2 0 .2 0 .1 4 .2 0 .2 0 .1 0 .2 0 .1 0 .2 4 .1 0 .2 0 .1 4 .1 0 .1 0 .1 0 .2 4 .1 0 .1 0 .1 0 .2 4 .1 0 .1 0 .1 0 .2 4 .1 0 .1 0 .1 0 .2 4 .1 0 .1 0 .1 0 .2 4 .1 0 .5 -4 1 8 1 0 1 0 1 0 .8 0 .9 -4 .9 4 .9 -8 .9 4 .9 0 .9 4 .9 0 .9 0 .9 0 .9 -4 .9 0 .9 4 .8 0 .9 -4 .9 -4 .9 0 .9 4 .9 4 .9 -4 .9 4 .9 -8 .9 4 .9 0 .9 4 .9 -4 .9 -4 .8 -4 .8 4 .8 0 .8 0 .8 0 .8 0 .8 -4 .8 0 .8 -4 .9 -8 .9 4 1 8 1 -4 1 4 1 0 1 0 1 -4 1 0 1 0 1 4 1 -4 .9 4 .9 0 1 0 .9 0 .9 0 1 0 .9 4 .9 4 1 -4 .9 0 .8 -8 .8 4 .8 0 .8 4 .8 0 .7 4 .8 0 .8 0 .8 0 .8 0 .7 -4 .8 4 .8 0 .8 0 .7 -4 .7 4 .7 0 .7 4 .7 8 .7 0 .7 -4 .7 0 .7 0 .7 4 .7 0 .7 4 .7 0 .8 0 .9 0 1 -4 .9 0 1 0 .9 -4 1 4 .9 0 .7 0 .7 4 .8 4 .7 -4 .7 0 .8 0 .7 0 .8 4 .8 0 1 0 .9 -8 1 4 .9 4 1 -4 .9 0 1 0 .9 0 1 0 .9 0 .7 0 .7 -4 .7 0 .7 0 .7 0 .7 -4 .7 0 .7 0 .7 0 .7 0 .7 0 .7 4 .7 -4 .7 0 .6 -4 .2 0 .3 0 .2 0 .3 0 .3 0 .2 -4 .3 0 .2 0 .3 0 .3 -4 .2 -4 .3 0 .2 0 .3 0 .2 -4 .3 0 .3 0 .2 0 .3 -4 .2 0 .3 0 .3 0 .2 0 .3 0 .2 0 .3 -4 .3 0 .2 -4 .3 0 .2 0 .3 0 .2 0 .2 0 .2 -4 .2 0 .2 0 .3 -4 .2 0 .2 0 .2 -4 .2 0 .2 0 .2 0 .2 0 .2 0 .2 0 .2 -4 .2 0 .2 0 .2 -4 .2 4 .2 -4 .3 0 .2 0 .2 -4 .2 0 .2 0 .3 0 .3 0 .2 0 .3 4 .3 0 .2 4 .3 -4 .3 0 .2 4 .3 0 .3 0 .2 4 .3 0 .3 0 .2 4 .1 0 .2 0 .1 0 .2 4 .2 0 .1 0 .2 0 .2 4 .1 0 .2 0 .1 4 .2 0 .2 0 .1 0 .2 0 .2 0 .1 4 .2 0 .1 0 .2 0 .2 4 .1 0 .2 0 .2 0 .3 4 .3 0 .3 0 .3 4 .3 0 .3 0 .3 0 .3 0 .3 0 .3 4 .3 -4 .3 4 .3 4 .3 0 .3 4 .3 0 .3 0 .9 0 1 0 .9 0 1 0 1 0 .9 0 1 -4 1 -4 1 0 1 0 1 4 1 0 1 0 1 -4 1 4 1 0 .9 0 .8 4 .8 0 .8 0 .8 0 .8 0 .9 4 .8 -4 .8 4 .8 0 .8 0 .6 0 .6 0 .6 4 .6 0 .6 0 .7 0 .6 4 .6 -4 .6 0 .6 0 .6 4 .7 4 .6 -4 .6 8 .6 -4 .7 0 .6 0 .6 0 .6 0 .7 4 .6 0 .6 0 .7 0 .6 0 .6 0 .7 4 .8 0 .8 0 .9 -4 .8 4 .8 4 .9 0 .8 0 .9 0 1 -4 .9 0 1 0 .9 0 1 0 .7 0 .5 0 .5 -4 .5 0 .5 -4 .5 0 .5 4 .5 0 .5 -4 .5 0 .5 -4 .5 0 .5 0 .5 4 .5 -4 .5 0 .5 -4 .4 0 .4 0 .3 0 .4 -4 .4 0 .4 0 .3 -4 .4 0 .4 0 .3 0 .4 0 .4 -4 .4 0 .3 0 .4 -4 .4 0 .4 4 .3 0 .4 -4 .4 0 .4 0 .3 0 .3 -4 .4 0 .3 0 .3 0 .3 -4 .3 0 .3 -4 .3 0 .4 0 .3 0 .3 0 .3 0 .3 -4 .3 0 .3 0 .4 0 .3 -4 .3 0 .3 0 .3 0 .3 -4 .3 0 .3 0 .3 -4 .2 0 .3 0 .3 0 .3 0 .3 0 .3 -4 .3 0 .3 0 .3 0 .3 0 .2 -4 .3 0 .3 0 .3 -4 .3 0 .3 0 .3 0 .3 -4 .3 0 .2 0 .3 0 .3 0 .3 -4 .3 0 .3 0 .3 -4 .3 0" stroke="#080808" stroke-width="4.2" fill="none" stroke-linejoin="round" stroke-linecap="round"/>
<path d="M164.9 598.9l0 .9 0 1.1 0 1 0 1 .1 1 0 1 0 1.1 0 .9 0 1 0 1 0 1 0 1 0 1.1 0 .9 0 1.1 0 .9 0 1 .1 1 0 1 0 1 0 1.1 0 1 0 .9 0 1.1 0 .9 0 1 0 1 0 1.1 0 1 0 .9 .1 1.1 0 1 0 .9 0 1 0 1.1 0 .9 0 1.1 0 1 0 1 0 1 0 1 0 1 0 1 .1 .9 0 1.1 0 1 0 1 0 1 0 1 0 1 0 1 0 1 0 1 0 1 0 .9 0 1 .1 1.1 0 1 0 1 0 1 0 1 0 1.1 0 .9 0 1 0 1 0 1 0 1 0 1 0 1 .1 1 0 1 0 1 0 1 0 1 0 1 0 1 0 1.1 0 .9 0 1 0 1 0 1 0 1 .1 1 0 1 0 1 0 1 0 1.1 0 .9 0 1 0 1 0 1 0 1.1 0 .9 0 1.1 0 .9 .1 1 0 1.1 0 .9 0 1 0 1 0 1.1 0 .9 0 1.1 0 .9 0 1.1 0 1 0 1 0 1 .1 1 0 1 0 1 0 .9 0 1.1 0 1 0 1 0 1 0 1 0 .9 0 1.1 0 1 0 1.1 .1 1 .1 .9 0 .9 .1 1.1 .1 .6 0 1.1 .1 1.5 .1 .8 0 .9 .1 1 .1 1.6 .1 .8 0 .8 .1 1.3 .1 1 0 .8 .1 1 .1 .8 0 1.3 .1 .5 .1 1.1 0 1.4 .1 .9 .1 .5 0 1.4 .1 .9 .1 .8 .1 1.1 0 1 .1 .7 .1 1.3 0 1.1 .1 1.1 .1 .3 .3 .2 .5 2.5 .5 -1.2 .5 2.8 .6 1.3 .6 -6.8 .6 1.3 .6 3.2 .6 -3.3 .6 -3.1 .6 2.2 .6 -.3 .6 -3 .5 .3 .2 -.5 .3 -2.9 .2 -1.3 .2 .8 .2 -.6 .2 -1 .2 -2.2 .2 -.2 .2 -2.6 .2 .1 .2 -.9 .2 -.9 .2 -.2 .2 -.9 .3 -.6 .2 -1.2 .2 -2.2 .2 -1.8 .2 -.8 .2 .1 .2 -1.7 .2 -.9 .2 -1.5 .2 -.5 .2 -.3 .2 -2 .3 -.2 .2 -1 .2 -.8 .2 -1.1 .2 -.7 .2 -2 .2 .2 .2 -1.9 .2 -.3 .2 -1 .1 -.9 .2 -1.4 .2 .2 .2 -2.2 .2 -.9 .2 -1 .2 .2 .2 -2.2 .2 -1.4 .2 -1 .2 -.4 .2 .5 .2 -.6 .2 -3.6 .2 -1.3 .2 .1 .2 -1.7 .2 .1 .2 -2 .2 -.1 .2 -1.3 .2 -.8 .2 .5 .2 -1.9 .2 -2.3 .2 -1.1 .2 -1.2 .2 .2 .2 -2.4 .2 1 .2 -2 .3 -1.3 .2 -1.3 .2 .5 .2 -3 .2 -1.1 .2 1.6 .2 -2.1 .2 -2.2 .2 -1.2 .2 .5 .3 -1.8 .2 -.5 .2 -.2 .2 -1.6 .2 -1.1 .2 -.8 .2 .3 .2 -3.3 .2 -.9 .2 .6 .3 -.1 .2 -2.4 .5 -3.6 .6 2.2 .6 .5 .6 .1 .6 -.4 .6 -4 .5 -4.5 .6 5.8 .6 -5.4 .6 -.9 .7 .5 .7 -3.9 .7 1.6 .7 -.3 .7 1.3 .7 -2.7 .7 -3.2 .8 4.5 .7 -.8 .3 -2.5 .4 -.2 .3 -1.9 .4 -4.7 .3 2.5 .3 -.5 .4 1 .3 -2.5 .4 -.6 .3 -2.3 .4 -2.1 .3 -.5 .4 2.3 .3 -.3 .3 -2.4 .4 .2 .3 -3.5 .4 -1.1 .2 1.4 .1 .5 .1 1 .1 .7 .1 1.6 .1 1.1 .1 .2 .1 1.2 .1 1.5 .1 .5 .1 1.5 .1 1.3 .1 .5 .1 .9 .1 1.1 0 1.6 .1 -.3 .1 2.3 .1 .5 .1 1.1 .1 1.1 .1 .7 .1 .9 .1 1.7 .1 1 .1 .9 .1 -.5 .1 2.3 .1 .1 .1 1.5 .1 .9 .1 .6 .1 1.5 .1 .2 .1 1.5 .1 1.7 .1 .4 .1 1.7 .1 .3 .1 1.1 .1 1.4 .1 .6 .1 .4 .1 1.1 .1 1.9 .1 .5 .1 1.4 .1 .8 .1 .2 .1 1.2 .2 -1 .4 -1 .3 2.6 .3 -3.7 .4 .2 .3 .7 .3 -2.2 .3 -.1 .4 -3.2 .3 -.2 .3 .1 .4 -1.9 .3 -2.3 .2 -.2 .1 .2 .2 -1.5 .2 -1 .2 -.3 .1 -2.3 .2 -1.1 .2 -.2 .1 -.1 .2 -2.7 .2 -.8 .1 0 .2 -1.4 .2 -1.9 .1 -1 .2 -1.5 .2 .2 .1 -1.3 .2 .1 .2 -1.5 .1 -2 .2 -.2 .2 -.9 .1 -1.6 .2 -.6 .2 -1.8 .1 .1 .2 .3 .2 -1.4 .1 -2 .2 -1.9 .2 -.6 .1 -.8 .2 -1 .2 .3 .1 -1.4 .2 -.3 .2 .4 .1 .2 .2 .4 .1 3 .2 .5 .1 1.4 .2 -.2 .1 1.5 .2 .3 .1 .7 .2 1.9 .1 1.2 .2 -.1 .1 .4 .2 2 .1 .9 .2 2.6 .2 1.8 .1 -.9 .1 1.3 .1 .5 0 1.6 .1 1.1 0 .9 .1 .8 0 1 .1 1.1 0 1.5 .1 .3 0 1.4 .1 .7 0 1 .1 1.4 0 1 .1 1 0 .4 .1 .5 0 1.7 .1 .9 0 1.3 .1 .5 0 1.3 .1 1.2 0 .8 .1 .8 .1 1 0 1 .1 1 0 1.5 .1 .7 0 1.1 .1 .5 0 1 .1 1.5 0 1.1 .1 1.1 0 .7 .1 1.1 0 1.1 .1 .8 0 1 .1 .9 0 .9 .1 1.4 0 1 .1 1 0 .5 .1 1.2 0 1.2 .1 1 0 .9 .1 1 0 .8 .1 1.1 0 .8 .1 1 .1 1.1 0 3.2 .4 .4 .8 -3.5 .8 -.7 .7 -2.9 .8 1.1 .8 4.7 .8 -4.9 .8 4.5 .8 -4.4 .9 -2.7 .8 -1.1 .8 -1.3 .8 -3.2 .9 3.8 .9 -4.9 .9 4.4 .9 .4 1 .1 .9 -1.7 1 1.7 .9 -.2 .9 4.7 .9 .2 .9 -3.5 .9 1.7 .9 -2.6 .9 2.7 .9 -2.2 .9 -1.8 .9 -3.5 .6 -2.3 .6 .7 .6 5.6 .7 -4.6 .6 -.1 .6 -2.5 .6 .7 .6 -1.8 .6 -.9 .7 .2 .6 3 .6 -1.4 .6 -.3 .6 -3.5 .6 -5.5 .5 3.7 .6 .3 .6 -2.3 .5 -1.3 .6 -1.8 .8 -2 1 2.2 1 -4.9 .9 5.8 1 1.4 1 .2 1 -1.4 .9 -2.7 1 4.9 .8 1 .8 0 .9 -.5 .8 -.6 .8 2.1 .9 .9 .8 1 .9 -3.1 1 2.6 .9 -.7 1 -.1 .9 2.2 1 -.5 .8 1.8 .7 -4.6 .7 4.8 .8 3.7 .7 -.5 .7 -.1 .7 3.7 .7 1.1 .7 -4.2 .7 .1 .7 6.2 .7 -.9 .9 -2.1 .8 1 .9 -.7 .9 1.2 .9 1.2 .9 5.4 .9 -3.4 .9 -2 .9 1.2 .7 2.9 .5 .7 .5 -2.4 .5 1.4 .5 5.9 .5 -2.4 .5 1.1 .5 -1.7 .5 2.3 .6 .1 .7 2.6 .7 -3.3 .7 -.6 .7 -.7 .7 .3 .7 -2.8 .7 .1 .8 1 .7 -1.2 .7 -.4 .7 .4 .7 .7 .7 -.2 .7 5.3 .7 3.1 .7 -3.2 .7 -1.5 .7 5.6 .7 -4.5 .7 3.3 .8 -1.2 .8 5.6 .8 -5.3 .8 -.4 .8 -5.3 .8 -.1 .8 -4.6 .8 7.3 .8 -4.9 .8 3.1 .6 .2 .7 -4.4 .6 4.3 .6 -3.8 .7 -.5 .6 -2.4 .7 2.5 .6 -6 .6 .7 .7 2.4 .6 -.3 .7 -2.8 .6 .3 .6 -.9 .7 -5.7 .6 1.7 .3 -1.2 .3 -.2 .3 -1.9 .3 1.1 .2 -.3 .3 -3.1 .3 -2.2 .3 1.9 .3 -1.9 .3 -1.7 .3 -1.7 .2 0 .3 1.7 .3 -1.6 .3 -2.5 .3 1.8 .3 -5.7 .3 1.4 .2 -.3 .3 -1.3 .3 -2.5 .2 -.5 .1 -.6 .1 -1.4 .2 -.2 .1 -2.1 .1 -.7 .2 -.6 .1 -.9 .1 -.6 .2 -1.6 .1 -.9 .1 -1.6 .1 .7 .2 -1.3 .1 -1.5 .1 -.3 .2 -2.5 .1 -.6 .1 -1.4 .2 -1.3 .1 -.5 .1 -1 .2 -.3 .1 -1.2 .1 -.2 .1 -.9 .2 -1.7 .1 -.8 .1 -1.3 .2 -.8 .1 -1.4 .1 -1.3 0 -.4 .1 -.9 .1 -1.3 .1 -.7 0 -1.1 .1 -1.5 .1 -1 0 -.6 .1 -1.1 .1 -.8 .1 -1.2 0 -.7 .1 -1.2 .1 -.9 .1 -1.1 0 -1.6 .1 -.6 .1 -1 .1 -1 0 -1.4 .1 -.4 .1 -.6 .1 -1.2 0 -1.6 .1 -.7 .1 -.7 .1 -1.5 0 -.6 .1 -1 .1 -1.1 .1 -1.6 0 -.4 .1 -.9 .1 -.9 0 -1.2 .1 -.9 .1 -1.4 .1 -.7 0 -.9 .1 -1 .1 -1.5 .1 -.3 0 -1.3 .1 -1.1 .1 -.8 .1 -1.4 0 .7 .1 1.4 .1 .6 .1 1.1 .1 1 0 .9 .1 1.1 .1 1.3 .1 .5 .1 1.1 .1 1 0 1 .1 .8 .1 1 .1 .9 .1 1 0 2 .1 .3 .1 .4 .1 1.7 .1 .9 0 1.2 .1 .6 .1 1.3 .1 .9 .1 .7 .1 1.5 0 .4 .1 1.7 .1 1.1 .1 .1 .1 1.9 0 .7 .1 1.3 .1 1 .1 1.3 .1 .1 0 1.4 .1 .6 .1 1.1 .1 1.8 .1 -.2 .1 1.4 0 1.1 .1 1.1 .1 1 .1 .4 .1 1.2 0 1.6 .1 1.5 .1 0 .1 1.1 .1 .5 0 1.9 .1 1 .1 1 .1 .5 .1 1.6 .1 1.6 .1 -.1 .1 .8 .1 1.3 .1 .8 .1 1.5 .1 .7 .1 2 .1 -.2 .1 .9 .1 1.2 .1 1 .1 1 .1 1.2 .1 1.1 .1 .8 .1 .7 .1 .6 .1 1.4 .1 .5 .1 1.9 .2 .9 .1 .6 .1 2.2 .1 .5 .1 0 .1 1.9 .1 .3 .1 1.8 .1 .3 .1 1.4 .1 .6 .1 1.7 .1 .8 .1 1 .1 .4 .1 .8 .1 1.3 .1 2.1 .1 .1 .2 .5 .2 4.4 .2 -2.8 .3 -.3 .2 1.4 .3 2.5 .2 1.4 .2 2 .3 1.1 .2 -.5 .2 2.3 .3 -.7 .2 2 .3 -.2 .2 -.2 .2 2.2 .3 .4 .3 1.4 .5 .2 .5 -.8 .4 2.6 .5 0 .5 2.9 .4 .1 .5 -.2 .5 1.1 .5 -1.7 .6 -.2 .6 3.5 .6 -2.3 .6 -1 .6 -2.1 .6 -2.6 .7 -1.2 .6 1.1 .6 2.6 .7 -6.5 1 -.1 1 4.1 1 2.1 .9 -.2 1 -6.1 1 3.5 1 -4 .9 3.5 .8 -2.9 .8 -1.3 .8 5.2 .8 1.5 .8 4.1 .8 .2 .8 -3.6 .8 4 .8 -5.1 .8 6.1 .7 .1 .7 -.7 .7 1.2 .7 1.3 .7 -2.8 .8 5.4 .7 -.3 .7 -.7 .7 .2 .7 1.4 .7 -.9 .7 1.5 .7 1.6 .7 2.6 .7 .8 .8 -2.4 .7 -.2 .7 1.4 .7 .7 .7 1.7 .7 -1.9 .8 3.9 .7 -3.8 1 7.5 1 -3.3 1 -4.1 1 2.2 1 3.2 1 -3.1 .8 1.3 .9 1.3 .8 -1.5 .9 -1.4 .8 -.8 .9 -.6 .8 -1.1 .5 -.3 .4 -1.8 .4 .1 .4 -.7 .5 -.4 .4 -2.6 .4 -.9 .4 -3.7 .4 3.6 .4 -3 .4 -.2 .4 -2.3 .4 1.7 .4 1 .4 -3.5 .4 .1 .4 -1.8 .4 -2.6 .4 0 .4 -1.9 .4 -1 .4 -.5 .3 .1 .4 -2.5 .3 .1 .3 2 .4 -2.5 .3 -.9 .4 -.1 .3 .2 .4 -3 .3 -.2 .4 -1.4 .3 -.9 .4 -4 .3 .3 .3 -.5 .4 1.1 .3 -1.6 .4 -1.7 .3 -.2 .4 -.2 .3 -1.3 .4 -.8 .3 -1.3 .3 -1.9 .3 -1 .3 1.3 .3 -3.7 .3 -2.2 .4 .1 .3 -1.9 .3 -.6 .3 .4 .3 -.1 .3 -1.7 .3 -2.7 .4 .1 .3 -1.2 .3 .2 .3 -3.6 .3 .8 .3 -1 .3 -.4 .3 -2.4 .2 -.6 .3 -1.4 .2 .6 .3 -1.2 .3 -1.1 .2 0 .3 -.3 .2 -2.4 .3 -1.6 .2 .3 .3 -1.6 .3 -1.2 .2 .4 .3 -4.4 .2 .1 .3 -.5 .2 -1.6 .3 .7 .3 -2.4 .2 .4 .3 -1.1 .2 -1.7 .3 -.6 .2 -1 .3 -1.5 .3 .1" stroke="#1ee61e" stroke-width="4.2" fill="none" stroke-linejoin="round" stroke-linecap="round"/>
<path d="M129.3 771.4l1 -.1 1 1.6 1 -1.6 1 1.7 1 -1.3 1 -2.4 1 1.7 1 -3.3 1 -1.4 1 3.1 1 -.7 1 1.8 1 -1.9 1 2.8 1 -1.8 1.1 4.5 1 -1.4 1 -3.1 1 .9 1 -2.5 1 2.2 1 -2.5 1 6.1 1 -1.9 1 -.7 1 -.2 1 -1.2 1 -2.8 1 4 1 -3.9 1 4.8 1 -4.5 1 1.7 1 .8 1 -3.9 1 5.1 1 -2.5 1 4.3 1 -4.4 1 2.1 1 .6 1 -3.7 1 3.5 1 -1 1 -3.8 1 1.3 1 .9 1.1 .3 1 .5 1 2.7 .9 .3 .8 -1.8 .9 -1 .9 2.3 .8 -6.1 .9 1.8 .9 -.8 .8 -1.8 .9 -3.6 .9 4.2 .8 -2 .9 -2.5 .9 4.3 .9 2.3 1 -4.3 .9 -1 .9 -2.8 .9 1 1 -1.3 .9 6.7 .9 -6.3 .9 -1.7 1 1.7 .9 2.3 1 -6.2 .9 8.1 .9 -4.5 1 -9.8 .9 5.4 .9 1.2 1 -1.2 .9 1.2 1 -4.1 .9 6 .9 -3 .8 -1.4 .9 -1.8 .8 4.5 .9 -2.8 .8 -.9 .9 -.6 .8 -.6 .9 -2.8 .8 3.3 .9 -1.4 .8 .2 .9 -.7 .8 -4.8 .9 -2.1 .9 7.4 .8 -4.8 .9 2.2 .9 -5.6 .8 3.9 .9 -7 .9 3.3 .8 1.4 .9 -5.7 .5 3.7 .5 -.3 .5 -3.2 .5 2.5 .6 -2.6 .5 .8 .5 -1.2 .5 -3.5 .5 -1.1 .5 1 .5 2.3 .6 -4.9 .5 .7 .5 -2.9 .5 3.4 .5 -4.1 .5 -2.1 .5 .8 .6 -3.2 .5 -.7 .5 -.1 .5 -4.1 .5 2.2 .6 -1.7 .6 4.2 .6 -3.5 .6 -.7 .7 -3.7 .6 -.3 .6 6.2 .7 -3.1 .6 -7.9 .6 5.9 .6 -1.4 .7 -.4 .6 -4.9 .6 -.1 .8 .9 .7 .6 .7 1.9 .7 -4.2 .7 -1 .7 .4 .7 .8 .7 .1 .7 -3.8 .7 1.8 .7 -3.1 .7 .3 .7 -3.1 .7 -3.2 .8 3.1 .8 -.6 .8 2.5 .8 -3.2 .8 2.2 .8 -6.7 .8 1.9 .7 -3.2 .8 .9 .8 -1.5 .8 1.9 .8 -2.1 .8 -2.1 .9 2.5 .9 -.3 .9 -1.8 .9 4.5 .9 -5.4 .9 -.7 .9 -.1 .9 3.7 .9 -3.7 .9 -1.2 1 1 .9 -.9 1 -1.7 .9 1.2 1 -1.4 .8 5.6 .6 -.3 .6 0 .6 4.7 .6 -4.9 .6 7.6 .6 .1 .6 -2.3 .6 -3.1 .5 1.5 .7 6.9 .7 -3.6 .7 -1 .7 6.6 .7 -5.7 .7 3.3 .7 2.4 .8 -3.5 .7 6.3 .7 2.2 .7 -5.5 .7 5.1 .7 -1 .7 .3 .7 -.2 .8 3.5 .8 2.3 .8 -2.7 .8 2 .8 -.6 .7 .9 .8 .3 .8 -.4 .8 1.8 .8 -2 .8 -.3 .7 4.7 .8 -.4 .9 .8 .8 .8 .9 .7 .8 -1.4 .9 1.1 .9 .5 .8 2.8 .9 -1.5 .8 -2.4 .9 1.4 .8 -.4 .9 -.1 .8 7.4 .9 -3.1 .8 -.5 .8 6.7 .8 -2.6 .9 -.4 .8 .5 .9 1.1 1 -.1 1 -4.3 1 -1.5 1 3.1 1 4.6 1 -1.4 1 .5 1 1.4 1 -4.7 1 1.7 1.1 1.8 1 -2.9 1 -1.3 1 4.7 1 -1.5 1 -1.3 .9 -1.6 .9 3.8 1 -.1 .9 -.8 .9 -4.2 1 -1.1 .9 7.2 .9 -9.8 .9 7.4 1 -3.1 .9 1 .9 -2.3 .8 -2.8 .9 1.6 .9 -2.9 .8 3.8 .9 .6 .9 -1.9 .8 -1.5 .9 -2.5 .9 2.8 .8 -.6 .9 -2.1 .8 -2.2 .9 -4.1 .9 6.6 .8 -2.4 .9 2.2 .8 -.8 .9 0 .8 -6.1 .9 0 .8 3.8 .9 -3.9 .8 4 1 -.5 1 -5.5 1 6.1 1 -.8 1 -7 .9 4 1 -8.5 1 7.8 1 1.8 1 -2.4 .9 0 .8 .3 .8 .1 .9 1.5 .8 3.5 .8 -4.4 .9 6 .7 -3.1 .7 -.4 .6 -2.8 .6 6.1 .6 -.2 .7 4.8 .6 -3.4 .6 2.4 .7 .4 .6 -1.4 .6 5 .6 -5.2 .7 -.6 .6 4.9 .5 .4 .6 2 .6 3.5 .5 -2.4 .6 .5 .5 1.5 .6 -.8 .6 3.8 .5 -2 .6 3.2 .6 -.9 .5 1.9 .6 2.8 .5 .1 .8 -1.9 .8 4.9 .9 -2.5 .9 -.8 .8 2.5 .9 -2.7 .8 1.4 .9 4.6 .9 -.8 .8 -1.3 .9 -1.6 .8 4.3 .8 -4.1 .7 -1.6 .7 2.6 .7 -2.7 .7 .1 .7 2.5 .7 -1.7 .7 .1 .7 -2.3 .4 -.6 .4 -3.5 .5 .4 .4 .1 .5 -.9 .4 -3.2 .5 3.7 .4 -3.6 .5 -3.5 .4 -1.1 .5 .2 .4 -2.1 .5 1.2 .4 -2.1 .4 2.9 .5 -2.6 .4 1.8 .5 -3.2 .3 -3.1 .4 .2 .3 -1.1 .4 1.4 .3 -2.2 .4 .9 .3 -.2 .4 -2.7 .3 -5.7 .4 2.6 .3 -.6 .4 -.8 .3 -1.4 .4 .4 .3 -1.4 .4 -1.6 .3 -2.7 .4 .1 .3 -.5 .4 -2.2 .3 -2.1 .4 3.9 .3 -2.1 .4 -2.2 .3 -1.2 .3 -.3 .3 -.8 .3 -.8 .3 -.2 .3 -3.7 .3 .9 .4 -3.4 .3 3.6 .3 -4.2 .3 -2.7 .3 .5 .3 -1.5 .3 .3 .4 -1.8 .3 -.9 .3 -.8 .3 .6 .3 -3 .3 1.7 .2 -3.5 .3 -.3 .2 -.2 .2 -3.4 .3 1.1 .2 -1.5 .3 -1.1 .2 1.3 .3 -2.1 .2 -2 .2 -2 .3 2.4 .2 -3.7 .3 -.8 .2 .5 .3 -2.9 .2 .9 .3 -2.7 .2 .1 .2 -1.7 .3 0 .2 -1.3 .3 -.9 .2 0 .3 -2.3 .4 0 .3 -3.6 .3 .4 .3 .4 .4 -3.6 .3 .7 .3 -1.9 .3 2.2 .4 -1.8 .3 -1 .3 -1.9 .3 1.6" stroke="#e21818" stroke-width="4.2" fill="none" stroke-linejoin="round" stroke-linecap="round"/>
<path d="M164.2 552.5l0 1 0 1 0 1 0 1 0 1 0 1 0 1 0 1 0 1 0 1 0 1 0 1 0 1 0 1 0 1 0 1 0 1 0 1 0 1 0 1 0 1 0 1 -.1 1 0 1 0 1 0 1 0 1 0 1 0 1 0 1 0 1 0 1 0 1 0 1 0 1 0 1 0 1 0 1 0 1 0 1 0 1 0 1 0 1 0 1 0 1 0 1 0 1 0 1 0 1 0 1 0 1 0 1 0 1 0 1 0 1 0 1 0 1 0 1 0 1 0 1 0 1 0 1.1 0 1 0 1 0 1 0 1 0 1 0 1 0 1 0 1 0 1 -.1 1 0 1 0 1 0 1 0 1 0 1 0 1 0 1 0 1 0 1 0 1 0 1 0 1 0 1 0 1 0 1 0 1 0 1 0 1 0 1 0 1 0 1 0 1 0 1 0 1 0 1 0 1 0 1 0 1 0 1 0 1 0 1 0 1 0 1 0 1 0 1 0 1 0 1 0 1 0 1 .1 1 0 1 0 1.1 0 .9 0 1 0 1 .1 1 0 1 0 1 0 1 0 1 0 1 .1 1 0 1 0 1 0 1.1 0 1 0 1 .1 1 0 1 0 1 0 1 0 1 0 1 .1 1 0 1 0 1 0 1 0 .9 0 1.1 .1 1 0 1 0 1 0 1 0 1 0 1 .1 1 0 1 0 1 0 1 0 .9 0 1.1 .1 1 0 1 0 1 0 1 0 1 .1 1 0 1 0 1 0 1 0 1 0 1 .1 1 0 1 0 1 0 1 0 1 0 1 .1 1 0 1 0 1 0 1 0 1 0 1 .1 1 0 1 0 1 0 1 0 1 0 1 .1 1 0 1 0 1.1 0 .9 0 1 0 1 .1 1.1 0 .9 0 1 0 1 0 1 0 1 .1 1.1 0 1 0 1 0 .9 0 1.1 0 .9 .1 1.1 0 1 0 1 0 1 0 .9 .1 1 .1 1 0 1.1 .1 .9 .1 1 0 1.1 .1 1 .1 1 0 1 .1 .9 .1 1.1 0 1 .1 .9 .1 1.1 0 1 .1 1 0 1 .1 1.1 .1 .9 0 1 .1 1 .1 1 0 1 .1 .9 .1 1 0 1 .1 1.1 .1 1.1 0 .8 .1 .9 .1 1.2 0 1.2 .2 1.1 .3 .9 .3 .6 .2 .8 .3 1.1 .3 1.3 .2 1 .3 .8 .3 .8 .2 1.1 .3 .8 .5 0 1 .5 1 .6 1 -.4 1 -.2 1 -.3 .8 .6 .5 -1 .4 -1.1 .4 -.5 .4 -1 .4 -1 .5 -.8 .4 -1.2 .4 -.9 .4 -.8 .4 -.6 .5 -1.2 .4 -1.1 .2 -.9 .3 -.9 .2 -1 .3 -1.1 .2 -1.1 .2 -1 .3 -.8 .2 -.9 .3 -1 .2 -1.2 .2 -.8 .3 -.5 .2 -1 .3 -1.4 .2 -.8 .3 -.8 .2 -1.4 .2 -1 .3 -.9 .2 -1 .3 -.9 .2 -.9 .2 -.7 .3 -1 .2 -1.4 .2 -.9 .2 -1 .2 -1 .1 -.8 .2 -.8 .2 -1 .2 -1 .1 -1.1 .2 -1 .2 -.9 .1 -1.1 .2 -1.1 .2 -.9 .1 -.9 .2 -.9 .2 -1 .2 -1.1 .1 -1 .2 -1.1 .2 -1.2 .1 -1 .2 -.8 .2 -1 .2 -1 .1 -.8 .2 -.9 .2 -1.2 .1 -1.1 .2 -1 .1 -.8 .2 -.9 .2 -.9 .1 -1.1 .2 -1.2 .1 -1 .2 -.8 .2 -1 .1 -1 .2 -1 .1 -1 .2 -1 .2 -.9 .1 -1 .2 -1 .1 -1 .2 -1 .2 -.9 .1 -.8 .2 -1.3 .2 -1.3 .5 -.5 .4 -.8 .5 -1.2 .4 -.4 .5 -.7 .4 -1.5 .6 -.6 .9 .6 .9 .7 .9 .1 .9 .5 .3 1.1 .2 .9 .3 1.2 .2 .9 .2 1.1 .3 1.1 .2 .8 .3 1 .2 .8 .2 .9 .3 1.3 .2 .8 .2 .2 .2 -.7 .3 -.8 .2 -1.2 .2 -1.1 .2 -.7 .2 -1 .2 -1 .2 -1 .2 -1.4 .2 -.8 .2 -.8 .2 -1 .2 -1 .3 -1.2 .4 -.5 .6 -.6 .5 -.6 .6 -1.3 .6 -1.7 .5 -.2 .6 -1 .5 -.4 .1 1.2 .1 1 .1 1.1 .1 1.2 .1 .9 .1 .8 .1 1.1 .1 .9 .1 1 .1 1 .1 1.1 .2 1 .1 .9 .1 .9 .1 1 .1 1.1 .1 1 .1 1 .1 1.1 .1 .9 .1 1 .1 1.1 .1 1 .1 .9 .1 .9 .1 1 .2 1.1 .1 1 .1 1 .2 1.1 .3 1 .2 .8 .2 1.2 .2 .8 .2 .8 .2 1.1 .2 1 .2 1.4 .2 1 .2 .7 .2 .9 .2 .8 .3 1 .8 -.3 .9 -.5 .8 -.8 .5 -.9 .1 -.9 .1 -1 .2 -.9 .1 -1 .1 -1 .1 -1 .1 -1 .1 -1 .1 -.9 .1 -1.1 .1 -1 .1 -1 .1 -1 .1 -1 .1 -1 .1 -1 .1 -1.1 .1 -.9 .1 -1 .1 -.8 .2 -1 .1 -1.1 .1 -1 .1 -1 .1 -1 .1 -1.1 .1 -1.1 .1 -1 .2 -.9 .3 -.9 .3 -.7 .3 -.7 .3 -1.2 .3 -1.1 .2 -.7 .4 -.4 .4 .5 .4 1 .4 1 .4 .8 .4 1.1 .4 .6 .3 1.2 .2 .9 .1 .9 0 1 .1 1 0 1.1 .1 1 0 1 .1 1 0 1 .1 1 0 1 .1 1 0 1 .1 1 0 1 .1 .9 0 1 .1 1.1 .1 1 0 1 .1 .9 0 1 .1 1.1 0 1 .1 1 0 1 .1 1 0 .9 .1 1.1 0 1 .1 .8 0 1.1 .1 1.1 0 .9 .1 1.1 0 1 .1 1 0 1 .1 1 0 1 .1 1 0 1 .1 1 0 .9 .1 1 0 1 .1 1.1 0 1 .1 1.1 0 .9 .1 1 0 1.1 .1 1 0 .9 .1 1 0 1 .1 1 0 1 .1 1 0 1 .1 1 0 1 .1 1 0 1 .1 1 0 1 0 1 .1 .9 0 1.1 .1 1 0 1 .1 1 0 1 .1 1 0 1 .1 1 0 1 .1 1 0 1 .2 .5 .8 -.7 .8 -.1 .8 -1.3 .8 -.3 .8 .7 .8 -1.8 .7 -.1 .7 1.6 .6 1.2 .7 .9 .6 .2 .7 .8 .6 .4 .7 0 .6 1.1 .6 1.5 .6 .6 .6 .3 .6 .9 .6 .9 .6 .6 .6 .6 .6 .7 .6 1.1 .9 .4 .9 0 .9 1.1 1 .6 .9 -.1 .9 .8 .9 .5 1 .3 .9 -.3 .9 .9 .9 1 1 -.7 1 -.1 1 .2 1 .1 1 -.2 1.1 -.6 1 .3 1 .8 1 .6 1 .2 1 -1.1 1 -.5 1 .7 1 .5 1 -.3 1 -.5 1 .1 1 .5 1 .3 1 -.6 1 .1 1 -.6 1 0 .6 0 .2 -1.1 .1 -.9 .2 -.8 .2 -1.1 .2 -1.3 .2 -.6 .2 1.3 .2 1.5 .2 .8 .2 .9 .2 .9 .3 .6 1 .5 1 -.1 1 -.7 1 -1 1 0 1 .1 1 .1 1 .6 1 .9 1 0 1 -.2 1 .4 1 -1.8 1 -.5 1 1.4 1 -.5 1 .7 1 .4 1 -.1 1 -.5 1 -.2 1 1 1 -.3 1 -1.3 1 -.3 1 1.1 .8 0 .8 -1 .8 .2 .8 -.1 .8 -1.8 .8 -1 .8 .2 .8 -1.2 .8 -1.3 .8 -.2 1 .2 1 -.6 1 1 1 .7 1 -.7 1 .3 1 .5 1 .2 1 -1.9 1 .6 .8 -.3 .7 -.4 .7 -1.3 .7 -.5 .7 -.1 .7 -1 .7 -1.2 .7 -.3 .7 -.8 .7 -1.2 .7 0 .6 -1.1 .5 -1.8 .6 -.5 .5 -.4 .5 -.8 .5 -.7 .5 -.5 .5 -.5 .5 -1.4 .5 -1.3 .6 -.8 .5 -.8 .4 -1.3 .4 -.8 .3 -.3 .3 -1 .4 -1.1 .3 -1.1 .4 -.9 .3 -.7 .3 -.9 .4 -.7 .3 -1.2 .3 -.9 .4 -.9 .3 -1.1 .4 -.8 .3 -1.1 .1 -1.1 .1 -1 .1 -1.1 .1 -.9 .1 -1 .1 -1 .1 -.9 .1 -1 .1 -1.1 .1 -1 .1 -1.1 .1 -1 .1 -1 .1 -1 .1 -.9 .1 -1 .1 -1 .1 -1 .1 -1 .1 -1 .1 -1 .1 -1 .1 -.9 .1 -.9 .1 -1.1 .1 -1.1 .1 -1 .1 -1 .1 -1 .1 -.8 .1 -1.1 .2 -1 .1 -1.1 .1 -1.1 .1 -.9 .1 -.8 .1 -1.2 .1 -1 .1 -1 0 -.9 .1 -1 .1 -1 0 -1 .1 -1 .1 -.9 0 -1.1 .1 -1 .1 -.9 0 -1.1 .1 -1 .1 -1 0 -.9 .1 -1 .1 -1 0 -1.2 .1 -1 .1 -.9 0 -1 .1 -1.1 .1 -.9 0 -1 .1 -1 .1 -1 0 -1 .1 -1 .1 -1 0 -1 .1 -.9 .1 -1.2 0 -1 .1 -.9 .1 -.9 0 -1 .1 -1.1 .1 -1 0 -1.1 .1 -1.1 .2 -1.1 .2 -1 .2 -.8 .3 -.9 .2 -.8 .2 -.9 .2 -1.1 .2 .1 .2 .8 .1 .9 .2 1.1 .2 1 .1 1.1 .2 .9 .1 1.1 .2 1.1 .1 .9 .2 1 .2 1.1 .1 1 .2 .9 .1 1.1 .2 .6 .1 .9 .2 1.1 .2 1 .1 1 .1 1 0 1.1 .1 1 0 1 .1 1 0 1 .1 .9 0 1 .1 1.1 .1 1 0 1 .1 1 0 1 .1 1 0 1 .1 .9 0 1.1 .1 1 0 1 .1 1 .1 .9 0 1 .1 1 0 1 .1 1.1 0 1 .1 .9 0 1 .1 1.1 .1 1 0 1 .1 1 0 .9 .1 1.1 0 1 .1 .9 0 1 .1 1.1 .1 1 0 1 .1 1 0 1 .1 1 0 1 .1 1 0 1 .1 1 0 1 .1 1 .1 1 0 .9 .1 1 0 1.1 .1 1 0 1 .1 1 0 1 .1 1 0 1.1 .1 .9 0 .9 .1 1.1 0 1 .1 1 0 1.1 .1 .9 0 1 .1 1 .1 1 0 1 .1 1 0 1.1 .1 .9 0 1 .1 1 0 1 .1 1 0 1 .1 1 0 1.1 .1 .9 0 1 .1 .9 0 1.1 .1 1 0 1 .1 1.1 0 1 .1 1 0 .9 .1 1 0 1.1 .2 1 .1 1 .1 .9 .1 1 .1 .9 .2 1.1 .1 1.1 .1 .9 .1 .9 .1 1 .2 1 .1 1.1 .1 1 .1 1 .1 1.1 .2 1 .1 1.4 .7 .8 1 -.2 1 -.1 1 -.3 1 -.6 1 -.2 1 .6 1 .5 1 -.9 1 -.4 1 .3 1 -.4 1 .1 1 .2 1 -.3 1 .9 1 0 1 -.4 1 .8 1 -.1 1 .8 1 -.2 1 -1.5 1 -.3 1 .1 1 .3 1 0 1 .9 1 0 1 -.8 1 -.9 1 .5 1 1.1 1 -.3 1 -.5 1 -.6 1 -3.8 1 3.9 1 .6 1 -.1 1 -.4 1 .1 1 .9 1.1 -.6 1 -.3 1 .5 1 -.2 1 -2.1 1 -2.6 1 .3 1 2.9 1 1.8 1 -.3 1 .1 1 -2 1 -2.9 1 .9 1 3 1 1.7 1 -.5 1 -.3 1 0 1 .1 1 .8 1 -.4 1 -2.6 1 -3.2 1 -.3 1 4.3 1 2.5 1 -3.7 1 -4.2 1 .1 1 4.6 1 3.4 1 -.2 1 -.6 1 -.7 1 .6 1 .3 1 -.9 1 -4 1 .8 1 3.6 1 -.3 1 -2.9 1 -.9 1 3.8 1 .4" stroke="#1010d2" stroke-width="4.0" fill="none" stroke-linejoin="round" stroke-linecap="round"/>
<path d="M550.5 672l.1 0 0 4 .1 0 .1 4 .1 4 .1 0 0 4 .1 0 .1 4 .1 0 0 4 .1 0 0 4 .1 0 0 4 .1 0 .1 0 0 4 .1 0 0 4 .1 0 0 4 .1 0 .1 4 .2 0 .3 0 .3 4 .3 -4 .3 4 .3 0 .3 0 .3 4 .3 0 .3 0 .3 0 .3 4 .3 0 .8 -4 1 4 .9 0 1 0 .9 0 1 -4 .6 0 .4 4 .3 -4 .3 0 .3 0 .3 -4 .4 0 .3 0 .3 0 .3 0 .3 -4 .3 0 .4 -4 .3 0 .3 0 .3 0 .3 0 .4 -4 .3 0 .3 0 .2 0 .2 -4 .2 0 .3 0 .2 0 .2 -4 .2 0 .3 0 .2 0 .2 0 .2 -4 .3 0 .2 0 .2 0 .2 0 .3 -4 .2 0 .2 0 .2 0 .3 -4 .2 0 .2 0 .2 0 .3 0 .2 0 .2 -4 .3 0 .3 -4 .3 0 .4 0 .3 -4 .4 0 .3 0 .4 0 .3 -4 .4 0 .3 -4 .4 4 .3 -4 .4 0 .3 0 .4 0 .3 -4 .3 0 .5 0 .4 0 .5 0 .4 -4 .5 -4 .4 4 .5 0 .4 0 .5 0 .4 -4 .5 0 .4 -4 .5 0 .5 0 1 0 1 0 1 0 1 0 1 0 1 0 .3 0 .4 0 .4 0 .4 -4 .4 0 .4 4 .3 -4 .4 0 .4 -4 .4 0 .4 -4 .3 4 .3 0 .2 4 .3 0 .3 0 .3 0 .3 4 .3 0 .3 0 .2 -4 .3 4 .3 4 .3 0 .3 -4 .3 4 .3 0 .3 4 .2 0 .3 0 .3 0 .3 4 .4 -4 .5 0 .4 0 .4 0 .5 0 .4 0 .5 -4 .4 0 .5 4 .4 -4 .4 0 .4 0 .4 -4 .3 0 .4 0 .4 -4 .4 0 .4 0 .4 -4 .4 0 .4 0 .4 -4 .4 0 .4 4 .3 0 .1 0 .2 0 .1 0 .1 4 .2 0 .1 0 .1 0 .2 0 .1 0 .2 4 .1 0 .1 0 .2 4 .1 0 .1 0 .2 0 .1 0 .1 4 .2 0 .1 0 .2 4 .1 0 .1 0 .2 0 .1 0 .1 4 .2 0 .1 0 .2 4 .1 0 .2 4 .1 -4 .2 4 .2 -4 .2 4 .2 0 .2 4 .2 -4 .2 4 .2 0 .2 4 .2 0 .2 0 .2 0 .2 0 .1 4 .5 0 .5 0 .5 8 .6 -4 .5 0 .5 0 1 0 1 0 1 0 1 4 1 -4 1 0 1 0 1 0 .9 0 1 -4 .9 0 1 0 1 4 .9 0 1 4 .9 -8 1 8 .8 -8 .9 4 .8 0 .9 4 .8 -4 .9 -8 .8 0 .9 0 .8 0 .9 4 .9 0 .9 0 .9 -4 .9 -4 .9 0 .9 0 1 0 .9 0 .9 4 1 0 1 -8 1 4 1 -4 1 4 1.1 4 1 0 1 0 1 0 .9 -4 1 0 .9 0 .9 0 1 4 .9 0 .9 0 1 4 .9 0 1 -4 .9 0 .8 4 .8 0 .8 0 .8 0 .8 0 .7 4 .8 0 .8 0 .8 0 .8 0 .7 4 .8 -4 .8 0 .8 0 .8 0 .7 4 .8 0 .8 0 .8 0 .7 4 .8 0 .8 0 .8 0 .7 8 .8 -4 .8 -4 .9 0 1 0 .9 0 1 0 1 4 1 0 1 0 .9 0 1 0 1 0 .9 -4 1 4 .9 0 .9 8 1 0 .9 0 .9 0 1 0 .9 -8 1 4 .9 4 1 -4 1 4 .9 -4 .9 0 .8 -4 .8 0 .7 0 .8 0 .8 -4 .7 4 .8 0 .8 0 .7 -4 .8 4 .8 0 .7 0 .7 -4 .3 0 .2 -4 .3 -4 .3 0 .2 0 .3 0 .3 0 .2 0 .3 0 .3 0 .2 -4 .3 0 .3 -4 .2 0 .3 0 .3 0 .2 -4 .3 0 .2 0 .3 0 .3 -4 .2 0 .3 0 .3 -4 .2 0 .3 0 .3 0 .2 0 .2 -4 .3 0 .2 0 .2 0 .2 0 .3 -4 .2 0 .2 0 .2 -4 .2 0 .3 0 .2 0 .2 0 .2 -4 .3 0 .2 0 .2 0 .2 -4 .3 0 .2 0 .2 0 .2 0 .3 -4 .2 0 .2 -4 .2 0 .3 4 .2 0 .3 0 .2 0 .2 4 .3 0 .2 0 .2 0 .3 0 .2 4 .3 0 .2 0 .2 4 .3 0 .2 0 .3 0 .2 0 .2 4 .1 0 .2 0 .2 0 .1 4 .2 0 .2 0 .1 0 .2 4 .2 0 .1 0 .2 0 .2 4 .1 0 .2 0 .2 0 .1 0 .2 4 .2 0 .2 0 .1 0 .2 4 .2 0 .1 0 .2 4 .2 0 .1 0 .2 0 .2 0 .1 4 .3 4 .7 0 .7 -4 .7 4 .7 4 .7 0 .8 -4 .8 4 .8 -8 .9 0 .8 -4 .8 4 .9 4 .8 -4 1 -4 1 0 .9 0 1 4 1 4 .9 0 1 -4 1 0 .7 0 .6 4 .6 0 .7 0 .6 0 .6 4 .7 4 .6 -4 .6 0 .6 0 .7 8 .6 4 .6 0 .6 -4 .6 -4 .5 0 .6 0 .6 0 .5 4 .6 8 .5 -8 .6 4 .6 0 .5 4 .6 -4 .5 0 .6 8 .6 0 .6 4 .6 0 .7 -4 .6 0 .6 -4 .6 4 .7 0 .6 4 .6 0 .7 0 .6 0 .6 0 .6 4 1 -4 1 4 1 0 .9 0 1 -8 1 4 1 -4 .9 0 .7 0 .5 4 .6 4 .5 -4 .6 0 .6 -4 .5 4 .6 -4 .6 -4 .5 0 .6 0 .5 0 .6 0 .6 -4 .5 4 .4 -4 .4 -4 .4 0 .4 0 .4 4 .4 0 .4 -4 .4 0 .4 -4 .5 0 .4 0 .4 0 .4 0 .4 -4 .4 -4 .4 0 .4 0 .4 0 .4 0 .4 0 .4 0 .3 -4 .4 0 .3 0 .3 0 .4 -4 .3 0 .4 -4 .3 0 .4 0 .3 0 .4 0 .3 -4 .4 0 .3 -4 .3 0 .4 4 .3 -4 .4 0 .3 0 .4 0 .3 -4 .4 0 .3 4 .4 -4 .3 0 .4 -4 .3 4 .4 -4 .3 0 .4 0 .3 -4 .4 0 .3 0 .4 0 .3 -4 .4 -4 .3 0 .4 0 .3 0 .4 0" stroke="#080808" stroke-width="4.2" fill="none" stroke-linejoin="round" stroke-linecap="round"/>
<path d="M550.1 599l0 1.1 0 .9 0 1.1 0 .9 0 1 0 1 0 1 0 1 0 1 0 1 0 1 0 1 .1 1.1 0 .9 0 1 0 1 0 1 0 1 0 1 0 1 0 1.1 0 .9 0 1.1 0 .9 0 1 .1 1.1 0 .9 0 1 0 1 0 1 0 1 0 1 0 1 0 1 0 1 0 1 0 1 0 1 .1 1 0 1 0 1 0 1 0 1.1 0 1 0 .9 0 1 0 1.1 0 .9 0 1.1 0 1 0 .9 .1 1 0 1 0 1.1 0 1 0 1 0 1 0 .9 0 1.1 0 1 0 1 0 1 0 1 0 .9 .1 1.1 0 1 0 .9 0 1 0 1 0 1.1 0 1 0 1 0 1 0 1 0 .9 0 1.1 0 1 .1 1 0 1 0 1 0 1 0 1 0 1 0 1 0 1 0 1 0 1 0 1 0 1 0 1 .1 1.1 0 .8 0 1.1 0 1 0 1 0 1 0 1 0 1 0 1 0 1 0 1 0 1 0 1 .1 1 0 1 0 1 0 1 0 1 0 1 0 1 0 1 0 1 0 1 0 .9 0 1.1 0 1 .1 1 0 1.1 0 .9 0 1 0 1 0 1 .1 1 0 1 0 1 .1 1.2 0 .7 .1 1.1 0 1.1 0 .9 .1 .9 0 1 .1 1.1 0 1.2 .1 .7 0 1.3 0 .9 .1 1.1 0 .7 .1 1 0 1.3 0 1.1 .1 .6 0 1 .1 1 0 1 0 1 .1 1.2 0 1.2 .1 .6 0 1.3 .1 .9 0 1 0 .9 .1 .1 .3 1.6 .4 .2 .5 -.5 .6 3.7 .6 -2.1 .6 -.6 .6 1 .6 -6.1 .6 6.1 .6 -.3 .6 -4.4 .6 -3.2 .6 2.9 .4 -.1 .3 -4.1 .2 -2.1 .2 .9 .3 -1.3 .2 -.6 .3 -1 .2 0 .2 -1.4 .3 -1.9 .2 -1.9 .3 -.5 .2 0 .3 -1.8 .2 -1 .2 -.6 .3 -.3 .2 -1.4 .3 -1.8 .2 -1 .2 -1.7 .3 1 .2 -1.9 .3 .3 .2 -1.4 .2 -2.7 .2 .1 .2 -.3 .2 -1.3 .1 -.4 .2 -1.5 .2 -1 .1 -1.8 .2 -1.7 .2 1.2 .2 -2.2 .1 -1.7 .2 -.4 .2 .3 .2 -1.5 .1 -.9 .2 -2.6 .2 .7 .2 -1.6 .1 -.7 .2 -1.8 .2 -1.7 .2 .3 .1 -1.6 .2 -1 .2 -.8 .2 -.5 .1 -1.4 .2 -.2 .2 -1.8 .2 -.2 .1 -.2 .2 -1.7 .2 -1.3 .1 -.4 .2 -2.8 .2 1.5 .2 -2.5 .3 -1 .2 -1.6 .2 .3 .2 -1.6 .2 -2.1 .2 .4 .2 -1.4 .2 -.3 .2 -1.4 .2 -1 .2 -1.3 .2 -1.8 .3 .2 .2 -1.2 .2 -1.9 .2 1.2 .2 -1 .2 -1.4 .2 -2.7 .2 -1.3 .2 -1.6 .2 2.2 .2 -1.4 .2 -2 .2 -.9 .3 -.8 .2 -.1 .7 -4.7 .7 .5 .7 -1.3 .7 2.2 .7 4.3 .7 -3.9 .7 -3 .7 -6.1 .8 6 1 3.3 .9 -5.9 1 -4.1 1 8.8 .9 -8.9 1 10.7 .5 -5.9 .5 -1.3 .4 .2 .5 -3.2 .4 -.7 .4 -1.5 .5 -2 .4 -1.4 .5 3.8 .4 -4.6 .4 1.8 .5 -5.6 .4 .9 .5 -.2 .1 1.2 .2 2 .2 1.1 .2 -.1 .1 .9 .2 1.9 .2 .1 .2 .9 .1 1.2 .2 2.3 .2 1 .1 .7 .2 .7 .2 .3 .2 -.7 .1 1.9 .2 1 .2 2 .2 .2 .1 2 .2 .8 .2 .6 .1 1.6 .2 1 .2 1.2 .2 1.2 .1 -.8 .2 .9 .2 4.1 .2 -1.7 .1 1.4 .2 1.9 .2 0 .2 3.5 .1 -.6 .3 1.1 .2 -2.5 .3 -2 .3 -.4 .2 -1.8 .3 -.3 .3 -.2 .2 -3.5 .3 1.7 .3 -3.6 .2 1 .3 -2.1 .3 .3 .2 -2 .3 .2 .2 -1.7 .1 -1 .2 -.9 .1 .1 .2 -1.8 .1 -1.7 .1 -.3 .2 .6 .1 -2.7 .2 -1.2 .1 -1.5 .2 -.6 .1 -1 .2 -1 .1 -1 .2 -1.1 .1 -.5 .1 .2 .2 -2.6 .1 -.7 .2 -2.3 .1 .7 .2 -1.5 .1 -.5 .2 -2.4 .1 .8 .2 -1.4 .1 -1.5 .1 -.7 .2 -1.8 .1 -.4 .2 -1.6 .1 .4 .2 -1.6 .1 -1.9 .2 -.7 .1 -.1 .2 -1 .1 -1.7 .1 -.6 .2 -.6 .1 -1.8 .1 .8 .1 1.5 0 .7 .1 1.3 .1 1.2 0 .1 .1 1.3 .1 1.4 0 .9 .1 1.2 .1 1.3 0 .4 .1 .9 .1 .9 0 1.6 .1 1.2 .1 .9 0 .7 .1 1.5 .1 .7 0 .7 .1 1.3 .1 .6 0 .9 .1 1.3 .1 1.4 0 .6 .1 1.3 .1 .9 0 .8 .1 .5 .1 1.5 0 1 .1 1 .1 1.7 0 .3 .1 .8 .1 1.1 0 .6 .1 1.3 .1 1.4 0 .9 .1 .9 .1 1.5 0 .8 .1 .5 .1 .8 0 1.1 .1 1.1 .1 1 .1 .5 0 1.8 .1 -.1 .1 1.7 0 1.4 .1 1.1 .1 1.5 0 .5 .1 .7 .1 .6 0 1.7 .1 .7 .1 1.3 .1 .8 0 .7 .1 1.6 .1 .7 0 .6 .1 1.7 .1 .3 0 1.7 .1 .8 .1 .7 .1 1.4 0 .5 .1 1.5 .1 1.3 0 .7 .1 .1 .1 1.6 0 1.1 .1 .9 .1 .6 .1 1.3 0 1.2 .1 1.3 .1 .9 0 1.5 .1 .5 .1 .9 0 1.2 .1 1.7 .2 .9 .7 -5 .7 5 .7 -3.9 .7 -.7 .7 3.3 .6 -3.5 .6 -3.4 .6 .2 .6 1.9 .6 -3.1 .6 2.1 .6 -3.4 .6 -1.6 .6 1.3 .6 -2.9 .6 -2.4 .9 2.9 .8 -5.1 .8 4.8 .8 -2.5 .9 -4.6 .8 3.5 .8 -1.2 1 1 1 -1.3 1 -.8 1 -.6 1 .6 1 -1.2 1 4.4 1 -2.7 .7 1.8 .6 -3.3 .5 0 .6 -.5 .6 1.5 .5 -2.3 .6 .4 .5 -2.7 .6 -1.4 .6 .1 .5 -1.6 .6 .4 .5 -2.2 .6 .3 .6 .8 .7 -3.9 .7 .4 .6 .8 .7 1.3 .7 3.6 .8 -1.5 .9 -.7 .9 .8 .9 -1.8 .9 .4 .9 .5 .9 -4.4 .9 2.3 .8 2.6 .9 -1.6 .8 -1.3 .8 .3 .8 3.1 .8 .3 .9 -.5 .8 3.6 .8 .4 .8 -1.8 .8 -.4 .8 0 .8 1.9 .8 -2.1 .8 5.4 .8 -2 .8 .4 .8 3.2 .8 3 .8 -3.4 .8 2.3 .8 -.5 .8 -2.7 .8 4.5 .8 -1.7 .8 2.7 .7 -.5 .8 1 .8 -1.4 .8 .4 .8 .5 .8 4.9 .8 -.2 .9 -.6 .9 -1.5 .9 .2 .9 .5 .9 1.5 .9 4.9 .9 -4.6 .9 -.6 .9 2.4 .9 1.9 .9 2.6 .9 .3 .9 -3.1 .9 1.6 .9 .9 .9 .1 .9 1.3 .9 -3.5 1 2.4 1 -4.8 1 5.2 1 -2.2 1 1.2 .9 .1 1 1.4 .9 -.9 .9 -1.6 .9 5.5 1 -1.7 .9 7 .9 -4.3 1 -2.1 .9 3.2 .7 -1.4 .6 -.6 .6 -4.8 .5 1.7 .6 -2.5 .6 .5 .6 3 .5 -5.3 .6 -6.4 .6 2.7 .6 .5 .5 1.1 .6 -1.9 .6 1.3 .6 -4.3 .5 .3 .6 4.6 .6 -4.1 .2 -.8 .3 -2.8 .2 0 .2 -2.5 .3 -.4 .2 -1 .3 -.6 .2 .7 .3 -.6 .2 -3.5 .3 .3 .2 -.8 .2 -2.8 .3 -1.5 .2 1.1 .3 -2.3 .2 -.5 .3 -.5 .2 -1.4 .2 .3 .3 -3.5 .2 -1.5 .3 1.8 .2 -3.8 .3 -.2 .1 .4 .1 -.8 .2 -1.1 .1 -2.5 .2 .3 .1 -.4 .2 -1.7 .1 -1.4 .2 -.2 .1 -.5 .2 -2.1 .1 -.9 .2 -1.5 .1 -.6 .1 -.8 .2 -2.5 .1 -.7 .2 -.2 .1 -.4 .2 -2.5 .1 -.6 .2 .1 .1 -1.1 .2 -.7 .1 -1.5 .1 -1.1 .2 .7 .1 -2.5 .2 -.7 0 -1.3 .1 -.6 0 -1.1 .1 -1 .1 -1.2 0 -1.2 .1 -1 0 -.5 .1 -1.2 0 -1.2 .1 -.9 .1 -.9 0 -.7 .1 -1.3 0 -.8 .1 -1.2 0 -.9 .1 -1.1 .1 -1.4 0 -.2 .1 -1.5 0 -1.1 .1 -1 0 -.6 .1 -1 .1 -1.1 0 -1.3 .1 -.9 0 -.9 .1 -1.2 0 -.7 .1 -.9 .1 -.9 0 -1.3 .1 -.9 0 -1.1 .1 -1 0 -.9 .1 -1.1 .1 -1.1 0 -.9 .1 -.9 0 -.8 .1 -1.4 0 -1.1 .1 -.6 .1 -1.1 0 -.8 .1 -.9 0 -1.3 .1 -1.5 0 -.4 .1 -1.3 .1 -.7 0 -1.1 .1 -.9 0 -1.5 .1 -.8 0 -.7 .1 -.9 .1 -.9 0 -.7 .1 1.6 .1 .6 .1 1 .1 1.3 0 .9 .1 .8 .1 1.8 .1 .9 .1 .4 0 1.6 .1 .4 .1 1.9 .1 .3 .1 .8 0 1.1 .1 .9 .1 1.2 .1 1 .1 .4 0 1.9 .1 .8 .1 1.3 .1 .7 .1 .9 0 .6 .1 1.3 .1 .9 .1 1.3 .1 1.4 0 .7 .1 1.5 .1 1 .1 .2 .1 1.4 0 .9 .1 -.3 .1 2.1 .1 1 .1 1.6 0 .5 .1 .3 .1 1.1 .1 1 .1 1.4 0 1.4 .1 .5 .1 1.1 .1 .9 .1 1.1 .1 1.2 0 .1 .1 1.5 .1 1.7 .1 .3 .1 1.6 0 .8 .1 1 .1 .8 .1 .6 .1 1 0 1.7 .1 .9 .1 .6 .1 .8 .1 1.4 0 .6 .1 1 .1 1.4 .1 1.2 .1 .1 .1 1.2 0 1.8 .1 .2 .1 2 .1 .6 .1 .2 .1 1.8 .1 .9 .1 .9 .1 .9 0 1.1 .1 1.7 .1 .5 .1 .7 .1 1 .1 1.1 .1 .6 .1 1.2 .1 1.5 0 .4 .1 1.9 .1 .2 .1 1.3 .1 1.1 .1 1.1 .1 .9 .1 .9 .1 .6 0 .9 .1 1.3 .1 .5 .1 1.2 .1 1.3 .1 1.3 .1 .8 .1 .4 .1 1.7 0 .7 .1 1.2 .1 .8 .1 1.1 .1 1.4 .1 .9 .1 -.7 .2 2.8 .3 0 .3 .8 .3 .9 .3 1.2 .3 -.7 .3 2.7 .3 -.8 .3 2.9 .3 1 .3 -1.8 .3 5.7 .3 -1.9 .3 .9 .3 .4 .3 4.2 .3 -.2 .6 -4.2 .8 -.9 .9 4.1 .8 1.1 .8 -2.2 .8 .2 .9 -2.8 .8 -.9 1 -2.3 .9 4.1 1 1.3 .9 -1.4 1 2.2 .9 .7 .9 -5 .8 2.6 .8 4.8 .8 -3.5 .8 1.3 .8 .5 .8 1.2 .8 .3 .8 4.9 .8 -1.4 .7 -.1 .6 -3.5 .7 2.8 .6 2.1 .6 .9 .6 .6 .7 3.8 .6 -4.4 .6 3 .7 .9 .6 -.2 .6 -1.3 .6 2.2 .8 .4 .8 -.7 .8 0 .9 6.7 .8 .5 .8 -1.2 .8 5.4 .9 -1.9 1 -4.6 1 1.3 1 -.1 1 .1 1 2.6 1 -1.1 .7 .3 .7 -2.6 .7 -1.1 .7 -2.9 .7 1.1 .7 .2 .7 -.4 .7 .3 .6 -1 .5 -3 .4 3.5 .5 -.5 .4 -1.3 .5 -2.9 .4 -.4 .5 -1.7 .4 -2.7 .5 -1.4 .4 -.2 .5 .4 .4 -.7 .5 -1.6 .4 -.8 .4 -1.3 .5 -.6 .4 -.5 .5 -1.4 .4 -1.3 .5 -1.7 .4 .1 .5 -.6 .4 -1.5 .5 .5 .4 0 .4 -4.4 .5 .3 .4 1.4 .5 -3.7 .4 -.2 .5 -3.4 .4 .3 .3 -.7 .3 -2.2 .3 1.2 .3 .4 .3 -2.4 .4 -1.6 .3 .6 .3 .4 .3 -3.1 .3 .2 .3 -1.4 .4 -.3 .3 -1.4 .3 -.6 .3 -1.7 .3 -1.2 .3 -1.4 .4 -.7 .3 -.6 .3 1.5 .4 -2.9 .3 -2.5 .4 1.2 .3 -2.1 .4 -1.9 .3 -.1 .4 -1.9 .3 -.1 .4 0 .3 -4.1 .4 1.1 .4 -1 .3 -1.9 .4 .1 .3 1.9 .4 -2.6 .2 -1.7 .3 -2.8 .3 0 .3 1.1 .3 -1.7 .3 -1.4 .2 1.8 .3 -3.8 .3 -.7 .3 -1.4 .3 -.2 .2 -1.4 .3 -1.5 .3 -.1 .3 .2" stroke="#1ee61e" stroke-width="4.2" fill="none" stroke-linejoin="round" stroke-linecap="round"/>
<path d="M513.5 769.7l1 -2.5 1 7 1 -5.8 1 -.4 1 5.1 1 -3.1 1 -.6 1 .2 1 5.4 1 .4 1 -5.1 1.1 1.1 1 -2.3 1 -2.6 1 3.9 1 .8 1 0 1 -4.1 1 4.4 1 4.3 1 -5.9 1 1.3 1 -1.9 1 2.4 1 -1.1 1 -.8 1 2.2 1 -3.6 1 1.3 1 -1.1 1 -1.4 1 5.3 1 -.2 1 0 1 -2.8 1.1 .4 1 2.4 1 -1.3 1 1.6 1 -4.9 1 3.3 1 2.2 1 -2.9 1 1.4 1 -6.2 1 5.5 1 .2 1 -2.1 1 3.9 1 -3.2 .9 .9 .8 -3.1 .9 -.3 .8 -4.7 .8 3.5 .9 -.8 .8 3.1 .8 -5.7 .9 4.7 .8 -6.1 .8 4.2 .9 -1.8 .9 -1.3 .9 2.6 .9 .1 1 -2.9 .9 3.1 .9 -.9 1 -1.7 .9 -.5 .9 -3.5 1 1.6 .9 1.6 .9 -5.5 .9 -.3 .8 -2.1 .9 7.4 .9 -5.3 .8 0 .9 -1 .9 4.6 .8 -8.1 .9 2.1 .9 3.5 .8 -1.7 .9 -4.2 .8 4.4 .9 -3.9 .8 -.2 .9 -2.3 .8 3.3 .9 -3.1 .8 -2.3 .9 2.1 .8 -2.4 .9 .9 .8 -.8 .6 .3 .6 -.7 .6 -.2 .6 .1 .6 .8 .6 -5.3 .5 2.8 .6 -2.4 .6 -3.6 .6 1.6 .6 -2.8 .6 2.7 .6 -3.3 .5 -.5 .6 -1.2 .6 -4.8 .6 7.6 .7 -4.6 .8 -5.3 .9 2.5 .8 3 .9 -1.1 .8 -2.3 .9 -2.4 .8 1.5 .6 3.9 .6 -5.4 .6 .1 .6 -2.6 .5 -5.5 .6 1.6 .6 .1 .6 .7 .6 2.1 .6 -3.1 .6 -4.2 .6 .8 .5 -.6 .6 -4.5 .5 2.2 .6 1.9 .6 -3.6 .5 1.2 .6 -3.7 .5 2.1 .6 -.5 .6 -3.6 .5 2.8 .6 -2.1 .6 -3 .7 -2 .7 2.5 .8 2.9 .7 -10.4 .7 5.7 .7 -.7 .7 2.6 .7 -4.5 .7 -1.4 .8 -.8 .7 -.5 .7 3.2 .7 -6.2 .7 .5 .9 -2.6 1 2.4 .9 -2.1 .9 .4 .9 -2.5 1 6.2 .9 -4.7 .9 -1.4 1 -.6 .9 3.2 .9 .2 1 -3.7 1 3.7 1 -3 .9 4 1 -6.5 1 6.8 1 -5.2 .9 3.5 1 -5.3 .9 0 .9 2.9 .9 3.1 .9 -1.5 .9 -1.6 .9 3.1 .9 -1 .9 -2 .7 6 .7 -1.1 .6 -1.8 .6 3.3 .6 .4 .6 1.3 .7 -.1 .6 .5 .6 5.1 .6 -2.2 .6 -2.1 .7 1.4 .6 6.3 .7 -5.4 .8 .9 .7 1.7 .8 1.5 .8 -1.7 .8 5.6 .8 -1.8 .8 -2 .8 2.5 .7 2.4 .8 .4 .8 2 .8 3.8 .8 .7 .8 -4.2 .8 -.9 .7 .1 .8 -.1 .8 .5 .8 1.8 .8 -1.4 .8 1.7 .7 .2 .8 .9 .8 2.7 .8 -2 .8 1.4 .8 6.8 .8 -5 .9 0 .8 1.3 .8 3.8 .8 -3.9 .9 2.3 .8 -2.5 .8 3.1 .8 5.4 1 -3.8 1 -2.6 1 1.3 1 3.6 1 -5.1 1 1.3 1 6.5 1 -5.7 1 -1.4 1.1 4.7 1 .6 1 -2.8 1 -2.3 1 .2 1 4.1 1 -2.7 1 2.2 1 -.7 1 -1.1 1 1 1 -2.4 .9 -.6 .9 -2.2 .9 .4 1 -2.7 .9 1.2 .9 4.4 1 -1.9 .9 .4 .9 -1.9 1 3.7 .8 2.3 .8 -4 .8 -5.2 .8 -.1 .8 1 .8 -2.9 .7 -3.5 .8 3.9 .8 .5 .8 -1 .8 3.7 .8 -8 .8 .6 .8 4.8 1 -6 .9 .1 .9 2 1 -1.2 .9 -1.8 .9 1 1 0 .9 -1 .9 -2.4 1 2.8 .9 -2.9 1 -3.3 1 6.1 .9 -1.3 1 -.8 1 -.5 .9 -.5 1 -.8 .9 3.4 .7 -1.3 .7 -2.5 .7 3 .7 7.1 .7 -1.8 .7 -5.1 .7 .3 .7 6.6 .7 -1.2 .7 -3.4 .7 1.3 .7 5.3 .6 -7 .6 5.5 .7 -2 .6 6.6 .6 -4.3 .6 3.5 .7 2.1 .6 -2.9 .6 2.7 .7 -2 .6 4.3 .6 -2.2 .6 1.9 .7 1.1 .6 .4 .6 2.8 .7 .3 .6 -1.4 .6 -1.7 .7 6 .6 4.3 .6 -2.3 .6 -3.5 .7 6.7 .6 -1.3 .9 -4.2 1 4.7 1 .4 .9 -.2 1 -.8 1 -.5 1 2.6 .9 -2.3 .9 -1.1 .6 .5 .6 1.2 .6 0 .6 -1 .5 -3.5 .6 3 .6 -2.9 .6 -3.3 .6 3.5 .6 -2.1 .5 -2.7 .4 -.1 .5 -1.5 .4 -1.9 .5 -2.8 .4 2 .5 .6 .5 -2.2 .4 -2 .5 3.7 .4 -4.3 .5 -.4 .4 -.4 .5 -2.6 .5 -1.1 .4 .8 .5 -1 .4 -2.9 .3 .7 .3 -.4 .3 0 .4 -3.9 .3 2.6 .3 -5.9 .3 1.9 .3 -2 .4 0 .3 -.6 .3 -2.2 .3 -.6 .3 .8 .3 -3.4 .4 .8 .3 -2.5 .3 2.7 .3 -2.9 .3 -1.2 .4 .2 .3 -2 .3 -2.1 .3 1.2 .3 -2.5 .4 -3.6 .3 .5 .3 .6 .4 -1.8 .3 -.5 .4 .2 .3 -1.6 .4 -1 .3 -1.2 .4 -1.7 .4 .9 .3 -1.7 .4 -1.2 .3 1.2 .4 -.7 .3 -5.2 .4 .5 .3 -.5 .3 -.6 .3 -1.5 .2 -2.2 .3 -.4 .2 -.3 .3 -.8 .2 .2 .2 -2.8 .3 -1.6 .2 .7 .3 -2.4 .2 -.7 .3 .2 .2 -.6 .2 -1.6 .3 -.5 .2 -2.1 .3 -.1 .2 -1 .2 -.8 .3 -.5 .2 -2.9 .3 -.8 .2 -.2 .3 1.7 .2 -3.5" stroke="#e21818" stroke-width="4.2" fill="none" stroke-linejoin="round" stroke-linecap="round"/>
<path d="M547.9 552.6l.1 0 0 1 0 1 .1 1 0 .9 0 1.1 0 1 0 1 0 1 0 1 0 1 .1 1 0 1 0 1 0 1 0 1 0 1 0 1 0 1 0 1 .1 1 0 1 0 1 0 1 0 1 0 1 0 1 0 1 .1 1 0 1 0 1 0 1 0 1 0 1 0 1 0 1 0 1 .1 1 0 1 0 1 0 1 0 1 0 1 0 1 0 1 .1 1 0 1 0 1 0 1 0 1 0 1 0 1 0 1 0 1 .1 1.1 0 1 0 1 0 .9 0 1 0 1 0 1 0 1 .1 1 0 1.1 0 1 0 1 0 1 0 1 0 1 0 1 0 1 .1 1 0 1 0 1 0 1 0 1 0 1 0 1 0 1 .1 1 0 1 0 1 0 1 0 1 0 1 0 1 0 1 0 1 .1 1 0 1 0 1 0 1 0 1 0 1 0 1 0 1 .1 1 0 1 0 1 0 1 0 1 0 1 0 1 0 1 0 1 .1 1 0 1 0 1 0 1 0 1 0 1 0 1 0 1 .1 1 0 1.1 0 1 0 1 0 1 0 .9 0 1.1 .1 1 0 .9 0 1.1 0 1 0 1 0 1 .1 1 0 1 0 1 0 1 0 1 0 1 .1 1 0 1 0 1 0 1 0 1 0 1 .1 1 0 1 0 1 0 1 0 1 0 1 .1 1 0 1 0 1 0 1 0 1 0 1 .1 1 0 1 0 1 0 1 0 1 0 1 .1 1 0 1 0 1 0 1 0 1 0 1 .1 1 0 1 0 1 0 1 0 1 0 1 .1 1 0 1 0 1 0 1.1 0 1 0 1 .1 .9 0 1 0 1 0 1 0 1.1 0 1 .1 1 0 1 0 .9 0 1 0 1 0 1.1 0 1 .1 1 0 1 0 1 0 1 0 1 0 1 .1 1 0 1 0 1 0 1 0 1 0 1 .1 1 0 1 0 1 0 1 0 1 0 1 .1 1 0 1 0 1 0 1 0 1 0 1 .1 1 0 1 0 1 0 1 0 1 0 1 .1 1 0 1 0 1 0 1 0 1 0 1 .1 1 0 1 0 1 0 1 0 1 0 1 .1 1 0 1 0 1 0 1 0 1 0 1 .1 1 0 1 0 1 0 1.1 0 .9 0 1 .1 1 .3 .4 .3 1.3 .4 1.4 .4 .8 .4 .6 .4 .8 .3 .9 .4 1.6 .5 1 1 -1.2 1 .6 1 -.2 1 -.1 1 .2 1 .1 .4 -.4 .3 -1.1 .4 -1.2 .4 -1.2 .4 -.9 .4 -1.2 .4 -.8 .4 -.6 .4 -.9 .4 -1.3 .4 -.7 .4 -.6 .3 -1.3 .3 -.9 .2 -.7 .3 -1.1 .2 -1 .3 -.6 .2 -1.3 .3 -1.3 .2 -.8 .2 -.8 .3 -1.4 .2 -1.1 .3 -.6 .2 -1 .2 -.7 .3 -.9 .2 -1.2 .3 -1.1 .2 -1 .2 -.8 .3 -1.1 .2 -.9 .3 -.8 .2 -1 .3 -1 .2 -.9 .2 -1.1 .1 -1 .2 -.9 .2 -1.3 .1 -1.1 .2 -.8 .1 -.7 .2 -1.1 .1 -.9 .2 -.9 .2 -1 .1 -1.2 .2 -1.1 .1 -1 .2 -.9 .1 -.8 .2 -1.1 .2 -1.1 .1 -.7 .2 -1 .1 -1.2 .2 -1.1 .1 -.9 .2 -.9 .2 -1.2 .1 -1 .2 -.8 .1 -1.2 .2 -1.2 .2 -.7 .2 -.7 .2 -1.1 .1 -1.1 .2 -.8 .2 -1 .2 -1.1 .1 -.8 .2 -1.1 .2 -1 .2 -1.2 .1 -1.2 .2 -.8 .2 -.8 .2 -1.1 .1 -1 .2 -1 .2 -1 .2 -.7 .1 -1 .3 -1.2 .4 -1.2 .4 -1.1 .5 -.3 .4 -1.2 .4 -1 .5 -.5 .5 -.1 .9 .4 .9 -.1 .9 1.1 .9 .7 .6 .1 .3 .6 .2 1.1 .3 1.5 .3 .9 .3 .9 .3 .7 .3 .7 .3 1.5 .3 .9 .2 1 .3 -.7 .2 -1.1 .3 -.9 .2 -1.3 .2 -.8 .3 -.8 .2 -1.1 .3 -1 .2 -1.3 .2 -1.1 .3 -.7 .2 -.9 .3 -.8 .6 -1.3 .7 -1.1 .6 0 .6 -1.4 .7 -.6 .6 -.2 .6 -.8 .5 -.5 .1 .9 .1 1.2 .1 .9 .1 .9 .2 1 .1 1 .1 1.1 .1 1.1 .1 .8 .1 .9 .1 1.1 .2 1 .1 .9 .1 1.2 .1 1 .1 .9 .1 1 .1 1 .2 1 .1 1.1 .1 1 .1 1 .1 .9 .1 .9 .1 1.1 .2 1.2 .1 .9 .1 .9 .1 1.1 .2 .8 .1 1 .1 1.1 .2 1 .1 .8 .1 1.1 .1 1 .2 1 .1 .9 .1 1.1 .2 1.1 .1 1 .1 .8 .4 0 .8 -.2 .8 .2 .9 -1 .3 -.8 .2 -.9 .1 -1.1 .1 -1.1 .1 -.9 .2 -1.1 .1 -1 .1 -.9 .1 -1 .1 -.9 .2 -1.1 .1 -1.2 .1 -.8 .1 -.9 .2 -1.1 .1 -1.1 .1 -1 .1 -1 .2 -1 .1 -.9 .1 -1 .1 -.9 .2 -1.1 .1 -1 .1 -1 .2 -.8 .2 -1 .2 -.9 .2 -.8 .2 -1 .2 -1.2 .2 -1.1 .2 -.9 .2 -1.1 .2 -1.3 .4 .4 .4 1 .4 .4 .5 1 .4 1.1 .4 1.5 .5 .9 .2 .6 0 1 .1 1 0 .9 .1 1.1 0 1 .1 1 0 1.1 .1 1 .1 1 0 .9 .1 1 0 1 .1 1 0 1 .1 1 0 1 .1 1 0 1 .1 1 0 1 .1 1 0 1 .1 1 0 1 .1 1.1 0 .9 .1 1 0 1 .1 1 0 1.1 .1 1 0 1 .1 .9 .1 1 0 1 .1 1.1 0 1 .1 .9 0 1.1 .1 1 0 1 .1 1 0 .9 .1 1 0 1.1 .1 .9 .1 1 0 1.1 .1 .9 0 1 .1 1.1 0 .9 .1 1 .1 1 0 1 .1 1.1 0 .9 .1 1 0 1.1 .1 1 .1 1 0 1 .1 .9 0 1 .1 1 0 1 .1 1 .1 1 0 1 .1 1.1 0 .9 .1 1 0 1 .1 1 .1 1.1 0 .9 .2 .9 .9 -.9 .9 0 .9 .3 .9 -1.2 .9 -.8 .8 .9 .6 1.3 .7 .4 .6 .6 .7 1.3 .6 .5 .6 0 .7 .6 .6 .6 .6 1.3 .6 1.3 .6 .3 .6 .8 .6 1.4 .6 1.1 .6 .7 .6 .5 .6 .3 .7 .1 1 .8 .9 1.2 .9 -.3 .9 -.3 1 1.1 .9 1 .9 .4 1 .2 .9 .6 .9 .9 1 0 1 -.6 1 -2 1 0 1 2.4 1 .3 1 -.7 1 .5 1 .3 1 -.3 1 -1.5 1 -2 1 -.2 1 1.7 1 1.5 1 -.2 1 -.2 1 .1 1 .2 1 -1.3 1 -2.4 1 1.8 1 2.3 1 .4 .2 -1.7 .2 -1.4 .2 -.8 .1 -.9 .2 -.9 .2 -.7 .2 .6 .2 1.1 .2 .7 .2 .6 .2 1 .2 1.3 .7 .3 1 -.9 1 .9 1 -.3 1 .7 1 .1 1 -1.2 1 1.2 1 .1 1 -.9 1 .5 1 -.4 1 .3 1 .6 1 -2.9 1 1 1 2.2 1 -1 1 .3 1 -.6 1.1 -.2 1 .3 1 -.6 1 -.3 1 1.1 1 .5 .8 -.8 .8 -.9 .7 -.7 .8 -.4 .8 -.7 .8 -1 .8 -.4 .8 -.6 .8 -.3 .8 -.8 .9 -1 1 .3 1 -.1 1 -.1 1 -.1 .9 -.3 1 -.3 1 -.1 1 .2 1 -.3 1 -.9 .9 -.1 .8 -.2 .9 -.6 .9 0 .9 -.6 .9 -.5 .9 -.6 .8 -.9 .9 .1 .5 -.9 .5 -1 .5 -1 .5 -1.1 .5 -.8 .5 -.5 .6 -1.2 .5 -1.7 .5 -.2 .5 -.3 .5 -.9 .5 -1.4 .3 -1.1 .3 -.6 .4 -.4 .3 -1 .4 -1.3 .3 -.5 .3 -.7 .4 -1.4 .3 -1.1 .4 -.7 .3 -1.2 .3 -1.4 .4 -.6 .3 -.6 .3 -1.1 .1 -1.1 .1 -1 .1 -1.1 .1 -1 .1 -1 .1 -.8 .1 -1 .1 -1.1 .1 -1 .1 -1.1 .1 -.8 .1 -.9 .1 -1.2 .1 -1.1 .1 -.9 .1 -1.1 .1 -1 .1 -.9 .1 -.9 .1 -1.1 .1 -1 .1 -.9 .1 -1 .1 -1.1 .1 -1 .1 -1 .1 -.9 0 -1 .1 -.9 .1 -1.1 .1 -1 .1 -1 .1 -1.1 .1 -1 .1 -1 .1 -1 .1 -.9 .1 -1 .1 -1 .1 -1.1 .1 -.9 .1 -1 0 -1 .1 -1 .1 -1 .1 -1 0 -1.1 .1 -.9 .1 -1 0 -1 .1 -1 .1 -1.1 0 -1 .1 -.9 .1 -1 0 -1 .1 -1.1 .1 -1 .1 -.9 0 -.9 .1 -1.1 .1 -1 0 -1.1 .1 -.9 .1 -1.1 0 -1 .1 -.9 .1 -.9 0 -1.1 .1 -1 .1 -1 .1 -1 0 -1 .1 -1 .1 -1.1 0 -1 .1 -.9 .1 -1 0 -.9 .1 -1.1 .1 -1 .1 -.7 .2 -1 .2 -1.1 .2 -.9 .2 -1 .2 -.9 .2 -1.2 .2 -.4 .1 .8 .1 1.1 .2 1.2 .1 1.1 .2 .8 .1 1.2 .2 1 .1 .8 .1 1.1 .2 .8 .1 1.1 .2 1.1 .1 .8 .1 1 .2 1 .1 1 .2 1 .1 1 .2 1 .1 1.1 .1 .9 .1 1 .1 1 0 1 .1 1 0 1 .1 1 .1 .9 0 1 .1 1.1 0 1 .1 1 .1 1 0 1 .1 1 0 1.1 .1 1 .1 .8 0 1.1 .1 1 0 1 .1 1 .1 1 0 1.1 .1 .9 0 1 .1 1 .1 1.1 0 .9 .1 1 0 1 .1 1 .1 1 0 1.1 .1 .9 0 1 .1 1 .1 1 0 1 .1 .9 0 1.1 .1 1.1 .1 .9 0 1.1 .1 1 0 .9 .1 1 .1 1 0 1 .1 1 0 .9 .1 1.2 .1 1 0 .9 0 1 .1 1 0 1 .1 1 0 1 .1 1 0 1 .1 1.1 0 .9 .1 1.1 0 .9 .1 1 0 1 0 1 .1 1 0 1 .1 1 0 1 .1 1.1 0 .9 .1 1 0 1 .1 1 0 1.1 0 1 .1 1 0 .9 .1 1 0 1 .1 1 0 1 .1 1 0 1 .1 1.1 0 1 .1 .9 0 1.1 0 1 .1 1.1 .1 1 .1 1 .2 .9 .1 1 .1 .8 .1 1 .1 1.1 .2 1.1 .1 1 .1 .8 .1 1.1 .1 1.1 .1 1 .2 .9 .1 1 .1 1.1 .1 1.2 .5 -.8 1 0 1 1.7 1 -.2 1 -1.4 1 .6 1 1.7 1 .2 1 -1.4 1 -1.6 1 -1.3 1 1.3 1 2.5 1 -.1 1 -.4 1 .1 1 -.6 1 .2 1 -.4 1 -1.1 1 .7 1 1.3 1 -.1 1 -.9 1 -.1 1 .9 1 -.7 1 -1.5 1 -1.3 1 0 1 2.8 1 .4 1 -1.9 1 -3.2 1 2.1 1 2.8 1 -.5 1 -.6 1.1 .6 1 -1.9 1 -3.2 1 2.7 1 3 1 -1 1 -1.5 1 -1.7 1 1.3 1 2.6 1 -2.4 1 -4.6 1 .9 1 5.2 1 2.3 1 -2.9 1 -2.8 1 2.7 1 2.4 1 -5.8 1 .2 1 4.9 1 .1 1 -3.8 1 .1 1 4 1 0 1 -3.6 1 -3.5 1 3.5 1 3.6 1 -1.5 1 -2.7 1 -1 1 2.2 1 2 1 -3.5 1 -3 1 3.8 1 3.3 1 -3.2 1 -3.5 1 6.5 1 -.4" stroke="#1010d2" stroke-width="4.0" fill="none" stroke-linejoin="round" stroke-linecap="round"/>
<path d="M937.5 676l.1 0 0 4 .1 0 .1 4 .1 0 0 4 .1 0 .1 4 .1 0 0 4 .1 0 .1 4 .1 0 0 4 .1 0 .1 4 .1 0 0 4 .1 0 .2 0 .1 0 .2 4 .1 0 .2 0 .1 0 .2 0 .1 0 .2 4 .1 0 .2 0 .1 4 .2 0 .1 0 .2 4 .1 0 .2 0 .1 4 .4 0 .4 4 .5 -4 .4 0 .5 4 .4 0 .5 4 .4 0 .5 0 .4 0 .5 0 .4 4 .5 -4 .4 0 .3 0 .3 -4 .3 0 .4 0 .3 0 .3 0 .3 0 .3 -4 .4 4 .3 0 .3 -4 .3 0 .3 0 .3 -4 .4 0 .3 0 .3 -4 .3 0 .3 0 .2 0 .2 0 .2 -4 .2 0 .2 0 .1 0 .2 -4 .2 0 .2 0 .2 -4 .2 0 .1 0 .2 0 .2 0 .2 -4 .2 0 .1 0 .2 -4 .2 0 .2 0 .2 0 .2 0 .1 -4 .2 0 .2 0 .2 0 .2 -4 .2 0 .1 0 .2 0 .2 -4 .2 0 .2 0 .2 0 .3 -4 .3 0 .3 0 .3 0 .3 -4 .3 0 .3 -4 .3 0 .3 0 .3 0 .3 0 .3 0 .3 0 .3 -4 .3 0 .3 0 .3 0 .3 0 .3 -4 .3 0 .4 0 .7 0 .7 4 .7 0 .7 -4 .7 -4 .7 0 .7 0 .7 0 .7 -4 .6 -4 .6 0 .6 0 .6 4 .6 0 .6 0 .6 -4 .6 0 .6 -4 .6 0 .6 -4 .6 0 .6 4 .6 -4 .6 0 .6 0 .6 -4 .6 0 .6 0 .5 0 .2 4 .3 0 .3 0 .3 0 .3 0 .3 0 .3 4 .2 0 .3 4 .3 0 .3 0 .3 -4 .3 4 .3 4 .3 0 .2 0 .3 4 .3 0 .3 0 .3 0 .3 0 .6 0 .5 0 .6 -4 .5 0 .5 0 .6 0 .5 0 .4 -4 .3 0 .3 0 .3 0 .3 0 .3 -4 .3 0 .3 0 .3 -4 .3 0 .3 0 .3 0 .3 0 .3 -4 .3 0 .3 0 .3 -4 .2 4 .2 0 .1 0 .2 0 .1 4 .2 0 .1 0 .2 0 .2 4 .1 0 .2 0 .1 4 .2 0 .1 0 .2 0 .2 0 .1 4 .2 0 .1 0 .2 0 .1 0 .2 4 .1 0 .2 0 .2 0 .1 4 .2 0 .1 4 .2 0 .1 0 .2 0 .2 4 .1 0 .3 4 .3 -4 .3 0 .3 4 .4 0 .3 0 .3 0 .3 0 .3 4 .3 0 .3 4 .3 -4 .4 0 .9 4 .8 0 .8 -4 .8 0 .9 4 .8 4 .8 -8 1 4 1 -4 1 4 1 0 1 0 1 0 1 0 1 0 .9 4 .9 4 .9 -4 .9 -4 .9 0 .9 -4 .9 4 .9 -4 .9 0 .9 0 1 0 1 -4 .9 0 1 0 1 8 1 -4 .9 0 1 0 .8 0 .8 -4 .8 4 .8 4 .8 0 .8 -8 .9 -4 .8 4 .8 0 .8 0 .8 -4 .7 4 .8 0 .8 4 .8 0 .8 -4 .8 4 .7 0 .8 0 .8 0 .8 0 .8 0 .8 -4 .7 8 .8 4 .8 -4 .8 -4 .8 0 .7 4 .8 0 .8 0 .8 4 .8 4 .8 -4 .7 0 .8 0 .8 0 .8 4 .8 0 .8 0 .7 -4 .8 4 .8 0 .8 8 .8 -4 .8 4 .7 -4 .8 0 .8 4 .8 0 .8 0 .7 4 .8 -4 .8 0 .8 4 .7 4 .8 -4 .8 4 .7 0 .8 0 .8 -4 .8 0 .9 4 1 0 1 4 .9 0 1 -4 1 -4 .9 4 1 -4 1 0 1 0 .9 0 1 4 1 4 1 -4 1 0 .9 -4 1 4 1 0 1 -4 .7 -4 .7 0 .7 0 .6 -4 .7 4 .7 -4 .6 0 .7 0 .7 0 .6 4 .7 0 .6 -4 .7 0 .7 -4 .6 0 .7 0 .4 0 .2 0 .3 -4 .3 0 .3 0 .3 -4 .3 0 .3 -4 .3 0 .2 4 .3 -4 .3 4 .3 -4 .3 0 .3 -4 .3 0 .2 0 .3 -4 .3 0 .3 0 .3 0 .2 0 .2 0 .2 -4 .2 0 .2 -4 .2 0 .2 0 .2 0 .2 -4 .2 0 .2 0 .2 0 .2 -4 .2 0 .2 0 .2 0 .2 -4 .1 0 .2 -4 .2 4 .2 -4 .2 0 .2 0 .2 0 .2 0 .2 -4 .2 0 .2 0 .2 0 .2 -4 .2 0 .2 0 .2 0 .3 0 .2 0 .3 4 .2 0 .3 4 .2 0 .3 0 .2 4 .3 0 .2 0 .2 0 .3 0 .2 0 .3 0 .2 4 .3 0 .2 4 .3 -4 .2 4 .2 0 .2 4 .2 0 .2 0 .2 4 .2 -4 .2 4 .2 0 .2 0 .2 0 .1 4 .2 0 .2 4 .2 0 .2 0 .2 0 .2 0 .2 0 .2 0 .2 4 .2 0 .2 4 .1 0 .2 0 .2 0 .2 0 .2 0 .4 0 .7 0 .7 0 .7 4 .7 -4 .7 0 .9 0 .9 0 1 4 1 0 .9 4 1 0 1 -4 .9 -4 1 4 .7 0 .7 4 .7 0 .7 0 .7 0 .7 -4 .7 4 .7 4 .7 0 .7 0 .7 -4 .6 0 .6 4 .6 4 .5 4 .6 -4 .5 0 .6 0 .6 4 .5 0 .6 0 .5 0 .6 0 .6 4 .5 0 .6 4 .5 0 .6 -4 .5 0 .6 0 .5 4 .6 4 .5 0 .6 0 .6 0 .5 0 .6 0 .5 0 .6 4 .5 0 .6 0 1 0 1 0 .9 0 1 0 1 0 1 0 .9 4 1 -8 .8 0 .9 4 .8 0 .9 0 .8 4 .8 -4 .9 0 .7 -4 .5 0 .5 0 .5 0 .5 0 .4 0 .5 0 .5 0 .5 -4 .5 -4 .5 0 .5 0 .5 0 .5 0 .5 0 .5 0 .5 -4 .4 0 .5 -4 .4 4 .4 0 .5 0 .4 -4 .5 0 .4 0 .5 0 .4 0 .5 -4 .4 0 .4 0 .5 -4 .4 0 .5 0 .4 -4 .5 0 .3 0 .4 0 .3 0 .4 0 .3 -4 .4 0 .3 -4 .4 4 .3 -4 .3 0 .4 0 .3 0 .4 -4 .3 0 .4 0 .3 -4 .4 0 .3 0 .3 0 .4 -4 .3 0 .4 0 .3 0 .4 -4 .4 0 .5 0 .4 0 .5 -4 .4 0 .5 0 .4 0 .5 -4 .4 0 .5 0 .4 0 .5 0 .4 0 .3 0 0 4 0 4 0 4 .1 0 0 4 0 4 0 4 .1 4 0 4" stroke="#080808" stroke-width="4.2" fill="none" stroke-linejoin="round" stroke-linecap="round"/>
<path d="M937 601.7l0 1 0 1 0 1 0 1 0 1 0 1 0 1 0 1 .1 1 0 1 0 1 0 1 0 1 0 1 0 1 0 1 0 1 0 1 0 1.1 0 .9 0 1 .1 1 0 1 0 1 0 1 0 1.1 0 .9 0 1 0 1 0 1.1 0 .9 0 1.1 0 .9 0 1 .1 1 0 1.1 0 1 0 1 0 .9 0 1 0 1.1 0 .9 0 1 0 1 0 1 0 1 0 1 .1 1 0 1.1 0 1 0 1 0 .9 0 1.1 0 1 0 1 0 .9 0 1.1 0 1 0 1 0 1 .1 1 0 1 0 1 0 1 0 .9 0 1 0 1.1 0 1 0 1 0 1 0 1 0 1 0 1 .1 1 0 1 0 1 0 .9 0 1.1 0 1 0 1 0 1 0 1 0 1 0 1 0 1 0 1 .1 1 0 1 0 1 0 .9 0 1.1 0 .9 0 1.1 0 1 0 1 0 1 0 1 0 1 0 1 .1 1.1 0 .9 0 1 0 1 0 1.1 0 .9 0 1 0 1 0 1 0 1 0 1 0 1 0 1 .1 1 0 1 0 1.1 0 .9 0 1.1 0 1 0 .9 0 1 0 1 .1 .7 0 1 .1 1.6 .1 .8 0 .8 .1 1.2 0 .6 .1 1.4 .1 1.4 0 .3 .1 1.3 .1 1.1 0 .9 .1 .8 .1 1.2 0 .8 .1 1.3 .1 .9 0 .7 .1 1.3 0 .9 .1 1 .1 .7 0 1 .1 1.2 .1 1 0 1 .1 1.2 .1 .3 .2 .6 .4 .7 .5 1.8 .4 -1 .5 4.2 .8 -1.2 .8 -2.1 .9 1.7 .8 -1.6 .8 -1.5 .8 1.8 .9 -4.3 .3 1.3 .2 -1.1 .2 -1.7 .3 -1.4 .2 -1.4 .2 -1.1 .2 .5 .2 -1.1 .2 -.8 .2 -.5 .2 -.6 .2 -1.9 .2 -2.2 .2 -.1 .3 -1.2 .2 -1 .2 1.1 .2 -2.1 .2 -1.4 .2 -2.1 .2 .4 .2 -.9 .2 -1.1 .2 -1.1 .3 -.3 .2 -1.7 .2 -1.6 .2 -.3 .2 -.6 .2 -.5 .2 -1.9 .1 -.4 .2 -.7 .2 -1.1 .1 -.6 .2 -2.6 .2 -1.3 .2 -1 .1 -.2 .2 -.6 .2 -1.5 .2 -.9 .1 -.7 .2 -1.3 .2 -.7 .1 -.3 .2 -1.5 .2 -.8 .2 -2.1 .1 -1.4 .2 -.8 .2 -.7 .2 -1.2 .1 -1.2 .2 -.5 .2 -.7 .1 1 .2 -1.9 .2 -1.7 .2 -1.8 .1 -.5 .2 -.7 .2 -1.7 .2 -.7 .2 -1.3 .2 -1.4 .2 .6 .3 -1.4 .2 -.9 .2 -2.3 .3 .3 .2 -2.5 .2 -.6 .2 -.7 .3 .2 .2 -2.3 .2 -.8 .3 .6 .2 -3.9 .2 1.5 .3 -1.6 .2 .2 .2 -.6 .3 -2.2 .2 -.5 .2 -2.1 .3 -.4 .2 -1.8 .2 -.1 .3 -1.1 .2 .2 .3 -1.2 .5 -1.4 .5 -1.7 .6 3.8 .5 -6 .5 2 .5 -4.4 .5 2.3 .5 -1.3 .5 -.5 .5 -.9 .6 -.9 .6 .2 .8 -.3 .9 -3.2 .8 -3.2 .8 .1 .8 1.9 .9 -1.6 .8 5.3 .4 -7.1 .3 -1.4 .4 1 .4 2.8 .4 -4.2 .4 -3.9 .3 -.5 .4 0 .4 1.2 .4 -2.7 .4 -.1 .3 -1.2 .4 -1.5 .4 -.3 .4 -1.4 .4 -1.4 .1 .9 .1 1.4 .2 1.1 .1 1.4 .1 1.6 .1 .8 .2 1.5 .1 .1 .1 .4 .2 1.6 .1 1 .1 1.1 .2 .5 .1 2.2 .1 -.8 .2 2 .1 .5 .1 2.1 .2 .3 .1 .5 .1 1.5 .2 1.4 .1 .8 .1 .5 .2 1.4 .1 .9 .1 1.6 .2 1.1 .1 -.9 .1 1.7 .2 1.4 .1 1.2 .1 2.6 .2 -1.1 .1 1.1 .1 2.3 .2 -.4 .1 1.7 .1 1 .2 .1 .1 2.4 .1 1.1 .2 -1.2 .1 3.3 .1 -1.4 .2 2.3 .4 .5 .4 -3 .3 .6 .4 -.1 .3 -3.5 .4 1.1 .4 -.7 .3 -.3 .4 -5 .4 -.5 .3 .9 .1 -1.9 .1 -.9 .1 -.9 .1 -.7 .1 -1.2 .1 -.6 .1 -1 .1 -1.5 .1 -1.8 .1 -.5 .1 -.4 .1 -1.4 .1 -1.5 .1 -.6 .1 -.5 .1 -1.9 .1 .5 .1 -1.4 .1 -1.5 .1 -.3 .2 -1.4 .1 -1.4 .1 -1.3 .1 -.7 .1 -.8 .1 -.7 .1 -1.4 .1 -.7 .1 -1.2 .1 -1.3 .1 -.4 .1 -1.4 .1 -.5 .1 -1.4 .1 -.5 .1 -2.3 .1 .2 .1 -1.1 .1 -1 .1 -1.4 .2 .1 .1 2 .1 1.8 .2 .7 .1 .1 .1 1.9 .2 1.8 .1 0 .1 .7 .2 .9 .1 1.1 .1 -.3 .2 2.3 .1 .1 .1 .9 .2 2.1 .1 .3 .1 1.3 .2 1.2 .1 1.7 .1 -.3 .2 .3 .1 1 .1 2.5 .1 0 .2 2.8 .1 .6 .1 1.2 .2 .6 .1 .5 .1 1.1 0 1 .1 .5 .1 1.5 0 .9 .1 .9 .1 .8 0 1.4 .1 .9 0 1.2 .1 .9 .1 1.1 0 1.1 .1 .4 0 1 .1 1.1 .1 1.6 0 .4 .1 1.3 .1 .7 0 .9 .1 1.1 0 1.1 .1 .8 .1 1.1 0 1 .1 .8 .1 1.8 0 .4 .1 1.5 0 .8 .1 1.1 .1 .9 0 .6 .1 .9 .1 1.1 0 1.2 .1 1 0 .8 .1 1.2 .1 1 0 1.1 .1 1.3 .1 .6 0 .7 .1 1.5 0 .6 .1 1.1 .1 0 .4 .7 .4 2.4 .5 2.3 .4 -.4 .4 1.4 .5 -.6 .4 .4 .4 1.4 .4 -.5 .4 -2.7 .4 -.4 .4 -.9 .4 -1.3 .4 .7 .4 -3.6 .3 -1.5 .4 -.9 .4 3.6 .4 -1.3 .4 -1 .4 -2.5 .4 -2.5 .6 .9 1 -3.5 .9 -.6 1 -1.3 .9 1 .9 .7 1 2.2 .8 -3.5 .9 1.8 .8 -3.1 .9 -1.7 .9 -.8 .8 1.8 .9 1.5 .9 .9 .9 -.1 1 -2.3 1 .6 .9 1.5 1 -2 1 -1.6 .9 -.7 1 5.9 1 -6.2 .9 -1.1 1 4.8 1 -5.5 1 1.9 .9 .1 1 -.2 1 1.7 .6 -.9 .6 .1 .5 -.9 .6 -3.5 .6 -1.6 .6 -1.2 .5 -1.8 .5 2.2 .4 1.1 .3 .9 .4 -2.1 .3 3.3 .4 0 .4 2.5 .3 -.1 .4 .4 .4 4 .3 .7 .5 -.9 .5 -2.3 .5 -.5 .5 -1.6 .5 .5 .5 -4 .6 1.1 .5 1.4 .5 -1.2 .5 -2.5 .5 -1.5 .5 .1 .4 .8 .3 1 .3 .7 .2 .5 .3 1.3 .3 .2 .3 1 .3 1.8 .3 -.6 .3 .7 .3 .8 .2 .9 .3 3.2 .3 -.3 .3 1.4 .8 2 .8 -.2 .8 -.7 .7 4.9 .8 .9 .8 -.3 .8 -3.8 .8 1.8 .8 1.3 .7 .6 .8 1.6 .8 -4.4 .9 .7 .8 5.5 .8 1.1 .8 -2.8 .8 -1.4 .8 3.1 .8 1.9 .8 .9 .8 2.5 .9 -2.2 .9 -1.1 .9 2.4 .9 -1.3 .9 0 .9 4.6 .9 -4 .9 2.1 .9 .2 1 1.9 1 -1.5 .9 -1.3 1 -2.2 1 .2 .9 3.6 1 -3.1 1 3.6 .9 1.2 1 -.5 .9 -3.7 1 -5.9 .9 .9 1 5.3 .5 -2 .3 1.1 .2 -.3 .2 2.3 .3 2.5 .2 .7 .3 .4 .2 1.5 .3 -.4 .2 2 .3 .8 .5 -1.2 .6 -.7 .5 .1 .6 .7 .5 -3.5 .6 1.1 .6 -2.7 .5 .2 .6 .2 .5 -6 .6 1.4 .5 2.2 .6 -4.2 .5 -6.6 .6 6.9 .6 -1.4 .6 -3.5 .6 1.9 .6 -2.1 .6 -3.4 .6 8.8 .6 -4.9 .6 -8 .6 3.7 .6 -2 .2 -1.6 .2 1.8 .2 -1.4 .3 -.6 .2 -1.1 .2 -.2 .2 -4.3 .3 .8 .2 .4 .2 -3 .2 .6 .3 -2.4 .2 -.1 .2 -.3 .2 -2.5 .3 -1.1 .2 -.4 .2 1 .2 -3.6 .3 2.1 .2 -2.1 .2 -2 .2 -2.3 .3 0 .2 .5 .2 -1.6 .2 -1.5 .1 0 .2 -1.4 .1 -1.4 .1 -.2 .1 -2 .2 -.1 .1 -2.2 .1 -.3 .1 -1.2 .2 -.4 .1 -1.1 .1 -1.5 .1 -1 .2 -1.2 .1 -.9 .1 -.6 .1 -1.2 .1 -1.2 .2 -.8 .1 -1.9 .1 -.3 .1 -.6 .2 -1.1 .1 -.4 .1 -1.3 0 -1.3 .1 -.9 0 -.9 .1 -1.2 0 -.7 .1 -1.1 0 -.9 .1 -1.3 0 -.7 .1 -.8 0 -1.6 .1 -1 .1 -.4 0 -.9 .1 -1.9 0 -.7 .1 -.9 0 -1 .1 -1 0 -.9 .1 -.8 0 -1.4 .1 -1.2 0 -.7 .1 -.9 0 -.9 .1 -1.1 0 -1.2 .1 -.9 0 -1.1 .1 -1 0 -.6 .1 -1.1 0 -1 .1 -1.1 0 -1.2 .1 -.6 0 -1.3 .1 -.8 0 -1.7 .1 -.7 0 -1.1 .1 -.5 0 -1 .1 -1 .1 -.9 0 -1.2 .1 -.9 0 -1.1 .1 -.9 0 1.4 .1 1.1 .1 1 .1 .9 .1 .7 .1 1.5 .1 1.3 0 .3 .1 .9 .1 1.7 .1 1.2 .1 .3 .1 1.4 0 .4 .1 1.4 .1 .5 .1 1.3 .1 .9 .1 1.1 0 .9 .1 .9 .1 1 .1 1.1 .1 .9 .1 1.3 0 1.3 .1 .2 .1 1.6 .1 .8 .1 1.4 .1 1.3 .1 -.2 0 2.2 .1 .8 .1 .3 .1 1.6 .1 .6 .1 1.1 0 .9 .1 1.3 .1 1.5 .1 .5 .1 .8 .1 .8 0 1.1 .1 .4 .1 1.6 .1 1.8 .1 .5 .1 .8 0 .7 .1 1.1 .1 .9 .1 .8 .1 1.9 .1 .7 .1 .4 0 1.3 .1 1.3 .1 -.4 .1 2.4 .1 1 .1 .7 0 .8 .1 .9 .1 .9 .1 1.4 .1 .9 .1 1.1 0 1.3 .1 .4 .1 1.2 .1 1 .1 1.1 .1 .9 0 .7 .1 .9 .1 1.5 .1 1.5 .1 .7 .1 1.1 .1 1.4 .1 .1 .1 .7 .1 1.2 .1 1.2 .1 1 .1 1.1 .1 1.1 .1 .7 .1 1.1 .1 .7 .1 1.7 .1 0 .1 1 .1 1.6 .1 .9 .1 .9 .1 .6 .1 1.9 .1 .7 .1 1.2 .1 .6 .1 1.4 .1 .6 .1 1.2 .1 1.2 .1 .9 .1 1.6 0 1.2 .1 .2 .3 .2 .4 -.7 .4 3.8 .4 .6 .3 -1.9 .4 1.1 .4 3.2 .4 -.2 .3 .6 .4 1.7 .4 3.6 .4 -.4 .3 -2.5 .8 5.4 1 -3.6 1 -1.2 1 2.4 1 -.3 1 -2 .9 1.8 .9 1.6 .8 3.5 .8 -2.6 .8 .1 .9 -.2 .8 -2 .8 4 .7 .9 .8 -3.6 .7 .2 .7 .2 .7 2.4 .7 -2.5 .7 -2.4 .7 -.1 .7 -.3 .6 1.8 .6 -2.2 .6 -.5 .6 6.4 .6 -3.4 .6 2.6 .6 1.6 .6 -3.1 .6 2.7 .6 4.3 .6 -1.7 .6 .2 .6 2.4 .6 .1 .6 3.9 .6 -1.6 .6 2.4 .6 -3.4 .6 3.4 .6 .9 .9 1 1 -2 .9 -.8 1 .8 .9 .9 1 -1.8 .9 1.8 1 3.3 1 -4 .9 -.5 1 .6 .9 3.3 .9 -.5 .5 -2.8 .5 -1.9 .5 1.3 .5 -2.4 .5 1.6 .6 -5 .5 -1.8 .5 -1.2 .5 1.1 .5 -1.6 .5 -1.6 .5 2.8 .5 -3.6 .4 -2.5 .5 2.7 .4 -3.3 .5 -.3 .4 .8 .5 -1.2 .4 -1.5 .5 -1.4 .4 .8 .5 -3.5 .4 1.2 .5 -2.3 .4 1.7 .3 -3.8 .4 -1.8 .4 .8 .4 -2.5 .4 -.9 .4 -1.3 .4 -.4 .4 .4 .4 -2.9 .4 2.3 .4 -1.8 .4 -1.1 .3 -1.3 .4 .7 .4 -2.7 .3 -1.2 .4 .9 .3 -3.3 .3 -.4 .3 1.8 .4 -2.5 .3 -2.3 .3 .7 .3 .9 .4 -2.5 .3 -2 .3 .7 .3 -2.8 .4 -2.2 .3 .7 .3 -1.2 .3 -.2 .4 -1.7 .3 -.8 .3 -2.4 .3 -.4 .3 .3 .2 -1.5 .3 -.2 .3 -1.5 .3 -2.9 .3 1.8 .3 -1.7 .3 -1 .3 -2.8 .3 -1.2 .3 1.6 .2 -2.7 .3 1.3 .3 -1.8 .3 -1.2 .3 .3 .3 -.1 .3 -3 .3 -.8 .2 -1.3 .2 -1.3 .2 -.5 .2 -.2 .2 -2.4 .2 -1.4 .3 -.1 .2 -.1 .2 -2.5 .2 -.4 .2 -2 .2 .1 .2 -.7 .2 -1.1 .2 -1.2" stroke="#1ee61e" stroke-width="4.2" fill="none" stroke-linejoin="round" stroke-linecap="round"/>
<path d="M900.9 768.1l1 4.6 1 -.4 1 -.8 1 -4.7 1 3.4 1 3.1 1 -2.2 1 1.3 1 -4.6 1 1.9 1 -1.2 1 4.4 1 -2.6 1 -1.6 1 1.6 1 2.6 1 -2.2 1 .3 1 -.8 1.1 .3 1 .1 1 2.6 1 -3.2 1 3.7 1 -7.2 1 5.8 1 -2.7 1 2.6 1 -.5 1 -3.2 1 3.9 1 -2.7 1 .3 1 3.1 1 -1.8 1 -.7 1 -2.4 1 -2.5 1 8.8 .9 -.2 1 -1.9 1 1.4 1 -4.1 1 5.2 1 .2 .9 -5.8 1 5.4 .9 -.3 .8 -2.7 .8 -1.8 .8 .8 .9 -.4 .8 -5.1 .8 6.5 .8 -1.2 .8 .3 .9 -5.6 .8 5.8 .8 -7.5 .8 -.4 .8 .7 .8 1.5 .8 -6.1 .8 8.2 .9 -2.4 .9 -5.3 .9 1.4 1 -1.4 .9 -.4 .9 .6 1 1.8 .9 -3.3 .9 -.2 .9 2 1 -2.4 .9 -1 .8 .4 .9 2.3 .8 -5.7 .9 -.6 .9 2.2 .8 .2 .9 -1.8 .8 5.8 .9 -7.4 .9 3 .8 -1.4 .9 -4.4 .8 1.8 .9 .9 .9 -2.5 .8 .5 .9 -6.4 .9 6.5 .8 -2.1 .9 1.1 .8 -1.3 .9 -.2 .9 2 .7 -3.4 .6 1.5 .6 -4.7 .7 -1 .6 .3 .7 -3.4 .6 1.4 .6 .5 .7 -6.1 .6 6.5 .7 -1.9 .6 .9 .6 -5.3 .7 -1.6 .6 3.8 .7 -2.5 .5 -4 .5 2.4 .5 -2.8 .5 1.2 .5 -2.5 .5 -2.6 .5 1.7 .6 -2.1 .5 .1 .5 -3.2 .5 4.6 .5 -6 .6 3.1 .6 -2.2 .6 -5.1 .6 4.7 .6 -6.4 .6 7.2 .6 -6.6 .6 4.2 .6 -5.2 .6 1.2 .6 -.9 .6 -5.2 .7 2.9 .6 -3.1 .6 3.3 .7 -2.5 .6 .2 .6 0 .6 -3.5 .7 -.2 .6 .3 .6 -3.1 .6 1.6 .8 .4 .8 -.3 .8 -5.8 .8 2.9 .7 -.3 .8 -2.5 .8 1.3 .8 -1.4 .8 2 .8 -2.4 .7 -1.1 .8 .2 .8 -3.3 .9 1.7 .9 -4.7 1 5.4 .9 -2.9 .9 .7 1 -2.4 .9 2.7 .9 -2.2 1 -3.5 .9 1.1 1 2.6 .8 1.5 .9 -6.2 .9 3.7 .9 -.9 .9 -3.1 .8 3.8 .8 1 .8 -1.6 .8 1.2 .8 -1.2 .8 -1.3 .8 7.3 .8 -5.7 .8 4.3 .7 .4 .6 2.2 .7 -.6 .6 -.7 .6 2.5 .7 -.5 .6 2.7 .6 -1.2 .6 .2 .7 3.6 .6 -.9 .6 4.1 .7 -3.2 .6 -2.4 .8 2 .8 6.6 .8 -6.4 .7 -1.4 .8 5.3 .8 -.7 .8 1.5 .8 -1.2 .7 2.8 .8 1.4 .8 1 .8 -5.2 .8 7.7 .8 -.9 .7 1.1 .8 -.5 .8 4.9 .8 -6.1 .7 .1 .8 8.1 .8 -2.3 .8 .1 .7 -3.6 .8 7.5 .8 -1.1 .8 1 .7 -.6 .8 3.5 .8 -6.9 .8 7.9 .8 -2.8 .8 5.2 .8 -1.6 .8 -1.9 .8 2.3 .8 0 .8 1 .7 -6 .8 3.9 1 2.1 .9 -.3 1 1.3 1 .4 .9 -2.5 1 3.6 .9 -.5 1.1 .7 1 -5.3 1 0 1 1 1 -.3 1 -.5 1 .5 1 3.1 1 -2.3 1 -.4 1 -2.1 1 2.6 1 0 1 2 1 -4.4 1 6.5 .9 -4.9 .9 -2.4 .8 -.1 .9 -.8 .8 -2.5 .9 3.3 .9 .6 .8 -2.2 .9 2.9 .9 -5.4 .8 -3.9 .9 2.1 .8 2.6 .8 .8 .7 -6.2 .8 4.9 .8 -2 .8 -2.7 .7 -.1 .8 -3.2 .8 5.9 .8 -3.8 .7 1.3 .8 -3.1 .8 -1.9 .9 2.3 1 .7 1 -2.3 .9 -1.8 1 .2 1 -1 1 1.1 1 .1 .9 -.5 1 3.3 1 -.7 1 -3 1 1.5 1.1 2.5 1 -2.5 1 -.3 .9 2.9 .7 -4.8 .7 5.8 .7 -.1 .8 .3 .7 2.7 .7 .3 .7 -1 .7 2.3 .7 -1.6 .8 -2 .7 2.8 .6 .3 .5 4.4 .6 -2 .5 3.2 .6 0 .5 0 .6 -2.8 .5 7.7 .6 -.2 .5 .8 .6 .7 .5 -2.5 .6 -1.3 .6 3.6 .5 2.5 .8 2.5 .8 -2.3 .8 3.5 .8 -2.8 .8 .2 .8 -.8 .8 5 .8 -2.6 .8 -2.8 .8 5.4 .9 1.5 1 -.1 1 -2.7 1 -.3 .9 1.5 1 3.7 1 -2.6 1 .6 .6 2 .5 -5 .4 -.6 .5 -.3 .4 -.8 .5 -.9 .4 .2 .5 -.6 .4 -2.1 .5 -.5 .4 -3.1 .5 1.1 .4 -2.5 .5 2.8 .5 -3.8 .5 -2.4 .5 4.5 .5 -5.4 .5 -2.3 .5 .5 .5 -.3 .5 .6 .5 -1.9 .5 -.5 .5 -.9 .5 .9 .5 -3.9 .5 0 .5 .5 .4 4.2 .4 -6 .3 -2.6 .3 -1.6 .3 1.4 .3 -3.1 .3 -.8 .3 -.6 .2 .3 .3 -2.2 .3 .7 .3 -1.6 .3 -.7 .3 -2.9 .3 .3 .2 .9 .3 -1.3 .3 -1.9 .3 -.2 .3 -3.5 .3 1.3 .3 -3.6 .3 1.5 .3 -.4 .3 -5.4 .3 3.2 .3 -2 .4 1.1 .3 -4.7 .3 -.2 .3 .9 .3 -2 .3 .6 .4 -2.8 .3 -1.1 .3 1.3 .3 -4.2 .3 2.3 .3 -1.1 .4 -2.5 .3 -.7 .3 -.4 .2 .1 .2 -2 .2 -1.5 .2 -.9 .2 -1.8 .2 -1.4 .2 -.1 .1 -2.5 .2 1.8 .2 -1.7 .2 -1.4 .2 -1.1 .2 -1.9 .2 0 .2 -2.2 .2 1.7 .2 -3.1 .2 -.2 .2 -.4 .2 -1.6 .2 -1.3 .2 -.4 .2 -1.8 .2 .2 .2 -.3 .2 -.9 .2 -1.3 .2 -2.4 .2 -.3 .2 -1.8 .1 -.3" stroke="#e21818" stroke-width="4.2" fill="none" stroke-linejoin="round" stroke-linecap="round"/>
<path d="M935 555.8l.1 0 0 .5 0 1 0 1 0 1 0 1 0 1 0 1 0 1 0 1 0 1 0 1 .1 1 0 1 0 1 0 1 0 1 0 1 0 1 0 1 0 1 0 1 0 1 .1 1 0 1 0 1 0 1 0 1 0 1 0 1 0 1 0 1 0 1 0 1 .1 1 0 1 0 1 0 1 0 1 0 1 0 1 0 1 0 1 0 1 0 1 0 1 .1 1 0 1 0 1 0 1 0 1 0 1 0 1 0 1 0 1 0 1 0 1 .1 1 0 1.1 0 1 0 1 0 1 0 1 0 1 0 1 0 1 0 1 0 1 0 1 .1 1 0 1 0 1 0 1 0 1 0 1 0 1 0 1 0 1 0 1 0 1 .1 1 0 1 0 1 0 1 0 1 0 1 0 1 0 1 0 1 0 1 0 1 .1 1 0 1 0 1 0 1 0 1 0 1 0 1 0 1 0 1 0 1 0 1 0 1 .1 1 0 1 0 1 0 1 0 1 0 1 0 1 0 1 0 1 0 1.1 0 1 .1 .9 0 1 0 1.1 0 1 0 .9 0 1 0 1.1 .1 1 0 1 0 1 0 1 0 1 0 1 .1 1 0 1 0 1 0 1 0 1 0 1 0 1 .1 1 0 1 0 1 0 1 0 1 0 1 .1 1 0 1 0 1 0 1 0 1 0 1 0 1 .1 1 0 1 0 1 0 1 0 1 0 1 0 1 .1 1 0 1 0 1 0 1 0 1 0 1 .1 1 0 1 0 1 0 1 0 1 0 1 0 1 .1 1 0 1 0 1.1 0 1 0 .9 0 1.1 0 1 .1 1 0 1 0 .9 0 1.1 0 1 0 1 .1 1 0 1 0 1 0 1 0 1 0 1 0 1 .1 1 0 1 0 1 0 1 0 1 0 1 .1 1 0 1 0 1 0 1 0 1 0 1 0 1 .1 1 0 1 0 1 0 1 0 1 0 1 0 1 .1 1 0 1 0 1 0 1 0 1 0 1 .1 1 0 1 0 1.1 0 .9 0 1 0 1 0 1 .1 1 0 1 0 1 0 1.1 0 .9 0 1 0 1 .1 1.1 0 1 0 1 0 1 0 1 0 1 .1 1 0 1 0 1 0 .9 0 1 .2 .8 .4 1.1 .3 .9 .3 .9 .3 1 .3 .6 .4 .9 .3 1.2 .3 1.4 .3 .8 .3 .7 .4 .7 .9 -.1 1 .8 1 .2 1 -.2 1 -.3 1 .3 1 .3 .6 -1.3 .4 -.7 .4 -.7 .4 -1.4 .4 -.5 .4 -1 .4 -1.3 .4 -.6 .4 -.6 .4 -1.1 .4 -.9 .5 -.8 .3 -.9 .2 -1 .3 -1.1 .2 -.9 .3 -1.2 .2 -1.2 .2 -1 .3 -.6 .2 -.9 .3 -1 .2 -1.1 .3 -1.3 .2 -1 .3 -.7 .2 -1 .3 -1.1 .2 -.7 .2 -1.2 .3 -1.4 .2 -.8 .3 -.7 .2 -.8 .1 -1.1 .2 -.8 .1 -1 .1 -1.2 .2 -1 .1 -.8 .1 -.9 .2 -1 .1 -1 .2 -1 .1 -1 .1 -1.1 .2 -1 .1 -1 .2 -1.1 .1 -1 .1 -.9 .2 -1 .1 -1.1 .2 -.9 .1 -.8 .1 -1 .2 -1.2 .1 -1 .1 -1 .2 -1 .1 -.9 .2 -.9 .1 -1.1 .2 -1.2 .1 -.9 .1 -.9 .2 -1.1 .1 -.9 .2 -.8 .1 -1.2 .2 -1.1 .1 -.8 .2 -1 .1 -1.1 .2 -1.1 .1 -1 .2 -.9 .1 -1 .1 -.9 .2 -.9 .1 -1 .2 -1 .1 -1.1 .2 -1 .1 -.8 .2 -1.1 .1 -1.1 .2 -.7 .1 -1.1 .1 -1.2 .2 -.6 .6 -.5 .7 -1 .7 -.7 .7 -1.1 .7 -1.1 .7 -.4 .9 .5 .9 .4 .9 .7 .9 .9 .6 .9 .3 .7 .2 .7 .2 1.1 .3 1 .2 .9 .3 1.1 .2 .9 .3 .9 .2 .8 .2 1.1 .3 1 .2 .9 .2 -.8 .3 -.9 .2 -1.1 .2 -1.1 .2 -.7 .2 -1.2 .2 -1.2 .2 -.8 .2 -1 .2 -.8 .2 -1 .2 -1.1 .2 -1 .3 -.9 .3 -1.1 .5 -1.4 .6 -.6 .5 -.4 .6 -.6 .5 -.1 .6 -1 .5 -1.4 .1 .8 .1 1.1 .1 1.1 .1 1.1 .2 .8 .1 1 .1 1.1 .1 1 .1 1.1 .1 .8 .1 .8 .2 1 .1 1.1 .1 1.1 .1 1 .1 1 .1 .9 .1 1.1 .2 .9 .1 1 .1 1 .1 1.1 .1 1.1 .1 1 .1 .9 .2 .9 .1 1 .1 1 .1 1 .2 1 .1 1 .1 .9 .2 1.1 .1 1.1 .1 .9 .1 1 .2 1 .1 1 .1 1 .2 1 .1 1 .1 1 .2 .6 .8 -.5 .9 .1 .8 -.9 .5 -.9 .2 -1 .1 -1 .1 -1 .2 -.9 .1 -.7 .2 -1 .1 -1.2 .1 -.8 .2 -1.2 .1 -1 .1 -.9 .2 -1.2 .1 -.9 .1 -.8 .2 -1.1 .1 -1 .1 -.9 .2 -1.1 .1 -1.1 .1 -1 .2 -.9 .1 -1.1 .2 -.7 .2 -1.2 .2 -1.3 .2 -.9 .2 -1 .2 -1 .2 -.6 .2 -.7 .2 -1.2 .2 -1.1 .3 .1 .3 .9 .3 1 .2 1.3 .3 .9 .3 .6 .3 .6 .3 .9 .3 1.3 .3 1.3 .2 .7 .1 .9 .1 1 0 1.1 .1 1 .1 1 0 1 .1 1 0 1 .1 1 .1 1.1 0 .9 .1 .9 0 1 .1 1.1 0 .9 .1 1 .1 1.1 0 1 .1 1 0 1 .1 .9 0 1 .1 1 .1 1.1 0 1 .1 .9 0 1 .1 1 0 1 .1 1.1 .1 1 0 1 .1 1 0 1 .1 1 0 1 .1 .9 .1 1 0 1.1 .1 .9 0 1.1 .1 1 0 1 .1 .9 0 1.1 .1 1 0 .9 .1 1.1 0 1 .1 1 0 .9 .1 1 0 1.1 .1 1 0 .9 .1 1.1 0 1 .1 1.1 0 .9 .1 1 0 1 .1 1 0 1 .1 1 0 1 .1 1 0 .9 .1 1 0 1 .1 .9 0 1 .1 1.2 0 1 .5 -.3 1 -.2 .9 -.1 .9 -.3 .9 -.1 1 -.9 .6 1 .6 1 .7 0 .6 1.1 .6 1 .7 .3 .6 .5 .6 1.1 .7 .7 .7 .9 .6 .8 .7 -.1 .6 1.1 .7 2 .7 .7 .6 -1 .7 1.4 .6 2.2 .7 -.2 1 .3 .9 .7 1 .2 .9 -.2 .9 .1 1 1.3 .9 .6 .9 0 1 .5 .9 .8 1 -.2 1 -1 1 .4 1 .8 1 -.1 1 -.4 1 0 1 -.3 1 -.9 1 .6 1 1.7 1 -.3 1 -2.1 1 -2.2 1 0 1 2.6 1 .3 1 -.8 1 .8 1 .8 1 0 .9 -.6 .2 -.7 .2 -1 .2 -.8 .2 -.9 .2 -1 .2 -1.1 .1 .8 .2 1.1 .2 .9 .2 .9 .2 1.1 .2 1.3 .8 .3 1 -1.1 1 -.2 1 .6 1 -.3 1 -.3 1 .3 1 .2 1 0 1 .2 1 .3 1 .6 1 -.6 1 -.3 1 -.9 1 -1.6 1 .9 1 2.5 1 .2 1 -1.2 1 .1 1 .5 1 -1.4 1 -.8 1 1.8 1 .7 1 -.4 1 -.1 .9 -.2 .8 -.7 .8 0 .8 -1 .8 -1.5 .8 .2 .8 -.6 .8 -1.2 .8 -.7 .8 -.5 .9 -.4 1 0 1 .1 1 -.3 1 -.2 .9 -.3 1 .6 1 .3 1 -1 1 -.6 .9 -.2 .8 -.8 .8 -.8 .8 -.2 .8 -1.2 .8 -.6 .8 -.2 .8 -.5 .8 -.2 .8 -.8 .8 -.9 .6 -1.2 .5 -.8 .5 -.5 .5 -.6 .5 -.5 .5 -.8 .5 -1.4 .5 -1.5 .6 -.4 .5 -.7 .5 -1.2 .5 -.5 .3 -.7 .4 -1 .3 -1 .4 -1 .3 -1 .3 -.6 .4 -1.6 .3 -1 .4 -.2 .3 -.8 .4 -1 .3 -1.3 .4 -1.1 .3 -.8 .3 -.8 .1 -1.2 .1 -1.1 0 -1 .1 -1 .1 -1 .1 -1.1 0 -1 .1 -.9 .1 -.8 .1 -1.1 .1 -1 0 -1.1 .1 -1 .1 -.9 .1 -1.1 0 -1 .1 -1 .1 -1 .1 -.9 .1 -.9 0 -1.1 .1 -1 .1 -1 .1 -.9 .1 -1.1 0 -1.1 .1 -1 .1 -.9 .1 -.9 0 -1.1 .1 -1.1 .1 -.9 .1 -1 .1 -1 0 -1 .1 -1 .1 -1 .1 -1.1 0 -1 .1 -.9 .1 -.9 0 -1 .1 -1 .1 -1.1 0 -1 .1 -1 0 -1 .1 -1 .1 -1 0 -.9 .1 -1.1 .1 -1 0 -1 .1 -1 .1 -1 0 -1 .1 -1 0 -.9 .1 -1 .1 -1.1 0 -1 .1 -1 .1 -1 0 -1 .1 -.9 0 -1.1 .1 -1 .1 -1 0 -1 .1 -1 .1 -.9 0 -1 .1 -1.1 .1 -1 0 -.9 .1 -1.1 0 -1 .1 -1.1 .1 -.9 .1 -1 .2 -1 .2 -.8 .3 -1.3 .2 -1.1 .2 -.7 .2 -.6 .2 1 .1 .9 .2 1.1 .1 1 .2 1.1 .1 1 .2 .8 .1 1.1 .2 1 .1 1 .2 .9 .1 .8 .2 1.1 .1 1.1 .2 .9 .1 1 .2 1 .1 .9 .1 1.1 .2 .9 .1 1 .1 1.2 0 1 .1 1 .1 1 0 .9 .1 1.1 0 .9 .1 1 .1 1.1 0 .9 .1 1 .1 1.1 0 .9 .1 1 .1 1 0 1 .1 1 .1 1 0 1 .1 1 0 .9 .1 1 .1 1 0 1.1 .1 1 .1 1 0 1 .1 .9 .1 .9 0 1.1 .1 1.1 .1 1 0 1 .1 1 0 1.1 .1 1 .1 .9 0 1 .1 1 .1 1 0 1 .1 1 .1 1 0 1.1 .1 .9 .1 1 0 1 .1 1 0 1 .1 1 .1 1 0 1 .1 .9 0 1.1 0 1 .1 1 0 1 .1 1 0 1 .1 1 0 1 .1 1 0 1 .1 1 0 1 .1 1 0 .9 0 1.1 .1 1 0 1 .1 1 0 1.1 .1 1 0 1 .1 1 0 1 .1 .9 0 1 0 1.1 .1 1 0 1 .1 .9 0 1 .1 1 0 1 .1 1 0 1.1 .1 1 0 1 .1 .9 0 1 .1 .9 .1 1.2 .1 .9 .2 .9 .1 1 .1 1.2 .1 1 .2 1 .1 1 .1 1 .1 .9 .1 .9 .2 1 .1 1.1 .1 .9 .1 .9 .1 1.3 .5 1.3 1 -.4 1 0 1 -.3 1 0 1 .4 1 -.7 1 0 1 0 1 -.2 1 .9 1 .1 1 -.5 1 .3 1 .1 1 -1 1 -.1 1 .4 1 -.2 1 0 1 .4 1 -.1 1.1 -.4 1 0 1 .1 1 .3 1 0 1 .1 1 .1 1 .2 1 .1 1 .1 1 -.6 1 -1 1 .7 1 .8 1 .3 1 -.5 1 .1 1 .5 1 .2 1 -3.9 1 -4 1 3.5 1 3.2 1 -.7 1 -1.8 1 -1 1 1.7 1 1.5 1 -2.6 1 -3.3 1 3.2 1 3.7 1 -2.8 1 -3.9 1 -.2 1 3.8 1 2.8 1 -.5 1 .1 1 .1 1 -.6 1 0 1 -1.5 1 -2.7 1 1.2 1 3.3 1 .7 1 -5.3 1 .4 1 5.3 1 -3.5 1 -.8 1 3.2 1 -.2 1 .5 1 -1.2 1.1 -2.9 1 2 1 2.9 1 .1" stroke="#1010d2" stroke-width="4.0" fill="none" stroke-linejoin="round" stroke-linecap="round"/>
<path d="M207.9 13.2H288.4" stroke="#080808" stroke-width="3.4"/>
<path d="M207.9 45.8H288.4" stroke="#1ee61e" stroke-width="3.4"/>
<path d="M207.9 79.6H288.4" stroke="#e21818" stroke-width="3.4"/>
<path d="M207.9 112.1H288.4" stroke="#1010d2" stroke-width="3.4"/>
<text x="298.59" y="24.90" font-size="30.20" fill="#1e1e1e" >exp</text>
<text x="298.62" y="56.70" font-size="29.50" fill="#1e1e1e" >calc</text>
<text x="298.56" y="92.00" font-size="29.80" fill="#1e1e1e" >pos</text>
<text x="298.55" y="120.30" font-size="29.97" fill="#1e1e1e" >neg</text>
<text x="373.5" y="99.2" font-size="33" fill="#1e1e1e">1 month</text>
<text x="651.76" y="56.60" font-size="32.75" fill="#1e1e1e" >2 months</text>
<text x="1014.78" y="56.60" font-size="32.92" fill="#1e1e1e" >3 months</text>
<text x="241.94" y="313.40" font-size="33.05" fill="#1e1e1e" >4 months</text>
<text x="627.29" y="313.40" font-size="32.77" fill="#1e1e1e" >5 months</text>
<text x="1019.15" y="313.40" font-size="32.95" fill="#1e1e1e" >6 months</text>
<text x="193.36" y="598.10" font-size="32.85" fill="#1e1e1e" >7 months</text>
<text x="577.32" y="604.30" font-size="32.96" fill="#1e1e1e" >8 months</text>
<text x="971.12" y="598.10" font-size="32.81" fill="#1e1e1e" >9 months</text>
<text x="455.30" y="51.22" font-size="33.27" fill="#1e1e1e" >(a)</text>
<text x="832.10" y="51.22" font-size="33.27" fill="#1e1e1e" >(b)</text>
<text x="1226.42" y="51.04" font-size="33.01" fill="#1e1e1e" >(c)</text>
<text x="455.42" y="318.82" font-size="33.00" fill="#1e1e1e" >(d)</text>
<text x="836.63" y="319.79" font-size="32.82" fill="#1e1e1e" >(e)</text>
<text x="1230.40" y="320.14" font-size="33.29" fill="#1e1e1e" >(f)</text>
<text x="455.06" y="595.65" font-size="34.00" fill="#1e1e1e" >(g)</text>
<text x="835.13" y="596.69" font-size="32.82" fill="#1e1e1e" >(h)</text>
<text x="1225.08" y="598.65" font-size="33.73" fill="#1e1e1e" >(i)</text>
<text x="120.0" y="40.6" font-size="32.8" fill="#1e1e1e" text-anchor="end">0.1</text>
<text x="120.0" y="160.6" font-size="32.8" fill="#1e1e1e" text-anchor="end">0.05</text>
<text x="120.0" y="284.0" font-size="32.8" fill="#1e1e1e" text-anchor="end">0</text>
<text x="122.8" y="312.3" font-size="32.8" fill="#1e1e1e" text-anchor="end">0.1</text>
<text x="122.8" y="434.0" font-size="32.8" fill="#1e1e1e" text-anchor="end">0.05</text>
<text x="122.8" y="556.6" font-size="32.8" fill="#1e1e1e" text-anchor="end">0</text>
<text x="120.2" y="584.7" font-size="32.8" fill="#1e1e1e" text-anchor="end">0.1</text>
<text x="120.2" y="713.4" font-size="32.8" fill="#1e1e1e" text-anchor="end">0.05</text>
<text x="120.2" y="828.0" font-size="32.8" fill="#1e1e1e" text-anchor="end">0</text>
<text x="119.96" y="853.50" font-size="33.00" fill="#1e1e1e" >0</text>
<text x="213.21" y="853.50" font-size="33.00" fill="#1e1e1e" >4</text>
<text x="307.26" y="853.50" font-size="33.00" fill="#1e1e1e" >8</text>
<text x="390.97" y="853.50" font-size="33.00" fill="#1e1e1e" >12</text>
<text x="504.76" y="853.60" font-size="33.00" fill="#1e1e1e" >0</text>
<text x="597.01" y="853.60" font-size="33.00" fill="#1e1e1e" >4</text>
<text x="691.76" y="853.60" font-size="33.00" fill="#1e1e1e" >8</text>
<text x="776.77" y="853.60" font-size="33.00" fill="#1e1e1e" >12</text>
<text x="891.16" y="855.20" font-size="33.00" fill="#1e1e1e" >0</text>
<text x="984.31" y="855.20" font-size="33.00" fill="#1e1e1e" >4</text>
<text x="1078.56" y="855.20" font-size="33.00" fill="#1e1e1e" >8</text>
<text x="1163.17" y="855.20" font-size="33.00" fill="#1e1e1e" >12</text>
<text x="213.87" y="895.60" font-size="32.51" fill="#1e1e1e" >Capacity (Ah)</text>
<text x="599.88" y="895.80" font-size="32.33" fill="#1e1e1e" >Capacity (Ah)</text>
<text x="986.28" y="897.50" font-size="32.43" fill="#1e1e1e" >Capacity (Ah)</text>
<g transform="translate(36.40,245.80) rotate(-90)" fill="#1e1e1e"><text x="-1.28" y="0" font-size="32.1">dV/dQ (V Ah</text><text x="176.90" y="-18.3" font-size="20.0">-</text><text x="187.70" y="-18.3" font-size="20.0">1</text><text x="201.84" y="0" font-size="32.1">)</text></g>
<g transform="translate(38.20,518.20) rotate(-90)" fill="#1e1e1e"><text x="-1.28" y="0" font-size="32.1">dV/dQ (V Ah</text><text x="176.90" y="-18.3" font-size="20.0">-</text><text x="187.70" y="-18.3" font-size="20.0">1</text><text x="201.84" y="0" font-size="32.1">)</text></g>
<g transform="translate(36.50,791.00) rotate(-90)" fill="#1e1e1e"><text x="-1.28" y="0" font-size="32.1">dV/dQ (V Ah</text><text x="176.90" y="-18.3" font-size="20.0">-</text><text x="187.70" y="-18.3" font-size="20.0">1</text><text x="201.84" y="0" font-size="32.1">)</text></g></svg></body></html>
